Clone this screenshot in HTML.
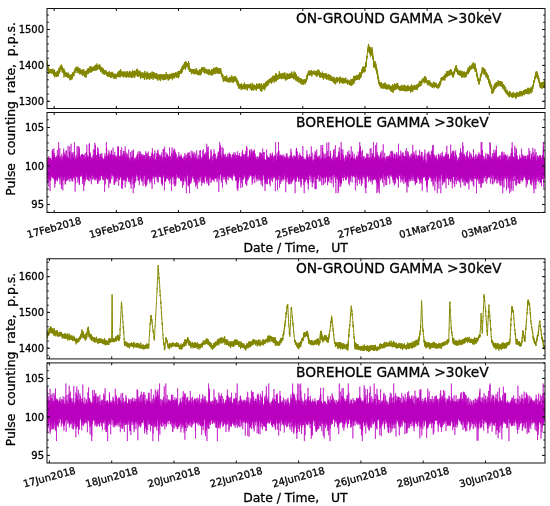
<!DOCTYPE html>
<html><head><meta charset="utf-8"><title>Pulse counting rate</title>
<style>html,body{margin:0;padding:0;background:#fff;}body{width:550px;height:506px;overflow:hidden;}svg{display:block;}text{white-space:pre;}</style>
</head><body>
<svg width="550" height="506" viewBox="0 0 550 506" font-family="'DejaVu Sans', 'Liberation Sans', sans-serif"><style>text{stroke:#000;stroke-width:.3px;fill:#000}</style><rect width="550" height="506" fill="#fff"/><clipPath id="c1"><rect x="47.0" y="8.5" width="498.0" height="100.0"/></clipPath><clipPath id="c2"><rect x="47.0" y="112.5" width="498.0" height="100.0"/></clipPath><clipPath id="c3"><rect x="47.0" y="258.75" width="498.0" height="100.14999999999998"/></clipPath><clipPath id="c4"><rect x="47.0" y="362.9" width="498.0" height="100.10000000000002"/></clipPath><g clip-path="url(#c1)"><path transform="translate(47.0 0) scale(0.0622578 .1)" d="M0 622l1 7 1-3 1-18 1 29 1-3 1-5 1 22 1 4 1 6 1 3 1 15 1-13 1 16 1 2 1 21 1-8 1-4 1-7 1 10 1 5 1-3 1 25 1-4 1-54 1 13 1 26 1-2 1 10 1 1 1 27 1-45 1 10 1 34 1-19 1 0 1-16 1-16 1 26 1-1 1-19 1 8 1 9 1-12 1 12 1 3 1-1 1-8 1 17 1 4 1-8 1-17 1 23 1-18 1 21 1-29 1 30 1-14 1-18 1 14 1 6 1 3 1-19 1-1 1 19 1-9 1 10 1 8 1-36 1 29 1 15 1-23 1-8 1 24 1-7 1 10 1-19 1-17 1 21 1-5 1 19 1-9 1-28 1 7 1 32 1-3 1-20 1 10 1 7 1 1 1 6 1-9 1-5 1-2 1 21 1-51 1 33 1 3 1-22 1 28 1-15 1 24 1-15 1 13 1 9 1-13 1-19 1-9 1 51 1-28 1-9 1 13 1-4 1 16 1-12 1 0 1-10 1 18 1-22 1 26 1 13 1-45 1-14 1 47 1 29 1-52 1-3 1 27 1-20 1 5 1 3 1 13 1-13 1 11 1-7 1-9 1 8 1-9 1 15 1-16 1 1 1 37 1-21 1 0 1 9 1-13 1 3 1 10 1-2 1-20 1 29 1-20 1-6 1 2 1 7 1 28 1-41 1 18 1-33 1 29 1 12 1-17 1-6 1 11 1 6 1-1 1 18 1-26 1-12 1 6 1 0 1 1 1-2 1 2 1-27 1 34 1-20 1-10 1 25 1 9 1-12 1-6 1-16 1 51 1-27 1-29 1 4 1 11 1-24 1 24 1-10 1 23 1-4 1-53 1 37 1-25 1 37 1-15 1 4 1-25 1 40 1 2 1-47 1 19 1-17 1 8 1-20 1 45 1-44 1 8 1 11 1-19 1 4 1-6 1 5 1-18 1 10 1 2 1-4 1 4 1-7 1 15 1-19 1 2 1-8 1 3 1-10 1 30 1-25 1 7 1 19 1 2 1-11 1-25 1 41 1-1 1-26 1 37 1-23 1-6 1 22 1-3 1 7 1-29 1 59 1-39 1-15 1 38 1-15 1 13 1-10 1 6 1 7 1-16 1 26 1-19 1-5 1 17 1 8 1-10 1-10 1 27 1-40 1 14 1 20 1-23 1 25 1-1 1 17 1-31 1 6 1 17 1-48 1 90 1-58 1 0 1 27 1-15 1-28 1 41 1 4 1-21 1 3 1 13 1-22 1 22 1-3 1-14 1-11 1 20 1-10 1 30 1-13 1 11 1-10 1 2 1-15 1 23 1 17 1-31 1-4 1 7 1-4 1-3 1 13 1-6 1 26 1-21 1 6 1 9 1-17 1 25 1-29 1-2 1 7 1 4 1-18 1 20 1-23 1 44 1-21 1-7 1-4 1 8 1 3 1-11 1 2 1 11 1-5 1 22 1 3 1-16 1 7 1-25 1 28 1-9 1 8 1 17 1-56 1 37 1-19 1 25 1-28 1 13 1 10 1 7 1-8 1-12 1 4 1 21 1-12 1-25 1 38 1-6 1 7 1-17 1 17 1-27 1 24 1-15 1 18 1 5 1-26 1 11 1 2 1 17 1-6 1-29 1 26 1 4 1 22 1-57 1 17 1 29 1-40 1 3 1 26 1 8 1-25 1 18 1-6 1 22 1-23 1 16 1-28 1 11 1 2 1 19 1-9 1-22 1 21 1 1 1-15 1-3 1 0 1-23 1 27 1 0 1-17 1 23 1-33 1 12 1 0 1 36 1-54 1 31 1 4 1-9 1 11 1-33 1-19 1 43 1-29 1 12 1-14 1 32 1-4 1-24 1 23 1-12 1-5 1 2 1-5 1 11 1-5 1-10 1 18 1-24 1 11 1 0 1 13 1-30 1 30 1-24 1-7 1-9 1 16 1-10 1-18 1-3 1 7 1-4 1 24 1 2 1-9 1-10 1-13 1 5 1 11 1 16 1-20 1-20 1 3 1-10 1-6 1 7 1 4 1 23 1-29 1 21 1 6 1-25 1 24 1-14 1-16 1 10 1-3 1-3 1 1 1 5 1 5 1-19 1 13 1-22 1 27 1 6 1-7 1 3 1 5 1-19 1 7 1 12 1 7 1-8 1 32 1-39 1 17 1 4 1-20 1-10 1-5 1 20 1 15 1-12 1-1 1-8 1 14 1-38 1 34 1-2 1-20 1 51 1-50 1 5 1-2 1 34 1-28 1 22 1-1 1-4 1-22 1 11 1 32 1-41 1 7 1 10 1 14 1-8 1 8 1-26 1 29 1-5 1-30 1 45 1 12 1-44 1 12 1 20 1-42 1-7 1 11 1 11 1 0 1 18 1-5 1-22 1 28 1 19 1-9 1-3 1-14 1 15 1-29 1 26 1-12 1 19 1-10 1-23 1 19 1 17 1-35 1 9 1-3 1-11 1 38 1 6 1-8 1-8 1-4 1 5 1-14 1 25 1 3 1-2 1-22 1 10 1-3 1 30 1-24 1-32 1 36 1 24 1-19 1 4 1-13 1-31 1 3 1 9 1 18 1 7 1 7 1-16 1 21 1-20 1-6 1 25 1-28 1-28 1 26 1 18 1-44 1 37 1 1 1-17 1-1 1 16 1-1 1 29 1-14 1-31 1 12 1 25 1 19 1-24 1-1 1 24 1-29 1-5 1-17 1 14 1 43 1-57 1 23 1-22 1 24 1 13 1-18 1 15 1 0 1-4 1 20 1-14 1-18 1-6 1-3 1 20 1-13 1 47 1-14 1-33 1-2 1 30 1-56 1 22 1 21 1-29 1 6 1 1 1 15 1-8 1 3 1 2 1-9 1 16 1-28 1-12 1-5 1 1 1 16 1 23 1-13 1-12 1-8 1 8 1 1 1-3 1-14 1 14 1 22 1-48 1 28 1-28 1 33 1-14 1-20 1 31 1 25 1-26 1 15 1-19 1-31 1 38 1-13 1-16 1 32 1-8 1-12 1 19 1-25 1 21 1-23 1 20 1-24 1 37 1-18 1 16 1-32 1 5 1 18 1-50 1 23 1 29 1-8 1 7 1-18 1 12 1-19 1-9 1-5 1 16 1 0 1-1 1-30 1 10 1 21 1 11 1-13 1-4 1-20 1 61 1-45 1 39 1-1 1-19 1-12 1 10 1-19 1 20 1-4 1 7 1 6 1 11 1-30 1 20 1-26 1-2 1 4 1-6 1 28 1-1 1 5 1-19 1 4 1-12 1-8 1 22 1-3 1-19 1 23 1-33 1 22 1-7 1 2 1-8 1 28 1-5 1 8 1-15 1-21 1 13 1-12 1 23 1 11 1-13 1-14 1 3 1 8 1-24 1 23 1 0 1-11 1 2 1 8 1-14 1-1 1 23 1-8 1 21 1-39 1-12 1 39 1 0 1-25 1-11 1 21 1-26 1 21 1-28 1 29 1-29 1 28 1 26 1-27 1 15 1-21 1-4 1-9 1 37 1-16 1 25 1-43 1 14 1 5 1 19 1 6 1-37 1-8 1-10 1 47 1-22 1-9 1 9 1-39 1 13 1 40 1-8 1-4 1-18 1 24 1 18 1-47 1 19 1-7 1 12 1-6 1-2 1-12 1 13 1-9 1 7 1 1 1 11 1-20 1 4 1 21 1-20 1-1 1 17 1-9 1-2 1 2 1-22 1 27 1 14 1-12 1-32 1 29 1-18 1 11 1 5 1-19 1 39 1-21 1 13 1-2 1 11 1-2 1-39 1 23 1-32 1 25 1 18 1 3 1 6 1-24 1 11 1-3 1 17 1 5 1-28 1 46 1-40 1-4 1 14 1 3 1-3 1-17 1 31 1-20 1 22 1-1 1-37 1 5 1 0 1 19 1-2 1 4 1-15 1 19 1 14 1-38 1 17 1 7 1-4 1 0 1 28 1-6 1-5 1-22 1 43 1-26 1-12 1 4 1-1 1 38 1-27 1-1 1-31 1 42 1-24 1-1 1 26 1-20 1 25 1 4 1-40 1 24 1-19 1 22 1 14 1-32 1 45 1-29 1-12 1 15 1 13 1-30 1 20 1-19 1 36 1-14 1-8 1 21 1-32 1 13 1 31 1-27 1 21 1-16 1-12 1 7 1 5 1-7 1-5 1 1 1-9 1 22 1 4 1 5 1-34 1 35 1-10 1-19 1 21 1 10 1-4 1 3 1 3 1 0 1-12 1-26 1 18 1 14 1-10 1 15 1 2 1-9 1 24 1-37 1 25 1-17 1-4 1 18 1-15 1 19 1-25 1 15 1-10 1 8 1-2 1-9 1 23 1-24 1 4 1 23 1 1 1-3 1-4 1 24 1-43 1 6 1-3 1 24 1-7 1 10 1-1 1-15 1-7 1-2 1 40 1-15 1-5 1-11 1 2 1-2 1 1 1-26 1 29 1-4 1 9 1-1 1 9 1-11 1 10 1-41 1 18 1 36 1-37 1 12 1 12 1-19 1 20 1-27 1-5 1 7 1-4 1 21 1-4 1 9 1-17 1 45 1-33 1 1 1 6 1-8 1-5 1 9 1 11 1-3 1 4 1-19 1-2 1 35 1-28 1 9 1 3 1 9 1-35 1 11 1 1 1 2 1-27 1 30 1-34 1 39 1 4 1 1 1-24 1 29 1-24 1-5 1 4 1 2 1 14 1 9 1-40 1 21 1 20 1-9 1 4 1-27 1 34 1-35 1 25 1 16 1 8 1-19 1 5 1-21 1 2 1 24 1-16 1-2 1-18 1 22 1 8 1-21 1 4 1 31 1-20 1-7 1-12 1 7 1 6 1 24 1-29 1 36 1-41 1 9 1 18 1-16 1-9 1 11 1 9 1-33 1 22 1 2 1-5 1 17 1-20 1 3 1 5 1 11 1-15 1 26 1-38 1 34 1-34 1 11 1 8 1 25 1-18 1-20 1 25 1-23 1-9 1 18 1-6 1 13 1-23 1 14 1 3 1-6 1-5 1-10 1 24 1-12 1 5 1-13 1 5 1-17 1 17 1 10 1-10 1 11 1-9 1 16 1-24 1-23 1 32 1-10 1-13 1 25 1-6 1 2 1-12 1 7 1 1 1 23 1-38 1 10 1 5 1-33 1 2 1 58 1-62 1 37 1-23 1 1 1-20 1 17 1 26 1-34 1 31 1-5 1 26 1-39 1 27 1-7 1-19 1-22 1 50 1-46 1 14 1 21 1 3 1-31 1 13 1-3 1 22 1 21 1-68 1 44 1-57 1 43 1-18 1 49 1-29 1-14 1 4 1-1 1 12 1-5 1 13 1 13 1-13 1-29 1-6 1 13 1 28 1-21 1-5 1 12 1-23 1 4 1 25 1-12 1-2 1 12 1-14 1-1 1 3 1 17 1-9 1-18 1 13 1 15 1 18 1-45 1 22 1-9 1 17 1-6 1 16 1-14 1-16 1 0 1 14 1 0 1 30 1-11 1-42 1 23 1-25 1-4 1 35 1-3 1-23 1 39 1-38 1-2 1 26 1-6 1-5 1 1 1 4 1-5 1 0 1-25 1 8 1 28 1-18 1 18 1 10 1-23 1 9 1 26 1-20 1 17 1-5 1-11 1-12 1-10 1-4 1 23 1 0 1-9 1 14 1-20 1 24 1-15 1-1 1 1 1-2 1 37 1-58 1 26 1 15 1-8 1-14 1 29 1-40 1-3 1 27 1-29 1-13 1 46 1-1 1-1 1-17 1 10 1-16 1 38 1-13 1-1 1-38 1 39 1 10 1-4 1-6 1-11 1-5 1 14 1-3 1-2 1-8 1 28 1-40 1 16 1-7 1 23 1 5 1-2 1-7 1-31 1 50 1-22 1-9 1 2 1-5 1 11 1-2 1-9 1-31 1 36 1 7 1 1 1-10 1 9 1 8 1-21 1 28 1-49 1 10 1 5 1-22 1 21 1 32 1 0 1-16 1 23 1-21 1-11 1 10 1-5 1 12 1-32 1 36 1-22 1 19 1-35 1 16 1 7 1 12 1-31 1 42 1-17 1-15 1 25 1-16 1 15 1 17 1-23 1-19 1 1 1 15 1-5 1-17 1 3 1 19 1 25 1-74 1 50 1-14 1 14 1 1 1-12 1-16 1-6 1-8 1 47 1-22 1-5 1 4 1-17 1 25 1 16 1-3 1-42 1 45 1-33 1-18 1 10 1 4 1 15 1-16 1-8 1 19 1 34 1-41 1 18 1-6 1 40 1-71 1 47 1-38 1 11 1 7 1 44 1-55 1-18 1 51 1-34 1 9 1 3 1 2 1-4 1 6 1 2 1 8 1-21 1-6 1-5 1 27 1-11 1 10 1-1 1 19 1-24 1 8 1-32 1 2 1 12 1-15 1 32 1-34 1 23 1-42 1 22 1 13 1 1 1-26 1 32 1 15 1-6 1-21 1 1 1-10 1 31 1 14 1-33 1-19 1 32 1 8 1-57 1 48 1 35 1-23 1-4 1-2 1 11 1-34 1 2 1 22 1-19 1 16 1-36 1 45 1 2 1-13 1 2 1 25 1-46 1 3 1-3 1 12 1-10 1 18 1-11 1-14 1-2 1 48 1-22 1-2 1 4 1-1 1 14 1-3 1-19 1-4 1-5 1-2 1 46 1-40 1-19 1 21 1 1 1 19 1-21 1 25 1-2 1 16 1 16 1 9 1-23 1-44 1 13 1 12 1 32 1-24 1 10 1-24 1 13 1 3 1-21 1 22 1 6 1-22 1 21 1 11 1-27 1-1 1-6 1-5 1 14 1-10 1 2 1-8 1-14 1 11 1 22 1-26 1 9 1 41 1-9 1-32 1 23 1-22 1 40 1-39 1 12 1 23 1-39 1 38 1-37 1 18 1-9 1 4 1 4 1-4 1-16 1 33 1-3 1 10 1 2 1-47 1 45 1 0 1-31 1 27 1 8 1-35 1-14 1 18 1 52 1-42 1-25 1 17 1-13 1 11 1 8 1-45 1 50 1 17 1-27 1-3 1 25 1-39 1 0 1-2 1 21 1 9 1-8 1 11 1 4 1-5 1-22 1 10 1 25 1-38 1 13 1-3 1 4 1-14 1-5 1 65 1-27 1-27 1 11 1 12 1-16 1 15 1-20 1 5 1 4 1-6 1-32 1 40 1 4 1 4 1-24 1 22 1-2 1-32 1-7 1 43 1-23 1 32 1 18 1-43 1-2 1 11 1 11 1-29 1 38 1-4 1-5 1-19 1 23 1-1 1-33 1 53 1-38 1 10 1-14 1 14 1 13 1-32 1-13 1 19 1-14 1 9 1 10 1 1 1 22 1-37 1 22 1-14 1 30 1 19 1-36 1 22 1-36 1-17 1 5 1-5 1 10 1 12 1 22 1-7 1-4 1-15 1-4 1 12 1 2 1 2 1 1 1-8 1-30 1 14 1 5 1 41 1-35 1 18 1 13 1-18 1-13 1 2 1-12 1 22 1 14 1-10 1 4 1-1 1 21 1-44 1 13 1 10 1 9 1-62 1 32 1 5 1-14 1 32 1-11 1-10 1-21 1 5 1 6 1 24 1-29 1-14 1 10 1 15 1 39 1 14 1-51 1 24 1 8 1-2 1-24 1-20 1 14 1-24 1 36 1 9 1-46 1 32 1 6 1 16 1 3 1-10 1-26 1 5 1 28 1-32 1 10 1 28 1-25 1-26 1 19 1 16 1-14 1 24 1 2 1-34 1 3 1 7 1-19 1 28 1-10 1 17 1-23 1-5 1 47 1-47 1 5 1-2 1 8 1-11 1 15 1-11 1 5 1 14 1 6 1-4 1-20 1 19 1-9 1 1 1-28 1 41 1-13 1 31 1-18 1-29 1-5 1 43 1-34 1 27 1-17 1 41 1-34 1 24 1-3 1-30 1 3 1 30 1-24 1-15 1 35 1 23 1-43 1 24 1-26 1 25 1-26 1 26 1-12 1-12 1 7 1-13 1-9 1 1 1 17 1-16 1 24 1 2 1-1 1-15 1 9 1-1 1 22 1-35 1 7 1 3 1 2 1-10 1 2 1 27 1-27 1 26 1 18 1-12 1-50 1 42 1-5 1 1 1-34 1 38 1-29 1 38 1-3 1 23 1-46 1-18 1 41 1-3 1-20 1 28 1-11 1-31 1 15 1-2 1 5 1 5 1-14 1 8 1 12 1-10 1-3 1-1 1 3 1-29 1 33 1-19 1 18 1-25 1 38 1-11 1-25 1 25 1-16 1 41 1-21 1-21 1 16 1-4 1 20 1-14 1 3 1-26 1 30 1 21 1-23 1-11 1 3 1-18 1 18 1-20 1 18 1-7 1-7 1 22 1-33 1 23 1-20 1 50 1 2 1-18 1 17 1-21 1-1 1-16 1-7 1 16 1-11 1 2 1 19 1-14 1-23 1 21 1-9 1 8 1-13 1 37 1 11 1-49 1 29 1-1 1-27 1 19 1 21 1-10 1 13 1-45 1 7 1 16 1 1 1-5 1-7 1 0 1-4 1 17 1-51 1 70 1-35 1-14 1 31 1-31 1 29 1-13 1 16 1 3 1 8 1-29 1 3 1 5 1-23 1 32 1-7 1-24 1 41 1 3 1-44 1 31 1 10 1-6 1-30 1-6 1 20 1-6 1 8 1-2 1 10 1-17 1 6 1 45 1-45 1 14 1-7 1-1 1-18 1 23 1-10 1 14 1 20 1-30 1 9 1-29 1 18 1 23 1-25 1-10 1 14 1-7 1-1 1-2 1 38 1-46 1 7 1-2 1 29 1-25 1 26 1-19 1-3 1-23 1 43 1-11 1-2 1-9 1-5 1-13 1 35 1-11 1-10 1-4 1 12 1-4 1 28 1-14 1-22 1-8 1 14 1-11 1 15 1 6 1 3 1-3 1-10 1 13 1-24 1 13 1 14 1-9 1-25 1 2 1-7 1 54 1-53 1 22 1 32 1-13 1 4 1-29 1 20 1 30 1-43 1 8 1-12 1 5 1 6 1 16 1-37 1-8 1 23 1 3 1 19 1-11 1-22 1 19 1 9 1-13 1-10 1 15 1-16 1-24 1 50 1-41 1 14 1 1 1-1 1 1 1-19 1 31 1-8 1 0 1 16 1 0 1 4 1 8 1-23 1-31 1 27 1-3 1 0 1-10 1-5 1 26 1 3 1-33 1 26 1-12 1-3 1 16 1-12 1-8 1 10 1-33 1 22 1 2 1-15 1 25 1 1 1-14 1 6 1 14 1 5 1-29 1 18 1 10 1-17 1-12 1 0 1 7 1-11 1 48 1-42 1 15 1-3 1 7 1-16 1-15 1 46 1-27 1 3 1 1 1 16 1-8 1 7 1-6 1-11 1 1 1-16 1-19 1 27 1-13 1 57 1-16 1-7 1-27 1 41 1-60 1 8 1 7 1-3 1 17 1 0 1 27 1-14 1 3 1-13 1-9 1-9 1-13 1 10 1 7 1 17 1-39 1 4 1 24 1-21 1 20 1-12 1-7 1-10 1 19 1-11 1 1 1-2 1 12 1-2 1-29 1 22 1 8 1 9 1-5 1-10 1-22 1 5 1 25 1-26 1 26 1 2 1-36 1 22 1-10 1 31 1-19 1-21 1 13 1-21 1 11 1 4 1-2 1 1 1-19 1-15 1 21 1-9 1 2 1 41 1-15 1-21 1-19 1 1 1 23 1 9 1-21 1 6 1 0 1 11 1-44 1 29 1 2 1 7 1-9 1-22 1 6 1-14 1 23 1-1 1 4 1-22 1-4 1 37 1-20 1 21 1-19 1-28 1 32 1 6 1-25 1-22 1 37 1-12 1 6 1-45 1 47 1-48 1 27 1 26 1-42 1-1 1 21 1 32 1-1 1-35 1 25 1-7 1-5 1 1 1-18 1 24 1 4 1 26 1-29 1-56 1 20 1 25 1-5 1-33 1 29 1-5 1 5 1-2 1 18 1 9 1-14 1-32 1 4 1 4 1 11 1-6 1 1 1-10 1 33 1-1 1 2 1-18 1 10 1-24 1-2 1 9 1 20 1-13 1-17 1 22 1 6 1-5 1-14 1 13 1-8 1 2 1 4 1 15 1 19 1-4 1-16 1-18 1 1 1 3 1 27 1-66 1 54 1-37 1 36 1 24 1-36 1-21 1 62 1 5 1-15 1 14 1-31 1 33 1 10 1-15 1-3 1 17 1-1 1-26 1 33 1-7 1-7 1 18 1-3 1-1 1-16 1 21 1-26 1 15 1-21 1 0 1 30 1-8 1 3 1 7 1-3 1-18 1 14 1-2 1-6 1 6 1-4 1-4 1 5 1 8 1 27 1-42 1 20 1-29 1 44 1-27 1 7 1 16 1-4 1-36 1 30 1-11 1 12 1-6 1 8 1-6 1-6 1 19 1-40 1 17 1-8 1 12 1-4 1 4 1-5 1 1 1-18 1 25 1 5 1-14 1 0 1 0 1 35 1-22 1 3 1-10 1-3 1-6 1 37 1-49 1 30 1-5 1-3 1-20 1 5 1 34 1-25 1 24 1-3 1-1 1 3 1-31 1 12 1 18 1-30 1 45 1-34 1 8 1-15 1 22 1-18 1 8 1-14 1 37 1-44 1 33 1-4 1 4 1-23 1 33 1-1 1-13 1 3 1-8 1 13 1-23 1 22 1-2 1-29 1-19 1 40 1 0 1 22 1-19 1-8 1-14 1 20 1-7 1-8 1 15 1 19 1-15 1-18 1 22 1-22 1-8 1 33 1-16 1 26 1-12 1-18 1 17 1 17 1-23 1-14 1 6 1-2 1-5 1-2 1 27 1 11 1-23 1 18 1 3 1 12 1-29 1-3 1 12 1-4 1 3 1 16 1-27 1 10 1-19 1 13 1-8 1-1 1 9 1-4 1 14 1 7 1-37 1 40 1-51 1 39 1 8 1-21 1 6 1-8 1 26 1-56 1 27 1-15 1 34 1 18 1-2 1-8 1-7 1-18 1 30 1-11 1-25 1-8 1 9 1 24 1 1 1 4 1-38 1 5 1 25 1-19 1 6 1-33 1 13 1 4 1-7 1-2 1-20 1 47 1-24 1-25 1 36 1-16 1 7 1-14 1-10 1-1 1 14 1 6 1-3 1 2 1 9 1-13 1 11 1 2 1-11 1-5 1-4 1-10 1-5 1 41 1-18 1-7 1 30 1-8 1-12 1 14 1-16 1 8 1 21 1-10 1-18 1 14 1 7 1-18 1-3 1 32 1-29 1-14 1 21 1 30 1-22 1 5 1-43 1 23 1 25 1-22 1 25 1-11 1-1 1 19 1-30 1 1 1 8 1 2 1-26 1 41 1-13 1-5 1 11 1-14 1 23 1-16 1 9 1-22 1 9 1 9 1-18 1 4 1 9 1 16 1-4 1 2 1-8 1 8 1 10 1-19 1 4 1 2 1-36 1 27 1 7 1 5 1-15 1 19 1-23 1 7 1 26 1-42 1 18 1-1 1 1 1-6 1 17 1-24 1-3 1 25 1-23 1 22 1-4 1-10 1 5 1 4 1 7 1-14 1 6 1-17 1 16 1-23 1 27 1-6 1 36 1-11 1-20 1 16 1-9 1-20 1-18 1 50 1-10 1-33 1 37 1 4 1-22 1 21 1-36 1 22 1 4 1 10 1-5 1-2 1 5 1-17 1 30 1-25 1 16 1-11 1-3 1 12 1-2 1 13 1-5 1-23 1 15 1-7 1-13 1-5 1 20 1-12 1-13 1 18 1 5 1-2 1-20 1 9 1 29 1-33 1 6 1 40 1-30 1-14 1-23 1 35 1-27 1 21 1-13 1-14 1 53 1-29 1 17 1-4 1-24 1 13 1-8 1 22 1-9 1-14 1 33 1-19 1-1 1-21 1 19 1-32 1 33 1-25 1 19 1-8 1 8 1 2 1-8 1 0 1-25 1-8 1 55 1-12 1-37 1 60 1-47 1 21 1-2 1-6 1 9 1-36 1 24 1-5 1 6 1-7 1-7 1-2 1 30 1-33 1 22 1 0 1-9 1 9 1 2 1-20 1 16 1 30 1-58 1 14 1-9 1 54 1-66 1 28 1 18 1-34 1 14 1-11 1-12 1 25 1 11 1-17 1 11 1 10 1 10 1-46 1 35 1-22 1-24 1 21 1 27 1-6 1-26 1 50 1-22 1-8 1-9 1 18 1-14 1 28 1-15 1 6 1-17 1-21 1 37 1-28 1 17 1 2 1-14 1 30 1-41 1 52 1-36 1 27 1 6 1-37 1 2 1 30 1-13 1-2 1-32 1 3 1 38 1 15 1-36 1-2 1 18 1 4 1 2 1-16 1-25 1 57 1-32 1 29 1-54 1 40 1-14 1-10 1 34 1 6 1-31 1 20 1-27 1 7 1 7 1-2 1 16 1-29 1 35 1 0 1-18 1-15 1-18 1 38 1-9 1 15 1-16 1 18 1 1 1 3 1 6 1 1 1 12 1-25 1 25 1-7 1-7 1-7 1 39 1-17 1-9 1 10 1 1 1-6 1-11 1 25 1-3 1 0 1 20 1-32 1 7 1 18 1 12 1-2 1 4 1-41 1 41 1 0 1 6 1-18 1 19 1 9 1 10 1-18 1-21 1 19 1 9 1-2 1 19 1-29 1-12 1 6 1 18 1-21 1-3 1 3 1 29 1-14 1-8 1 17 1-3 1-23 1 25 1-8 1-32 1 12 1 20 1 3 1-10 1-10 1 17 1-29 1 33 1-9 1 1 1-8 1 20 1-44 1 21 1 20 1-18 1 30 1-14 1-17 1 26 1-16 1 9 1-17 1 1 1 18 1-9 1-12 1-1 1 21 1 16 1-37 1 22 1-49 1 20 1 29 1 12 1-21 1 7 1-4 1 10 1-29 1 24 1-15 1 1 1 5 1-3 1-8 1 8 1-10 1 34 1-11 1-16 1 28 1-4 1-11 1-14 1 11 1 4 1 12 1-22 1-6 1 40 1-12 1-16 1-17 1 20 1 9 1-6 1 1 1-11 1 16 1-25 1 3 1-1 1-2 1 36 1-51 1 27 1-17 1-4 1 19 1-24 1 21 1 33 1-34 1 8 1-18 1 19 1-28 1 23 1-4 1 32 1-32 1-4 1-3 1-9 1 28 1 9 1-25 1 15 1-15 1 10 1 1 1-27 1 10 1 24 1-40 1 27 1-5 1-9 1 14 1 4 1 3 1-45 1 61 1-31 1 22 1-17 1-6 1 7 1 39 1-16 1-27 1 8 1 12 1-7 1-7 1-4 1-13 1 26 1 5 1 16 1-40 1 17 1-10 1 19 1-20 1-7 1-15 1 34 1-8 1 14 1-24 1 44 1-47 1 18 1-2 1 10 1-18 1-11 1-1 1 26 1-10 1 3 1-17 1 14 1 1 1 5 1-29 1 10 1 35 1-30 1 4 1-4 1-16 1 6 1 21 1-15 1 38 1-50 1-6 1 22 1-12 1 37 1-26 1 13 1-27 1 29 1 0 1 8 1-14 1 4 1-5 1 12 1-18 1 16 1-14 1 20 1-12 1-4 1 2 1 31 1-40 1 3 1 31 1-21 1 9 1 2 1 39 1-38 1 1 1 6 1 11 1 5 1-24 1 27 1 21 1-47 1 33 1 4 1-6 1-3 1-26 1 48 1-18 1 3 1 20 1-43 1 30 1 10 1 4 1 0 1 20 1-20 1 10 1-1 1-26 1 9 1 35 1-29 1 2 1-15 1 12 1-12 1 8 1 15 1-17 1 2 1 25 1-11 1 1 1 6 1-20 1 2 1-22 1 36 1-12 1 3 1-14 1 22 1 0 1-6 1-23 1 10 1 11 1-11 1 16 1 8 1-23 1 8 1-7 1 23 1-2 1 24 1-36 1-13 1 19 1-9 1 6 1 14 1-21 1 14 1-40 1 45 1-13 1-5 1-4 1 27 1-27 1 25 1-25 1 8 1 4 1 24 1-25 1 0 1-5 1-3 1-5 1 36 1-5 1-32 1 13 1-20 1 31 1-4 1-8 1-14 1 24 1-3 1-11 1 13 1-31 1 11 1-5 1 16 1 24 1-25 1 17 1-18 1-6 1 22 1-7 1 13 1-7 1-27 1-28 1 42 1-20 1-4 1-1 1 13 1 7 1 3 1 33 1-52 1 19 1-20 1 4 1 17 1 6 1-27 1 39 1-34 1 31 1-17 1 16 1-6 1-13 1 12 1-29 1 1 1 15 1 27 1-33 1 2 1 36 1-26 1 0 1-17 1 18 1 8 1-10 1 13 1-7 1 11 1-3 1-15 1 16 1 14 1-23 1-24 1 22 1-6 1 43 1-28 1-29 1 14 1 26 1-40 1 10 1 7 1-2 1-7 1 11 1-23 1 13 1-1 1 5 1 0 1 5 1-6 1-1 1 12 1 8 1 1 1-32 1 21 1 8 1-15 1 11 1-10 1 9 1-29 1 30 1-14 1-4 1 7 1 19 1-1 1-10 1 9 1-19 1-12 1-9 1 27 1-2 1 3 1 0 1 17 1-31 1 2 1 39 1-16 1-16 1-25 1 17 1 7 1 4 1 4 1-6 1 20 1-33 1 13 1-6 1 21 1-9 1 9 1-10 1 38 1-29 1-21 1 11 1-6 1 17 1 3 1-9 1-7 1-7 1 32 1-7 1-54 1 39 1-13 1 7 1 29 1-40 1 1 1 50 1-41 1 3 1 20 1-24 1 8 1 3 1 16 1-42 1 11 1 10 1 14 1-22 1 16 1-14 1 2 1 24 1-22 1 42 1-33 1 10 1-5 1-33 1 1 1 28 1-22 1 8 1 3 1-8 1 29 1-5 1-9 1 5 1-20 1 25 1-25 1 35 1-32 1 2 1 24 1-7 1-23 1 22 1-9 1 1 1 8 1 0 1 6 1-8 1-2 1-6 1 23 1-33 1 39 1 3 1 0 1-32 1 31 1-13 1-1 1 23 1-36 1 6 1-26 1-14 1 36 1 2 1 4 1-6 1-33 1 34 1 11 1 6 1-36 1 1 1 3 1 1 1-14 1 13 1 32 1-37 1-12 1 23 1-4 1 17 1-20 1 8 1-9 1-2 1 19 1-3 1-3 1 9 1-19 1 12 1 3 1 14 1-45 1 23 1 12 1-15 1 10 1 8 1-3 1-32 1 8 1-22 1 49 1-6 1 17 1-19 1-18 1 33 1-35 1 20 1-3 1 14 1 3 1-20 1-5 1 11 1-8 1 23 1-9 1 16 1 18 1-52 1 4 1 16 1-1 1-11 1-21 1 65 1-37 1-19 1-19 1 58 1-16 1-5 1-16 1 15 1-4 1-33 1 80 1-34 1-12 1-10 1 6 1 47 1-31 1-27 1 35 1-6 1 0 1-10 1-1 1 7 1-7 1-19 1 7 1 16 1-26 1 24 1-3 1 17 1-9 1-7 1-1 1 11 1 8 1-33 1-8 1 12 1-25 1 24 1 25 1 1 1 8 1-23 1 1 1-13 1 1 1 12 1 9 1-8 1-39 1 39 1-8 1-10 1 11 1 11 1-13 1-14 1 53 1-52 1 16 1 12 1-34 1 22 1-22 1 8 1-8 1 38 1-49 1 29 1-8 1-32 1 56 1-35 1 4 1 6 1-17 1 1 1 11 1-13 1 14 1 17 1-35 1-9 1 21 1 7 1 4 1-27 1-19 1 47 1-3 1 11 1-37 1 22 1 6 1-42 1 42 1 4 1-13 1-1 1 3 1-16 1-17 1 7 1 10 1-10 1 26 1-21 1 4 1-25 1 31 1-17 1 31 1-46 1 28 1-10 1 0 1 29 1-11 1-27 1 32 1-30 1 20 1-37 1 20 1 0 1-1 1-19 1-5 1 27 1 8 1-8 1-6 1-18 1 18 1-5 1-3 1 13 1-1 1 3 1-10 1-9 1 9 1-3 1-20 1 19 1-20 1-5 1 16 1 2 1 20 1-16 1 12 1 13 1-20 1 3 1-16 1 22 1-12 1 0 1-19 1 3 1 3 1 11 1 15 1-40 1 17 1 0 1 39 1-38 1-6 1 19 1-29 1 25 1-35 1 57 1-33 1-6 1-14 1 17 1 3 1-13 1 29 1-24 1 6 1 3 1 16 1-28 1 7 1 3 1 4 1-39 1 47 1-21 1-10 1 11 1-31 1 18 1 15 1 19 1-23 1 7 1-11 1 18 1-21 1 14 1-13 1-11 1 0 1 5 1 29 1 25 1-48 1-9 1 21 1-1 1-17 1 39 1-17 1 1 1-15 1 1 1 14 1-39 1 9 1 15 1-26 1 51 1-38 1 3 1 12 1 19 1-26 1-12 1-3 1 19 1-14 1 49 1-19 1-66 1 29 1 22 1 32 1-73 1 26 1 28 1-32 1 12 1-10 1 20 1-30 1 18 1-25 1 41 1-7 1-11 1 1 1 0 1-7 1 8 1 4 1-8 1-9 1 2 1-1 1 16 1-6 1 31 1-37 1 4 1-12 1 12 1-10 1-7 1 17 1 25 1-43 1 3 1 11 1 4 1 18 1-34 1 9 1-12 1-2 1 7 1-12 1 27 1 11 1-28 1-4 1 36 1-28 1 30 1-74 1 44 1-15 1 8 1 24 1 5 1-22 1 20 1-37 1 25 1-7 1-28 1 46 1-27 1 19 1-21 1 17 1 8 1-11 1-8 1 19 1-7 1-11 1 8 1-2 1-4 1 21 1 15 1-39 1 7 1-14 1-7 1 43 1-31 1 17 1-29 1 13 1 19 1 0 1-4 1 3 1-3 1 13 1 12 1-19 1-11 1-16 1 10 1 2 1 30 1-50 1 13 1-4 1 32 1-26 1-19 1-4 1 40 1-33 1 46 1 0 1-37 1 13 1 6 1-25 1 5 1 10 1 10 1 5 1-36 1 35 1-5 1-3 1-3 1 25 1 9 1-33 1 4 1-23 1 20 1 18 1-13 1 7 1-7 1 3 1 10 1 2 1-44 1 28 1-40 1 44 1-9 1-1 1 35 1-19 1 12 1-8 1 18 1-31 1 0 1 2 1 41 1-46 1 8 1 21 1-7 1-22 1 35 1-20 1 15 1-14 1 3 1-24 1 34 1-34 1 12 1 16 1-23 1 7 1-1 1 2 1 6 1-33 1 15 1 41 1-64 1 21 1 23 1-42 1 15 1 1 1 38 1-39 1 23 1-20 1 10 1-18 1-6 1 16 1-15 1 19 1 5 1 4 1 18 1-2 1-40 1 5 1 39 1-28 1-5 1 23 1-27 1 24 1-20 1 26 1-23 1 15 1 4 1 8 1-38 1 6 1-17 1-5 1 20 1 10 1 17 1-26 1 37 1-28 1 11 1-19 1-16 1 46 1-31 1 23 1-24 1 15 1-12 1-3 1 3 1 13 1-31 1 4 1 31 1-27 1 14 1-25 1 18 1 22 1-17 1 2 1-9 1 8 1-31 1 2 1 34 1-36 1 51 1-8 1-33 1-17 1-4 1 45 1-6 1 24 1-15 1 18 1-11 1-30 1 13 1-11 1 8 1-3 1 5 1 27 1-32 1-11 1 9 1 3 1-2 1 7 1-4 1 26 1-3 1-29 1 30 1 8 1-24 1-15 1 22 1-9 1 8 1-24 1 54 1-39 1 12 1-19 1 13 1-43 1 18 1-21 1 61 1-42 1-3 1 48 1-29 1 6 1 22 1-10 1-3 1 7 1-46 1 58 1 1 1 10 1-69 1 23 1 5 1 40 1-19 1 21 1-22 1-18 1-11 1 13 1 34 1-37 1-16 1 36 1 19 1 18 1-19 1-4 1-46 1 24 1 1 1 9 1-17 1 29 1 8 1-19 1-6 1 9 1 3 1 8 1-27 1 38 1-22 1-3 1 14 1-21 1 25 1 21 1-27 1-3 1-10 1 32 1-6 1-40 1 39 1-25 1-7 1 17 1-8 1 28 1-36 1 0 1 5 1 13 1 12 1-25 1 6 1-12 1 21 1-12 1 48 1-3 1-42 1 17 1 4 1-13 1 3 1 15 1-12 1 0 1 4 1 19 1-21 1 10 1-2 1 7 1-12 1-4 1-2 1 13 1-1 1-5 1 7 1 30 1-22 1-36 1 44 1-16 1-16 1 34 1-20 1 16 1-23 1 24 1-18 1 17 1-2 1-27 1 22 1 2 1-7 1-24 1 29 1-8 1 21 1-31 1 29 1-12 1 34 1-49 1 28 1-20 1-6 1 28 1-6 1 6 1-35 1 6 1 24 1-19 1 30 1 5 1-24 1 2 1 0 1-3 1 3 1-2 1 9 1-10 1-2 1 3 1-3 1 7 1 8 1 19 1-49 1 3 1 17 1 1 1-2 1 25 1-50 1 22 1-15 1 12 1 11 1-27 1 33 1-26 1-3 1-9 1 13 1-1 1 20 1-32 1 23 1 8 1-15 1 13 1-20 1 14 1-10 1 33 1-34 1 0 1 9 1-13 1 4 1 7 1 6 1-20 1 8 1-3 1 11 1 1 1-6 1-3 1 18 1-38 1 32 1-18 1-30 1 20 1-23 1 15 1-28 1 35 1-23 1 31 1-34 1 8 1-21 1 14 1 0 1 4 1 25 1-14 1-14 1-17 1-2 1-2 1-10 1 19 1-12 1 5 1-12 1 6 1 16 1-21 1 6 1-25 1 10 1-3 1 12 1-3 1-13 1 14 1-2 1-23 1 21 1 16 1-28 1 27 1-5 1-7 1 4 1-17 1 21 1-29 1 4 1 23 1-23 1 43 1-23 1 8 1 1 1-18 1 5 1 6 1-6 1 22 1-8 1-11 1 15 1-16 1 9 1-8 1-6 1-9 1 3 1 11 1 5 1-35 1 23 1 14 1-10 1-13 1 2 1 36 1-44 1 17 1 15 1-37 1 35 1-29 1 34 1 22 1-52 1 16 1 6 1-13 1 15 1-17 1 3 1-4 1 11 1 7 1 6 1-14 1-13 1 8 1 0 1 1 1 14 1-10 1 3 1 0 1-2 1-5 1 16 1-11 1 0 1-14 1 6 1 1 1 16 1-31 1 33 1-8 1-11 1-2 1 18 1-3 1-30 1 17 1-3 1 12 1-8 1 15 1-13 1 3 1 21 1-20 1-4 1 8 1-19 1-4 1 22 1-8 1-12 1 33 1-3 1-6 1-11 1 5 1-6 1 21 1-33 1 24 1-3 1-16 1 25 1-14 1 32 1-10 1-18 1-4 1-5 1 0 1 15 1-26 1 35 1-3 1-13 1 13 1 23 1-29 1 21 1-30 1-4 1 24 1-44 1 43 1-14 1-7 1 8 1 1 1 17 1-6 1-10 1-6 1-11 1 17 1-42 1 54 1-14 1-26 1 35 1-22 1 6 1-20 1 17 1 14 1-4 1 6 1-15 1 20 1-31 1 14 1-32 1 36 1-3 1 5 1 12 1 12 1-38 1 15 1-26 1 58 1-8 1-13 1 12 1-5 1-23 1 21 1 7 1-5 1-13 1-5 1 43 1-32 1 4 1-29 1 32 1-6 1-17 1 33 1-20 1 11 1-3 1-17 1 15 1 17 1-38 1 1 1 2 1 26 1-18 1 12 1 13 1-35 1 40 1-21 1-3 1 26 1-16 1-27 1 19 1-10 1 16 1-11 1 2 1 20 1-40 1 30 1-7 1 8 1-41 1 22 1 9 1 32 1-45 1 3 1 14 1 8 1-14 1 11 1-26 1 51 1-31 1 8 1 39 1-49 1-11 1 4 1 41 1-28 1-9 1 12 1-1 1 17 1-5 1-5 1 2 1-19 1-7 1 25 1 2 1-5 1 2 1 5 1-26 1 12 1-8 1-15 1 36 1-11 1 9 1 4 1-23 1 36 1-18 1 11 1 10 1-32 1-2 1 12 1 14 1 0 1-45 1 50 1-27 1 13 1-26 1 7 1 18 1-31 1 37 1-19 1 12 1-2 1-10 1 27 1 15 1-25 1-33 1 26 1-4 1 16 1-12 1 29 1-20 1-1 1-13 1-8 1 12 1 4 1 4 1-4 1-7 1 5 1-7 1-7 1 2 1 19 1 3 1-13 1 1 1 10 1-9 1 38 1-35 1-8 1-18 1 28 1 11 1-14 1 17 1-24 1 6 1-1 1-7 1-10 1 8 1-12 1 36 1-12 1 1 1-6 1 21 1-23 1 34 1-8 1-23 1 7 1 12 1 8 1-26 1 4 1 41 1-21 1 0 1 14 1-19 1-12 1-16 1 35 1-26 1 24 1-35 1 21 1 6 1-16 1 10 1-3 1 13 1-18 1 14 1 22 1 1 1 7 1-19 1-11 1 11 1 5 1-5 1 16 1-28 1 7 1-18 1 16 1 23 1-16 1 10 1-4 1 8 1-24 1 19 1 2 1 7 1 4 1-25 1-12 1 11 1 27 1-31 1-5 1 1 1 1 1 28 1-20 1 3 1 24 1-2 1-1 1-21 1-13 1 29 1 19 1-28 1 2 1-33 1 61 1-26 1-21 1 24 1-7 1 17 1 21 1-40 1 14 1-7 1-4 1 16 1 14 1-15 1-12 1 13 1-4 1 8 1-19 1 9 1 21 1-23 1 14 1-14 1 1 1-12 1 48 1-21 1 0 1-1 1-30 1 3 1 8 1-21 1 11 1 24 1-42 1 17 1 12 1 0 1 0 1-10 1 24 1-47 1 39 1-28 1 12 1 9 1 24 1-36 1-8 1 35 1-16 1 1 1 8 1 7 1-13 1-33 1 28 1 3 1-18 1 2 1 25 1-6 1-17 1 21 1-6 1-22 1 15 1-15 1 6 1 18 1-23 1-1 1 24 1-21 1 11 1 1 1 1 1 8 1-12 1-6 1 5 1 25 1-4 1-15 1 19 1-8 1-27 1 39 1 18 1-36 1-30 1 48 1-14 1-11 1-30 1 29 1-3 1 0 1-1 1 21 1-21 1 14 1-37 1 15 1 15 1-13 1 14 1-1 1 4 1-8 1 15 1-31 1 15 1 30 1-30 1 31 1-18 1-9 1 5 1 23 1-29 1-12 1 25 1 3 1 3 1-37 1 30 1-5 1-5 1-3 1 15 1-9 1 1 1 32 1-30 1-19 1 4 1 3 1-13 1 41 1 12 1-38 1 24 1-25 1 1 1-17 1 27 1 20 1 0 1-11 1-12 1 23 1 8 1-38 1 16 1-5 1-9 1-8 1 6 1 14 1 3 1-2 1 18 1-30 1-9 1 1 1 25 1-14 1-17 1 39 1 8 1-19 1 7 1-31 1 0 1 25 1 0 1-6 1-1 1-5 1 32 1-35 1 11 1 18 1-31 1 18 1-4 1 12 1-47 1 33 1-7 1 29 1-17 1-7 1 22 1-3 1 6 1 1 1-4 1-21 1 14 1 0 1 2 1 0 1-4 1-7 1 5 1-13 1 1 1 25 1-15 1 6 1-9 1-16 1 19 1 31 1-26 1-9 1 22 1-18 1-2 1-14 1-2 1 33 1-4 1-1 1 10 1-17 1 7 1-13 1 1 1 2 1 26 1-4 1-25 1 10 1 7 1-13 1 23 1-22 1 7 1 0 1-23 1 2 1 14 1 31 1-8 1-2 1-16 1 2 1 9 1 3 1-27 1 12 1-1 1 31 1-29 1-5 1 25 1-20 1 21 1-30 1 43 1-30 1 3 1-7 1 3 1 0 1-5 1 23 1-54 1 16 1 12 1 3 1 24 1-14 1-9 1-13 1 42 1-17 1 25 1-62 1 49 1-29 1-12 1 15 1-1 1-7 1-18 1 17 1-15 1 20 1-22 1 23 1-10 1 21 1-28 1-9 1-1 1 25 1 37 1-63 1 11 1 33 1-14 1 9 1-16 1 3 1-8 1-18 1 20 1-19 1 24 1-51 1 8 1 30 1 3 1 26 1-41 1 21 1-38 1 64 1-77 1 63 1-30 1-23 1 19 1 22 1-17 1-11 1 15 1-3 1 14 1-4 1-19 1-5 1 12 1-3 1 6 1-21 1 18 1-16 1 22 1-5 1-9 1-21 1 42 1-31 1 5 1 6 1 7 1-15 1 0 1-14 1 38 1-25 1 0 1-25 1 23 1 22 1 3 1-33 1 16 1 9 1-32 1 15 1 17 1 6 1-40 1 5 1 34 1-24 1 11 1-24 1 36 1-12 1 15 1-37 1 6 1-11 1-1 1-2 1 23 1-17 1 13 1-11 1 16 1 7 1-1 1 0 1-16 1 13 1-15 1-9 1-7 1 18 1 5 1 20 1-32 1 29 1-47 1 23 1 37 1-42 1-9 1-2 1 50 1-16 1-28 1 1 1-31 1 35 1 26 1-54 1 46 1-7 1 14 1-33 1 12 1 17 1-14 1 3 1-16 1 2 1-7 1 11 1-2 1-5 1-29 1 11 1 20 1 17 1-35 1 4 1 5 1 13 1 9 1-24 1-7 1-15 1 16 1-13 1 5 1-19 1 29 1-26 1-21 1 22 1-20 1 25 1 10 1-15 1-14 1-14 1 4 1 42 1-21 1-37 1-2 1 21 1-7 1-1 1 10 1-28 1 5 1 31 1-10 1-9 1 4 1 12 1-5 1-14 1-7 1 31 1-29 1 49 1-47 1 9 1 25 1 6 1-19 1-36 1 35 1-25 1 22 1 18 1 0 1-8 1 2 1 6 1-12 1 1 1 20 1-10 1 5 1-13 1-3 1 2 1-5 1 10 1-18 1-18 1-3 1-12 1 14 1-18 1-12 1 26 1 9 1-52 1 38 1-16 1-24 1 2 1 5 1 40 1-41 1 19 1-42 1 24 1-9 1-30 1-3 1 14 1-41 1 23 1-27 1 18 1 3 1 0 1-9 1-15 1-11 1-10 1 0 1-1 1-6 1 7 1-19 1-20 1 34 1-29 1-20 1 8 1 5 1-2 1 3 1 25 1-60 1 47 1-24 1-8 1-33 1 36 1 18 1-31 1-8 1 5 1 29 1-1 1 32 1-41 1 27 1-40 1 22 1 28 1-28 1 18 1-37 1 8 1 9 1-12 1 16 1 45 1-38 1 12 1 32 1-35 1-3 1-7 1 40 1-4 1 30 1 2 1-88 1 56 1 33 1-43 1-3 1-31 1 55 1-50 1 28 1-11 1 19 1-20 1 1 1 33 1-23 1 21 1-34 1 48 1-21 1 16 1-10 1-48 1-20 1 75 1-31 1 2 1-8 1 7 1 17 1 12 1-22 1-35 1 58 1 0 1-13 1-7 1 4 1 52 1-29 1 38 1-21 1 25 1-27 1-1 1 24 1-21 1 11 1 36 1 22 1-17 1-25 1 15 1 24 1 0 1 41 1-7 1-34 1 38 1-48 1 1 1 38 1-39 1 9 1 35 1-32 1 29 1-10 1-18 1 18 1 9 1-5 1-27 1 30 1-54 1 34 1 7 1 15 1 8 1-45 1 13 1 8 1-5 1 15 1 5 1 1 1-17 1 53 1-66 1 20 1 34 1-10 1 3 1 11 1-21 1 8 1 20 1 12 1-45 1 16 1 12 1 18 1-32 1 39 1-23 1 26 1-5 1 23 1-36 1 28 1-10 1-3 1 29 1-26 1 29 1-23 1 1 1 32 1 26 1-22 1-19 1 23 1-6 1-2 1 17 1 8 1 8 1-25 1 45 1-27 1-16 1 15 1 18 1-11 1 19 1-13 1 33 1-10 1-3 1 23 1-26 1 15 1 15 1 0 1-1 1 13 1-21 1 8 1-13 1 12 1-16 1 0 1 18 1-16 1 28 1 3 1-6 1 3 1-3 1-31 1 6 1 23 1-22 1 7 1 10 1 5 1-28 1 24 1 13 1-7 1 18 1-30 1 27 1 13 1-22 1 5 1 0 1-48 1 23 1 27 1-36 1 25 1 4 1 11 1-21 1 15 1-13 1 24 1-33 1 1 1 15 1 20 1-22 1-4 1-9 1 26 1-26 1 7 1-1 1 22 1-30 1 0 1 16 1-2 1-23 1 9 1 4 1 11 1-13 1 43 1-26 1 15 1-14 1-1 1 8 1-16 1-23 1 35 1-18 1 31 1-33 1 16 1-2 1-8 1 2 1 4 1 5 1 1 1-2 1-1 1-33 1 54 1-11 1-28 1 6 1-18 1-8 1 32 1 32 1-22 1 1 1-2 1 8 1-9 1-12 1 4 1 19 1-16 1-21 1 35 1-4 1 16 1-18 1-1 1-2 1-9 1 15 1-11 1-7 1 13 1 3 1 4 1 5 1 21 1-34 1 22 1-18 1 2 1 9 1-23 1 11 1 11 1-29 1 7 1 7 1 6 1 11 1-28 1 36 1-9 1-1 1-35 1 32 1-15 1 21 1-11 1-5 1-7 1 10 1 13 1-32 1 12 1 8 1 1 1-4 1 9 1-1 1-30 1 44 1-34 1 36 1-5 1-36 1 27 1 18 1 0 1-17 1-13 1 28 1-38 1 0 1 33 1-28 1 25 1-23 1 7 1 25 1-17 1 10 1-11 1-4 1-3 1-3 1 19 1 1 1 18 1-20 1-8 1 11 1 14 1-41 1 45 1-36 1 0 1 50 1-21 1-24 1 21 1 7 1-10 1 7 1-11 1 3 1-25 1 2 1 18 1-22 1 30 1-11 1 19 1-4 1-19 1-35 1 19 1 22 1 31 1-30 1 9 1-9 1-40 1 50 1-13 1-19 1 34 1-12 1 43 1-76 1 22 1 12 1-7 1 15 1 3 1-6 1-7 1-12 1 13 1 10 1-12 1-35 1 57 1-33 1 20 1-21 1 23 1-22 1 27 1-3 1-30 1-32 1 46 1-21 1 30 1-10 1-12 1-10 1 1 1 35 1-8 1-18 1 7 1 9 1-17 1-26 1 53 1-31 1-5 1 9 1-15 1-3 1 20 1-15 1 17 1-1 1 24 1-35 1 5 1-11 1 26 1-11 1-2 1 23 1-25 1-1 1-25 1-7 1 18 1 9 1-19 1 2 1 26 1-21 1-1 1 4 1-11 1 31 1 9 1-5 1 8 1-52 1 44 1-15 1 24 1-30 1 23 1 16 1-17 1-7 1-4 1 12 1-10 1-15 1 29 1 16 1-18 1 11 1 3 1-17 1-1 1-11 1 17 1 5 1-22 1 11 1 21 1-25 1 22 1-5 1-9 1 19 1-4 1-9 1 3 1 5 1 3 1-1 1 5 1-17 1 30 1-24 1-1 1 23 1-5 1-44 1 29 1 11 1-3 1-34 1 15 1-1 1 21 1 4 1-8 1-6 1-12 1 29 1-50 1 42 1 1 1-5 1-4 1 2 1 8 1-20 1 21 1-11 1 1 1-42 1 20 1 17 1-7 1 24 1-36 1 41 1-6 1-9 1-11 1-10 1-1 1 7 1 11 1 11 1 0 1 6 1-1 1-26 1 2 1 25 1-29 1 28 1-15 1-22 1 28 1-3 1-16 1-24 1 41 1 2 1 6 1-6 1-17 1-15 1 23 1 17 1-16 1-17 1-7 1-15 1 43 1 4 1-40 1 24 1 31 1-54 1 55 1-5 1-4 1-6 1 0 1 2 1 16 1-42 1-10 1-4 1 34 1 12 1-26 1 17 1-3 1 14 1-7 1-4 1-17 1 4 1 19 1-11 1 18 1-30 1 24 1-18 1 10 1-34 1 37 1-25 1 33 1-5 1-24 1 33 1 1 1 4 1-8 1-26 1 29 1-43 1 15 1 10 1-31 1 45 1-10 1-12 1-32 1 23 1 24 1-3 1-25 1-6 1 21 1-20 1-7 1 50 1-24 1 6 1-10 1 19 1 0 1-18 1-5 1 0 1 22 1-13 1-22 1 42 1-22 1 8 1 15 1-15 1 5 1-15 1 11 1 5 1-9 1-8 1-1 1-2 1 8 1-12 1 17 1-17 1 25 1-15 1-14 1 19 1-26 1 63 1-57 1 9 1 27 1-34 1-6 1-1 1 36 1-39 1 48 1-19 1-12 1 21 1-20 1-4 1-17 1-3 1 28 1-39 1 8 1 1 1 25 1-23 1 20 1 46 1-43 1 30 1-28 1-21 1 9 1-2 1 19 1 4 1-9 1-10 1-6 1 6 1-8 1 1 1 55 1-26 1-33 1 18 1 5 1-6 1-11 1 17 1-4 1 6 1 11 1-28 1 12 1-11 1-6 1 5 1 12 1-12 1-7 1 4 1 14 1 21 1-2 1-47 1 21 1 14 1-16 1 4 1-12 1 17 1-5 1-11 1 22 1 8 1-9 1-26 1 23 1 8 1 5 1 1 1-4 1-18 1 11 1 3 1-9 1 3 1-21 1 21 1-12 1 5 1 29 1-23 1 1 1-15 1-13 1 4 1 14 1 1 1-24 1 17 1 11 1-13 1 7 1 7 1 16 1-14 1 17 1-45 1 40 1-23 1 17 1 15 1-17 1-8 1 17 1-32 1 22 1-10 1-1 1-15 1 13 1 0 1-7 1 5 1-26 1 33 1-18 1 7 1-14 1 4 1-5 1 27 1-31 1 1 1 7 1-15 1 2 1 17 1 0 1 6 1-5 1-19 1-3 1 28 1-46 1 32 1 7 1 6 1 2 1-5 1 11 1-52 1 20 1 9 1-37 1 20 1 26 1-26 1 22 1-5 1 6 1-5 1-5 1 1 1-21 1 33 1-26 1-8 1 16 1-25 1 45 1 4 1-17 1-28 1 17 1-3 1-11 1 2 1 10 1-14 1 6 1 0 1-18 1 12 1-2 1 28 1-21 1 3 1-3 1-4 1 0 1-3 1-29 1 29 1-10 1 4 1-10 1 0 1 13 1-8 1 7 1 2 1-5 1 2 1-11 1 4 1 12 1-12 1 10 1-8 1 13 1-30 1 18 1 8 1-25 1 13 1 2 1-8 1 16 1-10 1-9 1 15 1-8 1 35 1-66 1 27 1-3 1 1 1-30 1 33 1-10 1 20 1-27 1 42 1-25 1-7 1 13 1-26 1 6 1 25 1-13 1 6 1-34 1 14 1-5 1 50 1-26 1 21 1-22 1 19 1-22 1 2 1 5 1 3 1-29 1 29 1-13 1 4 1 6 1-1 1 5 1 17 1 1 1 9 1-33 1 8 1-2 1-1 1 15 1 2 1-11 1 4 1 16 1-18 1 17 1-14 1 7 1 19 1-32 1 13 1 12 1-14 1 17 1 17 1-15 1-19 1-9 1 14 1-10 1-2 1 20 1 0 1-30 1 15 1-6 1 23 1-3 1 8 1-13 1 8 1 3 1-9 1 13 1-36 1 38 1-30 1 13 1 9 1-1 1-20 1 19 1-29 1 26 1-2 1 26 1-23 1-5 1 0 1-1 1 12 1 3 1 19 1-38 1 26 1-26 1 15 1 19 1 2 1-4 1-19 1 21 1 8 1-38 1 12 1 9 1 3 1 1 1-6 1-6 1 16 1-16 1 8 1 9 1 1 1 6 1 1 1-3 1 11 1-37 1 20 1 0 1-6 1 3 1 5 1-9 1 30 1 0 1-32 1 19 1-2 1-8 1-5 1 9 1-5 1-9 1 18 1-9 1 12 1-30 1 6 1-25 1 29 1-9 1 21 1 5 1-11 1 10 1-20 1-6 1 31 1-5 1-3 1-13 1 16 1-5 1 24 1-62 1 17 1 24 1-1 1-5 1-6 1-6 1 27 1-6 1-10 1 1 1 15 1-31 1-2 1 12 1-11 1 22 1-2 1 1 1-10 1-4 1 12 1-28 1 7 1 6 1-4 1 17 1-13 1 21 1-8 1-17 1-9 1 49 1-17 1 2 1-10 1-5 1 26 1-27 1 9 1 5 1-10 1 5 1 0 1 1 1 24 1-17 1 11 1-20 1 4 1-1 1-10 1 19 1-16 1 3 1 14 1 4 1-12 1 11 1 12 1 4 1-8 1-15 1 17 1-20 1-1 1 13 1-8 1 0 1-17 1 5 1 6 1 1 1-1 1-29 1 46 1-19 1-20 1 22 1-17 1-4 1 23 1-35 1 0 1 0 1 2 1 39 1-40 1-8 1 13 1 6 1 5 1-28 1 34 1-24 1-15 1 0 1 15 1-8 1-7 1 6 1 27 1-13 1-26 1-4 1 20 1-28 1-12 1 10 1-6 1-4 1 15 1-9 1 5 1 8 1-13 1-14 1 6 1 23 1-26 1-1 1 20 1-19 1 0 1 16 1-6 1-6 1 1 1 20 1-11 1-14 1 3 1 27 1-25 1 7 1-1 1-11 1 9 1-17 1 10 1 19 1-19 1 24 1-20 1 4 1-6 1-14 1 27 1 4 1-16 1-5 1-4 1 10 1 8 1-3 1-9 1-4 1 1 1-5 1-14 1 45 1-42 1-3 1 35 1-14 1 0 1-16 1 7 1 11 1 28 1-32 1-7 1 8 1-10 1-13 1-16 1 34 1-30 1 40 1-27 1 0 1-11 1 1 1 6 1 13 1-12 1 4 1-6 1 15 1-2 1 0 1-23 1 3 1-9 1 30 1-52 1 63 1-28 1-6 1 12 1-7 1-3 1 11 1 3 1-18 1 32 1-45 1 32 1-9 1-20 1 28 1 6 1-45 1 33 1-11 1 4 1-30 1 35 1 8 1-14 1-16 1 5 1 9 1-8 1-19 1 3 1-6 1 23 1 27 1-9 1-24 1 0 1 17 1-5 1 8 1-13 1-13 1 14 1 18 1-24 1 27 1-45 1 8 1 7 1-5 1 15 1-10 1 5 1 12 1-42 1 13 1 34 1-36 1-11 1 2 1-5 1 15 1 5 1 1 1 6 1-15 1 15 1 5 1-37 1 7 1 23 1-24 1 35 1-24 1 0 1 12 1 33 1-49 1 17 1-9 1 19 1-9 1 2 1 8 1-9 1 5 1 7 1-6 1-2 1-7 1 18 1-3 1-3 1-5 1 3 1-6 1 36 1-14 1 18 1-45 1 3 1 24 1-5 1-3 1 0 1 5 1-27 1 60 1-31 1 2 1 14 1-12 1 3 1 3 1-2 1-5 1 5 1-1 1-14 1 3 1-16 1 15 1-29 1-3 1 6 1 14 1-16 1 1 1 19 1 3 1 6 1-17 1-8 1-4 1-24 1 15 1-6 1 15 1-10 1-23 1 7 1 10 1-8 1-13 1 23 1-41 1 38 1-21 1-9 1 18 1 24 1-42 1 23 1 3 1-6 1 1 1 5 1 6 1 21 1-66 1 48 1 11 1-41 1 39 1 6 1-21 1 11 1-13 1-9 1 12 1-2 1 27 1-24 1 22 1 4 1 6 1-18 1 8 1-20 1-3 1 44 1-8 1-34 1 3 1 44 1-23 1 16 1 6 1-27 1 19 1-34 1 20 1 15 1 11 1-23 1 10 1-23 1 31 1-38 1 18 1 3 1-13 1 6 1 5 1 22 1-5 1-5 1 0 1 1 1-23 1 11 1 2 1 17 1-7 1 4 1-29 1 46 1-37 1-5 1 17 1 4 1-8 1 28 1-33 1 1 1-14 1 44 1-27 1-1 1-23 1 16 1 6 1 15 1 8 1 4 1-30 1 16 1 21 1-14 1 3 1 8 1-12 1-6 1 38 1-63 1 28 1 7 1-9 1-1 1-6 1 23 1-44 1 10 1-4 1 11 1 2 1 15 1 9 1-28 1 14 1 32 1-20 1-37 1 36 1-10 1 0 1 5 1 7 1-8 1 11 1-10 1 9 1-5 1-22 1-10 1 52 1-42 1-3 1 33 1 1 1-20 1 23 1-28 1 2 1-15 1 53 1-30 1 10 1-36 1 33 1-35 1 17 1 21 1 12 1 2 1-25 1-19 1 26 1-12 1 18 1-4 1 20 1-17 1-12 1 9 1-11 1-3 1-1 1 5 1-6 1 10 1-24 1 15 1 15 1-22 1-4 1 42 1-36 1 33 1-28 1 7 1 5 1-24 1-3 1 13 1-3 1 11 1-19 1-4 1 13 1-16 1-4 1 18 1-11 1-16 1 33 1-18 1-31 1 22 1 25 1-16 1-11 1 13 1-14 1 3 1 11 1-21 1 41 1-68 1 15 1 36 1-9 1 23 1-20 1 7 1-8 1-14 1-25 1 22 1 10 1-4 1-19 1 28 1-22 1-9 1 15 1-3 1-17 1 2 1 17 1 23 1-65 1 0 1 25 1 4 1 18 1-38 1 28 1 0 1 8 1-24 1-3 1 8 1-5 1-1 1 0 1 18 1-16 1 0 1 12 1-14 1 7 1-27 1 23 1-1 1-11 1 0 1-5 1 30 1-21 1-9 1 0 1-6 1 18 1-2 1-16 1 1 1 14 1-22 1 39 1-21 1-11 1 11 1-32 1 35 1-18 1 23 1-2 1-26 1 34 1-28 1-1 1 20 1-2 1-25 1 12 1-13 1-6 1 3 1 16 1-35 1 31 1-17 1 9 1 25 1-11 1-12 1 35 1-52 1 27 1 15 1-34 1 29 1-10 1 31 1-11 1-4 1-32 1 21 1 32 1-12 1-24 1 9 1-24 1 32 1-17 1-6 1 8 1 30 1-37 1-19 1 83 1-43 1 1 1-10 1 40 1-7 1 4 1-2 1 10 1-6 1-7 1 22 1-10 1-10 1 17 1-34 1 36 1-11 1-10 1 35 1 25 1-9 1-8 1-18 1-7 1 19 1-3 1 17 1 24 1-11 1-4 1 3 1-25 1 35 1-5 1-10 1 12 1 0 1 14 1-12 1 24 1-12 1-4 1 27 1-18 1 5 1-11 1 31 1-12 1 9 1-7 1 9 1-16 1 12 1-7 1 14 1 15 1-12 1 8 1 6 1 16 1-12 1-31 1 33 1-38 1 0 1 18 1 13 1-30 1-7 1 8 1 4 1 12 1-18 1-8 1-2 1 4 1 2 1-20 1 7 1 10 1 16 1-24 1-36 1 18 1 10 1-11 1 17 1-21 1 8 1-3 1-14 1-3 1 0 1-12 1 12 1-11 1 6 1-16 1 33 1-16 1 9 1-29 1 1 1 9 1-3 1-3 1 5 1-6 1 8 1-26 1 20 1-56 1 43 1-11 1-5 1 5 1-3 1 6 1-24 1 5 1 13 1-16 1 0 1 13 1-7 1-14 1-5 1 23 1 5 1-1 1-1 1-12 1-8 1 14 1-1 1-7 1 16 1 43 1-53 1 3 1 19 1-23 1 7 1 0 1 8 1 15 1-3 1-31 1 19 1-10 1 22 1-12 1 27 1 15 1-35 1 9 1 10 1-22 1-12 1 33 1-2 1-34 1 30 1-6 1-1 1 12 1-22 1 2 1 42 1-8 1-11 1 5 1 4 1-3 1 37 1-45 1 20 1-26 1 28 1 19 1-27 1-10 1-12 1 43 1-26 1 15 1 8 1-23 1 16 1 20 1-31 1 9 1 6 1-23 1 20 1 21 1 18 1-42 1 17 1 6 1-8 1-3 1 7 1-1 1-4 1 10 1 3 1-29 1 36 1-3 1 6 1-28 1 58 1-26 1-22 1 40 1-4 1-15 1 27 1-8 1-21 1 7 1 17 1 19 1-28 1 27 1-15 1-11 1 30 1-29 1 12 1-25 1 26 1 17 1-26 1-2 1 43 1-10 1-17 1 10 1 29 1-40 1 30 1-4 1-1 1-4 1 13 1-21 1 16 1 19 1-18 1 7 1 12 1-32 1-3 1 49 1-12 1 4 1-10 1 9 1 12 1-9 1-4 1-2 1-6 1-11 1 30 1 2 1 42 1-40 1-4 1 43 1-33 1 8 1 20 1 3 1 3 1-3 1-20 1 4 1 1 1 13 1-13 1 16 1-13 1 0 1-37 1 31 1-18 1 25 1-17 1 11 1-3 1-18 1-4 1 23 1 2 1-31 1-13 1 32 1-33 1 17 1-29 1 41 1-11 1-12 1-13 1-23 1 35 1 8 1-8 1-22 1 26 1-7 1-28 1-3 1 8 1 28 1-27 1 30 1-8 1-40 1 19 1 38 1-36 1 9 1-5 1-9 1-7 1 14 1 1 1 2 1 3 1-27 1 2 1 22 1-9 1-28 1 12 1 45 1-38 1 1 1 8 1 1 1-26 1 9 1 30 1-34 1 13 1 18 1-21 1 0 1-12 1 1 1 26 1-8 1-5 1-11 1 29 1 1 1-22 1-15 1-3 1 45 1 4 1-45 1 11 1-31 1 16 1 37 1-16 1 0 1-16 1-10 1 9 1 19 1-10 1 3 1 1 1-19 1 12 1-14 1-1 1 21 1-24 1 39 1-17 1-22 1 11 1-7 1 29 1-4 1-7 1 23 1-23 1-4 1-9 1-3 1 23 1 6 1-12 1 5 1-3 1 25 1-22 1 14 1-19 1-9 1-10 1 7 1 22 1-20 1 31 1-22 1-21 1 30 1-9 1 35 1-17 1-25 1 17 1-22 1-2 1 22 1 10 1-15 1 25 1-44 1 36 1-5 1-25 1 29 1-11 1 23 1-41 1 34 1-14 1 28 1 16 1-44 1 1 1 4 1 0 1 18 1-23 1-2 1 12 1 2 1 23 1-29 1 0 1 20 1 0 1-22 1 11 1-14 1 33 1-23 1 4 1 5 1-7 1 16 1 13 1-7 1 28 1-28 1-26 1 26 1-7 1 23 1-15 1 9 1-24 1 11 1 13 1-5 1 6 1 24 1-40 1 2 1 37 1-14 1-12 1 17 1 8 1-22 1 25 1-14 1 23 1-49 1 58 1-27 1 19 1-23 1 16 1 10 1-13 1-6 1-3 1 2 1 21 1-22 1 24 1-8 1-3 1-5 1 4 1-19 1 36 1-13 1 23 1-26 1 0 1 10 1-4 1-9 1-12 1 16 1 4 1 18 1 1 1-23 1 24 1-24 1 5 1 4 1-6 1 23 1 11 1-34 1 19 1-5 1 7 1-14 1 25 1-7 1-2 1 21 1-36 1 9 1 10 1 5 1-12 1 8 1 11 1-22 1 0 1 4 1-33 1 41 1 0 1 20 1-45 1 23 1 2 1 4 1-25 1-20 1 37 1 4 1 0 1-12 1-2 1 10 1-11 1 0 1 17 1 4 1-22 1-10 1 11 1 23 1-14 1 14 1-1 1 7 1-20 1 7 1 10 1-18 1-7 1 28 1 6 1-32 1 19 1-1 1-3 1-8 1-6 1-5 1 29 1-13 1 8 1-32 1 38 1-1 1-9 1 24 1-24 1-1 1-15 1 4 1 15 1-2 1 12 1-24 1 15 1-19 1 10 1-6 1-21 1 40 1-23 1 1 1 14 1-18 1 3 1-21 1 34 1 9 1-15 1 21 1 5 1-11 1-13 1 14 1 0 1-8 1 14 1-9 1-22 1 12 1 5 1-17 1-3 1 20 1 6 1-20 1 20 1-20 1-3 1 29 1-10 1-27 1 3 1 23 1-13 1 0 1-7 1 15 1 35 1-53 1 44 1-34 1-4 1 27 1-14 1-1 1 18 1 12 1-22 1-20 1 0 1 13 1 14 1-8 1-2 1 11 1-45 1 41 1-11 1-1 1 5 1-9 1-11 1-13 1 31 1-21 1 15 1-21 1 22 1 6 1-11 1 10 1-16 1 3 1 9 1-2 1 6 1-5 1 11 1 9 1-14 1 4 1-8 1-19 1 25 1 0 1-26 1 12 1-19 1 25 1 16 1-19 1-11 1 23 1-7 1-5 1 8 1-14 1 17 1-43 1 35 1-18 1 16 1-16 1-11 1 28 1-25 1-15 1 29 1 21 1 5 1-3 1-46 1 24 1-12 1 15 1-28 1 33 1-6 1 15 1-2 1-15 1-23 1 29 1-17 1 10 1 15 1-42 1 21 1-9 1 16 1 3 1-2 1 1 1-17 1 3 1 6 1 4 1-5 1-11 1 8 1 6 1-17 1 2 1 19 1 24 1-29 1-17 1 36 1-14 1-22 1 18 1 1 1 8 1-26 1 26 1-20 1 9 1-20 1 32 1-13 1-15 1 17 1 4 1 2 1-1 1-37 1 10 1 14 1 3 1-20 1 31 1-8 1-31 1 8 1 32 1-41 1 52 1-6 1-39 1 22 1 8 1-33 1-7 1 46 1-24 1-20 1 37 1 0 1-9 1-8 1-12 1-10 1 33 1-4 1-27 1 7 1 1 1 5 1 4 1 21 1-19 1 14 1-14 1 12 1-15 1 14 1-23 1-13 1 37 1-32 1 2 1 35 1-25 1 5 1 3 1 3 1 6 1-17 1-9 1 25 1-14 1-6 1 16 1 0 1-6 1-32 1 57 1-29 1-19 1 27 1 10 1-2 1-10 1 1 1-31 1-11 1 52 1-14 1 0 1-25 1 44 1-31 1 19 1-30 1-10 1 32 1 4 1-23 1 49 1-41 1 27 1-4 1-35 1 26 1-18 1 14 1-4 1 15 1-24 1 18 1 3 1 5 1-27 1 21 1 1 1 4 1-47 1 6 1-1 1 19 1-10 1 11 1 3 1 17 1-2 1-19 1 4 1-22 1 16 1 6 1-5 1 34 1-62 1 27 1 8 1 11 1-6 1-29 1 10 1 20 1-5 1 14 1-8 1-11 1-2 1 15 1-20 1 5 1 17 1-24 1 9 1-43 1 21 1 8 1 5 1-12 1 0 1-15 1 8 1 8 1-25 1-8 1 28 1 8 1-8 1-29 1 2 1-4 1 10 1 0 1-22 1 15 1-6 1 11 1-23 1 4 1-29 1 14 1 10 1-26 1 3 1 7 1-6 1-10 1 2 1 11 1 7 1-8 1-10 1 10 1-37 1 29 1-15 1-5 1-10 1 5 1 3 1-17 1-6 1 15 1 12 1-8 1-3 1-27 1 0 1-2 1 30 1-37 1 22 1-8 1-28 1 17 1 12 1-11 1-6 1 15 1-38 1 15 1 10 1 12 1 9 1-27 1 11 1 20 1 0 1-26 1-4 1 10 1 12 1-41 1 60 1-24 1 21 1 8 1-28 1-15 1-3 1 53 1-34 1 11 1-20 1 15 1 13 1 5 1-7 1-14 1 13 1 2 1 25 1-25 1-8 1 28 1-18 1 37 1 2 1-23 1 2 1 19 1-33 1 43 1 7 1-14 1 0 1-8 1-1 1 21 1 2 1-12 1 27 1-18 1 23 1-28 1 23 1 7 1 8 1-17 1 7 1 4 1 18 1-29 1 13 1-24 1 52 1-23 1-8 1 3 1 14 1-18 1 9 1-27 1 2 1 39 1-18 1-27 1 27 1 11 1 13 1-39 1 15 1-16 1-15 1 11 1 15 1-8 1 4 1-4 1 12 1 35 1-29 1 7 1 17 1-59 1 2 1 7 1-9 1 42 1-41 1 9 1 30 1-33 1 20 1 10 1-28 1 34 1-10 1-4 1-11 1-16 1 54 1-47 1 6 1 2 1-1 1 14 1-26 1 14 1 19 1-40 1 20 1-24 1 21 1 7 1-21 1 53 1-65 1 50 1-26 1 9 1-25 1 30 1-3 1-41 1 28 1-1 1 21 1-41 1 38 1-8" fill="none" stroke="#858900" stroke-width="1.0" vector-effect="non-scaling-stroke" stroke-linejoin="round" /></g><g clip-path="url(#c3)"><path transform="translate(47.0 0) scale(0.0622578 .1)" d="M0 3374l1-71 1 46 1-15 1 2 1 3 1-27 1 27 1-10 1 55 1-38 1-9 1 1 1-6 1-7 1 9 1 13 1-12 1 17 1-18 1 2 1 22 1-16 1-17 1 4 1 10 1 21 1-35 1-1 1 18 1-30 1 9 1 17 1-6 1-8 1 8 1-53 1 56 1-31 1-12 1 29 1 5 1-18 1-11 1 16 1-2 1 22 1-12 1-9 1 13 1-21 1-12 1 22 1-1 1-13 1-10 1 15 1-43 1 50 1-2 1-33 1 26 1-15 1 27 1-43 1 18 1 25 1 7 1-51 1 26 1 13 1-14 1 35 1-43 1 24 1-21 1 38 1-22 1-5 1-21 1 54 1-15 1 1 1 6 1-12 1-15 1-2 1 0 1 34 1-44 1 14 1 5 1 9 1 5 1-28 1-7 1 27 1 20 1-7 1-8 1-8 1 10 1-9 1 17 1-24 1 14 1-3 1 10 1-4 1 36 1-16 1 0 1-54 1 26 1-3 1 18 1-44 1 54 1-1 1-37 1 6 1 3 1 13 1 10 1 22 1-35 1 15 1-9 1 25 1-15 1 10 1-38 1 14 1-9 1 36 1-13 1-14 1-2 1 14 1-18 1-3 1 22 1 30 1-41 1-4 1-9 1-2 1 28 1 5 1-12 1 5 1-3 1 0 1-24 1 16 1 9 1-13 1 5 1-5 1 7 1 18 1-18 1 4 1 14 1-2 1 15 1-54 1 42 1-18 1 9 1 10 1 3 1 0 1-12 1 20 1-26 1 3 1 13 1-19 1 38 1-16 1 16 1-29 1-5 1 8 1 8 1-18 1 13 1-5 1 22 1-30 1 23 1-22 1-4 1 4 1-7 1 18 1 12 1-11 1 7 1 13 1-18 1 0 1-7 1-17 1 32 1-34 1 33 1-9 1 16 1-16 1-10 1 16 1-12 1 5 1 4 1-3 1 0 1-8 1 8 1-25 1 26 1-13 1 31 1 2 1-43 1 28 1-3 1-12 1 21 1-13 1-17 1 20 1 2 1 4 1-18 1 25 1 2 1-25 1 7 1 8 1-7 1 31 1-20 1-16 1 3 1 10 1 32 1-33 1 5 1 5 1-7 1 31 1-37 1 17 1-8 1 7 1-24 1 40 1-25 1 2 1-13 1 3 1 18 1 6 1-3 1 6 1-6 1-9 1 11 1-3 1-9 1 11 1 8 1-14 1-8 1 15 1 16 1-28 1 2 1-1 1 19 1-41 1 29 1 12 1-27 1 31 1-13 1-14 1 10 1-23 1 13 1 32 1-36 1 37 1-26 1 15 1-13 1-30 1 22 1 11 1-18 1-2 1 23 1-14 1-14 1 14 1 21 1-18 1 19 1 8 1-20 1-15 1-2 1 17 1 12 1-8 1 4 1-13 1 10 1-10 1 2 1-12 1-4 1 15 1-9 1 3 1 21 1-10 1 38 1-24 1-20 1 19 1-6 1-14 1 24 1-24 1-26 1 47 1-19 1 28 1-28 1-7 1 37 1-35 1 17 1 17 1-18 1-2 1 2 1 10 1-21 1 19 1-1 1 24 1-36 1-7 1 22 1-15 1 9 1-1 1 13 1-24 1 8 1-33 1 23 1 32 1-29 1 0 1-7 1 24 1-5 1-18 1 25 1-5 1 7 1-19 1 32 1-17 1-7 1-5 1 3 1 15 1-14 1 18 1-7 1 11 1-7 1-12 1-24 1 30 1 6 1-8 1 6 1-14 1 1 1-7 1 31 1-16 1-8 1-11 1 16 1 21 1-13 1-15 1 29 1 0 1-6 1-2 1 5 1-8 1 3 1-20 1 31 1-17 1 24 1-55 1 38 1 4 1-18 1 11 1 4 1-2 1-15 1 6 1 16 1 3 1-16 1 0 1 2 1 12 1-28 1-4 1 20 1-16 1 7 1 10 1 6 1-20 1 26 1-35 1 32 1-28 1 5 1 27 1-14 1-5 1 6 1 13 1-7 1 1 1 15 1-23 1 4 1 0 1 23 1-1 1 4 1-17 1-1 1 14 1-16 1 17 1-1 1-18 1 9 1 0 1 25 1 12 1-35 1 2 1-30 1 34 1-3 1-13 1 25 1-31 1 19 1 5 1-18 1 27 1 2 1-33 1-1 1 26 1-9 1-17 1 12 1 2 1-1 1 12 1-7 1 18 1-6 1-10 1 4 1 3 1-9 1-26 1 27 1-12 1 20 1-21 1 5 1-3 1 17 1-21 1-6 1 7 1-11 1 7 1-3 1 3 1 22 1-32 1 5 1-4 1 11 1-25 1 5 1 8 1 7 1-8 1-7 1-6 1 18 1 12 1-16 1-2 1 2 1-19 1 8 1 0 1 6 1-5 1-16 1 29 1 7 1-28 1 8 1-4 1 6 1-32 1 41 1-30 1 22 1-18 1-8 1 2 1 14 1-27 1 6 1-3 1-19 1 42 1-12 1-10 1 16 1-33 1 12 1 25 1-12 1-50 1-8 1 23 1 30 1-24 1 2 1 14 1-22 1 18 1 11 1-4 1 0 1-14 1 18 1-13 1 28 1 20 1-49 1-21 1 28 1 14 1 11 1 2 1-27 1 1 1 33 1-35 1 35 1-19 1 16 1 0 1 3 1 2 1-27 1 21 1-3 1 6 1 15 1-22 1-5 1-1 1 7 1 16 1-24 1 30 1-13 1-8 1-17 1 24 1 7 1-37 1 45 1 7 1-20 1 2 1 29 1-18 1-32 1 13 1-2 1 0 1-34 1 48 1-21 1 12 1-5 1 16 1-18 1-8 1 21 1 13 1-26 1 25 1-19 1-16 1 28 1-40 1 25 1-28 1 11 1-30 1 2 1 27 1-18 1-6 1-12 1 11 1-35 1 1 1 12 1-15 1-2 1 7 1-5 1-5 1 29 1-9 1 6 1-19 1-5 1-14 1 21 1-26 1 27 1 25 1 16 1-8 1-27 1 24 1-18 1 28 1-12 1 17 1 28 1-22 1 23 1-30 1-5 1 27 1 8 1-30 1 11 1-19 1 20 1 18 1-11 1-4 1-9 1 26 1 8 1-2 1-4 1-20 1 41 1-24 1-1 1 12 1-38 1 29 1-1 1 8 1 13 1-11 1-30 1 20 1 8 1 0 1-19 1-5 1 31 1-3 1-4 1-22 1 47 1-60 1 32 1 34 1-30 1 6 1-19 1 35 1-35 1 21 1-1 1-15 1 26 1-30 1 10 1 9 1-4 1 12 1 7 1-16 1-3 1 1 1 2 1 17 1-14 1 9 1-6 1-10 1 24 1-25 1 14 1 21 1-35 1 14 1-20 1 15 1-14 1 16 1-2 1 9 1 20 1-18 1 6 1-10 1-2 1-8 1-13 1 26 1 21 1-15 1-14 1 30 1-28 1-2 1-8 1 3 1 10 1 31 1-30 1-11 1 6 1 6 1-20 1 25 1 8 1-5 1 4 1-26 1-5 1 41 1-3 1-35 1 24 1-3 1 8 1-5 1-9 1 9 1 0 1-2 1-24 1-12 1 26 1-11 1 26 1 6 1-6 1-8 1 6 1 15 1-25 1 22 1-3 1-5 1 16 1-29 1 22 1-25 1 3 1-4 1 20 1-18 1 13 1-16 1 30 1 10 1-21 1 19 1-15 1 22 1-28 1-22 1 41 1-21 1-13 1 6 1-13 1 19 1-12 1 34 1-10 1-31 1 2 1 12 1-18 1 25 1 1 1-10 1 3 1 14 1 13 1 1 1-20 1 11 1-21 1 15 1-18 1 23 1-26 1 3 1 13 1 8 1-27 1 12 1 9 1 2 1-14 1 12 1-5 1 23 1-11 1-25 1-12 1 31 1 14 1-13 1 9 1-18 1-11 1 28 1-9 1 8 1-27 1 21 1-11 1 19 1-18 1-1 1 1 1 24 1-16 1-10 1-4 1 0 1 34 1-44 1 13 1 20 1 7 1-18 1 13 1 0 1 3 1-13 1 22 1-19 1 18 1-35 1 27 1-29 1-3 1 27 1-18 1 17 1-20 1 36 1-21 1-15 1 17 1 10 1-22 1 17 1 21 1-16 1-12 1-7 1 16 1-28 1-17 1 28 1-5 1 38 1-22 1-15 1-2 1 23 1-18 1 3 1 7 1 3 1 0 1 0 1 16 1 6 1-45 1 56 1-32 1 15 1-26 1 14 1-1 1-2 1 10 1-3 1-21 1 12 1 11 1 0 1-14 1 1 1 2 1-13 1-2 1 38 1-26 1 7 1-12 1 28 1 6 1-26 1 10 1-17 1 34 1-12 1-24 1 28 1-12 1 0 1-1 1-14 1 2 1 15 1-9 1-12 1 39 1-30 1-5 1-2 1 18 1 3 1-9 1 8 1-31 1 14 1-1 1 5 1 6 1-32 1 59 1-45 1 15 1 6 1 0 1-8 1-38 1 21 1 23 1-21 1-2 1-17 1 45 1-9 1-18 1 9 1 0 1-13 1 10 1 7 1 3 1 9 1-16 1-6 1 10 1-13 1-7 1 28 1-18 1 5 1 7 1-22 1 21 1-3 1-6 1 5 1-14 1-17 1 22 1-7 1 21 1-8 1-9 1 6 1 15 1-25 1-68 1-59 1-66 1-58 1-54 1-64 1-57 1-26 1 55 1 57 1 69 1 74 1 59 1 37 1 52 1 67 1-3 1-22 1 29 1-11 1 14 1-12 1 7 1-7 1-15 1 8 1-5 1 18 1-21 1-7 1 26 1 6 1 3 1-4 1-30 1 9 1 2 1 6 1-25 1 25 1 3 1-15 1 12 1 12 1-14 1 12 1-1 1-8 1-1 1-9 1 19 1-22 1-3 1 17 1-18 1 14 1 7 1-13 1 0 1 10 1-2 1-31 1 3 1 34 1-13 1-33 1 9 1 18 1-14 1 19 1-6 1 5 1-23 1 24 1 18 1-39 1 30 1-6 1-5 1-10 1-16 1 3 1 23 1 3 1 3 1-4 1-1 1-21 1-12 1 21 1 4 1-7 1-25 1 15 1-15 1 24 1-18 1 14 1 7 1-2 1 19 1-38 1-16 1 48 1 7 1 1 1-18 1 5 1-7 1-21 1 11 1 17 1-17 1 39 1-53 1 17 1 24 1-26 1-8 1-3 1 10 1 34 1-16 1 1 1-15 1 21 1-11 1-16 1 7 1 7 1 2 1-32 1-5 1 9 1-53 1-19 1 17 1-21 1-20 1-8 1-20 1-3 1-23 1 0 1-35 1-9 1-3 1-19 1-2 1-20 1-18 1-6 1-19 1-22 1-9 1-10 1-10 1-9 1 0 1 7 1 18 1 6 1-2 1 23 1 6 1-5 1 16 1 16 1 1 1 16 1 4 1 12 1-1 1 16 1 2 1 19 1-15 1 30 1 19 1 2 1 2 1 16 1-7 1 9 1 14 1 11 1 22 1-13 1 30 1-21 1 18 1 17 1 22 1-11 1-9 1 38 1 3 1-3 1 9 1 12 1 18 1 15 1-16 1 52 1-18 1 5 1 19 1-6 1 25 1-13 1-17 1 0 1-1 1 2 1 12 1-15 1 27 1-19 1-1 1 13 1-34 1 13 1 18 1-6 1 0 1 5 1-12 1 6 1-15 1-6 1 39 1-27 1 3 1 27 1-4 1-19 1 0 1 6 1-11 1 19 1-5 1 1 1 8 1 0 1 14 1-3 1-41 1 33 1-25 1-4 1 28 1-18 1 5 1 19 1-23 1-2 1 16 1 12 1-9 1-27 1 12 1 7 1 28 1-14 1 0 1 5 1-21 1 11 1 0 1-20 1 13 1 8 1-22 1 25 1 0 1 3 1-24 1 12 1 18 1-9 1-21 1 14 1 15 1-20 1 7 1 29 1-35 1-1 1-12 1 5 1 28 1-21 1-14 1 3 1 13 1 10 1-20 1 19 1-16 1 11 1 2 1 1 1-13 1 3 1 9 1-24 1 20 1 4 1 7 1-14 1-2 1 4 1-12 1 7 1 9 1-2 1-18 1 10 1-24 1 39 1-18 1 10 1-18 1 14 1 7 1 7 1-31 1 29 1-13 1-8 1 16 1-10 1 0 1-6 1 13 1-3 1-3 1-10 1 6 1 12 1 12 1-18 1 20 1-19 1-15 1 23 1-21 1 18 1 9 1-18 1 3 1 34 1-30 1 0 1 7 1-11 1 0 1 6 1-37 1 51 1-33 1 0 1 22 1-7 1-17 1 20 1-18 1 6 1-11 1 9 1 17 1-4 1 3 1 8 1-13 1-8 1 5 1 26 1-22 1 4 1-5 1 4 1 3 1-6 1-2 1-8 1-1 1 17 1 5 1 2 1-11 1-12 1 19 1 0 1-28 1 31 1-3 1 15 1-37 1-2 1 27 1-34 1 14 1-5 1 2 1-12 1 22 1 16 1-7 1 0 1-10 1 24 1-12 1 7 1-35 1 26 1-20 1 20 1-2 1-18 1 18 1 13 1-9 1 2 1-20 1 3 1-6 1 17 1 14 1-10 1-6 1-14 1 20 1-9 1-22 1 3 1 18 1-7 1 34 1-21 1-15 1 8 1 28 1-34 1 23 1-4 1 14 1-13 1-12 1 13 1-6 1 12 1-14 1 28 1-28 1 7 1-14 1 11 1-2 1 2 1 10 1-19 1-4 1 27 1-19 1-5 1 25 1-5 1-46 1 31 1 15 1 1 1-18 1 28 1-31 1 8 1 5 1-2 1 11 1 3 1-14 1 19 1-27 1 6 1 26 1-21 1 13 1-20 1 2 1 2 1 4 1-6 1 5 1 9 1 7 1-15 1 8 1 3 1-26 1-7 1 43 1-3 1-17 1 4 1-17 1-6 1 23 1-24 1 32 1-21 1 13 1 22 1 0 1-29 1 18 1-28 1 6 1 13 1 14 1-26 1 15 1-6 1-18 1 15 1 22 1-21 1 8 1 5 1-21 1 26 1 4 1 1 1-4 1-24 1-2 1-3 1-1 1 1 1 24 1 6 1-28 1 19 1-28 1 12 1-9 1-8 1 22 1 0 1-6 1-2 1-6 1 11 1-7 1 11 1-19 1 19 1 3 1 9 1-3 1-11 1-11 1-14 1 22 1 18 1 3 1-52 1 22 1 4 1-8 1 15 1-2 1-7 1 6 1-19 1 7 1 1 1 21 1-30 1 17 1 11 1-10 1 10 1-17 1 12 1 6 1 15 1-18 1 8 1-16 1 1 1 16 1-11 1 9 1-8 1 16 1-2 1-45 1 20 1-25 1-9 1-15 1-1 1-28 1-5 1-10 1 1 1-3 1-11 1-13 1-18 1-20 1 11 1-12 1-7 1 0 1-24 1-9 1-27 1 15 1-15 1-15 1 0 1-20 1-6 1 10 1-18 1-9 1-10 1-10 1-3 1 18 1-13 1 9 1-3 1 3 1-10 1 7 1 27 1 3 1-9 1 6 1 8 1-7 1 21 1-14 1 6 1-9 1 30 1-5 1 13 1-13 1 13 1 3 1 6 1 17 1 7 1 0 1-6 1 13 1 8 1 1 1 5 1 5 1-3 1 12 1 14 1-11 1 12 1 10 1-8 1 13 1-4 1 12 1 0 1 9 1 7 1 7 1 6 1-8 1 29 1-6 1 1 1 8 1 11 1-3 1 1 1-12 1-5 1-19 1-4 1-12 1-14 1-3 1-18 1-19 1-2 1-12 1-13 1-9 1 2 1-25 1-9 1-16 1-2 1-19 1-16 1-14 1 0 1-10 1-25 1-6 1-3 1-9 1-26 1-5 1-4 1-20 1-11 1-13 1-18 1-4 1-11 1-24 1-3 1-5 1-19 1-7 1-25 1 3 1-30 1 9 1-32 1-17 1-15 1-11 1-15 1-16 1-12 1-7 1-13 1-23 1-4 1-29 1-15 1-15 1-4 1-16 1 9 1 25 1 12 1 7 1-12 1 20 1 14 1 3 1-5 1 19 1-4 1 13 1 40 1-5 1-13 1 8 1 28 1-2 1 21 1-6 1 13 1 13 1-6 1-3 1 16 1 14 1 14 1 10 1 8 1 16 1-10 1 37 1 16 1-13 1 6 1 22 1 0 1 2 1 5 1 2 1 4 1 34 1 16 1-19 1 22 1 14 1 2 1 5 1 15 1-9 1 32 1 7 1 36 1-3 1-4 1 13 1 27 1 8 1-4 1 7 1-3 1 20 1 10 1 4 1 32 1-23 1 24 1 14 1 10 1 20 1-18 1 15 1 16 1 10 1 5 1 5 1 25 1-9 1 14 1 26 1 11 1 0 1-10 1 5 1 5 1 3 1 11 1 18 1-3 1-4 1 5 1 2 1 24 1-21 1 23 1-9 1 8 1 1 1 25 1-3 1 27 1-25 1 4 1 18 1-6 1-12 1-19 1 22 1-12 1-7 1-13 1 5 1-15 1 0 1-7 1 6 1-19 1-4 1 6 1-12 1-8 1-7 1 4 1-17 1 3 1 6 1-12 1-7 1 0 1 13 1-9 1 0 1 9 1 0 1 20 1-18 1 29 1-18 1 11 1 8 1-2 1 8 1-14 1-10 1 23 1-12 1 13 1 18 1-9 1-1 1-3 1 11 1 4 1-13 1 24 1-13 1 17 1-5 1 19 1 2 1-10 1-2 1 6 1 11 1-4 1-11 1 2 1 14 1-37 1 25 1-18 1 26 1-21 1 4 1-12 1 13 1 9 1 9 1-34 1 9 1 37 1-21 1-11 1 5 1-37 1 50 1-18 1-18 1 29 1-21 1-5 1 18 1-2 1-10 1 4 1-15 1-1 1 27 1 4 1-10 1-1 1-10 1 3 1-9 1 30 1-27 1 11 1-5 1-16 1 38 1-27 1-5 1 10 1-12 1 10 1-11 1 17 1-6 1-17 1 27 1-10 1-15 1 17 1 0 1 16 1-31 1 19 1-11 1 8 1-11 1 2 1 6 1-19 1-11 1 24 1-6 1 6 1 6 1-10 1 16 1-14 1 1 1 8 1-3 1-8 1 2 1-10 1 1 1 8 1 8 1-14 1 15 1 13 1 3 1-24 1 12 1-5 1 2 1 1 1-3 1 3 1-7 1-5 1 7 1 3 1 8 1-9 1 4 1 8 1-26 1 7 1 10 1-6 1-11 1 23 1-12 1-11 1 34 1-36 1 14 1-7 1 9 1 6 1-16 1 8 1 0 1-9 1 25 1-12 1-5 1-4 1 4 1 6 1-7 1 20 1-43 1 5 1 22 1-18 1 20 1-6 1 14 1-2 1 11 1-4 1 4 1-8 1 6 1-6 1-12 1-8 1 1 1 20 1-33 1 30 1-11 1 17 1-5 1-11 1 9 1-26 1 29 1 3 1-26 1 31 1-11 1 3 1-18 1 24 1 0 1-7 1-11 1 20 1 6 1-9 1 7 1-18 1 9 1 3 1-3 1 29 1-25 1-11 1 16 1-22 1 17 1 6 1-15 1 2 1-7 1 13 1-9 1 29 1-13 1-10 1-15 1 43 1-9 1-10 1-3 1 0 1-8 1 30 1-21 1-20 1 10 1-25 1 42 1 2 1 13 1 5 1-38 1 17 1 7 1-2 1-17 1 17 1-3 1 12 1-19 1-3 1-3 1 1 1-7 1 5 1 11 1-1 1 11 1-4 1-7 1-26 1 23 1 8 1-36 1 2 1 2 1-2 1 9 1-10 1 18 1-23 1 14 1-6 1-8 1 28 1-15 1 6 1-13 1 14 1-2 1-12 1-24 1 36 1-2 1-8 1 0 1-3 1 0 1-18 1 13 1 5 1-15 1-6 1 41 1-19 1-14 1-4 1-32 1 17 1 16 1 22 1-50 1 19 1 38 1-19 1-5 1 11 1-21 1-1 1 12 1 2 1-30 1 38 1-50 1 15 1 49 1-48 1 17 1-26 1 10 1-7 1 4 1 15 1 16 1-14 1 9 1-32 1 29 1-14 1 11 1-28 1 2 1 24 1-13 1-8 1-13 1 8 1 8 1 3 1-21 1 4 1 14 1-23 1 33 1-14 1-1 1-33 1 13 1 10 1 8 1-7 1 23 1-2 1-5 1-25 1 52 1-24 1 14 1-17 1 11 1 11 1-5 1 11 1-15 1 32 1-54 1 20 1 23 1-16 1-2 1-17 1 42 1-42 1 35 1-3 1 10 1 9 1-28 1 0 1 8 1-18 1 35 1-15 1 9 1-17 1 16 1-9 1 8 1-14 1 28 1-22 1-26 1 43 1-12 1-8 1 45 1-34 1-17 1 9 1 14 1-9 1 20 1-2 1-25 1 11 1 8 1-14 1-1 1 18 1-6 1-24 1 11 1 2 1 4 1-8 1 27 1-30 1-2 1 17 1-33 1 17 1 22 1-26 1 6 1 26 1-8 1-6 1 3 1-13 1 14 1-7 1 36 1-26 1-12 1 4 1 1 1-19 1 8 1 31 1-39 1 11 1 21 1 7 1-34 1 33 1-24 1 27 1-16 1-10 1 13 1-2 1-18 1 39 1-33 1 20 1-22 1-18 1 10 1 13 1 11 1 14 1-22 1-5 1-13 1 16 1 5 1-34 1 47 1-2 1 15 1-42 1 12 1 0 1-18 1 7 1-2 1 20 1 0 1 12 1-23 1-13 1 25 1-1 1 4 1 8 1-24 1 19 1-24 1 16 1 7 1-10 1 4 1-20 1 10 1 10 1-17 1 5 1 42 1-28 1-13 1-3 1 31 1-51 1 30 1 12 1-15 1 14 1-20 1 13 1 1 1 0 1 2 1-1 1 14 1-17 1-4 1 4 1 0 1-15 1-4 1 7 1 20 1-11 1 3 1 40 1-21 1-16 1-4 1 24 1-26 1 25 1-8 1 10 1-25 1 20 1-32 1 19 1 15 1-4 1-29 1 29 1-3 1-6 1-9 1 5 1-4 1 17 1-6 1 7 1-5 1-24 1 16 1 23 1-39 1 16 1-13 1-2 1 13 1 8 1-3 1-4 1 5 1-31 1 29 1-6 1-7 1 1 1-10 1 23 1-23 1-10 1 18 1-8 1 6 1 19 1-21 1 3 1 25 1-45 1 21 1 9 1 4 1 9 1-37 1 15 1-9 1-5 1-4 1-9 1 21 1 5 1-23 1 22 1-17 1-6 1-20 1 45 1-5 1-13 1-2 1-12 1 22 1-7 1 7 1-5 1-21 1-3 1 25 1-27 1 24 1 8 1-29 1 25 1-9 1 6 1-15 1 7 1 5 1 18 1-15 1-3 1-24 1 21 1-14 1 7 1 4 1 9 1-5 1-6 1-4 1 18 1-30 1 12 1 17 1-21 1 13 1 0 1 14 1-12 1-37 1 21 1 3 1 7 1-6 1 19 1-11 1-31 1 7 1-20 1 50 1-25 1-1 1-19 1 16 1 13 1-11 1 1 1-3 1 36 1-33 1-12 1 13 1 3 1 4 1-1 1-11 1 13 1 8 1-23 1 46 1-3 1-47 1 20 1 20 1 5 1 7 1-49 1 11 1 9 1 15 1-21 1 21 1 1 1 4 1-26 1 21 1-1 1-6 1 24 1-21 1 24 1-27 1 33 1 0 1-34 1 17 1 1 1-17 1 25 1-2 1-20 1 14 1 12 1-14 1-6 1 33 1-36 1 19 1 12 1-4 1-35 1 21 1 4 1-1 1 13 1-1 1-5 1 3 1 11 1 4 1-43 1 57 1-37 1 19 1-32 1 16 1-9 1 33 1-2 1-12 1-2 1 9 1-18 1 6 1-2 1 23 1-11 1-17 1 23 1 3 1 12 1-27 1 12 1 23 1-34 1-1 1 12 1-15 1 7 1-8 1-4 1 22 1-18 1-9 1 10 1 1 1 6 1 8 1 11 1-42 1 13 1-22 1 27 1 4 1-17 1-4 1-2 1-7 1 29 1 17 1-43 1 38 1-25 1-18 1 26 1 3 1-6 1-10 1 26 1-27 1 12 1 0 1-22 1-14 1 1 1 18 1 10 1-30 1 14 1 31 1-47 1 31 1-2 1 5 1-31 1 24 1-24 1 37 1-31 1 16 1-16 1 12 1-24 1 25 1 4 1-9 1 22 1-18 1 5 1-4 1 18 1-35 1 5 1 0 1 11 1-5 1 7 1-8 1-12 1 6 1 6 1-38 1 51 1-28 1 3 1 8 1-8 1-17 1 16 1 22 1-5 1 2 1-25 1 4 1 17 1 6 1-21 1-14 1-14 1 46 1-41 1 26 1 6 1 24 1-35 1-4 1 7 1 0 1 12 1-10 1-21 1-19 1 33 1-14 1 29 1-39 1 21 1-14 1-2 1 35 1-22 1-5 1 12 1-22 1 6 1-5 1 37 1-24 1 4 1 6 1-19 1 0 1-21 1 29 1-3 1-9 1 23 1-43 1 32 1-26 1 3 1 14 1 22 1-36 1 3 1-3 1 46 1-21 1-2 1 24 1-26 1-34 1 23 1-10 1 47 1-50 1 25 1-12 1 1 1 7 1-2 1-8 1-9 1 9 1-6 1 2 1 16 1-4 1 9 1-11 1 33 1-40 1-4 1 31 1-27 1 13 1 13 1-16 1-4 1 20 1-9 1-14 1-10 1 13 1-20 1 12 1-3 1 21 1 8 1-22 1 3 1-10 1-5 1 15 1 16 1-2 1 2 1-13 1-37 1 56 1 6 1-6 1 1 1 3 1 25 1-36 1 20 1-11 1-2 1-12 1-3 1-11 1 27 1-14 1-13 1 7 1-6 1 44 1-28 1 6 1-20 1 3 1 33 1-19 1 7 1 25 1 5 1-21 1-3 1-3 1-7 1 35 1-48 1 17 1-27 1 11 1 25 1 1 1-1 1-9 1-5 1 3 1 2 1 23 1 6 1-15 1-14 1-5 1 19 1-8 1-23 1 48 1-20 1-4 1-7 1 0 1 27 1-27 1 16 1 8 1 18 1-17 1-9 1-5 1 19 1 2 1-20 1 16 1-10 1-21 1 9 1 27 1 9 1-10 1-12 1-7 1 18 1-2 1-27 1 32 1-18 1 20 1-2 1 3 1 6 1-5 1-24 1 1 1 29 1-8 1-28 1-7 1 40 1 19 1-20 1-15 1 7 1-40 1 22 1 27 1-2 1-42 1 46 1-9 1 5 1-16 1 3 1-16 1 19 1 8 1-25 1 17 1-12 1 21 1-1 1-46 1 38 1 8 1-22 1 4 1 1 1-14 1 14 1 23 1-15 1 14 1-8 1 3 1-15 1 8 1 17 1-7 1-17 1-14 1-3 1 16 1 2 1-32 1 29 1 1 1-1 1-12 1 39 1-20 1-31 1 9 1 21 1-5 1-5 1-3 1-3 1-3 1-8 1 21 1-44 1 26 1 27 1-29 1-5 1 42 1-12 1-17 1-6 1 4 1-1 1 1 1-7 1 17 1-15 1-18 1 7 1 17 1-14 1-20 1 54 1-14 1-14 1 0 1 14 1 11 1-28 1 14 1-14 1 13 1-21 1-10 1 27 1-3 1 11 1-20 1 28 1-18 1 20 1-26 1 25 1-22 1 3 1 11 1-38 1 9 1 41 1-46 1 15 1 15 1 13 1-27 1 10 1-18 1 11 1 21 1-9 1-5 1 7 1-3 1 1 1-7 1-9 1 25 1-26 1 32 1 17 1-8 1 12 1-49 1 19 1-15 1 2 1-14 1 8 1 32 1-2 1 8 1 0 1-5 1-24 1 11 1 14 1 9 1-25 1-1 1 1 1 32 1-15 1-13 1-7 1 19 1-33 1 23 1-5 1 0 1 13 1 4 1 35 1-40 1 10 1-24 1-13 1 45 1 13 1-47 1 15 1 19 1-16 1-38 1 53 1-18 1 14 1-26 1 29 1 3 1-27 1 19 1-18 1 3 1-6 1 7 1-3 1 29 1-22 1-14 1 40 1-13 1 7 1-16 1 12 1-12 1-13 1 17 1 1 1 0 1 11 1-40 1 32 1-17 1 8 1 12 1-6 1-11 1 23 1-13 1 16 1 5 1-25 1-11 1 19 1 11 1-7 1-23 1-8 1 12 1 0 1 25 1-9 1 13 1-14 1 27 1-25 1 8 1-14 1 13 1 11 1-5 1 8 1-29 1 17 1 19 1-22 1-6 1-1 1-4 1 10 1 20 1-14 1-8 1-12 1-6 1 55 1-45 1 8 1-9 1 10 1-10 1 8 1 21 1-35 1 20 1-10 1 12 1-22 1 16 1-21 1-14 1 8 1 5 1-3 1 12 1 22 1-36 1 25 1-5 1-14 1-4 1 21 1 0 1-13 1 3 1 2 1-21 1 22 1 3 1 22 1-47 1 6 1 14 1-11 1 3 1 6 1-5 1 4 1 7 1-32 1 33 1-44 1 61 1-12 1-24 1 25 1-19 1 9 1 5 1-7 1-6 1 10 1-13 1-3 1-9 1-14 1 52 1-13 1-34 1 28 1-4 1-37 1 21 1 10 1 28 1-10 1 2 1-15 1 10 1-33 1 27 1 1 1-31 1 23 1 19 1 6 1-9 1-33 1 9 1-6 1 26 1-32 1-4 1-9 1 27 1 4 1-17 1-2 1 8 1 23 1-42 1 20 1 3 1 2 1 13 1-6 1-9 1 17 1-5 1-13 1-2 1-22 1 20 1-15 1-5 1 12 1-22 1 12 1 5 1 13 1-11 1 11 1 18 1-12 1-31 1-10 1 13 1-1 1-17 1 4 1-1 1 17 1 30 1 4 1-42 1 8 1-14 1-4 1 24 1 2 1-10 1 19 1-14 1 21 1-24 1 21 1-16 1 5 1 8 1-30 1 9 1 11 1-3 1 8 1-16 1-8 1 19 1 6 1-16 1 30 1-8 1 3 1-1 1-24 1 44 1-41 1 16 1 6 1-6 1-2 1-14 1 6 1 7 1 18 1-28 1 20 1-3 1-5 1-9 1 6 1-23 1 27 1 3 1-11 1 15 1-3 1-15 1 23 1-20 1 43 1-49 1 3 1 3 1 12 1 14 1-15 1-7 1 33 1-13 1-18 1 2 1-19 1 22 1 24 1-41 1-3 1 22 1-36 1 53 1-40 1 11 1 8 1 19 1-11 1-32 1 3 1 27 1-32 1 25 1-7 1 22 1 6 1-51 1 40 1 3 1-19 1 3 1-9 1 12 1 11 1 12 1 2 1-23 1-8 1 25 1-49 1 17 1 28 1 21 1-40 1 12 1-16 1 14 1 0 1-9 1 16 1-8 1 9 1-10 1-14 1 18 1 9 1-22 1 28 1-12 1-11 1 5 1-6 1-7 1 24 1-1 1-18 1 3 1 0 1 11 1 10 1-28 1 12 1-4 1 7 1 12 1-32 1-16 1 25 1-19 1 43 1-32 1 6 1 6 1-1 1-8 1 5 1 12 1-17 1 29 1-20 1-37 1 43 1-35 1 27 1 26 1-16 1-30 1 4 1 10 1 19 1-29 1 24 1-11 1-6 1-1 1 25 1-43 1 4 1 27 1 1 1-31 1 5 1-4 1 23 1-17 1 28 1-9 1-7 1-1 1 4 1 4 1-12 1 3 1 7 1-12 1 14 1-15 1-9 1 12 1 20 1-3 1-41 1 25 1-11 1 2 1-1 1 1 1-4 1 3 1 6 1-19 1-1 1 1 1-1 1 23 1-24 1 14 1 1 1 9 1-10 1 14 1-16 1 4 1 6 1-31 1 25 1 15 1-20 1-5 1 29 1-25 1 15 1-51 1 35 1-9 1 12 1 10 1-19 1-1 1-36 1 49 1 7 1-17 1-9 1 11 1 9 1-6 1 21 1-39 1-12 1 26 1 11 1-25 1 6 1-10 1-10 1 8 1-20 1 34 1 2 1 6 1-26 1 2 1-16 1 3 1 35 1 26 1-57 1 10 1 19 1-25 1 19 1-14 1 0 1 18 1-18 1-16 1 33 1-12 1-8 1-4 1 22 1-19 1 13 1 14 1-16 1 18 1-37 1 31 1-1 1 21 1-27 1 14 1-16 1-13 1 3 1 3 1 23 1-23 1 13 1 14 1 5 1-4 1 9 1-39 1 10 1 13 1 13 1-9 1-19 1 9 1-22 1 38 1-39 1 31 1 14 1-2 1-38 1 28 1-8 1 1 1 31 1-21 1-25 1 6 1 27 1-7 1-20 1-8 1 18 1 2 1 20 1-21 1 20 1 8 1-42 1 16 1 33 1-30 1 7 1 16 1-26 1 5 1-18 1 34 1-15 1 2 1-33 1 54 1-4 1-22 1 31 1-55 1 37 1-24 1 66 1-79 1 21 1 8 1 23 1 1 1-6 1-9 1 36 1-42 1 16 1 21 1-43 1 7 1 28 1-9 1-25 1 20 1 28 1-31 1 15 1-9 1-11 1 33 1-8 1 3 1-18 1 4 1 2 1 3 1-10 1-2 1 26 1-33 1 9 1 2 1-2 1-9 1 7 1 22 1-16 1-4 1 33 1-41 1 33 1-9 1-22 1 13 1 1 1 23 1-5 1-15 1-12 1-6 1 20 1-17 1 15 1-1 1 7 1 8 1-13 1 4 1-10 1 16 1-4 1 10 1-4 1-30 1-11 1 28 1 6 1-26 1 30 1-21 1-3 1 5 1-26 1-4 1 17 1-12 1 15 1-1 1-37 1 24 1 18 1-42 1 28 1-16 1-9 1 43 1-1 1-23 1-2 1 27 1-4 1-18 1 12 1-12 1-7 1 12 1-16 1 14 1-13 1-4 1-3 1 15 1 6 1-8 1-21 1 22 1-24 1-4 1 13 1 14 1-2 1-3 1 12 1-9 1-20 1 17 1-17 1 9 1-1 1-14 1-26 1 16 1-6 1-2 1-8 1-15 1-11 1 29 1-3 1-10 1-10 1 23 1-22 1-13 1 6 1-16 1 6 1-10 1-1 1-10 1-11 1 8 1 3 1-30 1 1 1-11 1 20 1-18 1 9 1-24 1 15 1-21 1-4 1 6 1-16 1-8 1 12 1-16 1 10 1 10 1-42 1-2 1-19 1-2 1 16 1-9 1-6 1-3 1-20 1-16 1 28 1-15 1 5 1-18 1 5 1-19 1 2 1-6 1 2 1 7 1-13 1-38 1 22 1-3 1 4 1-11 1-12 1-5 1 0 1-7 1 15 1-12 1-9 1 4 1 5 1-10 1 14 1 10 1 5 1 17 1 10 1 24 1 12 1 16 1-1 1 27 1-4 1 19 1 25 1 12 1 11 1 18 1-1 1-5 1 8 1 1 1 18 1-3 1 9 1 3 1-1 1 57 1-12 1-29 1 39 1-6 1-14 1 34 1 11 1-8 1-7 1-39 1-3 1-4 1-15 1-15 1-17 1 0 1-43 1-15 1 22 1-28 1-6 1-23 1-19 1-14 1-8 1-19 1-9 1-14 1-6 1-2 1 13 1-14 1 11 1 15 1 0 1-18 1 30 1 2 1 2 1 6 1 4 1 22 1 1 1 2 1 14 1 4 1-10 1 4 1 6 1 21 1-1 1 17 1 0 1 0 1-3 1 16 1 29 1-20 1 5 1 12 1 21 1-6 1-4 1 11 1 11 1 9 1 15 1 21 1-5 1 0 1 0 1-1 1 20 1 13 1 2 1-2 1 14 1-2 1 7 1 6 1 9 1 5 1 17 1-3 1 0 1 13 1-2 1 6 1-17 1 22 1-12 1-9 1 11 1-10 1 4 1 8 1 16 1-24 1 20 1-5 1 22 1-14 1 6 1 11 1-27 1 10 1-12 1 9 1 15 1-4 1 8 1-8 1-2 1 8 1-7 1-2 1-4 1 19 1 9 1-20 1 11 1-21 1 15 1 17 1-16 1 24 1-9 1 11 1-11 1-12 1 19 1 9 1-17 1 11 1-15 1 5 1 20 1-17 1-13 1 20 1-8 1-8 1 16 1-45 1 42 1 17 1-21 1-29 1 42 1 14 1-25 1-22 1 4 1 7 1 4 1 12 1-8 1-38 1 25 1 2 1 26 1-33 1-11 1 14 1 7 1-28 1 38 1-17 1 12 1-2 1-3 1 11 1 3 1-27 1 4 1 14 1-12 1-11 1 9 1-13 1 4 1-29 1 36 1 22 1-15 1-2 1-8 1-14 1 14 1-8 1-4 1 3 1-12 1 7 1 5 1 2 1-13 1 7 1-10 1-34 1 3 1 20 1-13 1 19 1-26 1 10 1-4 1-4 1 0 1 5 1 0 1-10 1 7 1 3 1-11 1-9 1-1 1 0 1-2 1 6 1 32 1-22 1-17 1 6 1-2 1 7 1 0 1-33 1 40 1-42 1 10 1-14 1-13 1-3 1 47 1-8 1-34 1-4 1 32 1-33 1 19 1 22 1-16 1 11 1-16 1-25 1 13 1-12 1 28 1-21 1 20 1-7 1-2 1 17 1-12 1-5 1 26 1-13 1-19 1 35 1-37 1 22 1 2 1-12 1-9 1 6 1-2 1-12 1 27 1-23 1-3 1 29 1-32 1-13 1 21 1-1 1-1 1 30 1-41 1 27 1-8 1 8 1-25 1-5 1 2 1 10 1 13 1 13 1-48 1 45 1-7 1-2 1-13 1 23 1-29 1 48 1-29 1 15 1 2 1 14 1-25 1 34 1-3 1 19 1-15 1-3 1-21 1 24 1 30 1-26 1 3 1 7 1 17 1-33 1 51 1-13 1 4 1-9 1 26 1-31 1 16 1-9 1-17 1 15 1 11 1-12 1-2 1 6 1-11 1-3 1 16 1-13 1 20 1 2 1 8 1-4 1-16 1 9 1-20 1 21 1-12 1 25 1-27 1 12 1-12 1 19 1 0 1-21 1 39 1-19 1-25 1 7 1-11 1-2 1 24 1-25 1 33 1-26 1 16 1 28 1-27 1 5 1 17 1-20 1 11 1-17 1 6 1 7 1-1 1-10 1 13 1 5 1 1 1-8 1-12 1 22 1 2 1-24 1-17 1 28 1 16 1-1 1-27 1 33 1-29 1 24 1-18 1 18 1-7 1-10 1 13 1-19 1 3 1 1 1-8 1 24 1 0 1-13 1-13 1 19 1-3 1 5 1-9 1-4 1 22 1-28 1 6 1-22 1 19 1-2 1 2 1 12 1-17 1 14 1-11 1-1 1-20 1 31 1 3 1-23 1 5 1-18 1 21 1-11 1 20 1-7 1 10 1-21 1-13 1 23 1-7 1 34 1-23 1 17 1-13 1-13 1-18 1 19 1 12 1-8 1 3 1 0 1-25 1 24 1-17 1 11 1 21 1-50 1 25 1 9 1 11 1-14 1-13 1 24 1-3 1-34 1 27 1-25 1-13 1 24 1 1 1-17 1 58 1-45 1 24 1 6 1 21 1-36 1 28 1-38 1 16 1-5 1-8 1 19 1 22 1 3 1-19 1-25 1 5 1 20 1 0 1 0 1-11 1-8 1 14 1-11 1 16 1-34 1 18 1 4 1 5 1-4 1-50 1-7 1 17 1-20 1-30 1 60 1-20 1 5 1-19 1 14 1-20 1-7 1 30 1-63 1 32 1-39 1 60 1-30 1-17 1-9 1 31 1 41 1-25 1-34 1-7 1 84 1-54 1-14 1 29 1 9 1 18 1-27 1-7 1 24 1-22 1 21 1-2 1 15 1-24 1 2 1 16 1 4 1-26 1 11 1 16 1-6 1 39 1-20 1 7 1-19 1 1 1 0 1 13 1-21 1 26 1-33 1 24 1-11 1-10 1 27 1-9 1-17 1-9 1 22 1-24 1 19 1-22 1 14 1-15 1 9 1 27 1 0 1-33 1 2 1-22 1 29 1 12 1-31 1-2 1 19 1-15 1 11 1 22 1-16 1 4 1 19 1-25 1 8 1-9 1-12 1 37 1-46 1 24 1-19 1 6 1-7 1 17 1 12 1 13 1-48 1 33 1-9 1-3 1 8 1 6 1-4 1 2 1 34 1-31 1 4 1-22 1 35 1-24 1 7 1-10 1 11 1-12 1-5 1-1 1 16 1 7 1 11 1 15 1 4 1-37 1-1 1 23 1-24 1 31 1 0 1-30 1 26 1 12 1-15 1-10 1 2 1 8 1-23 1 12 1-13 1-12 1-8 1 18 1-26 1 12 1-34 1 19 1-1 1-1 1 3 1-10 1-4 1-15 1-15 1-6 1 1 1 8 1 5 1-13 1-6 1 2 1-18 1 2 1-8 1-1 1-10 1-16 1 6 1-9 1 22 1-8 1-27 1-7 1 4 1-20 1 21 1-17 1-9 1 9 1-3 1-16 1 3 1-29 1 3 1-5 1-12 1 23 1 18 1-26 1 12 1 19 1-7 1 8 1-1 1 15 1-7 1 21 1 3 1 4 1-5 1 10 1 12 1-7 1 4 1-7 1 22 1 8 1 16 1-15 1 3 1 31 1 4 1-17 1 12 1-8 1 23 1 19 1 0 1-14 1 19 1-5 1 16 1-3 1 17 1 12 1-4 1 5 1 6 1 10 1-8 1 8 1 5 1 22 1-8 1 10 1-5 1-10 1 12 1 9 1-8 1-3 1 3 1 11 1-1 1-5 1-10 1 3 1 41 1-34 1 10 1-3 1-20 1 33 1-15 1-11 1 20 1-15 1 11 1-20 1 15 1 10 1-13 1-11 1 7 1 19 1-27 1 2 1 28 1-8 1-2 1-4 1 11 1 6 1-5 1-27 1 30 1-28 1 43 1-27 1 14 1-3 1-12 1 24 1-12 1 25 1-18 1-4 1 29 1-14 1-18 1-10 1 37 1-9 1 0 1-21 1-4 1-4 1 28 1-17 1 11 1-38 1 43 1-24 1-27 1 20 1 23 1 15 1-58 1 19 1 20 1-23 1 15 1-8 1 15 1-21 1 15 1-6 1 13 1-3 1 15 1-10 1 20 1-45 1 18 1 14 1-9 1-37 1 40 1-10 1 40 1-35 1 11 1-22 1 22 1-46 1 23 1 9 1-17 1 35 1-13 1 23 1-42 1 8 1 20 1-15 1 18 1-2 1-19 1 12 1 5 1-3 1-7 1-3 1 3 1 17 1 15 1-48 1 6 1 12 1 22 1-32 1 44 1 0 1-64 1 42 1-1 1-14 1-20 1 30 1-9 1 21 1-8 1-21 1 40 1-1 1-5 1-19 1 12 1-11 1-9 1-18 1 29 1-31 1 37 1-28 1 22 1-7 1-12 1 1 1 7 1 29 1-16 1-9 1 16 1-28 1-5 1 8 1 28 1-19 1 6 1 0 1-8 1 24 1-8 1-22 1-3 1 14 1-12 1 13 1 11 1-10 1 2 1-10 1-5 1-3 1 35 1-31 1 13 1 0 1 5 1-11 1-20 1 56 1-47 1 25 1-26 1 27 1-26 1 42 1-19 1-31 1 50 1-55 1 24 1 22 1-23 1 26 1-19 1-10 1 29 1-19 1-8 1 22 1-18 1-18 1 10 1 51 1-3 1-67 1 30 1-1 1-31 1 8 1-33 1 3 1 13 1-24 1-8 1-9 1-22 1-3 1 0 1-2 1-17 1 29 1-55 1 2 1-2 1 7 1-31 1 13 1-20 1-6 1 7 1-3 1-5 1-32 1 17 1-7 1-15 1-6 1-12 1-10 1 2 1 1 1-28 1-2 1-2 1-31 1 22 1-21 1 3 1-25 1-13 1-1 1-4 1-19 1 8 1-14 1-19 1 5 1-13 1-3 1 3 1 3 1 2 1 18 1 5 1 10 1-4 1 16 1 10 1-12 1 18 1 25 1-19 1 8 1 9 1 2 1 18 1-2 1 6 1 0 1 18 1 0 1 5 1 8 1 27 1-8 1 10 1 19 1-7 1 19 1-14 1 26 1-24 1 34 1 1 1 4 1 30 1 3 1 10 1 16 1-5 1 8 1 0 1 34 1-6 1-15 1 6 1 10 1 7 1 37 1-6 1 19 1-20 1 8 1 38 1-43 1 13 1-14 1 23 1 51 1-52 1 29 1 9 1-36 1 0 1 17 1 5 1-34 1 12 1 38 1-38 1 19 1 11 1-21 1 2 1-5 1-1 1 1 1-16 1 18 1 5 1 15 1-18 1-3 1 40 1-30 1-3 1-4 1 9 1-14 1 6 1-5 1-5 1 12 1-14 1 49 1-45 1 46 1-22 1 9 1 9 1-48 1 52 1-18 1-15 1-4 1 18 1-30 1 53 1-30 1 15 1-10 1-8 1 1 1-7 1 34 1-20 1 9 1-1 1 4 1-3 1 13 1-30 1-5 1 14 1-3 1 7 1 17 1-3 1-5 1-21 1 20 1-4 1 9 1-12 1-6 1 9 1-13 1-2 1 18 1-4 1 16 1-13 1-20 1 40 1 4 1-43 1 8 1 25 1-13 1-25 1 40 1-16 1 3 1 13 1-28 1-1 1 21 1 5 1-13 1 16 1-11 1 10 1-29 1 9 1 19 1-28 1 0 1 14 1-6 1-10 1-10 1 45 1-20 1 21 1-35 1 14 1-3 1 4 1-25 1 42 1-23 1 8 1-18 1 37 1-45 1 50 1-33 1 0 1-4 1 30 1-33 1 0 1-1 1 21 1 0 1-18 1 18 1 15 1-12 1-5 1-20 1 37 1-12 1-31 1 10 1-28 1 46 1-25 1 14 1 24 1-41 1 33 1-17 1-11 1 34 1-12 1-16 1 17 1-16 1-3 1 6 1 20 1-37 1 4 1 31 1-32 1 17 1-1 1-14 1 7 1 9 1 1 1 10 1-6 1 10 1-10 1-9 1 15 1-3 1 6 1-14 1 0 1 1 1-19 1 27 1-16 1-1 1 6 1 33 1-39 1 31 1-49 1 25 1 30 1-24 1 3 1-13 1-19 1 34 1 6 1 1 1 12 1-27 1 8 1-36 1 25 1 6 1 15 1 8 1-3 1-15 1-8 1 0 1 1 1 2 1 14 1-18 1-20 1 6 1 53 1-18 1-25 1 3 1 13 1-5 1 0 1-31 1 8 1 20 1 8 1-5 1 17 1-21 1 3 1-3 1 13 1-22 1 36 1-42 1 25 1-1 1 12 1-37 1 3 1 9 1 13 1 2 1-46 1 30 1 8 1 1 1 0 1-6 1 3 1-27 1 37 1-44 1 30 1-10 1 17 1-18 1 25 1-7 1 3 1 7 1 1 1-19 1 14 1-4 1 3 1-8 1-36 1 30 1 4 1-7 1-3 1 12 1-12 1 19 1 8 1-17 1 11 1-27 1 2 1 9 1-8 1 13 1 1 1 20 1-28 1 24 1-31 1 11 1 14 1-7 1-37 1 32 1 7 1-26 1 14 1 2 1 9 1 12 1-35 1 6 1 33 1-5 1 7 1-23 1 14 1-46 1 38 1-19 1-6 1 5 1 28 1 6 1-26 1 1 1 21 1-25 1 13 1 5 1 7 1-19 1-33 1 34 1 12 1-16 1-1 1-6 1 19 1-4 1 2 1-4 1 17 1-12 1-6 1-14 1 10 1 5 1 20 1-13 1-11 1 14 1-1 1-15 1 13 1-21 1 16 1 25 1-14 1-5 1 3 1-2 1-26 1 10 1-4 1 16 1 5 1 15 1-29 1-14 1 19 1-5 1 4 1-3 1 6 1-15 1 12 1 9 1-11 1 4 1-16 1 20 1-13 1-8 1 6 1-3 1 3 1-5 1 29 1-11 1-6 1 0 1-8 1 12 1-14 1 2 1-10 1 26 1 0 1-2 1 0 1-46 1 32 1 12 1-7 1-28 1 25 1 5 1-17 1-8 1 7 1-29 1 39 1-15 1 7 1 2 1 1 1 21 1-32 1 8 1-26 1 19 1-17 1 36 1-11 1-8 1 19 1-25 1 11 1-9 1-2 1 9 1-5 1 6 1-13 1-6 1 38 1-13 1-10 1 7 1-16 1 18 1-25 1 26 1-2 1-6 1 11 1-11 1 23 1-14 1-29 1 7 1 35 1-30 1 12 1-12 1 27 1-6 1-4 1-16 1 1 1 22 1-26 1-21 1 49 1-8 1-31 1 21 1 4 1-5 1 19 1-5 1-28 1 9 1 14 1 0 1-17 1 19 1-26 1 22 1-35 1 30 1 20 1-7 1-31 1-26 1 40 1 10 1-13 1 2 1-22 1 11 1-10 1-1 1 10 1 26 1-14 1-16 1 8 1-11 1 5 1 10 1-23 1 24 1-12 1 22 1-27 1 15 1-14 1 18 1-31 1 16 1-4 1-10 1 16 1 2 1-5 1-6 1 4 1-1 1 24 1-7 1 10 1-5 1 11 1-23 1 3 1-2 1-7 1 14 1-4 1 2 1-3 1 10 1-33 1 26 1-8 1-8 1 4 1 11 1 4 1-14 1 12 1-5 1 9 1-1 1-3 1-15 1-10 1 33 1-30 1 22 1-10 1 20 1-23 1-3 1-23 1 35 1-8 1-8 1 2 1 22 1-12 1 6 1-14 1 7 1 8 1-16 1 20 1-20 1 28 1-32 1 1 1 7 1-6 1 3 1 1 1 16 1-22 1 21 1-3 1-10 1-4 1 28 1-58 1 27 1 5 1 9 1-7 1 12 1-5 1 8 1-22 1 14 1 16 1-30 1 11 1-21 1 24 1-15 1 18 1-23 1 16 1-14 1 13 1 6 1 25 1-24 1 0 1 19 1-10 1-28 1 21 1-5 1 9 1-4 1-30 1 16 1 31 1-12 1-23 1 5 1 3 1-14 1-19 1 44 1-21 1 5 1-1 1 5 1-1 1 27 1-25 1 12 1-8 1 18 1-15 1-29 1 52 1-2 1-13 1-30 1 39 1-13 1-16 1 4 1 23 1-24 1 7 1-8 1 18 1-19 1 20 1-12 1 32 1-34 1 8 1 12 1-1 1-32 1 23 1 3 1 4 1-11 1 23 1-1 1-24 1-9 1 14 1 9 1 7 1-30 1 7 1-18 1 14 1 29 1 14 1-19 1-11 1-2 1 31 1-10 1-13 1-10 1-3 1 10 1 25 1-27 1-2 1 9 1-7 1 16 1-26 1 15 1-11 1 21 1-9 1-13 1 3 1 7 1 20 1-12 1-4 1-17 1-7 1-1 1 13 1 14 1-5 1 15 1-30 1 12 1-1 1-10 1-16 1 19 1 24 1-36 1 35 1 1 1-14 1 6 1-6 1 2 1 20 1-4 1-2 1-10 1-5 1 6 1-21 1 5 1 13 1-25 1 25 1-2 1-1 1 1 1-7 1 37 1-54 1 16 1-14 1 29 1 8 1 12 1-35 1 20 1-22 1 12 1 10 1-29 1 18 1-7 1 14 1 6 1-31 1 19 1-17 1-13 1 17 1 6 1-7 1 1 1 33 1-16 1 14 1 4 1-17 1 34 1-29 1-4 1-13 1 7 1 9 1-3 1 2 1 2 1-24 1 8 1 6 1-2 1-11 1 17 1-11 1 26 1-24 1 14 1-30 1 25 1 16 1-13 1 8 1-6 1-7 1 11 1-1 1 0 1-13 1 1 1-28 1 36 1-15 1 3 1 22 1-9 1 3 1-16 1 17 1-7 1 2 1-4 1 24 1-38 1 18 1 1 1 9 1-6 1-14 1 9 1 19 1-7 1-20 1 8 1-5 1 21 1-25 1 24 1 5 1-25 1 33 1-35 1 1 1 13 1-18 1 8 1-18 1 11 1 7 1-21 1 29 1 1 1-13 1 11 1 0 1-21 1 19 1-5 1-12 1 14 1-21 1-23 1 45 1-3 1 22 1-30 1 17 1-26 1-4 1 12 1 8 1-4 1 17 1 1 1-36 1 11 1 34 1-7 1-36 1 6 1 40 1-43 1 32 1-48 1 26 1-12 1 20 1 14 1-12 1 8 1 2 1 7 1-20 1-34 1 6 1 36 1-4 1 7 1-22 1-2 1-22 1 11 1 14 1-8 1-15 1 46 1-22 1 4 1-3 1-2 1-16 1 29 1-22 1-7 1 34 1-17 1 7 1-38 1 56 1-40 1-5 1 11 1-9 1 1 1 21 1 15 1-26 1 3 1 1 1 2 1-23 1 45 1-48 1 12 1 41 1-34 1-14 1 17 1 34 1-35 1-18 1 20 1 1 1-17 1 16 1-39 1 42 1-4 1-2 1-12 1 31 1-11 1 10 1-30 1 21 1 15 1-5 1-37 1 14 1-10 1 5 1 4 1 27 1-4 1-26 1 16 1-23 1-11 1-10 1 16 1 44 1-28 1 5 1 7 1-47 1 27 1 4 1 19 1-14 1-33 1-1 1 31 1-1 1-26 1 0 1 23 1-22 1 26 1-10 1-1 1 35 1-44 1-5 1 9 1-29 1 49 1-2 1-9 1-2 1-2 1-23 1 22 1 1 1 13 1-8 1 11 1-6 1-42 1 19 1 22 1-17 1 6 1 13 1-28 1 18 1 22 1-25 1-12 1 11 1-6 1-14 1 29 1-10 1-29 1 47 1-33 1 15 1 6 1-10 1-17 1-17 1 27 1 12 1-24 1 9 1 21 1-37 1 50 1-37 1-26 1 19 1-13 1 18 1-39 1 23 1-27 1 15 1 11 1-21 1 12 1-24 1 11 1-23 1 1 1 0 1-21 1 3 1 0 1 22 1-21 1-17 1-4 1 8 1-14 1 9 1-16 1-3 1 4 1-41 1 21 1-44 1-23 1 1 1-13 1-15 1-23 1-27 1-12 1-14 1-11 1-17 1-18 1-16 1-39 1-2 1 27 1 3 1 17 1 10 1 19 1 11 1 3 1 35 1 15 1 3 1 4 1 30 1 6 1 36 1 3 1 1 1 23 1 41 1-6 1 0 1 11 1-4 1 27 1-20 1 28 1 10 1 4 1-7 1 2 1 11 1 8 1 9 1-2 1 9 1-4 1 1 1 29 1-3 1 9 1 17 1-25 1 7 1 8 1 22 1-26 1 16 1 25 1-27 1 31 1 13 1-16 1-17 1 5 1-7 1 13 1 14 1 1 1-45 1 20 1 16 1-10 1-29 1 37 1 5 1-7 1-1 1 14 1-33 1 16 1 10 1 32 1-48 1 22 1 13 1-13 1 1 1 6 1-43 1 33 1-14 1 28 1-15 1-3 1 0 1-21 1 31 1-36 1 20 1-2 1 20 1-14 1-13 1 23 1 15 1-40 1 35 1-29 1 6 1 1 1-13 1 40 1-13 1-2 1-29 1 30 1-23 1 34 1-47 1 37 1-34 1 2 1 25 1 10 1 4 1-23 1-2 1 22 1-31 1 1 1 25 1-1 1-6 1 18 1-44 1 33 1 26 1-40 1-13 1 39 1-10 1 10 1-8 1-18 1 4 1-15 1 59 1-54 1 9 1-5 1 17 1 16 1-30 1 15 1 4 1 23 1-38 1 8 1 22 1-48 1 22 1 2 1-19 1 14 1 7 1 14 1-3 1-23 1-6 1 29 1-38 1 15 1-9 1-7 1 28 1-26 1 12 1 29 1 5 1-45 1 7 1 1 1-7 1 40 1-7 1-6 1-22 1 26 1-8 1-4 1 9 1 12 1-21 1-5 1-9 1 35 1-13 1-43 1 38 1 9 1-34 1 1 1 37 1-20 1-17 1 22 1 5 1-19 1 2 1 12 1-1 1 26 1-7 1-11 1-17 1 1 1-23 1 30 1-4 1-4 1 20 1 7 1-43 1 31 1 1 1-15 1-1 1 33 1-13 1 19 1-40 1-4 1 11 1 16 1 6 1 9 1-36 1-11 1 34 1-1 1-4 1 12 1-31 1-12 1 51 1-24 1-8 1 15 1 20 1-28 1 22 1-23 1 25 1-23 1 14 1-17 1 8 1-5 1-9 1 8 1 8 1-11 1-6 1 13 1 15 1-21 1-13 1 2 1 12 1 23 1-37 1 30 1-18 1-7 1 2 1 24 1-23 1 26 1 9 1-40 1-6 1-7 1 32 1-19 1 3 1-2 1 30 1-10 1 0 1-33 1 13 1 11 1-1 1 6 1 18 1-13 1 2 1-13 1-4 1-1 1 6 1-22 1 15 1 9 1-7 1 6 1-25 1 18 1 8 1 16 1-15 1-4 1-5 1 8 1-7 1 16 1-18 1 17 1-19 1-12 1 0 1 32 1-21 1 1 1 41 1-51 1 15 1-18 1 9 1 15 1-11 1 29 1-39 1 3 1-10 1 19 1-11 1 8 1-9 1 16 1-15 1 9 1-3 1-9 1 10 1-1 1 7 1-33 1 44 1-18 1 4 1 1 1-25 1 27 1-6 1-11 1 16 1-14 1-9 1 23 1-2 1-6 1-6 1 21 1-27 1 9 1-5 1-1 1 8 1-18 1 18 1-3 1-8 1-6 1-8 1 18 1 19 1-29 1-4 1 3 1 11 1 2 1-2 1-5 1-15 1 26 1-16 1 8 1-4 1-1 1 9 1-8 1 22 1-8 1-7 1-14 1 12 1-5 1 3 1-7 1-13 1 0 1 10 1 10 1-11 1-6 1 4 1 10 1-14 1-1 1 8 1 6 1-22 1 9 1 4 1-5 1 11 1 4 1-20 1 38 1-24 1 14 1-10 1-32 1 6 1 19 1 3 1 1 1-33 1 17 1 13 1 10 1-9 1-25 1 10 1 3 1-2 1 19 1 2 1 1 1-31 1-3 1-3 1 16 1 4 1-20 1 22 1-5 1-31 1-17 1-43 1-26 1 4 1-46 1-11 1-42 1-40 1 1 1-41 1-21 1-11 1-44 1-15 1-11 1 18 1-10 1 20 1 6 1 26 1-2 1 27 1-10 1 29 1 18 1 5 1 6 1 7 1 4 1 33 1 12 1 6 1-5 1 15 1 20 1 31 1 14 1 2 1-15 1-2 1 27 1 10 1 18 1-24 1 27 1-12 1 15 1-9 1 6 1 3 1 9 1-4 1 6 1 17 1-12 1 14 1 2 1 9 1 21 1-18 1 32 1-35 1 15 1 23 1-31 1 30 1 9 1-21 1 34 1 5 1-21 1 0 1 10 1 2 1-17 1 1 1 29 1-21 1-4 1-8 1-22 1 31 1 3 1-2 1-1 1 13 1-7 1 0 1-5 1-1 1 5 1-9 1 23 1-11 1-3 1 26 1-15 1-24 1 4 1 9 1-4 1 23 1-7 1 2 1 2 1-1 1-34 1 5 1 5 1 20 1-4 1 21 1-6 1 1 1-26 1 8 1 14 1-27 1 6 1 33 1 4 1-51 1 23 1-15 1-10 1 15 1 19 1 1 1-5 1 15 1-29 1 8 1 24 1-10 1-22 1-6 1 17 1 2 1 2 1-7 1 4 1-11 1 8 1-8 1-9 1 19 1-13 1 0 1 18 1-3 1 21 1-3 1-28 1 1 1-5 1-10 1 40 1-12 1-17 1 31 1-15 1 1 1-16 1-27 1 41 1-19 1-10 1 27 1 1 1-21 1 12 1 7 1-6 1-9 1 28 1-24 1 19 1-17 1-3 1 21 1-26 1 14 1 2 1 8 1-16 1-21 1-2 1-1 1 8 1 14 1-3 1-3 1 5 1-8 1 9 1 2 1 27 1-32 1 0 1-1 1-8 1 22 1-28 1 45 1-50 1 21 1 14 1-6 1 3 1-31 1 32 1-4 1 13 1-21 1 1 1-23 1 29 1-22 1 20 1 19 1-37 1 15 1-10 1-2 1-18 1 20 1 10 1 13 1 4 1-24 1 14 1-14 1-11 1 6 1 18 1-3 1-33 1 30 1-12 1 13 1-6 1-20 1-2 1 17 1 1 1 2 1-18 1 35 1-52 1 50 1-21 1-5 1 30 1-24 1 2 1-8 1 14 1 0 1 12 1-4 1-16 1-9 1 3 1-5 1 4 1-2 1 12 1-3 1-12 1 13 1-34 1 29 1-31 1 26 1 14 1-7 1-18 1 12 1 1 1-7 1 10 1-11 1-3 1-2 1 19 1-19 1-8 1 31 1-21 1-10 1 28 1-17 1 0 1-4 1 20 1 0 1 4 1-23 1 41 1-40 1-8 1 11 1-20 1 13 1 5 1 8 1 16 1-12 1-10 1 4 1-17 1 36 1-16 1 3 1-13 1-4 1-2 1 2 1 4 1 19 1-20 1 17 1 4 1-6 1 6 1-42 1 35 1-10 1 25 1-13 1-9 1 5 1 2 1 21 1-28 1 9 1-11 1 11 1 2 1-3 1-4 1 23 1-6 1-8 1-14 1 14 1-4 1 11 1-5 1-16 1 17 1 17 1-17 1-22 1 9 1 19 1 4 1-37 1 35 1 9 1-3 1-37 1 18 1 18 1-7 1-15 1-8 1 12 1 8 1-20 1 11 1 20 1 0 1-15 1 16 1-20 1-6 1-1 1-5 1 8 1 2 1 33 1-15 1 17 1-43 1 23 1-16 1-13 1 28 1-17 1 19 1 25 1-33 1-3 1-8 1-11 1 17 1-7 1 13 1-7 1 8 1 3 1 9 1-32 1 4 1 30 1-8 1-22 1 44 1-71 1 30 1 1 1 11 1-25 1 17 1 3 1 12 1-41 1 16 1 0 1 21 1 13 1-4 1-32 1 12 1-6 1 2 1-10 1 12 1-4 1 9 1-11 1 36 1-56 1 14 1 0 1 9 1 10 1-13 1 36 1-31 1 14 1-20 1-10 1 43 1-45 1-9 1 10 1 12 1 16 1-23 1 0 1 7 1 7 1-22 1 15 1-12 1 13 1 0 1 7 1 11 1-32 1-5 1 13 1-1 1 0 1 9 1-10 1 9 1-12 1-3 1-11 1 19 1-9 1 14 1-8 1-17 1 9 1-6 1-1 1-18 1 20 1-3 1-18 1 19 1 0 1-22 1-1 1 18 1 6 1-8 1-29 1 8 1 21 1-22 1 27 1 0 1-28 1 14 1 5 1-16 1-25 1-9 1-10 1 8 1-24 1-6 1-24 1-9 1-8 1-25 1-18 1 0 1-21 1-14 1-14 1-18 1 11 1 0 1 12 1 14 1 2 1 27 1 13 1-8 1 17 1 11 1 10 1 14 1 12 1 2 1 22 1-13 1 18 1 27 1-1 1 14 1-6 1-9 1-37 1-11 1-13 1-14 1-5 1-32 1 6 1-17 1-1 1-38 1 4 1-22 1-16 1 0 1-14 1-32 1 5 1-23 1-14 1-14 1-10 1-18 1-8 1-34 1 14 1-19 1-16 1 14 1 2 1 13 1 10 1 2 1-20 1 40 1-3 1 11 1-6 1 12 1 6 1 14 1 8 1 3 1 6 1 12 1 9 1 3 1-3 1 17 1-6 1 16 1 20 1-18 1 12 1-2 1 47 1-7 1 12 1 7 1 5 1 1 1 20 1-3 1 24 1 19 1 16 1-23 1 14 1 3 1 1 1 14 1 19 1 21 1 11 1-13 1 25 1 0 1 14 1 17 1-8 1-12 1-18 1-11 1-12 1-8 1-19 1-6 1-14 1 0 1-34 1-6 1-7 1-13 1-31 1 19 1-8 1-40 1-8 1 12 1-36 1 2 1-13 1-14 1-5 1-22 1 3 1 16 1 10 1 11 1 12 1 13 1-1 1 2 1 12 1-8 1 11 1 7 1 0 1 29 1-10 1 3 1 11 1 32 1 7 1-2 1 13 1-16 1 18 1 20 1-4 1 4 1 16 1 23 1 15 1-15 1 31 1-16 1 21 1 7 1 6 1 28 1 0 1 2 1 18 1-8 1 19 1 18 1-1 1 19 1-28 1 0 1 12 1 2 1-1 1 21 1-9 1-12 1 5 1 14 1-17 1 20 1-14 1 12 1 6 1-19 1 14 1 2 1 8 1 10 1-9 1-14 1 14 1-5 1 11 1 15 1-1 1 4 1-25 1-11 1 9 1 12 1-7 1-7 1 14 1 17 1-19 1 9 1 22 1-34 1 18 1-29 1 8 1 9 1 17 1-12 1-8 1 15 1 12 1 0 1-31 1 20 1-16 1 17 1 6 1-30 1 44 1-54 1 28 1-26 1 17 1 29 1-3 1 8 1-31 1-8 1 0 1 52 1-24 1-27 1 13 1-1 1 15 1-22 1-16 1 14 1 19 1-6 1-9 1-10 1 35 1-8 1-21 1 5 1 34 1-30 1 23 1-21 1 0 1-4 1 16 1-2 1-19 1 38 1-31 1-2 1 26 1-29 1 9 1 7 1 10 1-38 1 10 1-21 1 44 1-4 1 5 1-4 1-14 1 18 1-24 1 2 1 9 1 20 1-35 1 62 1-53 1-12 1 26 1-15 1 23 1 4 1-29 1 23 1-16 1 13 1-12 1 6 1 7 1 16 1-28 1 18 1 12 1-36 1 29 1-22 1 10 1 2 1-11 1 26 1-4 1-17 1-2 1 1 1 7 1 0 1-29 1 31 1-3 1-13 1-6 1-14 1 30 1-15 1 3 1 44 1-59 1-7 1 39 1-37 1 17 1 9 1-15 1 31 1-17 1 2 1-13 1-5 1 12 1 30 1-28 1 9 1-2 1-19 1 23 1-18 1-18 1-1 1 35 1 18 1-18 1 6 1-32 1-20 1 61 1-11 1-37 1 26 1-3 1-2 1-13 1 20 1 4 1-29 1 25 1-26 1 30 1-13 1 16 1-7 1-29 1 8 1 16 1 6 1 9 1-33 1 14 1 35 1-32 1-14 1-11 1 30 1 6 1-23 1 22 1 3 1 5 1-11 1-12 1-7 1 22 1-30 1 38 1-12 1-12 1-21 1 13 1-9 1 5 1 20 1 24 1-45 1 2 1 39 1-27 1 3 1-15 1 31 1-21 1 9 1 1 1 9 1-16 1-14 1 15 1-9 1-24 1 16 1-13 1 18 1-5 1 1 1-18 1 30 1-5 1 12 1-33 1 10 1-3 1 15 1-17 1 18 1-24 1 21 1-4 1-4 1-2 1 1 1 15 1 0 1-2 1-11 1-10 1-2 1 5 1 2 1-8 1-10 1 2 1 26 1-22 1 9 1-6 1 10 1-8 1 20 1-14 1-21 1 17 1-17 1 10 1 15 1-45 1 17 1-20 1 5 1-26 1 2 1-23 1 4 1-24 1-24 1 1 1-13 1 11 1-43 1-21 1 24 1-34 1-24 1-2 1-9 1-7 1 19 1-39 1-1 1-13 1-22 1-24 1 27 1-35 1-15 1 3 1-22 1 6 1 16 1-12 1 9 1-4 1 20 1-27 1-7 1 27 1-2 1 31 1-23 1 2 1 8 1-2 1 5 1-12 1 7 1 18 1-22 1 10 1 8 1 6 1-4 1 7 1 7 1 1 1 0 1 19 1-2 1 8 1 25 1 0 1-7 1 2 1 17 1 18 1 11 1 1 1 28 1-13 1-1 1 17 1 16 1 1 1 5 1 16 1 3 1 11 1-15 1 14 1 5 1 4 1 26 1-10 1 6 1-13 1 16 1 15 1 1 1-7 1 25 1-3 1 20 1 1 1 10 1-18 1 9 1 24 1 23 1-24 1 0 1-12 1 32 1-22 1-4 1 6 1-11 1 16 1-6 1-4 1-15 1 4 1 10 1-24 1 18 1 11 1 0 1 29 1-53 1 23 1-2 1 9 1-6 1-6 1 12 1-5 1 32 1-32 1 11 1 6 1-5 1-8 1 2 1-1 1-8 1 13 1 20 1-1 1-30 1 23 1-11 1-1 1-1 1 15 1-22 1 1 1 27 1-38 1 17 1 12 1-5 1-3 1 28 1-6 1-12 1 9 1-13 1-3 1 20 1 3 1-32 1 34 1 7 1-13 1-26 1 23 1-16 1 22 1-14 1-1 1-8 1 9 1 3 1-17 1 9 1-4 1 22 1-9 1-7 1 16 1-9 1-3 1-2 1 15 1-9 1-18 1 5 1-4 1-25 1 23 1-4 1-26 1 10 1-11 1-10 1-16 1 17 1-20 1-16 1 6 1-12 1-16 1 7 1-10 1-26 1 9 1-3 1 7 1 6 1-4 1 4 1-8 1 12 1-1 1 17 1 6 1-11 1-10 1 25 1 9 1-7 1-6 1 21 1-9 1 11 1 2 1 11 1-14 1 26 1-4 1 19 1-24 1-6 1 21 1-7 1 16 1-14 1 23 1-15 1-2 1-15 1-19 1 14 1-7 1-5 1-26 1-2 1-4 1-18 1-3 1-7 1-1 1-33 1 23 1-21 1-8 1-14 1 8 1-12 1-13 1 1 1-23 1 5 1-24 1-4 1 12 1-31 1-10 1-3 1-5 1-5 1-12 1-10 1-8 1 15 1-47 1 10 1-4 1-25 1 6 1-9 1-38 1 34 1-17 1-13 1-20 1-3 1-7 1 1 1 17 1-28 1 0 1 17 1 14 1-16 1 18 1-12 1 6 1 2 1 5 1 4 1-6 1-7 1-4 1 29 1-8 1 9 1-17 1 15 1 4 1 5 1-12 1 16 1-22 1 19 1-1 1 4 1 23 1 17 1-11 1 10 1 6 1 8 1 22 1 10 1-20 1 29 1 6 1-2 1-6 1 24 1-4 1 25 1 7 1 19 1-14 1 15 1 2 1 15 1-8 1 6 1-3 1 16 1 5 1 21 1-10 1-2 1 17 1 3 1-10 1 10 1-1 1 5 1 7 1 1 1 0 1 14 1-5 1-9 1 16 1 20 1-3 1 6 1 1 1-6 1-2 1 5 1 16 1 2 1 8 1-3 1 30 1-24 1 24 1-12 1 19 1 9 1 2 1-1 1-7 1-16 1 0 1 19 1 7 1-18 1 24 1-8 1-9 1 14 1 20 1-24 1 9 1 3 1-6 1 16 1 5 1-6 1 10 1-11 1 7 1-15 1 22 1-10 1-14 1 17 1-11 1 5 1 19 1 1 1-15 1-11 1 29 1-15 1 20 1-2 1-5 1 13 1-16 1-11 1-6 1 2 1 0 1-19 1 7 1 1 1-19 1 0 1 13 1-20 1 24 1-10 1-5 1-12 1-7 1 10 1-1 1 4 1-40 1 29 1 0 1-17 1 8 1-13 1-2 1-13 1 20 1-9 1-8 1-2 1 4 1 10 1-3 1-17 1-16 1 10 1-29 1 29 1-13 1-19 1-2 1-11 1 7 1-19 1 5 1-13 1-17 1 13 1-9 1-10 1-9 1 2 1-5 1-8 1-4 1-1 1-12 1 12 1-10 1 4 1-10 1 9 1 12 1 3 1-1 1 6 1 17 1 8 1 12 1-13 1 15 1 6 1 0 1 4 1 4 1 14 1 5 1-12 1 10 1 0 1 16 1-2 1 14 1 16 1-14 1 20 1-5 1-1 1 3 1 4 1 12 1 17 1-16 1-1 1 20 1-2 1-13 1 22 1-10 1 10 1 9 1-11 1 7 1 11 1-19 1 16 1-14 1 28 1-2 1-7 1 7 1-8 1 22 1-6 1 15 1 14 1-14 1-4 1 33 1-20 1 25 1-5 1 13 1-18 1-16 1 15 1 8 1 20 1-33 1 17 1-23 1 12 1 18 1-2 1-6 1-5 1 5 1 5 1-13 1 0 1 4 1 1 1-24" fill="none" stroke="#858900" stroke-width="1.0" vector-effect="non-scaling-stroke" stroke-linejoin="round" /></g><g clip-path="url(#c2)"><path transform="translate(47.0 0) scale(0.0249012 .1)" d="M0 1664l1 107 1-78 1 9 1-1 1-19 1-15 1 0 1 58 1 114 1-209 1 7 1 48 1 15 1 37 1-120 1 143 1-4 1-83 1-13 1-23 1 149 1-11 1-166 1 69 1 5 1-100 1 113 1-12 1 43 1-15 1-46 1 8 1 52 1-35 1-36 1 39 1-91 1 166 1-54 1-41 1 11 1 37 1 47 1-121 1-7 1 38 1 43 1-78 1 68 1-131 1 155 1-42 1-56 1 88 1-95 1-1 1 101 1-14 1 70 1-164 1 104 1-124 1 10 1 11 1 32 1 67 1-80 1 70 1 152 1-261 1 84 1-33 1-94 1 68 1 15 1 112 1-64 1-78 1 191 1-7 1-126 1 75 1-54 1-68 1 116 1-125 1 66 1 78 1-42 1 27 1-71 1 15 1-85 1 37 1 85 1 32 1-91 1-55 1 188 1-154 1-6 1-53 1 131 1-36 1 29 1 56 1 5 1-41 1-136 1 37 1 70 1-43 1-24 1 58 1-84 1 50 1 38 1 31 1-111 1 124 1-70 1-95 1 335 1-234 1 3 1 2 1 7 1 60 1-166 1 116 1-114 1 136 1-104 1-37 1 74 1 134 1 19 1-104 1 27 1 26 1-33 1 3 1-22 1-35 1-78 1-3 1 110 1 79 1-55 1-3 1 73 1 12 1-171 1 11 1 5 1-2 1-56 1 117 1-43 1 18 1-33 1 10 1 66 1-19 1 28 1-120 1 51 1 34 1-57 1 5 1 82 1-9 1-89 1 127 1-20 1 3 1-75 1-69 1 2 1 42 1 70 1 27 1 7 1-81 1 91 1-107 1 63 1 4 1-20 1-41 1 23 1 25 1 1 1 2 1-56 1 83 1-33 1 74 1-20 1 16 1-82 1 60 1-12 1-81 1 1 1 26 1-27 1-151 1 120 1 94 1 13 1 10 1-11 1-84 1 67 1-36 1-15 1 43 1-35 1 50 1-113 1-6 1-29 1 28 1 42 1 23 1 90 1-150 1-87 1 127 1-3 1 48 1-22 1-178 1 289 1-62 1-87 1 6 1 84 1-61 1-21 1 38 1 79 1-39 1 66 1-54 1 50 1-89 1-78 1 85 1-57 1 62 1-56 1-34 1 160 1-220 1 84 1 4 1-71 1 76 1-6 1 118 1-197 1 45 1 115 1 14 1-143 1 121 1 61 1-99 1-11 1 14 1-48 1 126 1-132 1-138 1 166 1 3 1 142 1-191 1-1 1 92 1-92 1-6 1 30 1 97 1-68 1-32 1 4 1 100 1-8 1-49 1-92 1 4 1 136 1 56 1-123 1 22 1-13 1 136 1-133 1-64 1 87 1-156 1 46 1 122 1-63 1 62 1 32 1-75 1 7 1 214 1-212 1 136 1-140 1-89 1 93 1 96 1-193 1 39 1 139 1 28 1-180 1 64 1-56 1 100 1 57 1-114 1-22 1 55 1 68 1 42 1 51 1-178 1-2 1 41 1-27 1 113 1-37 1-137 1 19 1 151 1-124 1-50 1 166 1-128 1-67 1 57 1-21 1 74 1-16 1 138 1-133 1 24 1-39 1-37 1 105 1-38 1 79 1-127 1 17 1 43 1 83 1-126 1 99 1-123 1 7 1 79 1-54 1 29 1-46 1 15 1 23 1 72 1-125 1 32 1 111 1-106 1 33 1-149 1 47 1 63 1 55 1 48 1-102 1-71 1 101 1-62 1 107 1-132 1 186 1-119 1 45 1-83 1 55 1-9 1-55 1-57 1 30 1 43 1 19 1 13 1-64 1 36 1 16 1 102 1-80 1-64 1-5 1 57 1 137 1-145 1-33 1 0 1 51 1-32 1-157 1 178 1 2 1-51 1-18 1-32 1 108 1 53 1-119 1 183 1-181 1-6 1 147 1-128 1 9 1 68 1-19 1 52 1-80 1-67 1 160 1-104 1 40 1-89 1 181 1-193 1 159 1-44 1-65 1 37 1 50 1-101 1 132 1-191 1-20 1 138 1-30 1 116 1-150 1-72 1 143 1 41 1-88 1 26 1-84 1 145 1-6 1 10 1-109 1 21 1-9 1-220 1 308 1-60 1-24 1 84 1-6 1-130 1-27 1-4 1 124 1 51 1-44 1-118 1 36 1 155 1-182 1 94 1-7 1-8 1 88 1-21 1-22 1 59 1-84 1-41 1 60 1-9 1 13 1 48 1 9 1-98 1 19 1-32 1-71 1 110 1-70 1 36 1 25 1 108 1-151 1 115 1-98 1 66 1-53 1-52 1-138 1 103 1 25 1 55 1 35 1-98 1 244 1-164 1-37 1 94 1-116 1 12 1-52 1 3 1 170 1-130 1-64 1 91 1 82 1-79 1 8 1 47 1-2 1-47 1-77 1 130 1 59 1-70 1-34 1-19 1-40 1 96 1-102 1 48 1-15 1 58 1-16 1-44 1 94 1-21 1-6 1-29 1 45 1 34 1 24 1-79 1-7 1 47 1-131 1 39 1 4 1-28 1 5 1 45 1-39 1 93 1 88 1-170 1 5 1 50 1-23 1 98 1-103 1 13 1-15 1-44 1 267 1-292 1 102 1-68 1 45 1-15 1 7 1 105 1-147 1 79 1-39 1 41 1-3 1 16 1 36 1-104 1 12 1-126 1 137 1 180 1-146 1-32 1 16 1-129 1 198 1-7 1-78 1 20 1-99 1-34 1 80 1 48 1 26 1-12 1 64 1-66 1-20 1 27 1-46 1 36 1-75 1 47 1 72 1 1 1-121 1 100 1 8 1-41 1 16 1-56 1 91 1-67 1-32 1-38 1 27 1 23 1 102 1 144 1-229 1-2 1-2 1-29 1-40 1 62 1-26 1 104 1-107 1 25 1 58 1-52 1 62 1 45 1 33 1-167 1 64 1 4 1 80 1-6 1-136 1 100 1-107 1 137 1-16 1-97 1-79 1 12 1 40 1-2 1-37 1 61 1-170 1 135 1 16 1 82 1-54 1 35 1-43 1 26 1-46 1 101 1-57 1-61 1 11 1 56 1 59 1-70 1-152 1 109 1 63 1 107 1-167 1-54 1 86 1-89 1 105 1 3 1 58 1-96 1-88 1 80 1 49 1 75 1-83 1-136 1 76 1 144 1-97 1-48 1-17 1 9 1 97 1-95 1 113 1 2 1-160 1 184 1 6 1-13 1-57 1 78 1-135 1 110 1-18 1-45 1-45 1-48 1-49 1 178 1 36 1-147 1 40 1-10 1 211 1-47 1-113 1 14 1-118 1 110 1 145 1-142 1 1 1-93 1 87 1-1 1 42 1-172 1 162 1 2 1-33 1 48 1-129 1 34 1 61 1 17 1-65 1 121 1-32 1-35 1 32 1-95 1 43 1 118 1-128 1-176 1 155 1 9 1 146 1-157 1-68 1 20 1 4 1 21 1 69 1-123 1 63 1-2 1 128 1-50 1-82 1 55 1-65 1 79 1-132 1 165 1-43 1 10 1 23 1-47 1-52 1-6 1-115 1 221 1-57 1-37 1 166 1-166 1 135 1-170 1 57 1-14 1 66 1-41 1 53 1-72 1 21 1-25 1-69 1 1 1 81 1-54 1 87 1 16 1-38 1 4 1-55 1 37 1 37 1 11 1-21 1-45 1 24 1-6 1-72 1 72 1-12 1-21 1 34 1-43 1 44 1 52 1 6 1-94 1 75 1-137 1 95 1 151 1-121 1 33 1-56 1-13 1 71 1-76 1 50 1 12 1-124 1 197 1-82 1-238 1 142 1 21 1-26 1 204 1-184 1 105 1-108 1 168 1-36 1-155 1 57 1 86 1-4 1 56 1-164 1 86 1-39 1 55 1-27 1-110 1 96 1-25 1 85 1-123 1 44 1-47 1-35 1 21 1 53 1 55 1-31 1 26 1-55 1 76 1-81 1-17 1 160 1-61 1-117 1 94 1-51 1 40 1-29 1-48 1 50 1-87 1 186 1-152 1 37 1 19 1 45 1-24 1-14 1-9 1-92 1 86 1-73 1 49 1 86 1-50 1 59 1-217 1 161 1-28 1 16 1-199 1 141 1 81 1-10 1 142 1-89 1 24 1-235 1 225 1-93 1 84 1-108 1 53 1-53 1 106 1-3 1-27 1 77 1-66 1-93 1 23 1 47 1-26 1 51 1-77 1-26 1 130 1-123 1 108 1-144 1 80 1-33 1 113 1-95 1-20 1 49 1 97 1-100 1 24 1-48 1 38 1 15 1 85 1-59 1-18 1 5 1 24 1-61 1-2 1-36 1 14 1 119 1-5 1-101 1-40 1-191 1 240 1 14 1-38 1 3 1-33 1 142 1 11 1-129 1-30 1 27 1-5 1-31 1 90 1 22 1-12 1 54 1-130 1 101 1-108 1 124 1-122 1 76 1-40 1 57 1-69 1-105 1 237 1-141 1-10 1 44 1 35 1 99 1-179 1 3 1-14 1 81 1-45 1 27 1-157 1 148 1 121 1-52 1-81 1 9 1-58 1-34 1 152 1-126 1 109 1 22 1-82 1-29 1 51 1 120 1-122 1 25 1-21 1 55 1-137 1 20 1 162 1-236 1 199 1 17 1-44 1-20 1-81 1 202 1-125 1 89 1-117 1 12 1-65 1 58 1 24 1 68 1-157 1 141 1-116 1 116 1-28 1-96 1 14 1-114 1 130 1 14 1 5 1-11 1 39 1-118 1 123 1-35 1-9 1 37 1-116 1 154 1-116 1 7 1 155 1-93 1-38 1-43 1 125 1-145 1 49 1 99 1-89 1 111 1-114 1-65 1 60 1 142 1-60 1-48 1 47 1-37 1-52 1 5 1 45 1-16 1-56 1 134 1-100 1 51 1-93 1 17 1 7 1 69 1-59 1 79 1-59 1 7 1 22 1 34 1-76 1-217 1 246 1 44 1 28 1-216 1 104 1 32 1 98 1-109 1 58 1-55 1-94 1 133 1-120 1 165 1-67 1 66 1 60 1-57 1-61 1 32 1 17 1-75 1-27 1 61 1-13 1 14 1 230 1-143 1-35 1-123 1 1 1 33 1 8 1 39 1-97 1 73 1-5 1-43 1 86 1-2 1-86 1 23 1-28 1-17 1 141 1-87 1 179 1-237 1 71 1 1 1-57 1 42 1-17 1 41 1 33 1 25 1-94 1 15 1-73 1 119 1-78 1-8 1 50 1 19 1 74 1-113 1-42 1 117 1-58 1-110 1 125 1 28 1 21 1-92 1-11 1 55 1 6 1-28 1 13 1-33 1-22 1 72 1-97 1 11 1 166 1-73 1-49 1 40 1 37 1-5 1 7 1-82 1-5 1 130 1-148 1-37 1 76 1 79 1-133 1 153 1-163 1 82 1 91 1-304 1 161 1 43 1 38 1-104 1 99 1-106 1 95 1-7 1 43 1-106 1 29 1 58 1 47 1-98 1-34 1-48 1 44 1 73 1-30 1 18 1 71 1-54 1-60 1 31 1-3 1 9 1-16 1 67 1-152 1 124 1-35 1-79 1 245 1-57 1-155 1 119 1-49 1 91 1 7 1-155 1 88 1-41 1-19 1 43 1-237 1 168 1-98 1 175 1 30 1-75 1 60 1-8 1-102 1 68 1-37 1-75 1 96 1-2 1-10 1 114 1-113 1 8 1 53 1-16 1 37 1-61 1 111 1-99 1-20 1 16 1-40 1 40 1 29 1 37 1-90 1 33 1 6 1 10 1-84 1 132 1-81 1-205 1 134 1 144 1-59 1 124 1-144 1 24 1-123 1 248 1-184 1 127 1 88 1-128 1-148 1 274 1-197 1-21 1-142 1 82 1 131 1-51 1-70 1 14 1 14 1 1 1 95 1-11 1 72 1-48 1-1 1-89 1 120 1-73 1-19 1 48 1 57 1-78 1-39 1-47 1 95 1-15 1 70 1-86 1 15 1-118 1 141 1-28 1 29 1 62 1-191 1 166 1-138 1 30 1 137 1-7 1-94 1 62 1-24 1 4 1-107 1 75 1-21 1 43 1-10 1-71 1 149 1-85 1 13 1-32 1 41 1 10 1-75 1 55 1 6 1-4 1 76 1-27 1-59 1-47 1 4 1 21 1-44 1 30 1 41 1-55 1-25 1 86 1-46 1 59 1-34 1-40 1 133 1-112 1-38 1 110 1-25 1-16 1-29 1 55 1 24 1-188 1 158 1-62 1 32 1 5 1 24 1-8 1-74 1 25 1-75 1 169 1-85 1 35 1-63 1-77 1 173 1-73 1-4 1-8 1-92 1 126 1 36 1 37 1-69 1-3 1 1 1-31 1 33 1 4 1 7 1-16 1 10 1-7 1 35 1-69 1 33 1 168 1-126 1 45 1-109 1-111 1 202 1-50 1-141 1 78 1 64 1 74 1 30 1-177 1 45 1 70 1-178 1 91 1 106 1-85 1 16 1-83 1 41 1 7 1-95 1 177 1-24 1 58 1-89 1-39 1 21 1 29 1-66 1 93 1 12 1-59 1-7 1-3 1 7 1-113 1 179 1-92 1 36 1-29 1 88 1-37 1 45 1 14 1-111 1 268 1-213 1-106 1 45 1 1 1 62 1 91 1-90 1-13 1 9 1 9 1-32 1 26 1 67 1-62 1 31 1-96 1-23 1 58 1-56 1 135 1-95 1-16 1 70 1-119 1 263 1-125 1-117 1-66 1 166 1-29 1-47 1 114 1-17 1-31 1-60 1-29 1 131 1-68 1 119 1-122 1 69 1-50 1-23 1 5 1-52 1 161 1-141 1-20 1-3 1-8 1 76 1-47 1 6 1-55 1 48 1 12 1 15 1-64 1 42 1-116 1 91 1 35 1 85 1-1 1-91 1 31 1 105 1-165 1 194 1-241 1 136 1-127 1 89 1-25 1 21 1 74 1-6 1-10 1-135 1 76 1-12 1 11 1-89 1 138 1-80 1 67 1 13 1-101 1 91 1-54 1-13 1-24 1 130 1-174 1 127 1-20 1-86 1 102 1-99 1 38 1 50 1-102 1 95 1 11 1 41 1-121 1 81 1 30 1-16 1-48 1-63 1-70 1 160 1-4 1 30 1-134 1 140 1 26 1-128 1 98 1-116 1 36 1 77 1-41 1-217 1 188 1 158 1-164 1 135 1-225 1 201 1-16 1-68 1-33 1 122 1-88 1-58 1 47 1 57 1-10 1-105 1 74 1-50 1 93 1-13 1-55 1-75 1 177 1-85 1 28 1-107 1 80 1 32 1-30 1 125 1-89 1-18 1 55 1 32 1-120 1 80 1-116 1 172 1-184 1 200 1-75 1-10 1-31 1 39 1-81 1 164 1-131 1 89 1-47 1 7 1-9 1-65 1 94 1-107 1 44 1-8 1-10 1-90 1 153 1-108 1 40 1 66 1-70 1-53 1 54 1 3 1-26 1 1 1 44 1 137 1-111 1-41 1 58 1-46 1-10 1 37 1 94 1-86 1 49 1-28 1-77 1 27 1 11 1 27 1-27 1-125 1 79 1 34 1-27 1-42 1 103 1-70 1 22 1-73 1 55 1-34 1 66 1-235 1 274 1-38 1-36 1 68 1-7 1-20 1-90 1 168 1-142 1-181 1 243 1 11 1-129 1 95 1-11 1 29 1 40 1 54 1-157 1 99 1-28 1 27 1-85 1 65 1 126 1-133 1-89 1 29 1-55 1-44 1 250 1-137 1-28 1 81 1-79 1 51 1-11 1-47 1 23 1 68 1-90 1 25 1 110 1-23 1-73 1 73 1-58 1 37 1-7 1-150 1 136 1 108 1-92 1-96 1 52 1-72 1 165 1-84 1 37 1 5 1 93 1-81 1-116 1 119 1 10 1 59 1-180 1 124 1-75 1-17 1 26 1 30 1 35 1-102 1 136 1-12 1-97 1 51 1 6 1-74 1 64 1-49 1 2 1 22 1-55 1 228 1-183 1 2 1 49 1-77 1 53 1-49 1-68 1 158 1 33 1-87 1-70 1 84 1 43 1-82 1 81 1 0 1-95 1 71 1-24 1-52 1 33 1 16 1-28 1-64 1 19 1 107 1 23 1-53 1-18 1-23 1 85 1-104 1 139 1-107 1 24 1-36 1 56 1-53 1 9 1-29 1 70 1 37 1-44 1-29 1 54 1-1 1-20 1-70 1-6 1-10 1-2 1 24 1 140 1 28 1-104 1-107 1 94 1-54 1-4 1 105 1-132 1 126 1-72 1 1 1 53 1-19 1 45 1-16 1-114 1-48 1 177 1-71 1 80 1-109 1-57 1 135 1-122 1 162 1-20 1-232 1 191 1 37 1 68 1-71 1-34 1-21 1 11 1-77 1 38 1 3 1 71 1-65 1 26 1-81 1 132 1-121 1 51 1-4 1 51 1-128 1 25 1 145 1-129 1 45 1 44 1-80 1 48 1 12 1 83 1-74 1-127 1 163 1 15 1-77 1-43 1 76 1 28 1-59 1 48 1 43 1-126 1 45 1-88 1 71 1 106 1-59 1-38 1-105 1 123 1-61 1 70 1 9 1 96 1-184 1-115 1 152 1-224 1 331 1-89 1-28 1-26 1-108 1 133 1-2 1 37 1-16 1 55 1 20 1-116 1 185 1-105 1-65 1-4 1 72 1-81 1 123 1-65 1 74 1-76 1-29 1 93 1-110 1 149 1-87 1-27 1-218 1 171 1 131 1-86 1 16 1-54 1 67 1-19 1 58 1-147 1 115 1-13 1-53 1 35 1 61 1-45 1 17 1 90 1-167 1 67 1-12 1 47 1-63 1 25 1-33 1-1 1 122 1-106 1-17 1 36 1-135 1 56 1 166 1-115 1-72 1 152 1-34 1 49 1-103 1 20 1 43 1-135 1 128 1 14 1-84 1 22 1-36 1 50 1 21 1 21 1-39 1-130 1 194 1-5 1-4 1 11 1-130 1 77 1 43 1-31 1-17 1-46 1 36 1-14 1 144 1-110 1-22 1-72 1 65 1 35 1 57 1-8 1 20 1-122 1-27 1 10 1 3 1-21 1 46 1 90 1-152 1 130 1-63 1 29 1-66 1-157 1 365 1-180 1-21 1 77 1-28 1 156 1-98 1-91 1 40 1-143 1 43 1 14 1 100 1-71 1-114 1 182 1-122 1 86 1-26 1 108 1-202 1 51 1 2 1 172 1-32 1-254 1 107 1 79 1 52 1-25 1-46 1 66 1-6 1-23 1-119 1 125 1-41 1 22 1-40 1 111 1 17 1-138 1 13 1-37 1 30 1 16 1 83 1-62 1-13 1-64 1 205 1-135 1 15 1-110 1 88 1 164 1-174 1 109 1-69 1-146 1 120 1-11 1-34 1 35 1 8 1 140 1-149 1 23 1-45 1 11 1 114 1-70 1-48 1 45 1 29 1-53 1-18 1 51 1-68 1 31 1-39 1 11 1 22 1 129 1-179 1 81 1-52 1 3 1 61 1-118 1 186 1-15 1 16 1-112 1 48 1-33 1-50 1 109 1-44 1 11 1 81 1-161 1 58 1-15 1 97 1-131 1 35 1 83 1-66 1 46 1-59 1 110 1-48 1-98 1 94 1 90 1-259 1 145 1 29 1-15 1-26 1-103 1 86 1 23 1-46 1 61 1-93 1-66 1 139 1 17 1-29 1 8 1 11 1 21 1-82 1 81 1 0 1-142 1 146 1-27 1-16 1 45 1-80 1 28 1-45 1 92 1 55 1-64 1-51 1 82 1-7 1-19 1 17 1-75 1-8 1 55 1-15 1-61 1 100 1-134 1 85 1 84 1-64 1 31 1-66 1 40 1-1 1-20 1 8 1-2 1-145 1 86 1 37 1 22 1-69 1 43 1 40 1-59 1 87 1-57 1 97 1-83 1 82 1-65 1-4 1 13 1 9 1-140 1 219 1-137 1 3 1 8 1 0 1-45 1 51 1-42 1 94 1-43 1 38 1-29 1 49 1-13 1-67 1 17 1 50 1-97 1 71 1 20 1 2 1 81 1-109 1-75 1 90 1-50 1 43 1 20 1-89 1 12 1-32 1 86 1-59 1 17 1-7 1-57 1 78 1 63 1-105 1 59 1 51 1-64 1-28 1 80 1-118 1 5 1 67 1-89 1 73 1 41 1 101 1-121 1-23 1 33 1 73 1 3 1-137 1-30 1 110 1 28 1-122 1-2 1 73 1-24 1-32 1 97 1-60 1 108 1-148 1-42 1 22 1 66 1 78 1-2 1-78 1 29 1 46 1-137 1 9 1 147 1-96 1 64 1-40 1-53 1 10 1-34 1 86 1-50 1-36 1 300 1-156 1-75 1 28 1-55 1 61 1 15 1-71 1 78 1-46 1-133 1 160 1-67 1-80 1-43 1 131 1-16 1 102 1-153 1 65 1 27 1 25 1 20 1 15 1-131 1 53 1-25 1 79 1 7 1-13 1-100 1 18 1-22 1 176 1-103 1 50 1 105 1-192 1 33 1-103 1-20 1 132 1-28 1-70 1 76 1-30 1 1 1 40 1-14 1-28 1-53 1 115 1 11 1-8 1 36 1-10 1-111 1 6 1 48 1 6 1-26 1-64 1 77 1-8 1-19 1 83 1-127 1 77 1 30 1-105 1 75 1 26 1-3 1-275 1 367 1-30 1-105 1-93 1 197 1-111 1-7 1-17 1-48 1 108 1-202 1 181 1 22 1 34 1-71 1-10 1-26 1 107 1-102 1 51 1 36 1-58 1 71 1-68 1 54 1-82 1-78 1 104 1 74 1-87 1 143 1-78 1-2 1-1 1 49 1 36 1 1 1-71 1-85 1 62 1 19 1-105 1 148 1-109 1 160 1-161 1 66 1-63 1-78 1 30 1 133 1 47 1-67 1-40 1-47 1 73 1 63 1-11 1-113 1 48 1-106 1 112 1 3 1-45 1 111 1-191 1 180 1-113 1-73 1 36 1 158 1-179 1 160 1 26 1-113 1-50 1 78 1-98 1 117 1 20 1-122 1 145 1-36 1 48 1-159 1-42 1 93 1 11 1 20 1 11 1 105 1-99 1 12 1-49 1 39 1 189 1-129 1-248 1 277 1-140 1 20 1 5 1-64 1 61 1 93 1-94 1 69 1-62 1 49 1-72 1 47 1-111 1 83 1 126 1-160 1 15 1-44 1 82 1 78 1-79 1-101 1 186 1-22 1-86 1-56 1-6 1 90 1 15 1 27 1 32 1-233 1 136 1-51 1 199 1-135 1 4 1 74 1-90 1-29 1 125 1-96 1-11 1 61 1 123 1-180 1 20 1-45 1-60 1 246 1-157 1 40 1 15 1-38 1-72 1-10 1 235 1-201 1 21 1-9 1-6 1 34 1 97 1-52 1 6 1-171 1 119 1 7 1 18 1-72 1-31 1 13 1 19 1 55 1-40 1-6 1 117 1 13 1-123 1 99 1 13 1-165 1 106 1-100 1 126 1-178 1 125 1 67 1-23 1-112 1 78 1 34 1-86 1-13 1 70 1-34 1-134 1 176 1 24 1-51 1 23 1-6 1-14 1-9 1 50 1 12 1-215 1 219 1-77 1-9 1-25 1-46 1 159 1-75 1 11 1 49 1-94 1 57 1 121 1-148 1 49 1-135 1 78 1 106 1-32 1 10 1-9 1-108 1 97 1-59 1 73 1-70 1 49 1-75 1 80 1-20 1-95 1-26 1 108 1-3 1 43 1-25 1-131 1 97 1-90 1 109 1-38 1 49 1-30 1-41 1 145 1-50 1-64 1 48 1-96 1 65 1-44 1 89 1-27 1 22 1 0 1-10 1-60 1 39 1-39 1 72 1-57 1 29 1 91 1-282 1 201 1 52 1 12 1-46 1 3 1 12 1-11 1 67 1-68 1-78 1 138 1-136 1 107 1-111 1-70 1 89 1 87 1-46 1 36 1-83 1 74 1 6 1-65 1 65 1-43 1 28 1-91 1 20 1-4 1 38 1 73 1-131 1 52 1 15 1 33 1-25 1-13 1-54 1 88 1 48 1-144 1 90 1-14 1 13 1 46 1 112 1-136 1-52 1-22 1 208 1-170 1-75 1 76 1 17 1 96 1-232 1 107 1 29 1-56 1-66 1 134 1 20 1-49 1 54 1-98 1-20 1 114 1-5 1-85 1-116 1 115 1 43 1-43 1 15 1 57 1-10 1 135 1-162 1-120 1 204 1-69 1-40 1-10 1 12 1 59 1 24 1-14 1-152 1 187 1-98 1-7 1 54 1-37 1 22 1 17 1-117 1 162 1 68 1-209 1-18 1 49 1 15 1 11 1 87 1-96 1-48 1 34 1 65 1-50 1 24 1-98 1 122 1-33 1-25 1 45 1-102 1 95 1-32 1 103 1-136 1 30 1 116 1-188 1 89 1-7 1 140 1-77 1-30 1-76 1 62 1 18 1-29 1 7 1-26 1 27 1 84 1-90 1 45 1-57 1-30 1 18 1 16 1-97 1 128 1-8 1-70 1 101 1-130 1 111 1 15 1 67 1-63 1-17 1 120 1-197 1 63 1 47 1-60 1-10 1 38 1-18 1 16 1 24 1-54 1 52 1-122 1 141 1-96 1-7 1 36 1-123 1 126 1-1 1-27 1 96 1-128 1 61 1-67 1 120 1-16 1-19 1-106 1 172 1-66 1-14 1-5 1 18 1 88 1-136 1 46 1-107 1 49 1-13 1-159 1 220 1 22 1 26 1 8 1-38 1 48 1-24 1-59 1 113 1-182 1 110 1-237 1 214 1 42 1 45 1-115 1-113 1 190 1-103 1-11 1 59 1-198 1 218 1-67 1 19 1-19 1-4 1 14 1 68 1-2 1 17 1 136 1-300 1 112 1 38 1-26 1-12 1 26 1-39 1 142 1-40 1-147 1 16 1 41 1-16 1-26 1 28 1-34 1 20 1 35 1-39 1-16 1 104 1 68 1-60 1-103 1 141 1-110 1 65 1-126 1 74 1 66 1-23 1-49 1 32 1-58 1 48 1 65 1 46 1-167 1 107 1-26 1-39 1-55 1 85 1-145 1 70 1 85 1-39 1-41 1 25 1-97 1 23 1 85 1 5 1 65 1-46 1 11 1-37 1-38 1-33 1 118 1-107 1 13 1 23 1-28 1 38 1 11 1 7 1 26 1-139 1 156 1 32 1 10 1-101 1 94 1-85 1 109 1-93 1 7 1 83 1-148 1 18 1 22 1-164 1 184 1-74 1-49 1 124 1 30 1-128 1 57 1 74 1 0 1 34 1-160 1 123 1-100 1 113 1-40 1-14 1 58 1-75 1 65 1-135 1-16 1 94 1 79 1-88 1 4 1 53 1-54 1-88 1-7 1 198 1-147 1 68 1 37 1-45 1 206 1-239 1-64 1-105 1 182 1-11 1 150 1-150 1 15 1 92 1-88 1 98 1-197 1 144 1 63 1-96 1-12 1 47 1-142 1 118 1 31 1-51 1-20 1 107 1-96 1-100 1 334 1-165 1-22 1-115 1 58 1-4 1-35 1 118 1-63 1 117 1-118 1 73 1 117 1-169 1-62 1 49 1 88 1-181 1 78 1 133 1-118 1 63 1 60 1-62 1-10 1 42 1-143 1 119 1-202 1 105 1 93 1-37 1 30 1 61 1-78 1-6 1-71 1 104 1 27 1-174 1 55 1 30 1-26 1 23 1-39 1 37 1 35 1-2 1-36 1 29 1-83 1-104 1 145 1 140 1-123 1-78 1 175 1-56 1 92 1-161 1 35 1-64 1 58 1 114 1-90 1 67 1-37 1-63 1-7 1 16 1-34 1-77 1-55 1 231 1-122 1-18 1 35 1 73 1-18 1-26 1 33 1 31 1 41 1-120 1-100 1 216 1 36 1-50 1-47 1-145 1-18 1 146 1-37 1-35 1 84 1 55 1-52 1 89 1-97 1 35 1-69 1 7 1 28 1-38 1 76 1-148 1 77 1 28 1 5 1-94 1-24 1 32 1 78 1 21 1-171 1 238 1 102 1-165 1 57 1-303 1 218 1-73 1 199 1-178 1-5 1 126 1-86 1 45 1-50 1 110 1-37 1-18 1 0 1-91 1 25 1 63 1-13 1-57 1 76 1 28 1 13 1-64 1-63 1-52 1 74 1-12 1 32 1 57 1-120 1 112 1-6 1 88 1-106 1-5 1-33 1 2 1-13 1 39 1-24 1 3 1-14 1-82 1 89 1 42 1-35 1 85 1-112 1 67 1 2 1-115 1 75 1-95 1 128 1 114 1-292 1 97 1 113 1 32 1 14 1-138 1-55 1 128 1-13 1-92 1 61 1 22 1-50 1 91 1-79 1 64 1 13 1-92 1 8 1 30 1 23 1 20 1-154 1 80 1-12 1-33 1 121 1-6 1-70 1-9 1-45 1 166 1-221 1 157 1-92 1 107 1 32 1-156 1 181 1-114 1 117 1-91 1 8 1 0 1-16 1-31 1 80 1-41 1-17 1 57 1-30 1-44 1 15 1 113 1-159 1-56 1 151 1 7 1-90 1 111 1-162 1 86 1 65 1-29 1-113 1 70 1 40 1-15 1-92 1 202 1-101 1 3 1 35 1-4 1-68 1-45 1 35 1-34 1 60 1-14 1 40 1-12 1 97 1-141 1-146 1 149 1 14 1 35 1-55 1-29 1-8 1 215 1-68 1-145 1 218 1-155 1 15 1 20 1 30 1-22 1-72 1 98 1 45 1-87 1-44 1 4 1-10 1 39 1-16 1 72 1-126 1 93 1 86 1-150 1-12 1 4 1 143 1-54 1-37 1-20 1 21 1 7 1 27 1 22 1 21 1-56 1-80 1-47 1 118 1-23 1 40 1-64 1 18 1 53 1 5 1-86 1 47 1-55 1 35 1 67 1-87 1 71 1 36 1 56 1-73 1-14 1-78 1 79 1 74 1-108 1 152 1-148 1 62 1-237 1 221 1-18 1-16 1 56 1-98 1-5 1 41 1 0 1-27 1 51 1-73 1-52 1 142 1-20 1-82 1 187 1-146 1 80 1 1 1-169 1 120 1 81 1-120 1 18 1-72 1 63 1-17 1 221 1-195 1 48 1-84 1-29 1 6 1 17 1 119 1-155 1 6 1 50 1-22 1-22 1 66 1 41 1-159 1 47 1 23 1 109 1-59 1 101 1-103 1-42 1 61 1-5 1-129 1 40 1 2 1 146 1-121 1-55 1 96 1-24 1 19 1-175 1 223 1-9 1-116 1 96 1 25 1-87 1 108 1-24 1-157 1 209 1-181 1 99 1-29 1 5 1-26 1 21 1 42 1 20 1-97 1-22 1 5 1 54 1-36 1 117 1-47 1-30 1-10 1 70 1-1 1-7 1-123 1 144 1-142 1 173 1-135 1 36 1-31 1-4 1-42 1-15 1 82 1-9 1 190 1-130 1-33 1-169 1 167 1-42 1 67 1 99 1 129 1-274 1 92 1 22 1-179 1 44 1 18 1-8 1 59 1-75 1 55 1-66 1-125 1 205 1-9 1-100 1 130 1-33 1-18 1-32 1 77 1-55 1-27 1 91 1-132 1 152 1-48 1-75 1 30 1 64 1-96 1 11 1 40 1-1 1 61 1-119 1 11 1 58 1 100 1-154 1 112 1-81 1 62 1 26 1 87 1-216 1 56 1 79 1-124 1 63 1-34 1 222 1-216 1-49 1 113 1 44 1-89 1-5 1-1 1 1 1 45 1 60 1-107 1-94 1 99 1-87 1 69 1 48 1-77 1 47 1 25 1-64 1-11 1 197 1-180 1 28 1-6 1 72 1-104 1-59 1 152 1-120 1 118 1 77 1-143 1-37 1-6 1 91 1-31 1-50 1 50 1-54 1 106 1-59 1 48 1-117 1 107 1-19 1 61 1-32 1-36 1-25 1 37 1-84 1 202 1-57 1-97 1 11 1 28 1-10 1-33 1 46 1-81 1 42 1 8 1 50 1 38 1-91 1 32 1-42 1 76 1-120 1-45 1 113 1 58 1 0 1-81 1-22 1 19 1 68 1-20 1-67 1 28 1 70 1-56 1 34 1-74 1 63 1-2 1 2 1-15 1-80 1 138 1-159 1 61 1 4 1-42 1 18 1 36 1-62 1-52 1 67 1 77 1-6 1-31 1 80 1-62 1 5 1-31 1 10 1 67 1-12 1-148 1 98 1 74 1 29 1-128 1 64 1-31 1-50 1 20 1 11 1-38 1 38 1 42 1-151 1 85 1 139 1-81 1-59 1 39 1 13 1-114 1 3 1 146 1-13 1-69 1 37 1 41 1 16 1-44 1 122 1-177 1-109 1 105 1 152 1-52 1-80 1 68 1-45 1-31 1-44 1 110 1 4 1-14 1-44 1 42 1 46 1-56 1-26 1 68 1-23 1-44 1 108 1-93 1 52 1-93 1-4 1-22 1 210 1-74 1-42 1-6 1-22 1-6 1 71 1-42 1-77 1 94 1 15 1 76 1-166 1 82 1 7 1-114 1 145 1-103 1 46 1 27 1 28 1-55 1-86 1 123 1-222 1 175 1 167 1-157 1-30 1 81 1-107 1 80 1-180 1 185 1-36 1 29 1 12 1-53 1 26 1-23 1-138 1 43 1 120 1-69 1 13 1 20 1 34 1-49 1 9 1 24 1-23 1-5 1-21 1 57 1 29 1-43 1-43 1 53 1-55 1 48 1 16 1 48 1-124 1 32 1 54 1-69 1 16 1-140 1 16 1 203 1-57 1-50 1 126 1-32 1-23 1 8 1-20 1-12 1 28 1-44 1-46 1 17 1 69 1-40 1-95 1 95 1 1 1-30 1 109 1-97 1-57 1 209 1-157 1 40 1-17 1 119 1-99 1-23 1 128 1-34 1-68 1 2 1 67 1-52 1-163 1 222 1-69 1 46 1-70 1 4 1-63 1 76 1 76 1-86 1 46 1-33 1-59 1 38 1-114 1 136 1-38 1 17 1 142 1-171 1 99 1-30 1-44 1 53 1-123 1 113 1 36 1-79 1 35 1-46 1-27 1 198 1-142 1-106 1 95 1 76 1-69 1 23 1 7 1-49 1-112 1 200 1-36 1 14 1 23 1-137 1 36 1 66 1 21 1-79 1-19 1 107 1-47 1-72 1 14 1 143 1-104 1 42 1-32 1-96 1-23 1 156 1-27 1-44 1-14 1 101 1 70 1-81 1-57 1 120 1-70 1-56 1-48 1 243 1-153 1-48 1 4 1-22 1 30 1-124 1 139 1-27 1 48 1 46 1-89 1-7 1-21 1-20 1 83 1 14 1 42 1-72 1 15 1 51 1-44 1-5 1-16 1-78 1 70 1-58 1 101 1 24 1-105 1-83 1 20 1 59 1-65 1 90 1-63 1 12 1 81 1 23 1-18 1-56 1 54 1-3 1 2 1 60 1-107 1 66 1-19 1-8 1 5 1-86 1 41 1 34 1 82 1-204 1 118 1 51 1-128 1 75 1 22 1-36 1 48 1-7 1 5 1-71 1 8 1 13 1-41 1 12 1 24 1-93 1 76 1-11 1 145 1 78 1-108 1-131 1 98 1-23 1 0 1 2 1 39 1 19 1-110 1 53 1 20 1-12 1-30 1-22 1 21 1 101 1-45 1 11 1 75 1-101 1-70 1 67 1-60 1 37 1 16 1 182 1-208 1 94 1-232 1-12 1 124 1-11 1 112 1-65 1-24 1-60 1 112 1 85 1 20 1-49 1-2 1-35 1-105 1 85 1 21 1-108 1 83 1 20 1 140 1-163 1 70 1 12 1-176 1 250 1-238 1 45 1-121 1 76 1 117 1 36 1-103 1 1 1-68 1 97 1-33 1 44 1 1 1 37 1-89 1 85 1-34 1-70 1 47 1 35 1 56 1 74 1-27 1-113 1-106 1 39 1 30 1-46 1-2 1 121 1 26 1-52 1-14 1 60 1-35 1-195 1 103 1-52 1 33 1 74 1 29 1 25 1-127 1-41 1 106 1-4 1 35 1-16 1-89 1 0 1 116 1-28 1 11 1-117 1 149 1-106 1 174 1-126 1-17 1-21 1 39 1-72 1 93 1-77 1-5 1 50 1 117 1-80 1-89 1 98 1-14 1-149 1 167 1-138 1 69 1 59 1 14 1 58 1-266 1 168 1-23 1 121 1-98 1-4 1 37 1-21 1-24 1-68 1 90 1 10 1-65 1 138 1-184 1 68 1 83 1-84 1 128 1-81 1-17 1 21 1-64 1-76 1 144 1-38 1-83 1-34 1 93 1 6 1 34 1 54 1-5 1-15 1-123 1 44 1-24 1-21 1 20 1 52 1-34 1 87 1-112 1 187 1-85 1 29 1-41 1-108 1 167 1-53 1-108 1 97 1-17 1-44 1 5 1-21 1 32 1-4 1 37 1-30 1-6 1 75 1-32 1 140 1-232 1-7 1 93 1 57 1-105 1 13 1 7 1 153 1-170 1-56 1-23 1 111 1-94 1 95 1 11 1-2 1-33 1 8 1-19 1 16 1-1 1 63 1-60 1 132 1-209 1 162 1-26 1-59 1-21 1 26 1-51 1 111 1-58 1-36 1 115 1-186 1 101 1 55 1-27 1 8 1-102 1 116 1-5 1-16 1 33 1-48 1 14 1 11 1 77 1-28 1-16 1-35 1-31 1 43 1-32 1-32 1 85 1-81 1-38 1-22 1 54 1 179 1-197 1 175 1-112 1 11 1 24 1-37 1 83 1-93 1-32 1 51 1-19 1 31 1 15 1-14 1-41 1-71 1 38 1-96 1 177 1-37 1-93 1 175 1-154 1 23 1 87 1-44 1 32 1 185 1-233 1 99 1-233 1 100 1 79 1 53 1-116 1 47 1-26 1-28 1-90 1 232 1-293 1 194 1 25 1 50 1-140 1 49 1 26 1 18 1-37 1-7 1 51 1-38 1-10 1 53 1-19 1 8 1-62 1 119 1-123 1 68 1-62 1 146 1-148 1 61 1-39 1-19 1-25 1 16 1 33 1-19 1-11 1-6 1 37 1 12 1-4 1-81 1 11 1 93 1-20 1-23 1 57 1-86 1 23 1 35 1-17 1-35 1 129 1-178 1 90 1-65 1 51 1-16 1-40 1 163 1-82 1-27 1-119 1 129 1 2 1-38 1 70 1-26 1 17 1 4 1-71 1 44 1 66 1 20 1-80 1 81 1-160 1-18 1 41 1 25 1 88 1-35 1-34 1-65 1 73 1 44 1-91 1 40 1-45 1-92 1 129 1 72 1-48 1 26 1 133 1-163 1-44 1 36 1-21 1 43 1 62 1 1 1-164 1 61 1 30 1-62 1 68 1 77 1-262 1 203 1-105 1 21 1 121 1-9 1-116 1 100 1 59 1-185 1 54 1 84 1-50 1-56 1 25 1 103 1-66 1 25 1 29 1-87 1-3 1 3 1-9 1 52 1 8 1 48 1-126 1 62 1 8 1 16 1 19 1-72 1 4 1 1 1 13 1-46 1 69 1 16 1-77 1 77 1-106 1 72 1-25 1 38 1-35 1-52 1 81 1-21 1 72 1-63 1-18 1-60 1 152 1-150 1 83 1 8 1 1 1-66 1 115 1-112 1 75 1 64 1-36 1-124 1 47 1 93 1-130 1-53 1 69 1 26 1 48 1-179 1 136 1-3 1 14 1 54 1-146 1 74 1 112 1-60 1-104 1 24 1 33 1-85 1 155 1-133 1 30 1 90 1-9 1-81 1 66 1-10 1 46 1 85 1-141 1-102 1 97 1 95 1-114 1 0 1-46 1 192 1-176 1 52 1-40 1 16 1 104 1-73 1-56 1-1 1-115 1 224 1-8 1 42 1-51 1-99 1 39 1 35 1-1 1-195 1 224 1-7 1-86 1 107 1-152 1 121 1-63 1 43 1-44 1 42 1 48 1-194 1 203 1-121 1 51 1 26 1-62 1 18 1 20 1-66 1 220 1-46 1-128 1-30 1 24 1-27 1 59 1-65 1 73 1-89 1 106 1-24 1 17 1-96 1 105 1 23 1 11 1-188 1 165 1-146 1 105 1 42 1-3 1-6 1-114 1-48 1 158 1 59 1 3 1-66 1-115 1 112 1 8 1 12 1-65 1-17 1-56 1 152 1-43 1 22 1-73 1 70 1-69 1-17 1 43 1 15 1-61 1 56 1-59 1-4 1 40 1-2 1 116 1-64 1 69 1-146 1 61 1 52 1-27 1 24 1-61 1 14 1-130 1 193 1-145 1 16 1 48 1-24 1 18 1-9 1-34 1 35 1 33 1 80 1-134 1 58 1 35 1 34 1-87 1-83 1 168 1-53 1-71 1 139 1-197 1 146 1 3 1-60 1 75 1-22 1-54 1 98 1-11 1-44 1 14 1-34 1-15 1-107 1 151 1-103 1-62 1 122 1 30 1-45 1 55 1-26 1-70 1 61 1 9 1 36 1 20 1-40 1-85 1 79 1-64 1 28 1-8 1-6 1-20 1 194 1-152 1 58 1-27 1-173 1 224 1-153 1 15 1 41 1-69 1 26 1 160 1-27 1-76 1 101 1-97 1 91 1-28 1-165 1 271 1-268 1 47 1-32 1 32 1 45 1 164 1-90 1-78 1-42 1 44 1-2 1-3 1 28 1-64 1 238 1-154 1 21 1-44 1 63 1 4 1 23 1-115 1-14 1-12 1 162 1-152 1 201 1-135 1-38 1-47 1 130 1-137 1 62 1-69 1 111 1-44 1-52 1 60 1 35 1-16 1-51 1-11 1 44 1-63 1 41 1-21 1 37 1 24 1-212 1 140 1 113 1-87 1-37 1-47 1 37 1 42 1 7 1-38 1 20 1 52 1-13 1 14 1-29 1 7 1 10 1-19 1 89 1-27 1-118 1 27 1 54 1-28 1-169 1 241 1-65 1-55 1 47 1 32 1 1 1-55 1 30 1 29 1-21 1-16 1 116 1-69 1-82 1 33 1 78 1 4 1-21 1 19 1-60 1-47 1-9 1 22 1 130 1-81 1-73 1-11 1 43 1-81 1 40 1 202 1 92 1-206 1 21 1-104 1 139 1 63 1-350 1 157 1-27 1 36 1 86 1-31 1-87 1 46 1-44 1 25 1-50 1 98 1-49 1 70 1-25 1 101 1-168 1 55 1 34 1-35 1 38 1-28 1-44 1 82 1-20 1 77 1-105 1 38 1-6 1 37 1 14 1 47 1-94 1-46 1 103 1-175 1 172 1-88 1-36 1 192 1-223 1 85 1-68 1 30 1-68 1 236 1-130 1-47 1 152 1-31 1-86 1 60 1-72 1 18 1 40 1 22 1-129 1-84 1 229 1-122 1 21 1 104 1-100 1 71 1-29 1-54 1 24 1 47 1 35 1-40 1-99 1 76 1 96 1-31 1-53 1-67 1 6 1 120 1-50 1-120 1 78 1 46 1-21 1-10 1 38 1-76 1 22 1 1 1 29 1 90 1-236 1 124 1 59 1-79 1-52 1 112 1-74 1 9 1 16 1 77 1-117 1 54 1-14 1-19 1 26 1 58 1-98 1 14 1 41 1 17 1 0 1 87 1-74 1-177 1 11 1 205 1-78 1-97 1 145 1-25 1 17 1-73 1 49 1-30 1 53 1-83 1 37 1-2 1-115 1 98 1-38 1 31 1 141 1-77 1-47 1-75 1 131 1-79 1 65 1-98 1 25 1-15 1 78 1-84 1 15 1 60 1-87 1 16 1 107 1-78 1 63 1-27 1 15 1 3 1 27 1-57 1 51 1-20 1 51 1 59 1-102 1-133 1 140 1 8 1-131 1 5 1 98 1-107 1 93 1-113 1 192 1-34 1-4 1-45 1 9 1-94 1 44 1 9 1 36 1-6 1 52 1-35 1 10 1-37 1-19 1 78 1-87 1 174 1-210 1 189 1-112 1 76 1-112 1 94 1-75 1-9 1 52 1-22 1-41 1-162 1 112 1 53 1 63 1-119 1 62 1 28 1 162 1-69 1-84 1-12 1 17 1-91 1-1 1 83 1 57 1-163 1 152 1 29 1-103 1 32 1-117 1 151 1-58 1 138 1-107 1 23 1-149 1 13 1 59 1-23 1 83 1-91 1 94 1-95 1 138 1-85 1 78 1-95 1 55 1-71 1 88 1 70 1-86 1-12 1 37 1-84 1 6 1-33 1 35 1 41 1-24 1 44 1 21 1 13 1-31 1-64 1 98 1-2 1-35 1-42 1-49 1 114 1 21 1 23 1-58 1 5 1 41 1-88 1 25 1-75 1-20 1 164 1-65 1-36 1 14 1 229 1-200 1 42 1-69 1-1 1-150 1 152 1 5 1-70 1 125 1-90 1 35 1 155 1-147 1-65 1 19 1 64 1-42 1-22 1 19 1 109 1-147 1 81 1-80 1 121 1-278 1 288 1-100 1 25 1 87 1-124 1 29 1 10 1-97 1 126 1-89 1-10 1 76 1-91 1 24 1 44 1 62 1-5 1-38 1-52 1 98 1-50 1 0 1-113 1 54 1 9 1 38 1 5 1-56 1-86 1 157 1-82 1 82 1-15 1 12 1-85 1 49 1 23 1 80 1-36 1-29 1-22 1-27 1 52 1-106 1 146 1-151 1-83 1 257 1-74 1-68 1 13 1-75 1 21 1 82 1 109 1-111 1 25 1 6 1-47 1 113 1-119 1 3 1 35 1-36 1 100 1-11 1-61 1 16 1 73 1-81 1 33 1 51 1-196 1 128 1 21 1 134 1-197 1 32 1 112 1-89 1-90 1 34 1 21 1-68 1-79 1 201 1-236 1 167 1-39 1 82 1 7 1-132 1 215 1-49 1 32 1-102 1 89 1-53 1-132 1 11 1 13 1 106 1-22 1 32 1 153 1-175 1-192 1 115 1 29 1 120 1-93 1-47 1 94 1 19 1-85 1 60 1-104 1 105 1-71 1 66 1 47 1-66 1 64 1-101 1-117 1 139 1-77 1-74 1 181 1-10 1-130 1 84 1 90 1 30 1-141 1 75 1 25 1-73 1 39 1 27 1-25 1 47 1 121 1-234 1 81 1-21 1 6 1 143 1-198 1 56 1-74 1 1 1 15 1 77 1 27 1-156 1-45 1 126 1 13 1 6 1 109 1-104 1-15 1-124 1 48 1 107 1-14 1-38 1-10 1-1 1-12 1 42 1 41 1-61 1 37 1 19 1-66 1 57 1-79 1 74 1 31 1-1 1-89 1 110 1-89 1 15 1 38 1 10 1-125 1 94 1-45 1 67 1-21 1 37 1-45 1-34 1 36 1 39 1-11 1-24 1-81 1 93 1 39 1-140 1 18 1 25 1 94 1-95 1-56 1 42 1-12 1 77 1-7 1-114 1 101 1-10 1 63 1-83 1 114 1-91 1 10 1-17 1-24 1 137 1-19 1-67 1 10 1-8 1 83 1-51 1 29 1-15 1-85 1-38 1 63 1 49 1-19 1 0 1 38 1 2 1-107 1 144 1-87 1 27 1-35 1 62 1-153 1 50 1 1 1-7 1 41 1 20 1 88 1-83 1-7 1-43 1 65 1 20 1 30 1-110 1 59 1-56 1-29 1 22 1-13 1 43 1 94 1-130 1 76 1-203 1 107 1 35 1 104 1-104 1-21 1-67 1 92 1-62 1 27 1-71 1 169 1-152 1 81 1 82 1-101 1 48 1 26 1-71 1-19 1 107 1 57 1-111 1 23 1-85 1 105 1-22 1-68 1-24 1 89 1-112 1 16 1 44 1 35 1-5 1 43 1 3 1-37 1-15 1 22 1-11 1-5 1 95 1-128 1-8 1 33 1-106 1 100 1-33 1 91 1-81 1 128 1-116 1 45 1 11 1-4 1 22 1-30 1-75 1 46 1-83 1 149 1-88 1 49 1 34 1-161 1 56 1 157 1-124 1 43 1-1 1 111 1-137 1-33 1 46 1-35 1 40 1-105 1 113 1 107 1-166 1 129 1-87 1-101 1 64 1 112 1-10 1-120 1 184 1-160 1 169 1-37 1-234 1 77 1-2 1 38 1 19 1 3 1-22 1 64 1-14 1-143 1 188 1-81 1 7 1 36 1 29 1-36 1-70 1 57 1 25 1 83 1-94 1-35 1 9 1-29 1 33 1-52 1-4 1 78 1-122 1 42 1 55 1 11 1 118 1-234 1 148 1-28 1-39 1 37 1 11 1-82 1 68 1 2 1-48 1 18 1 6 1-69 1 55 1 14 1 47 1 6 1-99 1 2 1-30 1 39 1 50 1 17 1 175 1-113 1-19 1-41 1 49 1-116 1 109 1-109 1 12 1 103 1-73 1 20 1-30 1 43 1-57 1-15 1-55 1 138 1-3 1-109 1 145 1-122 1 119 1-172 1 73 1-27 1 26 1-54 1 126 1-65 1 40 1 108 1-109 1 51 1-86 1 13 1 26 1-16 1 34 1 8 1-54 1-77 1 131 1-111 1 17 1 217 1-132 1-38 1 46 1-11 1 10 1-75 1 154 1-146 1 160 1-106 1 32 1-182 1 98 1 26 1-82 1 104 1-17 1 83 1 5 1-17 1-33 1-37 1-11 1-14 1 23 1-69 1 73 1-34 1 30 1-80 1 49 1 17 1 11 1 8 1-20 1-23 1 107 1-4 1-71 1 33 1-24 1 50 1-171 1 62 1 67 1-34 1 9 1 33 1-62 1 64 1-181 1 138 1-45 1 80 1-37 1 69 1-82 1 31 1 54 1-63 1-13 1 36 1 19 1-33 1 7 1 79 1-148 1-71 1 214 1-112 1 36 1-39 1 143 1-108 1-51 1 7 1 28 1 10 1-12 1-21 1 70 1-66 1 7 1-21 1 46 1-67 1 110 1-47 1-10 1 142 1-4 1-140 1-71 1 27 1 10 1 45 1 34 1 15 1-17 1-47 1 67 1 89 1-102 1-84 1 96 1 34 1-97 1 16 1-9 1 106 1 153 1-294 1-55 1 204 1-61 1 110 1-244 1 112 1-127 1 97 1 28 1-87 1 98 1-40 1-61 1 111 1-111 1 111 1-50 1-16 1 72 1-73 1 37 1-77 1 36 1-5 1-9 1 10 1 58 1-49 1-114 1 98 1 113 1-76 1-132 1 43 1 116 1-49 1 4 1-18 1-46 1 93 1-44 1 19 1 34 1-7 1 1 1-41 1 4 1 0 1-69 1 49 1 43 1 52 1-29 1-72 1 32 1-11 1 57 1 29 1-157 1 53 1-38 1 49 1 39 1 76 1-45 1-188 1 70 1 78 1-143 1 106 1 68 1-15 1 175 1-229 1 221 1-70 1-74 1-81 1 35 1-85 1-12 1 149 1-102 1 124 1-110 1 77 1-46 1-41 1-9 1 103 1-12 1-68 1 49 1-126 1 67 1 148 1-97 1 153 1-154 1 36 1 48 1-32 1-61 1-16 1 118 1-99 1-47 1 218 1-161 1-89 1 66 1-21 1 71 1-113 1 2 1 136 1-207 1 170 1-38 1 129 1-213 1 180 1-4 1 8 1 177 1-222 1-37 1-107 1 196 1-137 1-48 1 132 1-55 1-19 1 104 1-52 1-15 1 65 1-133 1 235 1-216 1 49 1 71 1-97 1 3 1 192 1-101 1-117 1 29 1 166 1-199 1-57 1 125 1-22 1-1 1-6 1 10 1 18 1-86 1 110 1-18 1 36 1-23 1-66 1 2 1 48 1 28 1-29 1 116 1-149 1-5 1 105 1-27 1 2 1 20 1-165 1 69 1 70 1-49 1 51 1-13 1-53 1-4 1 40 1 66 1-116 1 44 1 22 1-113 1 106 1-198 1 126 1 12 1 58 1-27 1-52 1-8 1 32 1 124 1 53 1-71 1 13 1-134 1 93 1-89 1 111 1-8 1-29 1 85 1-18 1-80 1-64 1 12 1 68 1 22 1-117 1 58 1 8 1-66 1 60 1-15 1 39 1-48 1 21 1 58 1-74 1-74 1 103 1-44 1-45 1 115 1-71 1-69 1 63 1-4 1 149 1-202 1 82 1 88 1-174 1 94 1-48 1-40 1 29 1 112 1-41 1 55 1-108 1 37 1-29 1-12 1 21 1-1 1 85 1-194 1 85 1-108 1 151 1-17 1 93 1 18 1-137 1 14 1 30 1-32 1 45 1-45 1-36 1 76 1-2 1-134 1 144 1 6 1-74 1-54 1 110 1 5 1-65 1 124 1 25 1-55 1-122 1 25 1 25 1 3 1 51 1-8 1 11 1 17 1-41 1-23 1 66 1-65 1-89 1 204 1-111 1 42 1 3 1-52 1-25 1 107 1-38 1 102 1-106 1-12 1-72 1 75 1 117 1-48 1-115 1 48 1-61 1 212 1-171 1-14 1 87 1-203 1 148 1 91 1-56 1-93 1 55 1 5 1-50 1 24 1 29 1 40 1 33 1 46 1-134 1 7 1-23 1-37 1 54 1 130 1-54 1-1 1-71 1 95 1-39 1-31 1 126 1-73 1 10 1-183 1 91 1 79 1-16 1-38 1-96 1 134 1-114 1 92 1 43 1-23 1-81 1 48 1-35 1 72 1-87 1-1 1 67 1-4 1-18 1 12 1-53 1-18 1 65 1-118 1 207 1-242 1 161 1 170 1-189 1-100 1 76 1 69 1-64 1 81 1-82 1 151 1-126 1 11 1-21 1 21 1-39 1 50 1-42 1 30 1 14 1-50 1-1 1 31 1-16 1 26 1-44 1 186 1-246 1 89 1 47 1-69 1 90 1-61 1 158 1-86 1-163 1 78 1 20 1-115 1 56 1 53 1-3 1-185 1 230 1-53 1 2 1 75 1-133 1 68 1-30 1 113 1 18 1-196 1 172 1-91 1-68 1 71 1-13 1 12 1 72 1-101 1 9 1 15 1-67 1 68 1 80 1-90 1 112 1-164 1 274 1-252 1 47 1-13 1 9 1 3 1-80 1 10 1 109 1-7 1-55 1 22 1-49 1-23 1 166 1-89 1 54 1-88 1-5 1 62 1-70 1 79 1-30 1-44 1 24 1 119 1-210 1 88 1 113 1-111 1 15 1-62 1 68 1-32 1-44 1-64 1 229 1-59 1-120 1 163 1-133 1 107 1-31 1 0 1-36 1-38 1-39 1 60 1-20 1 103 1-14 1 81 1-102 1 33 1-50 1 16 1-96 1 54 1 171 1-128 1-33 1-28 1-37 1-4 1 23 1 42 1-42 1 99 1-88 1 125 1-147 1 148 1 1 1-57 1-104 1 19 1 58 1-68 1 70 1-53 1 149 1-113 1 14 1 3 1 49 1 41 1-126 1 43 1 88 1-70 1 55 1-94 1-17 1 48 1-36 1-151 1 308 1-115 1-49 1 35 1-40 1-49 1 97 1-41 1-18 1 110 1-7 1-36 1-27 1 54 1-59 1-107 1 101 1 47 1-8 1 34 1-4 1 44 1-220 1 45 1 57 1-31 1 59 1-24 1 76 1 12 1-17 1-49 1-184 1 166 1 49 1-12 1-9 1-95 1 120 1-111 1 29 1 23 1-80 1 189 1-71 1-12 1-55 1 67 1-4 1-22 1-42 1 17 1 58 1-80 1 63 1-97 1 59 1 71 1-52 1-97 1 240 1-127 1 6 1-28 1 38 1-66 1 102 1-81 1-39 1 90 1 51 1-72 1-38 1-47 1 46 1-20 1 20 1 212 1-215 1 55 1-78 1 52 1 6 1 79 1-56 1-27 1 0 1 35 1-71 1 98 1-20 1 5 1-136 1 76 1-51 1 100 1-119 1 45 1 41 1 34 1-114 1 76 1-23 1 8 1 2 1 14 1-21 1 18 1-50 1 129 1 28 1 49 1-181 1 70 1-11 1 52 1-117 1-133 1 149 1 29 1-99 1 120 1-101 1 62 1-21 1-80 1 171 1 93 1-170 1 109 1-78 1 19 1-98 1 122 1-115 1 54 1 103 1-95 1-18 1-52 1 180 1-210 1 216 1-36 1-138 1 68 1-3 1-197 1 210 1 20 1-116 1 213 1-146 1 8 1 88 1-61 1-155 1 178 1-74 1 61 1-80 1-39 1 61 1 28 1 8 1-16 1 2 1 34 1 50 1-135 1 0 1-8 1 50 1 19 1 29 1-68 1 69 1-47 1 11 1-2 1-33 1 51 1-56 1-24 1 37 1 123 1-128 1-50 1-20 1 133 1-32 1-22 1 172 1-291 1 133 1 3 1 51 1-51 1-142 1 122 1 103 1-45 1-21 1-13 1 34 1-77 1 8 1 50 1 27 1-88 1 43 1-127 1 147 1-2 1 8 1-74 1 99 1-88 1 6 1 7 1-24 1 30 1-93 1 101 1 62 1-43 1 40 1 1 1-133 1 69 1-142 1 83 1 13 1 69 1-34 1 103 1-101 1 70 1-145 1 161 1-33 1-74 1 96 1-129 1 22 1 32 1 35 1-17 1-102 1 75 1-75 1 23 1 8 1 43 1 45 1-117 1 71 1 132 1-146 1 86 1 52 1-198 1 174 1-90 1 33 1 126 1-124 1-42 1 15 1-50 1 59 1 11 1 126 1-70 1-52 1-23 1 71 1-58 1 32 1-47 1-59 1-167 1 205 1-117 1 43 1 54 1 44 1-94 1 98 1 31 1 53 1-59 1-23 1 164 1-172 1 2 1 93 1-6 1-73 1 21 1 24 1-20 1-6 1-92 1 41 1-174 1 178 1-71 1 20 1 60 1 32 1-21 1 39 1 53 1-155 1 39 1-48 1 195 1-187 1 77 1-73 1 88 1-106 1 104 1-17 1 3 1 67 1-104 1 20 1 40 1-97 1 83 1 16 1-58 1-11 1-117 1 183 1-62 1 25 1 151 1-88 1-87 1-1 1-180 1 226 1 81 1-210 1 146 1-31 1-50 1 15 1 13 1 6 1 41 1-89 1 62 1-9 1 192 1-196 1-45 1 64 1 3 1-50 1 22 1 95 1-83 1 49 1 132 1-195 1 93 1-109 1-2 1 115 1-146 1 45 1 139 1-187 1 75 1 2 1 55 1-96 1 54 1-66 1 108 1 10 1-106 1 5 1-37 1 48 1-5 1 53 1-93 1 139 1-103 1-3 1-23 1 128 1-101 1 36 1 11 1-89 1 50 1 67 1-97 1 118 1-57 1 41 1-138 1 14 1 66 1 21 1-51 1-44 1 90 1-36 1 19 1 34 1-89 1 142 1-126 1 136 1-41 1 18 1-63 1 90 1-103 1-52 1-9 1-24 1 117 1-106 1 41 1 73 1 23 1 53 1-21 1-100 1-72 1 182 1-61 1-31 1-20 1 89 1-15 1-1 1-140 1-26 1 180 1-117 1 202 1-118 1 22 1-242 1 204 1-30 1-35 1 57 1-31 1-6 1 28 1-167 1 126 1 66 1 24 1 15 1-59 1 4 1-64 1 152 1-134 1 24 1 147 1-146 1-42 1 66 1 10 1-13 1-78 1 141 1-82 1-65 1 29 1 46 1-105 1 81 1-41 1 143 1-123 1-10 1-2 1 132 1-85 1 37 1 63 1 13 1-154 1 79 1 53 1-86 1 115 1 10 1-65 1-69 1 29 1 37 1 38 1-41 1-55 1-43 1-26 1 100 1-32 1-23 1 58 1 12 1-26 1 51 1-48 1 98 1-130 1 61 1-37 1 86 1-52 1 1 1-18 1-61 1 86 1 5 1-54 1 50 1-173 1 202 1-79 1-16 1-9 1 49 1-52 1 6 1 4 1 84 1-52 1-25 1 10 1 115 1-148 1 93 1-202 1 237 1-90 1 65 1 19 1-9 1-64 1 50 1-8 1-63 1-10 1 19 1-41 1 109 1-52 1 104 1-161 1 24 1-50 1-11 1 66 1 3 1-50 1 141 1-71 1-13 1 28 1-6 1-30 1-181 1 176 1 31 1 2 1 113 1-101 1-54 1 12 1 8 1-31 1 53 1-38 1 39 1-99 1 61 1-135 1 251 1-108 1-13 1 80 1 39 1-116 1 56 1-21 1-66 1 86 1-73 1-62 1-1 1 71 1 55 1-64 1-53 1 157 1-163 1 79 1-33 1 78 1-128 1 124 1-102 1 143 1-85 1 4 1 64 1-53 1-69 1 121 1-51 1 53 1-7 1-87 1 67 1-100 1 175 1-118 1 59 1-13 1 15 1-182 1 112 1 24 1-2 1-57 1 67 1-81 1 5 1 150 1 31 1-128 1-26 1 126 1-22 1-110 1 9 1 100 1-118 1 50 1 115 1-98 1-24 1 66 1-54 1 18 1-85 1 166 1-5 1-31 1-98 1 16 1-29 1 107 1-90 1-38 1 138 1-89 1-6 1 0 1 115 1-67 1-59 1-28 1 78 1 17 1 5 1-85 1-34 1 97 1-16 1-35 1 138 1-125 1 41 1 34 1-134 1 109 1-39 1 162 1-207 1-3 1 111 1 9 1-65 1-24 1 48 1 107 1-225 1 161 1-41 1 29 1-160 1 108 1-25 1-18 1 63 1-26 1 18 1-41 1 71 1-84 1 55 1-13 1 91 1-60 1-46 1-84 1 16 1 89 1-42 1 63 1 6 1-10 1-32 1 80 1-68 1 20 1-55 1-14 1 65 1 67 1-31 1-114 1 120 1-42 1 20 1-194 1 178 1-7 1-24 1 6 1-140 1 164 1-1 1 28 1-46 1 70 1-135 1 37 1 76 1-55 1-42 1 59 1-40 1 54 1 53 1-118 1 49 1-31 1 3 1 267 1-241 1-84 1 86 1 94 1-76 1-34 1 23 1 92 1-152 1 52 1-16 1 20 1 27 1-85 1-77 1 136 1-7 1-23 1 33 1 2 1-53 1 24 1-5 1 48 1-122 1 80 1 25 1-202 1 250 1 53 1 10 1-163 1 24 1 6 1 24 1-72 1-195 1 246 1 50 1-35 1-4 1-24 1-96 1 109 1-189 1 262 1-84 1 44 1-48 1-65 1 86 1 6 1-88 1 121 1-42 1-50 1 7 1 88 1-23 1-127 1 173 1-42 1-33 1-20 1-24 1 23 1 49 1 43 1-9 1-53 1-26 1-197 1 220 1-43 1 82 1-76 1-75 1 109 1-71 1 124 1-40 1-35 1-29 1 67 1-61 1 126 1-29 1 6 1-178 1 70 1 78 1-63 1 49 1 7 1 61 1-95 1 26 1 68 1-16 1-46 1 139 1-255 1 150 1-12 1-46 1 134 1-108 1-7 1-59 1 157 1-19 1-47 1 36 1 9 1-73 1 23 1 17 1-72 1 70 1 14 1-59 1-19 1 39 1 0 1 24 1-26 1-70 1 48 1-26 1 107 1-39 1-50 1-13 1 65 1-247 1 253 1-45 1 57 1-163 1 173 1-67 1 14 1-81 1 42 1 49 1-10 1 183 1-245 1 71 1 29 1 4 1-108 1 119 1-115 1 90 1-123 1 78 1-68 1 140 1-87 1 27 1-17 1-79 1 120 1-74 1 132 1-191 1 65 1 46 1 11 1-36 1 10 1-139 1 170 1 14 1-237 1 148 1-5 1 66 1-20 1-15 1 67 1-78 1 20 1-105 1 134 1-116 1 183 1-64 1 41 1-140 1 64 1-15 1-103 1 182 1 22 1-105 1 69 1 4 1-92 1 103 1 66 1-87 1-40 1 27 1-58 1-42 1 174 1-89 1-76 1 126 1-21 1-19 1-45 1-37 1 35 1 48 1-84 1 0 1 3 1 72 1 72 1-69 1 23 1-159 1 82 1 48 1 18 1-121 1 56 1 124 1-72 1 24 1 11 1-78 1 133 1-158 1-5 1 117 1-79 1 70 1 6 1-106 1 142 1-90 1 76 1-38 1-59 1 21 1-64 1 80 1 71 1-116 1 44 1 35 1-81 1 6 1 42 1-23 1-125 1 257 1-203 1 146 1-157 1 145 1-113 1 120 1-7 1 25 1-126 1 29 1 89 1-98 1-4 1-52 1 35 1 198 1-262 1 99 1 35 1 4 1-31 1-18 1 62 1-94 1 144 1-59 1-50 1-18 1 17 1 65 1-85 1 72 1 72 1 9 1-205 1-15 1 143 1-10 1 31 1-67 1-29 1 63 1 39 1-68 1 63 1-32 1 63 1-101 1 5 1 49 1 34 1-38 1 135 1-265 1 201 1-40 1-130 1 30 1-3 1 54 1 25 1-62 1 9 1 67 1 34 1-73 1-29 1 42 1-75 1 22 1 59 1 10 1-80 1-28 1 65 1 10 1 45 1-51 1-111 1 77 1 105 1-136 1 139 1-100 1-17 1 100 1-122 1 37 1 30 1-43 1-100 1 99 1 18 1-89 1 44 1 104 1-71 1 34 1-100 1 95 1 35 1 9 1-92 1 19 1-37 1-12 1 79 1-21 1 72 1-52 1-30 1-31 1 18 1 169 1-154 1 5 1 11 1 48 1-116 1 153 1-89 1 109 1-188 1 68 1 20 1 18 1 15 1-19 1 31 1-101 1 39 1-11 1-36 1 102 1 17 1-35 1-96 1 133 1-71 1-20 1 134 1-54 1-88 1-6 1 51 1 42 1-19 1-165 1 199 1-82 1 127 1-204 1 159 1-62 1-49 1 143 1-115 1-11 1 93 1-173 1 188 1-92 1-33 1 65 1-16 1-45 1-93 1 82 1 98 1 10 1-23 1-42 1 56 1-161 1 132 1 56 1-18 1 25 1-165 1 69 1 43 1-28 1 42 1-72 1 41 1-16 1-47 1 126 1-10 1-120 1 91 1-28 1 18 1 53 1 40 1-146 1 48 1-45 1 59 1 4 1-62 1 38 1 17 1-20 1 86 1-95 1-80 1-26 1 115 1-132 1 133 1 37 1-62 1 55 1-106 1 118 1-81 1 66 1-56 1-55 1 137 1 52 1-54 1-62 1-56 1 134 1-68 1 61 1-86 1 40 1-1 1-41 1 22 1 39 1-1 1 30 1-7 1-113 1 120 1-112 1 88 1-138 1 185 1-102 1 60 1-15 1 70 1-102 1-23 1 11 1 68 1-9 1 10 1-49 1-71 1-7 1 69 1 91 1 34 1-58 1 12 1-4 1-148 1 46 1-42 1 101 1-81 1 40 1-39 1 41 1-23 1 86 1-15 1-157 1 163 1-98 1-13 1 49 1 113 1-73 1-107 1 42 1 22 1-63 1 169 1 15 1-55 1-107 1 16 1-83 1 59 1 202 1-85 1 39 1-144 1 45 1-17 1-9 1 79 1-101 1 72 1 23 1-94 1 56 1 22 1-53 1 95 1-73 1 65 1-89 1-9 1 37 1-6 1-10 1-25 1-46 1 66 1 11 1 29 1 19 1-48 1 29 1-79 1 63 1 13 1 11 1-17 1-29 1-2 1 72 1-113 1 60 1-29 1-92 1 63 1 62 1 1 1-100 1 110 1 38 1 21 1-91 1 75 1 6 1-111 1-39 1-4 1-50 1 87 1 33 1 107 1-157 1 14 1 98 1-43 1 34 1 51 1 13 1-208 1 216 1-100 1-25 1 74 1-106 1 12 1 38 1 43 1 1 1-40 1 83 1-41 1 15 1-53 1 4 1 14 1 43 1-85 1-53 1 71 1-27 1 104 1-33 1-10 1-108 1 147 1-119 1 31 1-57 1 127 1-95 1 101 1-118 1 85 1-100 1 62 1 52 1-9 1-42 1-103 1 163 1-58 1-45 1 46 1 21 1 38 1-31 1 75 1-153 1 64 1 15 1 121 1-89 1-94 1 119 1-45 1-169 1 195 1-18 1 1 1-14 1-130 1 193 1 7 1-142 1-8 1 37 1 106 1-106 1 83 1-23 1-51 1 25 1-16 1 122 1-110 1-34 1 74 1 92 1-126 1 30 1-1 1-123 1-28 1-12 1 162 1-118 1 28 1 74 1-4 1 21 1 25 1-86 1 34 1 109 1-200 1 56 1 96 1-50 1-83 1 26 1 32 1-46 1 84 1-32 1 57 1-92 1 58 1 73 1-158 1 63 1-16 1 76 1-59 1 211 1-219 1 17 1-37 1 33 1 29 1-43 1-72 1 60 1 53 1-35 1 82 1-118 1 37 1-111 1 129 1-65 1 28 1-23 1 0 1 11 1-135 1 100 1 222 1-93 1-94 1-17 1 279 1-243 1 68 1-19 1-23 1-11 1 76 1-72 1 193 1-190 1-52 1 71 1 2 1-144 1 72 1-22 1 112 1-14 1-104 1 84 1 51 1-47 1-106 1 236 1-162 1-99 1 124 1-140 1 72 1 87 1-36 1-55 1 118 1-124 1 36 1 62 1-145 1 228 1-59 1-118 1 123 1-26 1-46 1 82 1 56 1-213 1 72 1 2 1 3 1-14 1 11 1-12 1-37 1 144 1-69 1-119 1 102 1-42 1 34 1 35 1-135 1 83 1 43 1 56 1-168 1 191 1-209 1 151 1-65 1 28 1-51 1 53 1-149 1 30 1 82 1 64 1 4 1-58 1-9 1 17 1-61 1 16 1 153 1-98 1 5 1 32 1-35 1-104 1 109 1-51 1 139 1-117 1 121 1-183 1 27 1-15 1 3 1 98 1-27 1-73 1 138 1-171 1 80 1 49 1 0 1-95 1 62 1 50 1-44 1-24 1 60 1 32 1-1 1 3 1-86 1-6 1-19 1 127 1-41 1 58 1-104 1 213 1-219 1-31 1 135 1-167 1 117 1-65 1 150 1-90 1 66 1-107 1 97 1-121 1 22 1 1 1 40 1-94 1 61 1 20 1-11 1-123 1 104 1 66 1-15 1-121 1 15 1 133 1 90 1-152 1-74 1 53 1 33 1-52 1-61 1 67 1 12 1-58 1-33 1 53 1 56 1 19 1 18 1-35 1 7 1-37 1-45 1 84 1-3 1-81 1 134 1-168 1 158 1 16 1-222 1 222 1-33 1 24 1-22 1-81 1 20 1 24 1 41 1-84 1-38 1 50 1 128 1 20 1-91 1-79 1 81 1-68 1 236 1-373 1 166 1-47 1 67 1-48 1 45 1-65 1 31 1-17 1 76 1-46 1-11 1 13 1-28 1 67 1-15 1-41 1-29 1 145 1-152 1 82 1-17 1-32 1-11 1 93 1-71 1 142 1-107 1 14 1-28 1-14 1 96 1-32 1-20 1-40 1-121 1 24 1 80 1 51 1-15 1 101 1-99 1 66 1-38 1 20 1-6 1-85 1-11 1 13 1-100 1 160 1-11 1-27 1-15 1 41 1-131 1 84 1 30 1 51 1-24 1-63 1 17 1 7 1-27 1 126 1 16 1-100 1 75 1-129 1 11 1 28 1 19 1 36 1-50 1-45 1 16 1-42 1 35 1-1 1 119 1-56 1-29 1-23 1-20 1 14 1-23 1 116 1-66 1-26 1 21 1 38 1 37 1-56 1 10 1-78 1 87 1-154 1 139 1 40 1-14 1-57 1 20 1 73 1-124 1 94 1-83 1 32 1-66 1 74 1 19 1-93 1 6 1-64 1 145 1-59 1 14 1 5 1-20 1 77 1-59 1 77 1-122 1 7 1 45 1-55 1 191 1 51 1-247 1-78 1 154 1 23 1-14 1-34 1 96 1-149 1 158 1-91 1 12 1-37 1 215 1-202 1-7 1-13 1 8 1 75 1-142 1 148 1 41 1-79 1 95 1-143 1 150 1-101 1 53 1-28 1 101 1-133 1 49 1 74 1-330 1 126 1 49 1 57 1-86 1 126 1-12 1-101 1 73 1 166 1-191 1 33 1-41 1 105 1-48 1 6 1-67 1 13 1 118 1-51 1-259 1 337 1-202 1 70 1-16 1 27 1 26 1-85 1 65 1-10 1-11 1-20 1 20 1-25 1 77 1-96 1 107 1-7 1-57 1 121 1-5 1-43 1-69 1-5 1-23 1 74 1-18 1-36 1-101 1 94 1 6 1 8 1-32 1 31 1 108 1-39 1-177 1 142 1-10 1 48 1-87 1 57 1-48 1-16 1-54 1 49 1 148 1-99 1 9 1-22 1-33 1-43 1 47 1 73 1-84 1-6 1 80 1 25 1-132 1 119 1-11 1 4 1-26 1 27 1-67 1 40 1-81 1 111 1-34 1-22 1-58 1 40 1 11 1-13 1 103 1-34 1-28 1-108 1 104 1 18 1 70 1-130 1 25 1-126 1 145 1-15 1-112 1 95 1 43 1-39 1 60 1-17 1-75 1 24 1 42 1 6 1-97 1 104 1-75 1 52 1 4 1-7 1 5 1-32 1 107 1-179 1 57 1-148 1 93 1 65 1-151 1 249 1-117 1 73 1 19 1 9 1-29 1-126 1 59 1 116 1-155 1 43 1 98 1-114 1 22 1 43 1-48 1 21 1 16 1 16 1-4 1-1 1 11 1 26 1-63 1 66 1-50 1-48 1-58 1 74 1-17 1 39 1-62 1 62 1 26 1 4 1-131 1 75 1 47 1-77 1-44 1 110 1-52 1 81 1 19 1-78 1-5 1-14 1 40 1-43 1 26 1 99 1-59 1-92 1-78 1 135 1 78 1-98 1 40 1-26 1-60 1-82 1 104 1-129 1 238 1 32 1-24 1-68 1-83 1-36 1 170 1-49 1 88 1-141 1 63 1-11 1 13 1-19 1 81 1-127 1 48 1-16 1 9 1 115 1-24 1-57 1-85 1 58 1-111 1 142 1-83 1 143 1-37 1 5 1-168 1 136 1-31 1 18 1-47 1 69 1 146 1-57 1-17 1 39 1-132 1-24 1-58 1 176 1-150 1 86 1-137 1 81 1 8 1 0 1 35 1-79 1 207 1-213 1 80 1-14 1-147 1 17 1 209 1-99 1 0 1-52 1 85 1-70 1 29 1-139 1 222 1-75 1 49 1-117 1 83 1-7 1-44 1-116 1 89 1 152 1 16 1-81 1 53 1 20 1-129 1 77 1-28 1-44 1 82 1-29 1 10 1 66 1-173 1 95 1 21 1 10 1-85 1 18 1 131 1 12 1-43 1-173 1 48 1-28 1 93 1 10 1-20 1-44 1 78 1-169 1-15 1 204 1-51 1-48 1 8 1 51 1-12 1-60 1-30 1 162 1-73 1-49 1-56 1 156 1-233 1 128 1-107 1 152 1 34 1-62 1 30 1 74 1-100 1 119 1-90 1 6 1 15 1 52 1-77 1-36 1 69 1 131 1-187 1-7 1-14 1-31 1 138 1 0 1-6 1-8 1-1 1-82 1 6 1 49 1-2 1-23 1-4 1 18 1-34 1 17 1-124 1 159 1-60 1 60 1-120 1 172 1-81 1 1 1 52 1-109 1 48 1-19 1 45 1-1 1-14 1-103 1 69 1 64 1 40 1-85 1 19 1 69 1 8 1-122 1 110 1-19 1-36 1 37 1-66 1-1 1 87 1 34 1-103 1-4 1-48 1 37 1 44 1 32 1-145 1 135 1-43 1-32 1 53 1 16 1 14 1-42 1 39 1-86 1 25 1-35 1 158 1-119 1-65 1 156 1-31 1-2 1-46 1 24 1-27 1-32 1-34 1 54 1-51 1 172 1-23 1-73 1 122 1-129 1-42 1 51 1-127 1 66 1 48 1-6 1 88 1-132 1 70 1-29 1 19 1-128 1 62 1-17 1 9 1-4 1 86 1 76 1-90 1-97 1 122 1-10 1-76 1 154 1-180 1 125 1-64 1 57 1-24 1 21 1 30 1-38 1-33 1 10 1 43 1-92 1 10 1 151 1-172 1 76 1-50 1 10 1-61 1 114 1-28 1 22 1-29 1-88 1 107 1-47 1 4 1 96 1-123 1 92 1-57 1 74 1-140 1 68 1-19 1-13 1 82 1 11 1-45 1-55 1 59 1 35 1-57 1 17 1-43 1 48 1 22 1-31 1-17 1 88 1-65 1 126 1-133 1-24 1-41 1 51 1-91 1 114 1-64 1 79 1 6 1-37 1 34 1-133 1 52 1 67 1-81 1 17 1 157 1-70 1-62 1 81 1 2 1-23 1 4 1-14 1 56 1-21 1 0 1 61 1-82 1-135 1 161 1-11 1-96 1 35 1-56 1 10 1-26 1 118 1 36 1-187 1 192 1-42 1 62 1-88 1-37 1-117 1 19 1 83 1 56 1-100 1 26 1-94 1 166 1 5 1-15 1 39 1-1 1-67 1 0 1-88 1 248 1-223 1 64 1 42 1-42 1 71 1-149 1 122 1 29 1-100 1 63 1-23 1 47 1-25 1-17 1 91 1-221 1 46 1 55 1 74 1-101 1 39 1 25 1 43 1-79 1 3 1 42 1-34 1-4 1 2 1 127 1-128 1 6 1 157 1-180 1 218 1-233 1 159 1-86 1-52 1 99 1 2 1-140 1 69 1-39 1 177 1-272 1 199 1-95 1 28 1-33 1 22 1 32 1-4 1 23 1-48 1 122 1-101 1 55 1-41 1 49 1-121 1 3 1 60 1-74 1 160 1-61 1-46 1-15 1-10 1 110 1-71 1 64 1-152 1 213 1-177 1 101 1 20 1-15 1-91 1-85 1 77 1 35 1 39 1 9 1 73 1-221 1 303 1-192 1-117 1 179 1-82 1-61 1-108 1 226 1-13 1-47 1-21 1-24 1 72 1-110 1 58 1 25 1 19 1 24 1 45 1 18 1-13 1-11 1-88 1 21 1-31 1-10 1-5 1 15 1 56 1-28 1 65 1 13 1-61 1-44 1 112 1-158 1 120 1-93 1 93 1-15 1 0 1-86 1-13 1 29 1 95 1-201 1 178 1-119 1 150 1-17 1-35 1 20 1 20 1-110 1 80 1 21 1 16 1-55 1-58 1-8 1 68 1-13 1-14 1 50 1-32 1 41 1 14 1-58 1 141 1-91 1 8 1-98 1 118 1-45 1-172 1 191 1-19 1 94 1-128 1 55 1-92 1 82 1 26 1-138 1 61 1 53 1-105 1 23 1 64 1 14 1 3 1-20 1 40 1 8 1-30 1 61 1-70 1-18 1 162 1-85 1-58 1-60 1 3 1 273 1-215 1 28 1-40 1-25 1 33 1-10 1 15 1-95 1 125 1-68 1 108 1-135 1 30 1 5 1-2 1 6 1-57 1 38 1-13 1-41 1 31 1 17 1 106 1 71 1-167 1 10 1-12 1 61 1-67 1-8 1 153 1-190 1 139 1-114 1 57 1 101 1-175 1 92 1-38 1 55 1-49 1-13 1 90 1 92 1-114 1 74 1-115 1 3 1-25 1 44 1 41 1-24 1-95 1 0 1 58 1 123 1-45 1-76 1-60 1 120 1-42 1-210 1 207 1 38 1-30 1-116 1 57 1-53 1 53 1 94 1-109 1 3 1 194 1-77 1-177 1 82 1 3 1 40 1-91 1 36 1-41 1 99 1-23 1 73 1-120 1 36 1-88 1 124 1-12 1-145 1 168 1-48 1-61 1 77 1 91 1-38 1-42 1-24 1 167 1-186 1 122 1-90 1 5 1 72 1-128 1-23 1 52 1-11 1 2 1-87 1 92 1-77 1 82 1-31 1 60 1 8 1 17 1-11 1 21 1-54 1-49 1 38 1 32 1 88 1-131 1-15 1 103 1-25 1-12 1-48 1-17 1-63 1 102 1 71 1-132 1-8 1-39 1 178 1-29 1-81 1 62 1-101 1 71 1 118 1-182 1 8 1 46 1 65 1-111 1 75 1-52 1 32 1-81 1 88 1-4 1 54 1-50 1 44 1 8 1-49 1 26 1-65 1-6 1 150 1-152 1 33 1-35 1 16 1 17 1 44 1-3 1-68 1-51 1-2 1 36 1 62 1-6 1 12 1 149 1-110 1-35 1 17 1-4 1-22 1 50 1-112 1 6 1 97 1-2 1 38 1-154 1-24 1 41 1 74 1 26 1-65 1-94 1 95 1-70 1 128 1-144 1 81 1 13 1 13 1-23 1-22 1 117 1-224 1 332 1-283 1 55 1 27 1 90 1-18 1-66 1-4 1-45 1 80 1-158 1 144 1 82 1-66 1 5 1 8 1 41 1-78 1-13 1 23 1-51 1 82 1 86 1-129 1 16 1 2 1-45 1 25 1 18 1-32 1 63 1 38 1-74 1-102 1 153 1-118 1 4 1 62 1-41 1 35 1-25 1 11 1 34 1 47 1-69 1 27 1-44 1-99 1 159 1 57 1-105 1 76 1-24 1-45 1-73 1 171 1-158 1-60 1 100 1-33 1 15 1-47 1 118 1-55 1 150 1-74 1 18 1-61 1-88 1 113 1-46 1 74 1-84 1-10 1-95 1 113 1 4 1-69 1 81 1-77 1 31 1-96 1 95 1 29 1 52 1-46 1-145 1 182 1 0 1-41 1-109 1 264 1-165 1 33 1 1 1-52 1 146 1-65 1-124 1 17 1 24 1-71 1 178 1-59 1 71 1-84 1 17 1 55 1-89 1 12 1 3 1 84 1-123 1 102 1-25 1-42 1-25 1 55 1-35 1-95 1 93 1 64 1-29 1-46 1 83 1-57 1-31 1 142 1-107 1-24 1 97 1-26 1 2 1-80 1 76 1 15 1-22 1-26 1-41 1 49 1 6 1-53 1 23 1 32 1-17 1 11 1-87 1 119 1-38 1-56 1 74 1 11 1-88 1 62 1 39 1 34 1-53 1-99 1 140 1-26 1-90 1 57 1-32 1 26 1 50 1-173 1 136 1-153 1 128 1 11 1-36 1 79 1-64 1-3 1-39 1 50 1 13 1-74 1 24 1 97 1 23 1-118 1-67 1 0 1 47 1 79 1-85 1 73 1-72 1 161 1-123 1-40 1-10 1 50 1 121 1-167 1 61 1 69 1-4 1-26 1 6 1-45 1-15 1 98 1-187 1 344 1-353 1 56 1 9 1 84 1 11 1 9 1-149 1 105 1-261 1 266 1 10 1 23 1-22 1-44 1 20 1-20 1-32 1 58 1-11 1-17 1 115 1-101 1-42 1 1 1 65 1-30 1-45 1 52 1 137 1-201 1 67 1 127 1-170 1 75 1 49 1-118 1 43 1 103 1-148 1 108 1-115 1 14 1 74 1-58 1 69 1-37 1-21 1 109 1-147 1 92 1-123 1 88 1 21 1-6 1-74 1 74 1-43 1-121 1 162 1-12 1-19 1-16 1-52 1 17 1-12 1 36 1 46 1-31 1-26 1 50 1 58 1-85 1 31 1-7 1-27 1 60 1-31 1-65 1 39 1 17 1-25 1 14 1 66 1-118 1 62 1 233 1-283 1 66 1-7 1-64 1-54 1 233 1-139 1 76 1 20 1-69 1 8 1 7 1-7 1 37 1-78 1 3 1 45 1-171 1 181 1-13 1-40 1 17 1-90 1 65 1 6 1-72 1 92 1-64 1 142 1-58 1-88 1 37 1 88 1 69 1-97 1-188 1 102 1-5 1 18 1-204 1 237 1 93 1-103 1-58 1 150 1-91 1 103 1-116 1 71 1-95 1 61 1-33 1 101 1-164 1 184 1-154 1 139 1-129 1-110 1 248 1-32 1-56 1-37 1 77 1 10 1-41 1-70 1 55 1-45 1-16 1 38 1-60 1-7 1 154 1-64 1-1 1 216 1-232 1 17 1-37 1 65 1-29 1-10 1 23 1 23 1-30 1-18 1 66 1-19 1-29 1-49 1 32 1-85 1 135 1 26 1-54 1 7 1 6 1-78 1 118 1-47 1-10 1-126 1 74 1-17 1 49 1 20 1 45 1-65 1-18 1-6 1-63 1 99 1 39 1-62 1 88 1-50 1-96 1 177 1-113 1 48 1-7 1 157 1-181 1 109 1-53 1-49 1 50 1-73 1 18 1 36 1 25 1-24 1 8 1-92 1 85 1-16 1-70 1 90 1 22 1 2 1-30 1-132 1 63 1 39 1-81 1 0 1 94 1-129 1 34 1 219 1-153 1 86 1-174 1-10 1 137 1 9 1-5 1 40 1 44 1-223 1 160 1-127 1 205 1-200 1 32 1 32 1-56 1 29 1 15 1 112 1-43 1-44 1-33 1 45 1-14 1-3 1 152 1-110 1-22 1 0 1 1 1-15 1 72 1-2 1-134 1 60 1 94 1-68 1-2 1 11 1-132 1 92 1-99 1 123 1 104 1-137 1-47 1 115 1-78 1-39 1 94 1-3 1-39 1-73 1 153 1-92 1 43 1-44 1 55 1 72 1-214 1 138 1 18 1-5 1-52 1 15 1-63 1 93 1 19 1 40 1-85 1 49 1 10 1-55 1-136 1 183 1-24 1-3 1-57 1 13 1 81 1 58 1-35 1-134 1 133 1-56 1-77 1 69 1 29 1-53 1 8 1-25 1 41 1 20 1 34 1-1 1-135 1 129 1 14 1 38 1-106 1-10 1-1 1 54 1 74 1-234 1 166 1-5 1 37 1-138 1 13 1 54 1-93 1 41 1 22 1 15 1-23 1-25 1-26 1 71 1-49 1 104 1-9 1-72 1 50 1-36 1-46 1 2 1 17 1 35 1 38 1-32 1 15 1-24 1 33 1 7 1-50 1 63 1-168 1 94 1-65 1 88 1-25 1 94 1-130 1 34 1 0 1 56 1 15 1-139 1 109 1-117 1 193 1-162 1 79 1-104 1 16 1 75 1 14 1-21 1-56 1 82 1-65 1 62 1 49 1-53 1-10 1-28 1 103 1-93 1 6 1 70 1-75 1 5 1-55 1 134 1-17 1-39 1 241 1-192 1-65 1 43 1-10 1-44 1 1 1-55 1-8 1 76 1-21 1 40 1 103 1-46 1-46 1 95 1-128 1-7 1 18 1 41 1 18 1-112 1 12 1 84 1-186 1 129 1-28 1 162 1-74 1-89 1-51 1 155 1-87 1-54 1 27 1 29 1 8 1 24 1-7 1-62 1 53 1-17 1 41 1-117 1 103 1 32 1-3 1-116 1-22 1 119 1-25 1 160 1-8 1-78 1-1 1-96 1 81 1-99 1-85 1 8 1 181 1-106 1 99 1-108 1 118 1 2 1 6 1-110 1-28 1 89 1 34 1-34 1-8 1 2 1-13 1-68 1-31 1 205 1-34 1-54 1-62 1 80 1-6 1-4 1-22 1-19 1 76 1-9 1-84 1 141 1-157 1 43 1-62 1 80 1 72 1-148 1-9 1 53 1-69 1 87 1 33 1-22 1-64 1 6 1 76 1 31 1 44 1-179 1 37 1 39 1 18 1-21 1 43 1 23 1 111 1-218 1 85 1-6 1-98 1 108 1-26 1 55 1-145 1 203 1-154 1 91 1-73 1-22 1 99 1 6 1-113 1-5 1 43 1 44 1-38 1 36 1-102 1-52 1 111 1 142 1-61 1-27 1 13 1-56 1-15 1 174 1-179 1 38 1-82 1 91 1-118 1 96 1 134 1-202 1-20 1 107 1 113 1-82 1-31 1-29 1-51 1 141 1-180 1 107 1-26 1 0 1 108 1-90 1-108 1 19 1 65 1-5 1 14 1-46 1 105 1-45 1-35 1 186 1-123 1-14 1-144 1 142 1-82 1 133 1-129 1-27 1 72 1 1 1-74 1 24 1-31 1 86 1 25 1-129 1 114 1-37 1 26 1-28 1 120 1-128 1 40 1 43 1 19 1-81 1 44 1-83 1 118 1-115 1-133 1 207 1 2 1-46 1 52 1-43 1-33 1 96 1-147 1 247 1-108 1-79 1 20 1-1 1-15 1-87 1 291 1-217 1-108 1 142 1-5 1 24 1 50 1-159 1 97 1 69 1-137 1 105 1 68 1-102 1-13 1-13 1 41 1 39 1-15 1 0 1-80 1 22 1 41 1 27 1-33 1-44 1 53 1 67 1-75 1 32 1-45 1-70 1 23 1 74 1 45 1-115 1 93 1 91 1-37 1 39 1-102 1 3 1-50 1 137 1-135 1-99 1 50 1 59 1-52 1 55 1-44 1 39 1-66 1 92 1 76 1-70 1-122 1 53 1 68 1 48 1-1 1-114 1 11 1 48 1 68 1-44 1-59 1-15 1 38 1-23 1 10 1 30 1-96 1 150 1-2 1-25 1-109 1-68 1 63 1 60 1-73 1 89 1-78 1-24 1 205 1-63 1-1 1-67 1-20 1 86 1-79 1 12 1 22 1 13 1 1 1-11 1 90 1-45 1-20 1 18 1-71 1 60 1-86 1 13 1 5 1-18 1 11 1-30 1 95 1 57 1-126 1 90 1-63 1-117 1 122 1 43 1 43 1-56 1-57 1-10 1-35 1 25 1 54 1 71 1-49 1-3 1-39 1 32 1-96 1-18 1 96 1-80 1 82 1 80 1-157 1 175 1-210 1 76 1 0 1-15 1 37 1-63 1 133 1-98 1 86 1-105 1 78 1 35 1 68 1-139 1-2 1 33 1-4 1 246 1-214 1-65 1-35 1-21 1 38 1 177 1-127 1-23 1-97 1 106 1-32 1 25 1 1 1 51 1-124 1 124 1-58 1 20 1-36 1 95 1-21 1 103 1-85 1-149 1 81 1 23 1-121 1 66 1 12 1 103 1-45 1-46 1 103 1-70 1-114 1 226 1-228 1 218 1-123 1-71 1 107 1-25 1 54 1-21 1 102 1-140 1-56 1-122 1 126 1 29 1 69 1-8 1-235 1 144 1 116 1-72 1-51 1 81 1-213 1 75 1 113 1-40 1 79 1-120 1 125 1-24 1-55 1 33 1 95 1-135 1-42 1 92 1 71 1-137 1 81 1-65 1 50 1 18 1 33 1-26 1-27 1-20 1 109 1 12 1-172 1 159 1-124 1 73 1-80 1 113 1-9 1-104 1 58 1-138 1-39 1 74 1 86 1-100 1 61 1 35 1-17 1 41 1 32 1-31 1 47 1-21 1 36 1-87 1 42 1-41 1 2 1-18 1 71 1-64 1-32 1 54 1 15 1-27 1-35 1 42 1-53 1 11 1 89 1-80 1-62 1 96 1 24 1-36 1 18 1 25 1 13 1-115 1 101 1 41 1 17 1-114 1-52 1-5 1 221 1-120 1-22 1 46 1-30 1-61 1 156 1-169 1 47 1-2 1 36 1-151 1 69 1-16 1 108 1-71 1 26 1 41 1-53 1-55 1 215 1-141 1-60 1 20 1 150 1-72 1 66 1-142 1 29 1-42 1 105 1-89 1 45 1 3 1 50 1-8 1-41 1 45 1-61 1-20 1 93 1-58 1-26 1-21 1 82 1-142 1 173 1-128 1-96 1 194 1 6 1-110 1 58 1 78 1-12 1-69 1-20 1 4 1 112 1-201 1 62 1 69 1-57 1 12 1 138 1-85 1-49 1-15 1-11 1 131 1-210 1 206 1-202 1 110 1 73 1-35 1-34 1 24 1-64 1 5 1 10 1 10 1 1 1 122 1-2 1-37 1-33 1-143 1 197 1-46 1-110 1-10 1 200 1-34 1-132 1 110 1 135 1-254 1 83 1 19 1-3 1 128 1-150 1-20 1-22 1 98 1-48 1 37 1-86 1 169 1-163 1 63 1-16 1-25 1-5 1-70 1 78 1 14 1-83 1-52 1 192 1-30 1-48 1-5 1-4 1 15 1 28 1-40 1-18 1 24 1 69 1-19 1-121 1 71 1 46 1-139 1 200 1-133 1 60 1-128 1 56 1 56 1-27 1 85 1-86 1-107 1 86 1-6 1 67 1-80 1-62 1 49 1-30 1 17 1 75 1-4 1 57 1-54 1-47 1-38 1 117 1-3 1-15 1 17 1-7 1 81 1-83 1 4 1 39 1-33 1-58 1-192 1 187 1 7 1-3 1-58 1 131 1 30 1-49 1 86 1-110 1-66 1 56 1-43 1 34 1 17 1-75 1 91 1-3 1 74 1-67 1 30 1-43 1-95 1 93 1 106 1-188 1 34 1 51 1 61 1-149 1 13 1 50 1-12 1-55 1 36 1 26 1-89 1 126 1-1 1 156 1-141 1-35 1-48 1 65 1-58 1 87 1 10 1-96 1 8 1 48 1 23 1 35 1 4 1-112 1 113 1-43 1 223 1-271 1-66 1 229 1-128 1-67 1-8 1 20 1 122 1-165 1-1 1 101 1-8 1 26 1 6 1-75 1 3 1 8 1 15 1 39 1 53 1-177 1 107 1 23 1-24 1-59 1 74 1-13 1-47 1 6 1-52 1 114 1-42 1-22 1 62 1-10 1-82 1 138 1-34 1-44 1-61 1 81 1-23 1 13 1-73 1 19 1 180 1-121 1-19 1 23 1-63 1 126 1 39 1-131 1 54 1 63 1-155 1-18 1-6 1 134 1-88 1 4 1-58 1 69 1-13 1-11 1 56 1 3 1-87 1 41 1-30 1 42 1-77 1 195 1-98 1-11 1-51 1-45 1 16 1 80 1 42 1 14 1-92 1-30 1 49 1-42 1-49 1 224 1-102 1-24 1-36 1 138 1-98 1 88 1-78 1-41 1 67 1-39 1-5 1 57 1-16 1-119 1 58 1 33 1 94 1-94 1 32 1-209 1 174 1-33 1 17 1-116 1 203 1-20 1-26 1 2 1 27 1-28 1-95 1-26 1 100 1-96 1 114 1-36 1 88 1-186 1 103 1-95 1 82 1 42 1-16 1-64 1 42 1-61 1 63 1 16 1-100 1 38 1 215 1-77 1-120 1-67 1-7 1 156 1-119 1 46 1 126 1-137 1-16 1 47 1 158 1-14 1-103 1 13 1-48 1-12 1 8 1-29 1 40 1-72 1 72 1 6 1 12 1 30 1 170 1-255 1 101 1-76 1-14 1 79 1 25 1-88 1-19 1 60 1 136 1-159 1 2 1-58 1 34 1 6 1-6 1 10 1 55 1-78 1-27 1-38 1 23 1 101 1 25 1-159 1 94 1 48 1-7 1-2 1 92 1-77 1 14 1-165 1 121 1 32 1-86 1 71 1-74 1 62 1-38 1 30 1-51 1-98 1 112 1-3 1 68 1-41 1-39 1 46 1 31 1 18 1-67 1 13 1 30 1-87 1 92 1-56 1 5 1 88 1-14 1-70 1-52 1 30 1-45 1 123 1-36 1-49 1-39 1 161 1-180 1 22 1 9 1-37 1 114 1-35 1 82 1-33 1 25 1-64 1 55 1 8 1 26 1-158 1 112 1-38 1-55 1 91 1-30 1 74 1-90 1 85 1-86 1-43 1 49 1-52 1 40 1 0 1 31 1-118 1 77 1 60 1-57 1 105 1-117 1 42 1 148 1-171 1 81 1-115 1 43 1 30 1 96 1-190 1 89 1-76 1 58 1 19 1-189 1-34 1 291 1-62 1-56 1-67 1 104 1 90 1-57 1-112 1 60 1 12 1 3 1-48 1-46 1 22 1 49 1-11 1 98 1-11 1-1 1-19 1-94 1 95 1-34 1 36 1 39 1-91 1 86 1-81 1-7 1-22 1 58 1 21 1 0 1-73 1-108 1 187 1 11 1-40 1-62 1 249 1-236 1 30 1-18 1 2 1 8 1 141 1-50 1-65 1-9 1 9 1 27 1-10 1-18 1 148 1-167 1 121 1-56 1-110 1 39 1 175 1-167 1-42 1 63 1 137 1-127 1-97 1 62 1-28 1 107 1 74 1-84 1-61 1 80 1-46 1-94 1 38 1 83 1-53 1-20 1-1 1 88 1-92 1-6 1 89 1-73 1 17 1 17 1-23 1-45 1-30 1 89 1-37 1-21 1-29 1 82 1 8 1 5 1-38 1 25 1-15 1 90 1-50 1 38 1-106 1 67 1-109 1 37 1-41 1 83 1 90 1-62 1 20 1 42 1-15 1-68 1 74 1-125 1 48 1-24 1-111 1 193 1-53 1-31 1-43 1 94 1-17 1-94 1 165 1-91 1 47 1-67 1 0 1 9 1 46 1-18 1-38 1 87 1-4 1-113 1 45 1 59 1-23 1 74 1-160 1-5 1 53 1 226 1-136 1-102 1-30 1 150 1-89 1-7 1 24 1 48 1-234 1 177 1-44 1-27 1 1 1 36 1 135 1-125 1 4 1-73 1 110 1 20 1-144 1 136 1-106 1 121 1-51 1-35 1 28 1 23 1 41 1-90 1-126 1 166 1 46 1 21 1-97 1-58 1 160 1 133 1-131 1-127 1 21 1-84 1 315 1-238 1-99 1 60 1 65 1 41 1-60 1 42 1-52 1 19 1 41 1-80 1 39 1-13 1 75 1-93 1-41 1 41 1 63 1 10 1-105 1 176 1-95 1-1 1-13 1 111 1 10 1-78 1 56 1-209 1 217 1-281 1 169 1-73 1 111 1-99 1 131 1-17 1 48 1-195 1 71 1 29 1 2 1 90 1-67 1 7 1-27 1 3 1 5 1-15 1 54 1-91 1 152 1-89 1-79 1 67 1-36 1 83 1-79 1-9 1 148 1-125 1 25 1 31 1-14 1-129 1 39 1 77 1 5 1-28 1 64 1-159 1 41 1-3 1 85 1-78 1 68 1-32 1 29 1-31 1 68 1-7 1-21 1-97 1 86 1-3 1-55 1 42 1 24 1-12 1 48 1-166 1 89 1 58 1-116 1 73 1 87 1-155 1 50 1 74 1-59 1-49 1 137 1-101 1-57 1 33 1 0 1-19 1-17 1 34 1 59 1 5 1 16 1 7 1-81 1 8 1 102 1-68 1-65 1 122 1-82 1-72 1 36 1 35 1 27 1 64 1-108 1 174 1-153 1 169 1-57 1-45 1 11 1 22 1-80 1-26 1-8 1 13 1 64 1-79 1-61 1 149 1 15 1-45 1-13 1 22 1 42 1-45 1-41 1 144 1-159 1-91 1 103 1-52 1 104 1-78 1 31 1 88 1-14 1 36 1-82 1 29 1-118 1 44 1-36 1 57 1-16 1 28 1 56 1-94 1 85 1-107 1 100 1-58 1 63 1-36 1 74 1-138 1 63 1-2 1 46 1-17 1 25 1-22 1-56 1-37 1 77 1-14 1-69 1 46 1 49 1 4 1-53 1-75 1 4 1 57 1 49 1 121 1-220 1-23 1-121 1 163 1 112 1-68 1 89 1-43 1 19 1-2 1-10 1 47 1-98 1-38 1 78 1 3 1-59 1 29 1-35 1 24 1 13 1-59 1 20 1 111 1-91 1-78 1 154 1 23 1-48 1 46 1-53 1 32 1 120 1-175 1 2 1-10 1 109 1-133 1 24 1 103 1-85 1 11 1-18 1 61 1-19 1-77 1 42 1 96 1-118 1-69 1 179 1-20 1-112 1 109 1-271 1 274 1-10 1-108 1 80 1-14 1-55 1-27 1 80 1 35 1-75 1 16 1-96 1 130 1 34 1-50 1-245 1 291 1-36 1-27 1-35 1-9 1 47 1-35 1 56 1-6 1 72 1-74 1-27 1-3 1-93 1 146 1-121 1 73 1-16 1 119 1-128 1 38 1 25 1-31 1-52 1-99 1 126 1 200 1-242 1 50 1-45 1 56 1 64 1-58 1-24 1 0 1 10 1 55 1-34 1-19 1-33 1 87 1 16 1-40 1-62 1 150 1-65 1-42 1 164 1-170 1 13 1 67 1-67 1-31 1 78 1-28 1-2 1-17 1 22 1-10 1 46 1-90 1 45 1-112 1 107 1 40 1 30 1-143 1 110 1-102 1-3 1-3 1-38 1 66 1 22 1 103 1-110 1-118 1 104 1 64 1-17 1 33 1-47 1-61 1 142 1-43 1-46 1 10 1 37 1-52 1 111 1-92 1 69 1-81 1-93 1 80 1 8 1 17 1 22 1-50 1 60 1 9 1-74 1-37 1 41 1 2 1 74 1-37 1-101 1 108 1-36 1-59 1-16 1 234 1-91 1 88 1-119 1-89 1 27 1 45 1-8 1 44 1-4 1 60 1-120 1-39 1-88 1 20 1 112 1-42 1 123 1-134 1 65 1 49 1-73 1 25 1 20 1-94 1 78 1-106 1 88 1 42 1 28 1 16 1-92 1-46 1-22 1 64 1 24 1-74 1-2 1 123 1-44 1 84 1-110 1 43 1-116 1 107 1-53 1 102 1 12 1-85 1-2 1 24 1 11 1 3 1 60 1-334 1 327 1-115 1 48 1-2 1 47 1-26 1-29 1 91 1-19 1-180 1 128 1-88 1 171 1-81 1-97 1 47 1 40 1-10 1 71 1-58 1-181 1 209 1-108 1 80 1-88 1 160 1 57 1-193 1-7 1 231 1-200 1 22 1-15 1 7 1 70 1-120 1 172 1-93 1 50 1 18 1-123 1 64 1-46 1 43 1-136 1 146 1-61 1-32 1 24 1-35 1 21 1 72 1 48 1-147 1 78 1-12 1 30 1 14 1-125 1 102 1 41 1-37 1-20 1-40 1-67 1 69 1 182 1-177 1 162 1-150 1 9 1 15 1 101 1-122 1 76 1-69 1-239 1 239 1-23 1 93 1-166 1 127 1-4 1-41 1 80 1-18 1-34 1-61 1-37 1 164 1-18 1-17 1-110 1 82 1 35 1-63 1 58 1 35 1-155 1 120 1-40 1-8 1-82 1 151 1-87 1 5 1 59 1-33 1-61 1 16 1 134 1-142 1 33 1-6 1 33 1-41 1-31 1 115 1-12 1-23 1-1 1-56 1 139 1-208 1 113 1-17 1-67 1 237 1-61 1 4 1-66 1 54 1-169 1 78 1-3 1 49 1-71 1-41 1 100 1-48 1 113 1-103 1-156 1 188 1-2 1-11 1 31 1-148 1 191 1-92 1 4 1 81 1-219 1 165 1-46 1 59 1-46 1 47 1-128 1 124 1 0 1-115 1 48 1 8 1 65 1-8 1-73 1 145 1-36 1-73 1 90 1-82 1 27 1-29 1-10 1 130 1-27 1-92 1-16 1 26 1 63 1-19 1-50 1 77 1-93 1-60 1 117 1-87 1 25 1 21 1-59 1-37 1 170 1-34 1-1 1-32 1-24 1 173 1-183 1 66 1-52 1 36 1 13 1-69 1 83 1-121 1 93 1 95 1-149 1 98 1-3 1-3 1-134 1 57 1-51 1 131 1-98 1 113 1-130 1 18 1-33 1 100 1-27 1-5 1-8 1 47 1-4 1-30 1-45 1 100 1-34 1 12 1-10 1-68 1 4 1 101 1-52 1-9 1-15 1 90 1-66 1-78 1 110 1-56 1 8 1 12 1-5 1-127 1 169 1-14 1 2 1-67 1 72 1 4 1-4 1-76 1-63 1 15 1 4 1 92 1-2 1-112 1 33 1 263 1-267 1-7 1 1 1 95 1-26 1 35 1-57 1 87 1-216 1 75 1 10 1-43 1-56 1 239 1-25 1-47 1-10 1 27 1-124 1 158 1-36 1 15 1-71 1 58 1-196 1 208 1-53 1 84 1-90 1 68 1 3 1 19 1-32 1-11 1 35 1 28 1-76 1-73 1 54 1-23 1 28 1 72 1-140 1 47 1 12 1 47 1-63 1 20 1 119 1-69 1 45 1-167 1 96 1 40 1-130 1 118 1-41 1-35 1-15 1 108 1-10 1-93 1 60 1-97 1 65 1 55 1-74 1 74 1-3 1-48 1 77 1 3 1 14 1-89 1-42 1 87 1-250 1 194 1 43 1 137 1-180 1 79 1 17 1-117 1 33 1 59 1-78 1 1 1-34 1 78 1 4 1-27 1 122 1-132 1 108 1-57 1 62 1-81 1 25 1 119 1 104 1-351 1 29 1 83 1-78 1 151 1-77 1-80 1-2 1 115 1-40 1-108 1 145 1-24 1 4 1 16 1-35 1 9 1 17 1-35 1 32 1-43 1-2 1-28 1 50 1 80 1-7 1-46 1-77 1 69 1 60 1-67 1-15 1 1 1 23 1-21 1-76 1-28 1 124 1-64 1 154 1-141 1-76 1 178 1-131 1 131 1-156 1 165 1-149 1 115 1-79 1-13 1 37 1-12 1-30 1 110 1-67 1-44 1 52 1 45 1-88 1 105 1-100 1 7 1 49 1 1 1-127 1 224 1-120 1-18 1 71 1 0 1-73 1-65 1 120 1-13 1-4 1-135 1 75 1-46 1 61 1-31 1 97 1-31 1 37 1-104 1 20 1 24 1 106 1-50 1 215 1-275 1 78 1-42 1-15 1 28 1-16 1-51 1-56 1 131 1 22 1-15 1-98 1 48 1 76 1-125 1 290 1-265 1 18 1 38 1-187 1 282 1-274 1 70 1 82 1 17 1-39 1-68 1 50 1 40 1-35 1 0 1 28 1 160 1-123 1 76 1 0 1-71 1 11 1-112 1 101 1 76 1-22 1-120 1 48 1-220 1 152 1 136 1-106 1 127 1-56 1 6 1-141 1-6 1 41 1 156 1-120 1-43 1-80 1 133 1 7 1-35 1-66 1 146 1-64 1 17 1 134 1-174 1 111 1-4 1-134 1 154 1-66 1-52 1 20 1 204 1-211 1 1 1-20 1-14 1 72 1-64 1 56 1-48 1 135 1-157 1-22 1 224 1-207 1 118 1-78 1 98 1-8 1-141 1 74 1-9 1 23 1-19 1-65 1 28 1 93 1-22 1-86 1 20 1 16 1 39 1-12 1-48 1 67 1 121 1-162 1 15 1 16 1 164 1-166 1 140 1-137 1-7 1 114 1-108 1-271 1 243 1 166 1-341 1 346 1 1 1-37 1-106 1-45 1-27 1 14 1 101 1-9 1 11 1-62 1-59 1 102 1-86 1 115 1-47 1-109 1 44 1 6 1-23 1 5 1 9 1 34 1-145 1 150 1-32 1 109 1-163 1 50 1 45 1 92 1-226 1 58 1-42 1 100 1-4 1 11 1-125 1 171 1-100 1 86 1 3 1-9 1-69 1-51 1 101 1-126 1 39 1 43 1 56 1-63 1-41 1 94 1 9 1-44 1 45 1 28 1-41 1-9 1-42 1 101 1-51 1-55 1 13 1 98 1-239 1 188 1-56 1 119 1-84 1-81 1 200 1-91 1-51 1 143 1-94 1-50 1 53 1 23 1-8 1-155 1 180 1-135 1 216 1-178 1 64 1 23 1-7 1-83 1 96 1 12 1-132 1 12 1 83 1-47 1 7 1 39 1 12 1-42 1-8 1-8 1-19 1 40 1 15 1 81 1-94 1 12 1-20 1 20 1 26 1 12 1-41 1-63 1-2 1 28 1-2 1 96 1-102 1-13 1 38 1 30 1-6 1 90 1-105 1-16 1-14 1 87 1-32 1-56 1-22 1 120 1-86 1 36 1 23 1-2 1-4 1-45 1-1 1 27 1-21 1 25 1-68 1 118 1-129 1 32 1 92 1-161 1 138 1-20 1-8 1-75 1 48 1-50 1 47 1 57 1-45 1-22 1 47 1 51 1-17 1-131 1 130 1-101 1 0 1 32 1-45 1 138 1-78 1-26 1-31 1-50 1 166 1-12 1-54 1-77 1 209 1-90 1-125 1 69 1-74 1 220 1-176 1 56 1 47 1-64 1-113 1 27 1 228 1-71 1-24 1-95 1 48 1 10 1 3 1 50 1-109 1 38 1 111 1-106 1 25 1-93 1 115 1-4 1-23 1-87 1 114 1 46 1-119 1 117 1-83 1-29 1 59 1 55 1-53 1-48 1 87 1-46 1 98 1-101 1-91 1 40 1 127 1-38 1-167 1 76 1 7 1 15 1 45 1-22 1-24 1-23 1-6 1 59 1 36 1-37 1-81 1 4 1 81 1 7 1-41 1-75 1 184 1-140 1 122 1-20 1-154 1 131 1-59 1 8 1-134 1 154 1-32 1-31 1 82 1-40 1 93 1-101 1 84 1 4 1-150 1 3 1 95 1 63 1-55 1-66 1-45 1 45 1 31 1-54 1 61 1 101 1-89 1 14 1 58 1-150 1 176 1-92 1-87 1 148 1-84 1 68 1-98 1 156 1-26 1-10 1-38 1 0 1-29 1-26 1 21 1-1 1-21 1-28 1 1 1 33 1 56 1 122 1-236 1 175 1-174 1 90 1-79 1 110 1-18 1-196 1 164 1 55 1-51 1 14 1-1 1-27 1 61 1-42 1-47 1 82 1-23 1-152 1 160 1-29 1-59 1 53 1 9 1-60 1 86 1 154 1-191 1-119 1 93 1-1 1 1 1-11 1-11 1 63 1-15 1-58 1 86 1 70 1-92 1 12 1 57 1-190 1 156 1-73 1 93 1-82 1 50 1 24 1-170 1 122 1 48 1-62 1 41 1-83 1 105 1-31 1 21 1 82 1-133 1 110 1-81 1 21 1-59 1-3 1 48 1-65 1-44 1 234 1-108 1-4 1-24 1-84 1 21 1 70 1-29 1 57 1 47 1-25 1-65 1 56 1-122 1 95 1-86 1 68 1 24 1-83 1 30 1 30 1-4 1 14 1-14 1 24 1 52 1-124 1-25 1 13 1 78 1-18 1-76 1 129 1-270 1 224 1-25 1 53 1-58 1-34 1-5 1 87 1-39 1 59 1-24 1-47 1-37 1 74 1-73 1 56 1-104 1 100 1-74 1 99 1-29 1-20 1 116 1-91 1-28 1 41 1 25 1 29 1-30 1-39 1-13 1 54 1-67 1 80 1-29 1-117 1 247 1-47 1-57 1-30 1-64 1-61 1 108 1 30 1-10 1-105 1 161 1-79 1 9 1 37 1 28 1-67 1-40 1-52 1 15 1-84 1 141 1 27 1-127 1 181 1 33 1-112 1 28 1 68 1-145 1 93 1 33 1-42 1-6 1-7 1-34 1-64 1 62 1-34 1 151 1-28 1-44 1-105 1 18 1 106 1-83 1 66 1-31 1 18 1 36 1-74 1 63 1-44 1-74 1 159 1-25 1-46 1 10 1 44 1-54 1 50 1 30 1-124 1 75 1 57 1-141 1 103 1-93 1 65 1-109 1 84 1-26 1 75 1-5 1-66 1 73 1-2 1-79 1-23 1 2 1 75 1 15 1 21 1-73 1-121 1 121 1 10 1 25 1-108 1 84 1 15 1-8 1 2 1-17 1-20 1 76 1 0 1-32 1-48 1 117 1-93 1 113 1-136 1-43 1 106 1-41 1 64 1-5 1-1 1-104 1 63 1 23 1 72 1-113 1-84 1 61 1 53 1 35 1-34 1 35 1-65 1 17 1-14 1 11 1 43 1-18 1-32 1-8 1-66 1 91 1-54 1 17 1-31 1 287 1-161 1-61 1-30 1 83 1-29 1-3 1 65 1-74 1 35 1-95 1 62 1-29 1 4 1-79 1 137 1 46 1-57 1-68 1 72 1-3 1-50 1 13 1-29 1 14 1 160 1-40 1-95 1-3 1-31 1 47 1-18 1-77 1 59 1 1 1-31 1 21 1-67 1 34 1 28 1 40 1-16 1-51 1-6 1 131 1-197 1 42 1 90 1 33 1-151 1 62 1 66 1 8 1-65 1 29 1-31 1 13 1 52 1-112 1 90 1 64 1-37 1 11 1-33 1-117 1 71 1 14 1-40 1-17 1 33 1 60 1-37 1 20 1 15 1-74 1 13 1 229 1-93 1-79 1-43 1 79 1 3 1-20 1-5 1-80 1 70 1 3 1-47 1 41 1-100 1 35 1 52 1-13 1 54 1-69 1 122 1-84 1 96 1-148 1 39 1-109 1 131 1 66 1-75 1-33 1 87 1-66 1 43 1-36 1 13 1 31 1-6 1 13 1-53 1-159 1 77 1 125 1-33 1 10 1-7 1-55 1 126 1 39 1-219 1 68 1-46 1 69 1 40 1-92 1 87 1-18 1 17 1-98 1 149 1-153 1 141 1-24 1-64 1 22 1-116 1 209 1-222 1 171 1 2 1 22 1-48 1 38 1-124 1-49 1 115 1 123 1-31 1-146 1 84 1 9 1-64 1-10 1 63 1-26 1 36 1-19 1-142 1 209 1-124 1 21 1 52 1-9 1-216 1 210 1-38 1 181 1-140 1 2 1-49 1 15 1-244 1 233 1 56 1 22 1-12 1-75 1-62 1 165 1-16 1-142 1 45 1 82 1 27 1-39 1-127 1 159 1 9 1-153 1 62 1 93 1-44 1 30 1-85 1-152 1 144 1 23 1 32 1-71 1 163 1-79 1-246 1 195 1 36 1-84 1 103 1-9 1-16 1-17 1-22 1 19 1 36 1-43 1 29 1-20 1-7 1 100 1-41 1-45 1-2 1 65 1-36 1-91 1 22 1 75 1 94 1-90 1-13 1-68 1 0 1 84 1-41 1 46 1-55 1 2 1-10 1 18 1-33 1 213 1-88 1-1 1-37 1-35 1 128 1-85 1-113 1 60 1-42 1-18 1-113 1 14 1 247 1-90 1-31 1 29 1 35 1-105 1 31 1 17 1-91 1 110 1-28 1-32 1 54 1 71 1-117 1 26 1 87 1-117 1-34 1 143 1-55 1 41 1 115 1-37 1-98 1-9 1 78 1-103 1-32 1 53 1 42 1 6 1-236 1 144 1 69 1-97 1 14 1 28 1-2 1-18 1 18 1-84 1 70 1 66 1 14 1 5 1-58 1 63 1-90 1 105 1-76 1 0 1-59 1 139 1-100 1 13 1-56 1 78 1-56 1 59 1-75 1 96 1-27 1-43 1 94 1-65 1-80 1 57 1-45 1 110 1-145 1 118 1 25 1-60 1-22 1 65 1-12 1-61 1 148 1-95 1 95 1 0 1-132 1 121 1-68 1 5 1-4 1-55 1 18 1 29 1 19 1 72 1-105 1-31 1 158 1-232 1 105 1 70 1-85 1-27 1 41 1-16 1 52 1 40 1-27 1-16 1-72 1 20 1-29 1 20 1 47 1 19 1-31 1 19 1-42 1-28 1 92 1-24 1-17 1-27 1 77 1-25 1-2 1-106 1 162 1-126 1-1 1-29 1 23 1-8 1-11 1 60 1 117 1-96 1-33 1 30 1 81 1-116 1 240 1-266 1 50 1-31 1 106 1 1 1-30 1 73 1-84 1-24 1 139 1-228 1 74 1 60 1-9 1-23 1 18 1-55 1-78 1 42 1 23 1 115 1-102 1 11 1-44 1 313 1-269 1 64 1-63 1 7 1 19 1-43 1 59 1-14 1-17 1-76 1 44 1 59 1 46 1 130 1-167 1-13 1-83 1-10 1 138 1-15 1 48 1 0 1-33 1-151 1 73 1 5 1-28 1 108 1-181 1 113 1 35 1-35 1 32 1-25 1-5 1 13 1-164 1 95 1-27 1 78 1-30 1-53 1 30 1 18 1 20 1 63 1 20 1-105 1-7 1 58 1 57 1-6 1-139 1 50 1-39 1 42 1-7 1 11 1 30 1 15 1 47 1-80 1 48 1-1 1-101 1 102 1 44 1-85 1 3 1 63 1-16 1-129 1 61 1 4 1-10 1 49 1 7 1 21 1-95 1 105 1-58 1 0 1-148 1 156 1-152 1 102 1 79 1-55 1 53 1-146 1 125 1 27 1-30 1 39 1-75 1 44 1-59 1-60 1 70 1-6 1-44 1-17 1 192 1-186 1 28 1-45 1 28 1 72 1 140 1-188 1 57 1-91 1 170 1-59 1-15 1-72 1 78 1 4 1 64 1-17 1 13 1-124 1 77 1 27 1-55 1-59 1 110 1-102 1 114 1-41 1 22 1-89 1 48 1 34 1-41 1 77 1-123 1 32 1 62 1-85 1 2 1-21 1 40 1 6 1 56 1-46 1-3 1 4 1-22 1-39 1 38 1-38 1 125 1-135 1 98 1-134 1 125 1-80 1 1 1 85 1 96 1-79 1-140 1 107 1 11 1-15 1-12 1-15 1 65 1-87 1 154 1-165 1 44 1-46 1-138 1 175 1 90 1-82 1 74 1-38 1-86 1 128 1 0 1-76 1-16 1-12 1 27 1 30 1 40 1-23 1 26 1-104 1-54 1 123 1 14 1 85 1-196 1 145 1-99 1 37 1-72 1 52 1 44 1-153 1 256 1-85 1-108 1 7 1 55 1-39 1 55 1-226 1 227 1-64 1 67 1-119 1 65 1 5 1-32 1 67 1 15 1-85 1 152 1-100 1 16 1 6 1 16 1-126 1 91 1 10 1 70 1-25 1-74 1-7 1 13 1-69 1 59 1 108 1-132 1 122 1-35 1-88 1-21 1 91 1 81 1 13 1-173 1 19 1 15 1 73 1-166 1 74 1 27 1 54 1-32 1-34 1 66 1 68 1-123 1-25 1-110 1 65 1 248 1-188 1 94 1-40 1-2 1-134 1 151 1-37 1 40 1-167 1 140 1-14 1-24 1 1 1-6 1-42 1 149 1-190 1 200 1-9 1-85 1-145 1 265 1-176 1 167 1-78 1-91 1 48 1-96 1 106 1-12 1-4 1-28 1 13 1 69 1-29 1-21 1-110 1 181 1-45 1-87 1-44 1 145 1-30 1 16 1-274 1 222 1 159 1-113 1-13 1 85 1-115 1 107 1-91 1 99 1-130 1 40 1-34 1 103 1-140 1 81 1-41 1 60 1-15 1 58 1-62 1 81 1-22 1-107 1 90 1-40 1-19 1 2 1 30 1-59 1-17 1 86 1-119 1 141 1-79 1-33 1-1 1 168 1-97 1 0 1 106 1-172 1-49 1 29 1 6 1 74 1-22 1 18 1 14 1 89 1-103 1 22 1 0 1 30 1 8 1-43 1-82 1-32 1 72 1 40 1 26 1 8 1 26 1-82 1 64 1-82 1 26 1-8 1-25 1 134 1-123 1 1 1-26 1 46 1-14 1-100 1 157 1 79 1-104 1-89 1-154 1 309 1 19 1-145 1 86 1-1 1 30 1-152 1 52 1 11 1 15 1-20 1 8 1 24 1 16 1 6 1-85 1 61 1 21 1 23 1-43 1 108 1-80 1 74 1-143 1 81 1-25 1-13 1 29 1 23 1-81 1 93 1-71 1 90 1-124 1 177 1-222 1 182 1-212 1 96 1 30 1 36 1-91 1 23 1 31 1 6 1 39 1-103 1-61 1-153 1 171 1 59 1-98 1 99 1 7 1 58 1-45 1 19 1 236 1-241 1-46 1 76 1-38 1-82 1 161 1-49 1-83 1-15 1-73 1 282 1-218 1 72 1-56 1-39 1 135 1 17 1-214 1 190 1 28 1-100 1 54 1-103 1 11 1 87 1-14 1 153 1-34 1-143 1-53 1 15 1 241 1-201 1-19 1 37 1 56 1-76 1 13 1 144 1-115 1 226 1-249 1 27 1 39 1-90 1 7 1 43 1 72 1-21 1 53 1-95 1 136 1-110 1-167 1 104 1 20 1 7 1 190 1-195 1 47 1-88 1 14 1 84 1 47 1-3 1-218 1 158 1-80 1-22 1-30 1 67 1-25 1 61 1 73 1-132 1-90 1 15 1 81 1 80 1-58 1 72 1-16 1 47 1-85 1-94 1 96 1 30 1-112 1 49 1 4 1 81 1-23 1-112 1 19 1 34 1 12 1 36 1 14 1 210 1-308 1 7 1 75 1 28 1 24 1-52 1-94 1 76 1-40 1-48 1 92 1-56 1 105 1-93 1 3 1 88 1-100 1 54 1-97 1 83 1-100 1 115 1 72 1-9 1-95 1 30 1 82 1-78 1 50 1-106 1-73 1 128 1-47 1 39 1 51 1-111 1 22 1 37 1 93 1-66 1 95 1-122 1-51 1 10 1-109 1 128 1 111 1-198 1 111 1 44 1-22 1 38 1-15 1 12 1-32 1-169 1 149 1-170 1 170 1 31 1-63 1-27 1-27 1 49 1 17 1-18 1-22 1-45 1 56 1 61 1 36 1-18 1 39 1-92 1-48 1 34 1 46 1-98 1 78 1 96 1-93 1 31 1-9 1-5 1-93 1 117 1-131 1 127 1-78 1-16 1 126 1-73 1-15 1 124 1-173 1 49 1 47 1-60 1-36 1 25 1 70 1-91 1-21 1-93 1 184 1-100 1 32 1 7 1 6 1 47 1-93 1 115 1-20 1-70 1 109 1-47 1-50 1 26 1 18 1 50 1-101 1 92 1-4 1 13 1 49 1-114 1 125 1 48 1-155 1 44 1-106 1 175 1-166 1-22 1 183 1-191 1 73 1-67 1-12 1 80 1 15 1 68 1-60 1 52 1-87 1 53 1-112 1 65 1 23 1 43 1-81 1 64 1-89 1-47 1 69 1-198 1 244 1-72 1-37 1 99 1-83 1 16 1 108 1-125 1-23 1 25 1 61 1-35 1 58 1-13 1 62 1-9 1-27 1-74 1 58 1-85 1 137 1-43 1 51 1-35 1-20 1-12 1 78 1 121 1-147 1-31 1 49 1-113 1 32 1 45 1-31 1 11 1-67 1 86 1 27 1-18 1-68 1 123 1-59 1-27 1-53 1 39 1 51 1-139 1 61 1 131 1 28 1-114 1 28 1-81 1-41 1 81 1 62 1-205 1 176 1-78 1 58 1-52 1 91 1 13 1-43 1-37 1-8 1 79 1-74 1 101 1-121 1 14 1 45 1 69 1-50 1-78 1-19 1 120 1-25 1-27 1 91 1-103 1-52 1 57 1-59 1 80 1-25 1 86 1-134 1 7 1 50 1 21 1-56 1 73 1-72 1 44 1-58 1 51 1-26 1 56 1-50 1 187 1-131 1-143 1 20 1 119 1 25 1-14 1-82 1 19 1 12 1 28 1-20 1-97 1 153 1-58 1 15 1-18 1 53 1-19 1 15 1-57 1 72 1 66 1-197 1 113 1 0 1-14 1-41 1 42 1 18 1-26 1 23 1 10 1-62 1 75 1-112 1 215 1-190 1-1 1 25 1-17 1-108 1 80 1 115 1-165 1 95 1-25 1-17 1-82 1 92 1 79 1-143 1 74 1-12 1 24 1-4 1 52 1-46 1 63 1-63 1 75 1-95 1-40 1 5 1 80 1 2 1-123 1 172 1-7 1-100 1 29 1 14 1-78 1 123 1-61 1 9 1-99 1 64 1 32 1-97 1 166 1-54 1-44 1-26 1 31 1 20 1 1 1 37 1-63 1-3 1-33 1-26 1 108 1-128 1 128 1-22 1-33 1 89 1-20 1 33 1-122 1-62 1 106 1-24 1 139 1-139 1 8 1-18 1 87 1 66 1-208 1 142 1-137 1 64 1 8 1 84 1-93 1-29 1 107 1-105 1 77 1 64 1-105 1 69 1 3 1-64 1 56 1-18 1-41 1 37 1 5 1-67 1 126 1-87 1 10 1 9 1 18 1-15 1-124 1 127 1-6 1 52 1-30 1-71 1 21 1 63 1 7 1-179 1 182 1-23 1-114 1 100 1-77 1-76 1 127 1-22 1 8 1 28 1 19 1 136 1-163 1 25 1-33 1 1 1-43 1-31 1 26 1 28 1 25 1-13 1 14 1-67 1 62 1-3 1 52 1 2 1 28 1-83 1-44 1 24 1 19 1 72 1-48 1-82 1 123 1-26 1-66 1 50 1 46 1-70 1-80 1 158 1-123 1 75 1-38 1 16 1-89 1-6 1-68 1 55 1 88 1-24 1 110 1-104 1 81 1-146 1 59 1 29 1 54 1-57 1 21 1-97 1 97 1 10 1-113 1 54 1 135 1-110 1-24 1-14 1 4 1 48 1 7 1-40 1 84 1 11 1-83 1 60 1-8 1-125 1 162 1-46 1-71 1 85 1-76 1 12 1 9 1 32 1 56 1-230 1 197 1-53 1 51 1-96 1 96 1 6 1 56 1-165 1 92 1-60 1 55 1 47 1-51 1 25 1-106 1 75 1 18 1-48 1 43 1-72 1 17 1-114 1 251 1-259 1 196 1-96 1 81 1-39 1 27 1-58 1 139 1-40 1-83 1-88 1 244 1-120 1 61 1-135 1 164 1-150 1 64 1 25 1-91 1 74 1 52 1-29 1 59 1-116 1 61 1-78 1 33 1 55 1-66 1 86 1-101 1-10 1 19 1-32 1 13 1-40 1 235 1-81 1 38 1-133 1 11 1 7 1 136 1-111 1 45 1-152 1 122 1-75 1 157 1-54 1-68 1-9 1 4 1-21 1-57 1 204 1-103 1 33 1-104 1-31 1 66 1 38 1 43 1-73 1 12 1-97 1 136 1-74 1 14 1-74 1 179 1-63 1-28 1-135 1 159 1-64 1-82 1 127 1-114 1 173 1-108 1 232 1-146 1-1 1-42 1 47 1-24 1-82 1 109 1-56 1-109 1 171 1-70 1-74 1 152 1-135 1 20 1-5 1 144 1-24 1-118 1 40 1 143 1-127 1 73 1-65 1 31 1 134 1-194 1 24 1 60 1-43 1 64 1-111 1 9 1-98 1-10 1 83 1 55 1-2 1-91 1 78 1 34 1 52 1-13 1-19 1-54 1 60 1-11 1 112 1-137 1-105 1 83 1 56 1 54 1-45 1-65 1 104 1-120 1 8 1 70 1-4 1-73 1 59 1-13 1-14 1 53 1 36 1-85 1 61 1-45 1 7 1 2 1-83 1 27 1 30 1-57 1-11 1 121 1-91 1 23 1-21 1 38 1-64 1 61 1-2 1-101 1 103 1-127 1 149 1-19 1 48 1-64 1-11 1-140 1 215 1-137 1-60 1 105 1 1 1 24 1 12 1 33 1 64 1-140 1 111 1-83 1 36 1-42 1-12 1 49 1 21 1-37 1 103 1-174 1 139 1-106 1 38 1 23 1 22 1-12 1 1 1-33 1 15 1-66 1 55 1 58 1-58 1-14 1 28 1-11 1-7 1 107 1-91 1-14 1-30 1-10 1 146 1-78 1-27 1 83 1-109 1 59 1-135 1 78 1 102 1-87 1-115 1 66 1-5 1-13 1-16 1 26 1 180 1-123 1-96 1 44 1 58 1-144 1 185 1-42 1-28 1 19 1 204 1-134 1-119 1-6 1-180 1 203 1 154 1-84 1 9 1-7 1-82 1 28 1 47 1-76 1 53 1-74 1 81 1-20 1-77 1 110 1 6 1 19 1-11 1-45 1 34 1-97 1 93 1 22 1-65 1 47 1-62 1 41 1-34 1 1 1 84 1-45 1-45 1 39 1 7 1 27 1-93 1 50 1 6 1-20 1 100 1-73 1-115 1 120 1-40 1 80 1-138 1 54 1-18 1 52 1-130 1 181 1-35 1-100 1-19 1 91 1 1 1 72 1-150 1 85 1-4 1-114 1 117 1-108 1 100 1 9 1 58 1-66 1-36 1 21 1 56 1-84 1-37 1 192 1-26 1-108 1 10 1-13 1 79 1-42 1 4 1 40 1-84 1 84 1-19 1 9 1 3 1-14 1 36 1-236 1 319 1-106 1-7 1-25 1 8 1-63 1 39 1-19 1 0 1 54 1 28 1-84 1 38 1-21 1-19 1-25 1 103 1-170 1 90 1 3 1 21 1-27 1 52 1-82 1 4 1 104 1-73 1-5 1 13 1 51 1-85 1 175 1-42 1-72 1-30 1-24 1 122 1-82 1-11 1 61 1-35 1-65 1 102 1-44 1 14 1-13 1-13 1 59 1-67 1 66 1-77 1 96 1-92 1-19 1 39 1 36 1-28 1-154 1 136 1-55 1 55 1 102 1-82 1 51 1-198 1 7 1 219 1-65 1-70 1 49 1-20 1-13 1 57 1-64 1 42 1 144 1-131 1 38 1-163 1 145 1 21 1-6 1-86 1 51 1-31 1 30 1-16 1 42 1-4 1-16 1-43 1 17 1-62 1 189 1-103 1-9 1-23 1-15 1 53 1-171 1 262 1-191 1 118 1-8 1 74 1-104 1 24 1 21 1 24 1-71 1-6 1-55 1-13 1 88 1 11 1-21 1 20 1-145 1 197 1 1 1 3 1-38 1 59 1-77 1 56 1-127 1 211 1-111 1-101 1-64 1 126 1-70 1 75 1 51 1-157 1 77 1 73 1-10 1-54 1 34 1-81 1 139 1-2 1-89 1 65 1-76 1 8 1-89 1 90 1 5 1-63 1 12 1 67 1-2 1 68 1-199 1 112 1-9 1-20 1-49 1 61 1 12 1 49 1-124 1 101 1-84 1 88 1-41 1 2 1-34 1 28 1-21 1 114 1-90 1-7 1-50 1 76 1-113 1 116 1 137 1-67 1-81 1 47 1-20 1-8 1-12 1 131 1-157 1 97 1 43 1-100 1-84 1 103 1 120 1-86 1-231 1 49 1 16 1 92 1-19 1 109 1-38 1-32 1-24 1 49 1-18 1-35 1 16 1-1 1 23 1-28 1 142 1-242 1 115 1-56 1 74 1-20 1 58 1-41 1-7 1-47 1 90 1-112 1 52 1-193 1 249 1-29 1 9 1-26 1-27 1-10 1 55 1 32 1-88 1-21 1-40 1 151 1-170 1 115 1-55 1 60 1 11 1 104 1-105 1 23 1-61 1 132 1-137 1-76 1 247 1 100 1-278 1 13 1 33 1-9 1 173 1-151 1-123 1 58 1 63 1 11 1 115 1-151 1 8 1 38 1 35 1-108 1 47 1-57 1 82 1-15 1-99 1 148 1-207 1 113 1 43 1 81 1-275 1 122 1 92 1-22 1 57 1-104 1 53 1-6 1-23 1 62 1-77 1 10 1-11 1-26 1-7 1 1 1 18 1 0 1-2 1-42 1-90 1 260 1-63 1 3 1 154 1-172 1-90 1 32 1 70 1-89 1 86 1-167 1 116 1 35 1-13 1 98 1-48 1-33 1 42 1-66 1-20 1-21 1 102 1-87 1 99 1-151 1 84 1 61 1 43 1-160 1 109 1-53 1-19 1 56 1 2 1 6 1-114 1 24 1 103 1 59 1-134 1-29 1 126 1 58 1-117 1 17 1-104 1 59 1-32 1-45 1 39 1 156 1-111 1 14 1-51 1 4 1 15 1 86 1-132 1 17 1-73 1 95 1-16 1-37 1 123 1-100 1 142 1-186 1 94 1-52 1 112 1-36 1 10 1 47 1-10 1-8 1-25 1-118 1 104 1-49 1-51 1 192 1-139 1 3 1 21 1 41 1-39 1-74 1 35 1-79 1 169 1-34 1-20 1 17 1-15 1-13 1 128 1-119 1 141 1-92 1-46 1 74 1 38 1-108 1-12 1-12 1-57 1 79 1-39 1 111 1-119 1 106 1-21 1-22 1-68 1-84 1 132 1-43 1 73 1-7 1 12 1-31 1 1 1 37 1-32 1-56 1 20 1-63 1 138 1-46 1 0 1 36 1-82 1 62 1-86 1-19 1 84 1 30 1-92 1 28 1 9 1 29 1 43 1 11 1-70 1-37 1 14 1 72 1-89 1 7 1 88 1-180 1 70 1 66 1 136 1-122 1 36 1 64 1-172 1 33 1 83 1-32 1-68 1 140 1-75 1-98 1 109 1-3 1-144 1 107 1-27 1 23 1 8 1-92 1 116 1 41 1-21 1-70 1 77 1 10 1-74 1 24 1-44 1 4 1 49 1-60 1-179 1 225 1-57 1 20 1 40 1-90 1 74 1 11 1 138 1-253 1 212 1-81 1-87 1 117 1 24 1-91 1-18 1 75 1-62 1-75 1 115 1-90 1 121 1-78 1 119 1-64 1-126 1 67 1-80 1 117 1 28 1 1 1-52 1 8 1 35 1-86 1 106 1-37 1 60 1-137 1 43 1-123 1 74 1-12 1 97 1 10 1-55 1-11 1 72 1-5 1-19 1 12 1-113 1 61 1 7 1-10 1 20 1-15 1 155 1-29 1-64 1-78 1-78 1 274 1-92 1 65 1-17 1-211 1 52 1 91 1-74 1 5 1 15 1 63 1-88 1-2 1-10 1 89 1-145 1 240 1-119 1 52 1-22 1 9 1-76 1 69 1-88 1 52 1-53 1 45 1-21 1-10 1 166 1-157 1 146 1 16 1-70 1-57 1-90 1-1 1 93 1 163 1-125 1 138 1-177 1 13 1 115 1-212 1 136 1-118 1 155 1-94 1 43 1 4 1 2 1 42 1-97 1 24 1-78 1 54 1-1 1-13 1 82 1-129 1 53 1-153 1 174 1 111 1-96 1-70 1 83 1 37 1-128 1 12 1 107 1 25 1-96 1-11 1 28 1 77 1-101 1 72 1-94 1 69 1-11 1-144 1 258 1-45 1-198 1 184 1-18 1-2 1 104 1-172 1 17 1 89 1-67 1 9 1 14 1-17 1-66 1 125 1-86 1 19 1 133 1-266 1 221 1-144 1 94 1-14 1-97 1 54 1-12 1 44 1-40 1 101 1-49 1-61 1 18 1-26 1 66 1-123 1 38 1 68 1-55 1 20 1 54 1-43 1-24 1 56 1-4 1-36 1-18 1 10 1-61 1 4 1 165 1-112 1-15 1 20 1 12 1-24 1 30 1 72 1-152 1 135 1-82 1 92 1-185 1 70 1 20 1-12 1 115 1-84 1 14 1-95 1 94 1-75 1 77 1-133 1 157 1 40 1-78 1 98 1-75 1-112 1 150 1-122 1 159 1-67 1-137 1 61 1 104 1 54 1-110 1-95 1 181 1-123 1 63 1-73 1 48 1-29 1 148 1-138 1 54 1 7 1-88 1-62 1 134 1-135 1 221 1-185 1 163 1-64 1-49 1 14 1 30 1-7 1-113 1 104 1 14 1-22 1 99 1-83 1-98 1 107 1 9 1-75 1 47 1-119 1 126 1 26 1-94 1-116 1 302 1-119 1 20 1-67 1 204 1-168 1 12 1-27 1-5 1-54 1 152 1-74 1-44 1 124 1-12 1-53 1 42 1 80 1-71 1 20 1-72 1 21 1-22 1-65 1 11 1 40 1-34 1-26 1-15 1 125 1 46 1-42 1 23 1-75 1 35 1 10 1-122 1 124 1-108 1-49 1 215 1-153 1 158 1-230 1 149 1 121 1-192 1 6 1 148 1-194 1 97 1-60 1-52 1 126 1 45 1-48 1 74 1-128 1 74 1-122 1 113 1-91 1 67 1 24 1-46 1 34 1-108 1 63 1-36 1 108 1 16 1-226 1 162 1-16 1-18 1-15 1-57 1 171 1-46 1 23 1-81 1 61 1 38 1 24 1 26 1-215 1 83 1 68 1-30 1 5 1 14 1-77 1 90 1-132 1 240 1-76 1-103 1 26 1 54 1-110 1-4 1 177 1-184 1-95 1 218 1-146 1 59 1 256 1-133 1-92 1 8 1-10 1-7 1-103 1 49 1 36 1-37 1 92 1-6 1-14 1-14 1 32 1-46 1 54 1-25 1 20 1 41 1-70 1 30 1 67 1-131 1-19 1 75 1 37 1-32 1 37 1-77 1-62 1 54 1 43 1-23 1 13 1 9 1 47 1-126 1 66 1 35 1-62 1-4 1-48 1 80 1 58 1-12 1-54 1-15 1 69 1-80 1-26 1-10 1 94 1-111 1 103 1-12 1 1 1-15 1-25 1-11 1 122 1-113 1-37 1 151 1 9 1-154 1 33 1 98 1-42 1-41 1-6 1-60 1 164 1-52 1-113 1-34 1 179 1-196 1 212 1-5 1-150 1 40 1 54 1-86 1 67 1 18 1-77 1 113 1-120 1 47 1 0 1 94 1-48 1-91 1 88 1-31 1-90 1 57 1 30 1 5 1 82 1-115 1-152 1 139 1 124 1-56 1-17 1-152 1 182 1-110 1 36 1 11 1 2 1 45 1-29 1-17 1-46 1 101 1-42 1 29 1-11 1-29 1 23 1-48 1-9 1 103 1-74 1 148 1-168 1 74 1-64 1 169 1-163 1 104 1-101 1-41 1 33 1-21 1 95 1 24 1-7 1-123 1-11 1 48 1 0 1 35 1 42 1-64 1 3 1 43 1-8 1-20 1-12 1-7 1 85 1-67 1-5 1 113 1-66 1-50 1 15 1-38 1-3 1 38 1-51 1 124 1-103 1 12 1 33 1 38 1-22 1-53 1 90 1-45 1-72 1 32 1 209 1-195 1 106 1-120 1-6 1 72 1-71 1-21 1 44 1 4 1 13 1 152 1-228 1 33 1-118 1 107 1 26 1 9 1 8 1 28 1 207 1-292 1 12 1 11 1 33 1 23 1-81 1 78 1-34 1-9 1 20 1-10 1-43 1 46 1-40 1 38 1 173 1-76 1-60 1-72 1 76 1-38 1 27 1-100 1 65 1-13 1 87 1-10 1-29 1-35 1 33 1-169 1 211 1-31 1-95 1 105 1-146 1 138 1-74 1 53 1 100 1-273 1 108 1 78 1-60 1 49 1 69 1-88 1 0 1 121 1-82 1-124 1 123 1 8 1-53 1-113 1 121 1 26 1 20 1-13 1-22 1-22 1 20 1 17 1-47 1 36 1-118 1 13 1 157 1-31 1-201 1 123 1 143 1-151 1-6 1 4 1 22 1-88 1 158 1-26 1-69 1 80 1-9 1 42 1-151 1 96 1 72 1-173 1 59 1 14 1 4 1 74 1-43 1 31 1-9 1-169 1 170 1 49 1-122 1 10 1 46 1 79 1-67 1-20 1 36 1-72 1-35 1 132 1-56 1-37 1-31 1 14 1-14 1 122 1 1 1-89 1 13 1-15 1-81 1 33 1 135 1-19 1-22 1-31 1-21 1 26 1 56 1-51 1 2 1-133 1 184 1-58 1-64 1 18 1 53 1 59 1-34 1 17 1-87 1 6 1 15 1 42 1 74 1-147 1 67 1-106 1 51 1 20 1 51 1-71 1 92 1-26 1-37 1 58 1-65 1-78 1 192 1-112 1-21 1-50 1 196 1-179 1 65 1-57 1-10 1 82 1-29 1 156 1-302 1 112 1 0 1 136 1-115 1 42 1 33 1-18 1-59 1 47 1-47 1 29 1 28 1-15 1-56 1 128 1-53 1 7 1 12 1-102 1 34 1-64 1 76 1 22 1 22 1 25 1-110 1 55 1-20 1 15 1 13 1-194 1 312 1-129 1-18 1-37 1-113 1 208 1 12 1-135 1 112 1-127 1 97 1 18 1-1 1-40 1 90 1-89 1 36 1-139 1 192 1 54 1-348 1 275 1-79 1-35 1 43 1-47 1 34 1-41 1 52 1 55 1-118 1 169 1-82 1-24 1 6 1 1 1-11 1 32 1 181 1-230 1 208 1-171 1-34 1 76 1-9 1-100 1 21 1 107 1-283 1 214 1-51 1 19 1 20 1 86 1-193 1 138 1 40 1-66 1 100 1-77 1 105 1-108 1-2 1-57 1 34 1 15 1 46 1-57 1 60 1-67 1 6 1-2 1 55 1 36 1-49 1-17 1 49 1-140 1 25 1-44 1 91 1-13 1 144 1-62 1-47 1-16 1 18 1 64 1-108 1 90 1-64 1-16 1-18 1 33 1 60 1-37 1 5 1-102 1 32 1 142 1-133 1 35 1-88 1 89 1-120 1 122 1 105 1-135 1 268 1-218 1-19 1-27 1 39 1 2 1-7 1 90 1-15 1-56 1-1 1-47 1 59 1 5 1-121 1 130 1-149 1 146 1-128 1 118 1-10 1 64 1-165 1 80 1-46 1 41 1 36 1 12 1-3 1 29 1-3 1-97 1-40 1 90 1-114 1 227 1-69 1-82 1 112 1 46 1-128 1-87 1 139 1-38 1-76 1 5 1 28 1 80 1 2 1-58 1-121 1 133 1 38 1-7 1-124 1 148 1-46 1 11 1 29 1-21 1-36 1-28 1-66 1 11 1 84 1-13 1-26 1 49 1-94 1 135 1-36 1-64 1 28 1-45 1 62 1 70 1 19 1-223 1 194 1-151 1 121 1-85 1 57 1 30 1-29 1-18 1 61 1-24 1-11 1-10 1-64 1 103 1-71 1-8 1-25 1 107 1 31 1-168 1 164 1-93 1 272 1-282 1 49 1 137 1-180 1 38 1-57 1 123 1 13 1-107 1-1 1 21 1-7 1 47 1-68 1 17 1 93 1-124 1 2 1-1 1 56 1 37 1-24 1-27 1 117 1-166 1-37 1 100 1-75 1 78 1-51 1-23 1 48 1 43 1-72 1 103 1-94 1-48 1 148 1-112 1 124 1-63 1-21 1-56 1 89 1 32 1-166 1 148 1-73 1 2 1-126 1 71 1-20 1 152 1-78 1 25 1 10 1 79 1-219 1 136 1-4 1 14 1 72 1-180 1 293 1-342 1 187 1-48 1 0 1 133 1-159 1-17 1 56 1 93 1-111 1 29 1 13 1-18 1-17 1-72 1-13 1 109 1-33 1-6 1-69 1 149 1-127 1 39 1-86 1 20 1 22 1 116 1-5 1 33 1-62 1 49 1-100 1 65 1-20 1 21 1-86 1 88 1-40 1-53 1 31 1-49 1 148 1-186 1 127 1 17 1-36 1 23 1-1 1-9 1-89 1 65 1 39 1-27 1-84 1-4 1-41 1 186 1-146 1 214 1-90 1-56 1 31 1 23 1-70 1 15 1 3 1 10 1 24 1-1 1 18 1-97 1 30 1 92 1-34 1-23 1 39 1 215 1-161 1-77 1 94 1-105 1 28 1-51 1-130 1 140 1 79 1-91 1 44 1-31 1 20 1-81 1-37 1 127 1-29 1 69 1-119 1 105 1-76 1 24 1 54 1-40 1 22 1-25 1 61 1-140 1 60 1 4 1 27 1-45 1-16 1 74 1-20 1 10 1 26 1-151 1 158 1-123 1 90 1-38 1 53 1-69 1 16 1 49 1-47 1 39 1-23 1-15 1-46 1-62 1 133 1 56 1-77 1 20 1-75 1 62 1-76 1 50 1-133 1 128 1-5 1 20 1 119 1-75 1 51 1-9 1-53 1 122 1 35 1-183 1 64 1-85 1 42 1-32 1-18 1-12 1 12 1 16 1 158 1-132 1-44 1 20 1 84 1-55 1-33 1 55 1-14 1-72 1 59 1-90 1 5 1 92 1 11 1-138 1 126 1 128 1-148 1-51 1-10 1 73 1 47 1-39 1 90 1-195 1 233 1-124 1-27 1-89 1 99 1 42 1-107 1 54 1 5 1-32 1-64 1 203 1-37 1-7 1-77 1 74 1-71 1-27 1 204 1-189 1-13 1 10 1 173 1-181 1 24 1-17 1-3 1-5 1 145 1-87 1-27 1 30 1 59 1-101 1-73 1 178 1-168 1 209 1-171 1 32 1-6 1 33 1-29 1-4 1 120 1-117 1 43 1-14 1 30 1-26 1-72 1-11 1 216 1-153 1 2 1 42 1-157 1 69 1 50 1-65 1 7 1-44 1 142 1 38 1-84 1-16 1 67 1 24 1 56 1-116 1-38 1 86 1-62 1 14 1 8 1-104 1 132 1 39 1-213 1 85 1-33 1 78 1 6 1-7 1 32 1 77 1-67 1-112 1 62 1 27 1-62 1 3 1 70 1 18 1-87 1 16 1 35 1 5 1-148 1 139 1-70 1 27 1 243 1-221 1 62 1-104 1 34 1-132 1 121 1 60 1-59 1-2 1 95 1-47 1 20 1-4 1-64 1 57 1 24 1-87 1 81 1-24 1-132 1 144 1-104 1 96 1 15 1-123 1 43 1 98 1-23 1-71 1 76 1-38 1 25 1-240 1 322 1-146 1 78 1-2 1-67 1-36 1 17 1 106 1-21 1-35 1-132 1 232 1 14 1-104 1-69 1 154 1-185 1 145 1-9 1-13 1-92 1 114 1-26 1-131 1 155 1-120 1-23 1 14 1 62 1 14 1 102 1 6 1-111 1-23 1-56 1 40 1 78 1-38 1-106 1 115 1 29 1-26 1-14 1 41 1-154 1 128 1-32 1 8 1 48 1 17 1-7 1-97 1 117 1-45 1 11 1-13 1-1 1 56 1-203 1 157 1-101 1 74 1-135 1 76 1-6 1 16 1 71 1-92 1 30 1 216 1-215 1 17 1 65 1-75 1-2 1 4 1 26 1 21 1 37 1-49 1-50 1 49 1 117 1-91 1-90 1-25 1 22 1 70 1-15 1-46 1-32 1 135 1 3 1-117 1 65 1 8 1-5 1-26 1 142 1-68 1 13 1-129 1 42 1-20 1 67 1 11 1-46 1 2 1-55 1 96 1-61 1 33 1 23 1-111 1 198 1-157 1 30 1-34 1-2 1 18 1-13 1 155 1-117 1 0 1 92 1-84 1 4 1 3 1 12 1 43 1-72 1 25 1 6 1-20 1-37 1 19 1-1 1 67 1-158 1 143 1-33 1 35 1-22 1 126 1-98 1-160 1 114 1 42 1-86 1 114 1-74 1 145 1-46 1-321 1 367 1-94 1-35 1 16 1 66 1-90 1 11 1 25 1 33 1-78 1 38 1-99 1 153 1-10 1-167 1 156 1-5 1-140 1 15 1-36 1-6 1 10 1 4 1 175 1-90 1 90 1-123 1 160 1-57 1-2 1-32 1-49 1-11 1-109 1 137 1 20 1-26 1-61 1 164 1-133 1-17 1 49 1 11 1 45 1-121 1 160 1-51 1 45 1-129 1-5 1-10 1 62 1-30 1-56 1 197 1-34 1-115 1-86 1 40 1-34 1 84 1 81 1-22 1-63 1 28 1 221 1-217 1-155 1 317 1-164 1-50 1 53 1-70 1 110 1 70 1-49 1-24 1 15 1-51 1 2 1 23 1-69 1 52 1 17 1-49 1 10 1-54 1 54 1-48 1 78 1-85 1 52 1-108 1 134 1-85 1-75 1 21 1 116 1 63 1 29 1-60 1-40 1 7 1 59 1-132 1 54 1 38 1-21 1 13 1 8 1 88 1-125 1 91 1-103 1-31 1 38 1-11 1 151 1-142 1 102 1 33 1-261 1 177 1-26 1 55 1-8 1 9 1 20 1 1 1-210 1 107 1-37 1 113 1-69 1-7 1 26 1 1 1-40 1 136 1 19 1 72 1-183 1 51 1-37 1-109 1 145 1-56 1-4 1 36 1-62 1 72 1 73 1-13 1-71 1-41 1 22 1 106 1-100 1-46 1-17 1 264 1-227 1 6 1 70 1-89 1 29 1 45 1-86 1 109 1 13 1-85 1 31 1-68 1 143 1-68 1 70 1-124 1 31 1 83 1-70 1 46 1-12 1-113 1 136 1-83 1 97 1-57 1 28 1-77 1 91 1-50 1-159 1 265 1-116 1 49 1 76 1-173 1-4 1-124 1 196 1-18 1-103 1 154 1-98 1-4 1 149 1-136 1 15 1 72 1-62 1 18 1 14 1-19 1 93 1-47 1 15 1 30 1-81 1 23 1-78 1 14 1 38 1-6 1 81 1-171 1 111 1-137 1 95 1 180 1-293 1 127 1 42 1-91 1-40 1-9 1 105 1-111 1 100 1-67 1 42 1-19 1 69 1-5 1 42 1-84 1 81 1-54 1-71 1 95 1-23 1-46 1 68 1 6 1-47 1-34 1 44 1-12 1-14 1 59 1-44 1 4 1 17 1-4 1-4 1-11 1-24 1 89 1-87 1 4 1 20 1 69 1 21 1-83 1 141 1-137 1 14 1-7 1 3 1-3 1 56 1 27 1-148 1 100 1-36 1 9 1-19 1 2 1 92 1-33 1-3 1-86 1-41 1 48 1-31 1 56 1 41 1-42 1-51 1-48 1 22 1 27 1 18 1 108 1-54 1 107 1-23 1-74 1-38 1-46 1 7 1 137 1-101 1 39 1-2 1-111 1 7 1 117 1-6 1-56 1 73 1 67 1-51 1-141 1 43 1-18 1 55 1-22 1-44 1 22 1-22 1 53 1-16 1-59 1 99 1 58 1-72 1-49 1 131 1 51 1-107 1 74 1-46 1-86 1 183 1-143 1-25 1-8 1 13 1-3 1 1 1 53 1 28 1-15 1-101 1 187 1-118 1-123 1 109 1 27 1 1 1 29 1-35 1-118 1 72 1-77 1-51 1 228 1-84 1-12 1 122 1-38 1-94 1-70 1 88 1 41 1 10 1-111 1 115 1-36 1 6 1-28 1-2 1 26 1-23 1-42 1 168 1-91 1-136 1 60 1-2 1-15 1 87 1-2 1-20 1-194 1 239 1-3 1-34 1 106 1 87 1-247 1 74 1 59 1-244 1 167 1-32 1-73 1-64 1 159 1-79 1 50 1 27 1 29 1-27 1-96 1 46 1 53 1 26 1-17 1-136 1 18 1 0 1 11 1 49 1 103 1-88 1-5 1-23 1 33 1 133 1-98 1-57 1 61 1-5 1 21 1 74 1-58 1-71 1 32 1-43 1 67 1 44 1-75 1-36 1-110 1 215 1-43 1-18 1 57 1 46 1-79 1-24 1-1 1 1 1-59 1 96 1 13 1-86 1-61 1 31 1 41 1 150 1-79 1-81 1 17 1-42 1 8 1 12 1 32 1-23 1 18 1 111 1-130 1 28 1-72 1 107 1-57 1 70 1-105 1 16 1 63 1-8 1-270 1 285 1 59 1-199 1 26 1 109 1 3 1 119 1-168 1 25 1 14 1 126 1-120 1-242 1 246 1-45 1-51 1 148 1-23 1-99 1-1 1-3 1-82 1 155 1-29 1-19 1-15 1 22 1-126 1 242 1-139 1 110 1-99 1 67 1-166 1 58 1 33 1-15 1 39 1 33 1-111 1 205 1-71 1-55 1-13 1 71 1-56 1 59 1-1 1-24 1-107 1 99 1 3 1-29 1-17 1-26 1 29 1-16 1 30 1 186 1-209 1 31 1 18 1 32 1-76 1 122 1-39 1-74 1 2 1 33 1 76 1-219 1 166 1-180 1 174 1 27 1-62 1-47 1 69 1-33 1-39 1 103 1-84 1 151 1-218 1 109 1-27 1 12 1 29 1 40 1 69 1-215 1 51 1 8 1 49 1-7 1-44 1-27 1 26 1 64 1-64 1 4 1-58 1 41 1 13 1 78 1-9 1 137 1-209 1-15 1 81 1-48 1 6 1 68 1-56 1 40 1-53 1-114 1 108 1 18 1 22 1-71 1 68 1 33 1-85 1 81 1-45 1 56 1-147 1 11 1 131 1-116 1 183 1-131 1-43 1 72 1 5 1-85 1 103 1-27 1 42 1-61 1-28 1-5 1 57 1 58 1-57 1-64 1 31 1 28 1 113 1-163 1 77 1-118 1 96 1-183 1 195 1-80 1 43 1-48 1-19 1 55 1-12 1 94 1-101 1 167 1-69 1-30 1 24 1 88 1-183 1 88 1-63 1-111 1 255 1-241 1 129 1-67 1-69 1 10 1 154 1-106 1 87 1-99 1 71 1 110 1-179 1 81 1 8 1-85 1 200 1-110 1 3 1-207 1 148 1-48 1 66 1-97 1 131 1 23 1 49 1-117 1 72 1-147 1 105 1-36 1 57 1-4 1-79 1-47 1 256 1-129 1-61 1-6 1 9 1-20 1 97 1 21 1-26 1 17 1-7 1-45 1-121 1 138 1 106 1-108 1-92 1 124 1 1 1-4 1-43 1-39 1-65 1 117 1-56 1-39 1 41 1 24 1 8 1 44 1-51 1 65 1-83 1-54 1-2 1 111 1-100 1 208 1-157 1 70 1 163 1-256 1 143 1-8 1-24 1-151 1 53 1 81 1-75 1 42 1 33 1-66 1 34 1 32 1-36 1-5 1-2 1 20 1-64 1 84 1-180 1 224 1-125 1-26 1 127 1-53 1 83 1-121 1-141 1 189 1-27 1-48 1 34 1-32 1 71 1-66 1 70 1-106 1 68 1-119 1 244 1-118 1 52 1-72 1 125 1-177 1 124 1-66 1 131 1-62 1-29 1 26 1-17 1-29 1 54 1-58 1 32 1 45 1-111 1 27 1 22 1-51 1-12 1 72 1-81 1 150 1-136 1 76 1-76 1-42 1 104 1 18 1 10 1-73 1 104 1-114 1 43 1 28 1-182 1 260 1 14 1-103 1 61 1-93 1 87 1-88 1 23 1 40 1-6 1-66 1-6 1 44 1 57 1-53 1-82 1 55 1-23 1-28 1-28 1-48 1 95 1 7 1 50 1 20 1-6 1-43 1 6 1 80 1-137 1-40 1-20 1 101 1 75 1-162 1 120 1 26 1 59 1-75 1-126 1 240 1-204 1-34 1 94 1 89 1-127 1 103 1-148 1 79 1-16 1-1 1 155 1-159 1-12 1 8 1 23 1 67 1-147 1 33 1 105 1-19 1-34 1 107 1-148 1-22 1 38 1 87 1-111 1 91 1 1 1-41 1 28 1-43 1 39 1 84 1 6 1-123 1 12 1-54 1 103 1-155 1 123 1-18 1-25 1 11 1 18 1 108 1-36 1-143 1 4 1 58 1 54 1-135 1 32 1 225 1-172 1 67 1-87 1-22 1 46 1-35 1 25 1-62 1 125 1-152 1-91 1 209 1-55 1 5 1 104 1-25 1-62 1 28 1 2 1 38 1-79 1 213 1-20 1-151 1-56 1 65 1-22 1-65 1 123 1-61 1 34 1-73 1-42 1 98 1-10 1-35 1 6 1 8 1 25 1-10 1 16 1-135 1 89 1-43 1 32 1 28 1 86 1-14 1-152 1 104 1 55 1-7 1-134 1 55 1-24 1 60 1-50 1 48 1-47 1-26 1 93 1 73 1-152 1 38 1-7 1-38 1 74 1 14 1 0 1 43 1-130 1 14 1 52 1-55 1 24 1-38 1-33 1 140 1 40 1-180 1 94 1 21 1-62 1 66 1-2 1-74 1 39 1 56 1-145 1 51 1-16 1 38 1 46 1-45 1 121 1-115 1 80 1-90 1-83 1 82 1 14 1 74 1-194 1 81 1 25 1 24 1-33 1 67 1-83 1-93 1 162 1-31 1 15 1-43 1-35 1 171 1-191 1 140 1-18 1-7 1 92 1-200 1 50 1-27 1-9 1 65 1 6 1 109 1-84 1 227 1-253 1 30 1 3 1-60 1-43 1 112 1-45 1-77 1 51 1 55 1-78 1-32 1 46 1-19 1 39 1-15 1 144 1-116 1 135 1-162 1-9 1-39 1 28 1 2 1 80 1-45 1 50 1 27 1-73 1-33 1 40 1-45 1 91 1-32 1 4 1-31 1-26 1 19 1-52 1 92 1-39 1-75 1 89 1 112 1-120 1 79 1-58 1-116 1 110 1 54 1-152 1 81 1 10 1-8 1 56 1 72 1-128 1 15 1-13 1-9 1-89 1 105 1 79 1-80 1 57 1-148 1 97 1-80 1-52 1 202 1-10 1-110 1 55 1-4 1 33 1 64 1-146 1 133 1-114 1 20 1-75 1-11 1 130 1-141 1 126 1-8 1-11 1-30 1 151 1-91 1-103 1 6 1 70 1 155 1-171 1 45 1-171 1 85 1 14 1-113 1 233 1-22 1 33 1-56 1-99 1 50 1-95 1 150 1-11 1 83 1-144 1 134 1-109 1 23 1-16 1 29 1-79 1-31 1 64 1-1 1-33 1 48 1 22 1-57 1-17 1 63 1-62 1 86 1 15 1-38 1 13 1-117 1 170 1-146 1 118 1-86 1 47 1-13 1 167 1-139 1 34 1-186 1 222 1-85 1 127 1-112 1-61 1 59 1 45 1-60 1 41 1-59 1-13 1-95 1 147 1-40 1-13 1 51 1-49 1-26 1 41 1 55 1 40 1-155 1-4 1 141 1-66 1-5 1 90 1-135 1 27 1 2 1 62 1 21 1-42 1-28 1 17 1 2 1-25 1 63 1 145 1-242 1-84 1 101 1 22 1-68 1-181 1 292 1 162 1-171 1-38 1 25 1 35 1-81 1 83 1 88 1-10 1-134 1 6 1-55 1 83 1-82 1-31 1 25 1 102 1-170 1 180 1-60 1 69 1-17 1-75 1 55 1-120 1 109 1 5 1-30 1-245 1 229 1-38 1 104 1-46 1-19 1 47 1 18 1 3 1 113 1-207 1 43 1 33 1-193 1 0 1 151 1-28 1 39 1 53 1-59 1 95 1-131 1 32 1-158 1 279 1-142 1 6 1 87 1-74 1 2 1 166 1-179 1 41 1-13 1 37 1-46 1-79 1 44 1 95 1-52 1-39 1-75 1 117 1 23 1-14 1 6 1-33 1-56 1-48 1 199 1-51 1-22 1-55 1 205 1-151 1 42 1-81 1 56 1-63 1 105 1-31 1-123 1 12 1 165 1 12 1-131 1 48 1 83 1-129 1-10 1 126 1-189 1 21 1 160 1-35 1-117 1 32 1 60 1-76 1 84 1-32 1-55 1 68 1-43 1 92 1-34 1-32 1 101 1-47 1-120 1 45 1 65 1-119 1 120 1-6 1 28 1-18 1 65 1-91 1-37 1-20 1 12 1 96 1-97 1-15 1 80 1-3 1-36 1 29 1 34 1-42 1 69 1-63 1 6 1 43 1-122 1 78 1-91 1 117 1 10 1-73 1 40 1 15 1-36 1-56 1-61 1 151 1 17 1-34 1 1 1 1 1-35 1-59 1 108 1-65 1 164 1-105 1 39 1-151 1 139 1-88 1-15 1-37 1 17 1 59 1 0 1-2 1-83 1 19 1 33 1-14 1 126 1-53 1-104 1 74 1-135 1 194 1-16 1-108 1 30 1 57 1 9 1-79 1 126 1-115 1 35 1 7 1-36 1 58 1 61 1-143 1 53 1-30 1-43 1 95 1 68 1-77 1 40 1-67 1 26 1-57 1-12 1 47 1 89 1-121 1 151 1-168 1 12 1 16 1-24 1 121 1-49 1-12 1 42 1 35 1 86 1-149 1 8 1-28 1 83 1-87 1-5 1-73 1 105 1 24 1 30 1-42 1-17 1 11 1-61 1 6 1 96 1-57 1-71 1-71 1 198 1-94 1 19 1-46 1 129 1-77 1-42 1 54 1 106 1-82 1-78 1 12 1 85 1 27 1-103 1 148 1-93 1-59 1-94 1 139 1 16 1 3 1 70 1-125 1-24 1 31 1 105 1-108 1 12 1 46 1-25 1 10 1-42 1 47 1-13 1 21 1-39 1 7 1-41 1 54 1 41 1-190 1 94 1 59 1-70 1 46 1-47 1 51 1-37 1 78 1 49 1 0 1-76 1-37 1 77 1 14 1-31 1-136 1 72 1 32 1-2 1 14 1 28 1-85 1 76 1-127 1-6 1-28 1 193 1-64 1 92 1-104 1 98 1-99 1 73 1-140 1 61 1 33 1-122 1 29 1-32 1 210 1-74 1 4 1-14 1 44 1-129 1 76 1-46 1 76 1 32 1-108 1 122 1-37 1-20 1-126 1 122 1-40 1 27 1-20 1-26 1-46 1-22 1 147 1-67 1-38 1 149 1-63 1-7 1-69 1 86 1-88 1 13 1-214 1 226 1 92 1-27 1-35 1-94 1 86 1-238 1 181 1 64 1-8 1-14 1 7 1 44 1 129 1-221 1 84 1-27 1 41 1 6 1 40 1-82 1-68 1 33 1 5 1 35 1-20 1-10 1-25 1 54 1-59 1 124 1-137 1 91 1 15 1-37 1-13 1 4 1-16 1-15 1 108 1-52 1-105 1 47 1 38 1-105 1 127 1-74 1 71 1-83 1-13 1 52 1 64 1 74 1-141 1-4 1 11 1 83 1-81 1 23 1-18 1-57 1 86 1-24 1 19 1-42 1 27 1-8 1 9 1 96 1-108 1 24 1-28 1 26 1-68 1 31 1 72 1-81 1-45 1 26 1 106 1-7 1-19 1-57 1-48 1 131 1 10 1-138 1 31 1-3 1 223 1-160 1 23 1-173 1 115 1 35 1-14 1-54 1 76 1-13 1 16 1-45 1 67 1-108 1 53 1 40 1 26 1 18 1-44 1 12 1-98 1 101 1 1 1-40 1 40 1-51 1 176 1-257 1 43 1-38 1 71 1 4 1-38 1-69 1 137 1-54 1-14 1 92 1-160 1 86 1 55 1-35 1 72 1-144 1 134 1-69 1 35 1 60 1-184 1 177 1-98 1 91 1-16 1-49 1 11 1-7 1-28 1 57 1 43 1-89 1-34 1-131 1 178 1-10 1 59 1-60 1 20 1 53 1-69 1-1 1 50 1 35 1-7 1-144 1 184 1-142 1 79 1-78 1 54 1-98 1 179 1-249 1 89 1 209 1-162 1 38 1 19 1-43 1-78 1 85 1-54 1 110 1 50 1-59 1-89 1-115 1 129 1 39 1-44 1 132 1-93 1 22 1-135 1 79 1 28 1 4 1-30 1 67 1 78 1-158 1 44 1-21 1-58 1 94 1-50 1 15 1 82 1-129 1 0 1 81 1-47 1 38 1 26 1-157 1 220 1-103 1-59 1 146 1-112 1 30 1 45 1-95 1 81 1-73 1 16 1 26 1 98 1-286 1 218 1-128 1 127 1-93 1 53 1 53 1-22 1 55 1-81 1 41 1 18 1-16 1 60 1-35 1-151 1 5 1 90 1-178 1 85 1 95 1-27 1-11 1 90 1-88 1 51 1-8 1-65 1 123 1-302 1 223 1-19 1 81 1-36 1 14 1-72 1 66 1 33 1-113 1 9 1 76 1 76 1-106 1-110 1 19 1 235 1-152 1-16 1-7 1 18 1-14 1-11 1 76 1-100 1 109 1-112 1 35 1 17 1 65 1-19 1-75 1 27 1-29 1-69 1 14 1 29 1 125 1-53 1-2 1 38 1-68 1 99 1-85 1 19 1-22 1 18 1-8 1 76 1-188 1 110 1 48 1-37 1-103 1 245 1-177 1 43 1 34 1-42 1 29 1-101 1 63 1-1 1 64 1-145 1 66 1 112 1-68 1-102 1 60 1-1 1-20 1 37 1-13 1-21 1 90 1-69 1-48 1 78 1-87 1 156 1-28 1-151 1 73 1 42 1 104 1-159 1-65 1 38 1 95 1-104 1 133 1-86 1-55 1 188 1-93 1 1 1 8 1 65 1-5 1-19 1-60 1-131 1 139 1 71 1-206 1 146 1 52 1 13 1-72 1-31 1 33 1 14 1-7 1-54 1 57 1-124 1 115 1 41 1-8 1 19 1 3 1-90 1-98 1 38 1 194 1-115 1-19 1-34 1-42 1 120 1 37 1-63 1 26 1-81 1 52 1 94 1 55 1-135 1-46 1-100 1 92 1 78 1 3 1 45 1 84 1-266 1 63 1 51 1 65 1-95 1-25 1 29 1-10 1 88 1-49 1 3 1-25 1 24 1 15 1 27 1-62 1-13 1-64 1 180 1-74 1 7 1 39 1-90 1 42 1-110 1 73 1-69 1 56 1-14 1 60 1-117 1 93 1-47 1 74 1-47 1 187 1-34 1-128 1-92 1 119 1-55 1-103 1-12 1 51 1 149 1-111 1 88 1-34 1 32 1-16 1 51 1-104 1-17 1-13 1 180 1-88 1 16 1-15 1-132 1 86 1-83 1 43 1 22 1 88 1-225 1 229 1-27 1-39 1 37 1-21 1-18 1 43 1-87 1 15 1 134 1-9 1-129 1-9 1 45 1-44 1 25 1-42 1 13 1 98 1 35 1-92 1 79 1-49 1-15 1-91 1-30 1 287 1-207 1 87 1-43 1-4 1-104 1 127 1-65 1 56 1-28 1-34 1 34 1-37 1 65 1-186 1 74 1 341 1-244 1-43 1 93 1-109 1 65 1 77 1-149 1-11 1 113 1-2 1-87 1-23 1 55 1 19 1 18 1-12 1-145 1 117 1 83 1-54 1 19 1-27 1-112 1 88 1 9 1-9 1 58 1 12 1-1 1 74 1-160 1 105 1-154 1 23 1 52 1 22 1 63 1 4 1-133 1 129 1 33 1-177 1 52 1-14 1 135 1-16 1-68 1-29 1-59 1 151 1-110 1-21 1 244 1-159 1 26 1-58 1-108 1-52 1 60 1 80 1-55 1 134 1-174 1 111 1 43 1-19 1-16 1 12 1-75 1 52 1-55 1-26 1 22 1-52 1 38 1 82 1-61 1 43 1-4 1-14 1-8 1-25 1 18 1 119 1-53 1-33 1-27 1 119 1-125 1 28 1-56 1 124 1 49 1-71 1-159 1 120 1-71 1-49 1 129 1-9 1-41 1 80 1-87 1 45 1-2 1 14 1 73 1-47 1-162 1 141 1-45 1 35 1-94 1 152 1-32 1 59 1-120 1 7 1 77 1-76 1 91 1 52 1-76 1-35 1 14 1 52 1-154 1 139 1-50 1 72 1-17 1-27 1-68 1 25 1 82 1-135 1 29 1-81 1 99 1-2 1 2 1 100 1-88 1 7 1 14 1-117 1 76 1-39 1 79 1 124 1-134 1 221 1-215 1-128 1 154 1-14 1 94 1-127 1-90 1 211 1-76 1 2 1-31 1-57 1 25 1 36 1 19 1-29 1-44 1 70 1-12 1 16 1 28 1-7 1-79 1 81 1-82 1-96 1-7 1 222 1-76 1 25 1-71 1 19 1-5 1-44 1 102 1-107 1 62 1 22 1 3 1 16 1-64 1 58 1-29 1-67 1 69 1 6 1 91 1-165 1-5 1 96 1-31 1-66 1 62 1-41 1 38 1-33 1-6 1 98 1-82 1-32 1 27 1 76 1-90 1 261 1-273 1 115 1 9 1-44 1-18 1-37 1-7 1 60 1 69 1-166 1 86 1 17 1-38 1 27 1-40 1 39 1-53 1 101 1-53 1-6 1 73 1-12 1 17 1 2 1-106 1 142 1-166 1 246 1-183 1 81 1-141 1-50 1 88 1-17 1 112 1 28 1-111 1 31 1-72 1-29 1 85 1 13 1-92 1 90 1 101 1-235 1 161 1-168 1 140 1-14 1-30 1 92 1-59 1 10 1-105 1 77 1-13 1-63 1 111 1 226 1-227 1-114 1 78 1 11 1 14 1-23 1 29 1 26 1-12 1-62 1-1 1 29 1-14 1 42 1-46 1-36 1 69 1 37 1-44 1-14 1 33 1-127 1 48 1 45 1 0 1-41 1 71 1-7 1-18 1 129 1-98 1-68 1 57 1-76 1 50 1 60 1-39 1-100 1 33 1 84 1-58 1 102 1-98 1-17 1 142 1-218 1 132 1 20 1-3 1-25 1 0 1-46 1 275 1-210 1-176 1 178 1 10 1-116 1 91 1-19 1 28 1-83 1 52 1-94 1 100 1 30 1 19 1-52 1 36 1 11 1-19 1 25 1-12 1-9 1-47 1 101 1-84 1-54 1 78 1-32 1-1 1-26 1 246 1-159 1-80 1 77 1-132 1-112 1 181 1 110 1-120 1-16 1 108 1-100 1 13 1-45 1 104 1-11 1-143 1 188 1-27 1-40 1 55 1-316 1 217 1 164 1-80 1 20 1-55 1-164 1 135 1 44 1-40 1 55 1-57 1 98 1-143 1 124 1-106 1-53 1 146 1-84 1 167 1-133 1-89 1 44 1 84 1-18 1-99 1 64 1-38 1 116 1 23 1-71 1-31 1-35 1 11 1 55 1-13 1-41 1 99 1 17 1 154 1-143 1-58 1-114 1 161 1-107 1 94 1-61 1 88 1-77 1-95 1 77 1-102 1 80 1 67 1-87 1 76 1-80 1 66 1-12 1-2 1-114 1 37 1 53 1 22 1 74 1-102 1 40 1-115 1 157 1-54 1 1 1-69 1-18 1-7 1 80 1-42 1 87 1-77 1-5 1 63 1-62 1 57 1-108 1 37 1 110 1 25 1 61 1-113 1 35 1 3 1-84 1 31 1 11 1-82 1 82 1 29 1-30 1 2 1-4 1-19 1-54 1 70 1 64 1 8 1-36 1 12 1-279 1 197 1 7 1 46 1-1 1-40 1 78 1-61 1-31 1 34 1 22 1-24 1 29 1-35 1 48 1-196 1 120 1 4 1 84 1-120 1 75 1-11 1 18 1 5 1-12 1 157 1-215 1-17 1 74 1 15 1-40 1 31 1 56 1-47 1 0 1-71 1 37 1 53 1-105 1 42 1 2 1-40 1 43 1-62 1-34 1 197 1-167 1-122 1 231 1-124 1 80 1 65 1-67 1-25 1 74 1-40 1 8 1-10 1-4 1-47 1 27 1-29 1 242 1-146 1-1 1 21 1-30 1-210 1 205 1 8 1-149 1 133 1-19 1-33 1 42 1-61 1 52 1 123 1-54 1-73 1 25 1-47 1-24 1 57 1-56 1 175 1-117 1-22 1 90 1-105 1 35 1 155 1-138 1 1 1 62 1-79 1-59 1 161 1-15 1-176 1 150 1-40 1-146 1 185 1-14 1-75 1-66 1 138 1-36 1-56 1 83 1-109 1 185 1-135 1-12 1-3 1 21 1-64 1 33 1 68 1-1 1-104 1 9 1 100 1-1 1-4 1-5 1-100 1 70 1 9 1 4 1 19 1 2 1-82 1 95 1 70 1-153 1 78 1-33 1 2 1 24 1-16 1 85 1-52 1 16 1-129 1 176 1-129 1 57 1 29 1-121 1 76 1-10 1-79 1 81 1 148 1-170 1-15 1 24 1 119 1-161 1 42 1 20 1-36 1 44 1-79 1-22 1 33 1-18 1 154 1-88 1 49 1 1 1-29 1 6 1-11 1-22 1 68 1 97 1-200 1 69 1-78 1 108 1-89 1 188 1-144 1 28 1-39 1-3 1 63 1-106 1 23 1-81 1 96 1-9 1 87 1-104 1-98 1 182 1-44 1 41 1-34 1 21 1 124 1-144 1 0 1-23 1-27 1 90 1-118 1 109 1-37 1 43 1-61 1-36 1 96 1-57 1-12 1 47 1-74 1 44 1 63 1-12 1-68 1 146 1-131 1-9 1 14 1-1 1 30 1-44 1 25 1 42 1-154 1 88 1-68 1 46 1-3 1 13 1 9 1 52 1-29 1 10 1-86 1-27 1 48 1-8 1-37 1 96 1 46 1-76 1 14 1-11 1-13 1 77 1-35 1 61 1-81 1 111 1-131 1 85 1-102 1 53 1-100 1 61 1 36 1 115 1-55 1-83 1 45 1 50 1-80 1-182 1 221 1 19 1-88 1 15 1 15 1 44 1-12 1 68 1-65 1 97 1-62 1 62 1-123 1-64 1 30 1 20 1-14 1 114 1-73 1 41 1-78 1 17 1-31 1 79 1-48 1-42 1 190 1-105 1-33 1 22 1-2 1 51 1-158 1 136 1-47 1 2 1-109 1 54 1 48 1-134 1 39 1 133 1 30 1-116 1 170 1-184 1-16 1 120 1-32 1-39 1 44 1-4 1-18 1 130 1-148 1 36 1-114 1 52 1-72 1 164 1 19 1-177 1 116 1 41 1-83 1 70 1 8 1-88 1 147 1-56 1-74 1 75 1-45 1-31 1 77 1-26 1-38 1 31 1 43 1-3 1-3 1-133 1 104 1-46 1 16 1 5 1 85 1-125 1 86 1-37 1-2 1-15 1-10 1 86 1-113 1 109 1-100 1 56 1-74 1 28 1-64 1 133 1 68 1-93 1 9 1-38 1 8 1-36 1 90 1-30 1 8 1-26 1 78 1-130 1 28 1 91 1-110 1 30 1-28 1 103 1 7 1-50 1-70 1 145 1-130 1-58 1 5 1 54 1-7 1 23 1 39 1-6 1-127 1 30 1 30 1 44 1-100 1 46 1 77 1-1 1 18 1 21 1-44 1 32 1-39 1 31 1-7 1 25 1-29 1 0 1-25 1-4 1-80 1 92 1 7 1-124 1 239 1-173 1 0 1 122 1-112 1 27 1 19 1-13 1 5 1-78 1 110 1 58 1-26 1-107 1 18 1 137 1-115 1 66 1-17 1 11 1-121 1 169 1-15 1-29 1-81 1 43 1-57 1 20 1-15 1 230 1-210 1 27 1 29 1-98 1-12 1 86 1 96 1-130 1 136 1-129 1-21 1 153 1-138 1-40 1-30 1 33 1 31 1 66 1-8 1-101 1-22 1 234 1-189 1 12 1 73 1-48 1 55 1-167 1 129 1 36 1-17 1-63 1-25 1 38 1 62 1-72 1 80 1 32 1-39 1-15 1 20 1-116 1 82 1-88 1-5 1 75 1 12 1-138 1 131 1 20 1 144 1-234 1 76 1-6 1 109 1-197 1 130 1 24 1-153 1 81 1 37 1-16 1 75 1-129 1 78 1-85 1 9 1-23 1 67 1-135 1 173 1-37 1 18 1-76 1-13 1 52 1 126 1-78 1-25 1 39 1-49 1-107 1 217 1-130 1 52 1-64 1 79 1-92 1-36 1 17 1 18 1 131 1 34 1-208 1 66 1 52 1-88 1 103 1 16 1-97 1 74 1-62 1-22 1-20 1 55 1-45 1 69 1-213 1 221 1-59 1-35 1 154 1-84 1 28 1 41 1-166 1 88 1 83 1-113 1 104 1-28 1-25 1-137 1 162 1 6 1 59 1-77 1 94 1-91 1-137 1 62 1-90 1 151 1 7 1 55 1-194 1 49 1 59 1-55 1 48 1 52 1 81 1-161 1-124 1 212 1-21 1 60 1-81 1-5 1-64 1 130 1-94 1 50 1-12 1-70 1 33 1 106 1-110 1 65 1-6 1 5 1-4 1 25 1-62 1 23 1-67 1-2 1 52 1-63 1 89 1-13 1 35 1-10 1-39 1-2 1 111 1 52 1-97 1-79 1 188 1-143 1-100 1 148 1-16 1-43 1 111 1-218 1 14 1 63 1 24 1 18 1 17 1-65 1 94 1-133 1 211 1-176 1-32 1 54 1 0 1 5 1-6 1 88 1-140 1 124 1 9 1-116 1 92 1-143 1-49 1 143 1-121 1 158 1-30 1-36 1 53 1-62 1 214 1-128 1-143 1 62 1 132 1-132 1 62 1-3 1-46 1-10 1-28 1 178 1-66 1-56 1 5 1 22 1 22 1-153 1 127 1 27 1 22 1-86 1-53 1 164 1-128 1 96 1-92 1 43 1 43 1-1 1-27 1-82 1 50 1-4 1 31 1-58 1 69 1-18 1 98 1-153 1-28 1 87 1 5 1 20 1-86 1-27 1 115 1-249 1 141 1-16 1 55 1-14 1 178 1-125 1 52 1-62 1-25 1 26 1 23 1-190 1 211 1 10 1-5 1-118 1 36 1 104 1-94 1-21 1 110 1-39 1-70 1 56 1-84 1 67 1-41 1-9 1 49 1-2 1 65 1-118 1 80 1 28 1-57 1-115 1 95 1 23 1 205 1-203 1-111 1 53 1 149 1-127 1 19 1-16 1 55 1 226 1-188 1-22 1-45 1 29 1 17 1 6 1-150 1 84 1-50 1 28 1 119 1-47 1-19 1-3 1-46 1 37 1-124 1 230 1-152 1 31 1 60 1-69 1 104 1-137 1-46 1 126 1 23 1-50 1 3 1 54 1-19 1 100 1-114 1 22 1-5 1 71 1-300 1 169 1-33 1 64 1-9 1 65 1-111 1 5 1 147 1-146 1-102 1 117 1 55 1-16 1 35 1-8 1-105 1 110 1-99 1-57 1 86 1-69 1 16 1 32 1 69 1-56 1 83 1-57 1 53 1-40 1 31 1-63 1 25 1-40 1 136 1 114 1-147 1-138 1 65 1 177 1-163 1 79 1-73 1-1 1 5 1-73 1 47 1 36 1 2 1-186 1 292 1-85 1-51 1-36 1 64 1 61 1 5 1-73 1-56 1-32 1 1 1 145 1-92 1 16 1 41 1-38 1 30 1 32 1-139 1 151 1-79 1 36 1-31 1 59 1-32 1-54 1 49 1-21 1-23 1 84 1-53 1 31 1-51 1 47 1-70 1-35 1 81 1 6 1 16 1-23 1 20 1-48 1 47 1 56 1-77 1-102 1 88 1-39 1 129 1-178 1-17 1 218 1-44 1-191 1 45 1 65 1-7 1 0 1 65 1-91 1 64 1 0 1 26 1 15 1-109 1-9 1 97 1-76 1-80 1 78 1 56 1 51 1-79 1 59 1 48 1 37 1-125 1 10 1 34 1-26 1 65 1-117 1 16 1-21 1-62 1 152 1-83 1 163 1-141 1-13 1-46 1 91 1 55 1-59 1 52 1-149 1 103 1-16 1-52 1-70 1 89 1 31 1-42 1 75 1-16 1-7 1-27 1 56 1-142 1 44 1-62 1 99 1 14 1-34 1 85 1-59 1 35 1-1 1-61 1-48 1 39 1 28 1 60 1-71 1 76 1 0 1-99 1 69 1-152 1 100 1 4 1 146 1-122 1-4 1 36 1-31 1-76 1 111 1 6 1-11 1 9 1-7 1-4 1-48 1 6 1 83 1-54 1-48 1 90 1-61 1-5 1 0 1 37 1-129 1 84 1 8 1 162 1-70 1 33 1-77 1-93 1 110 1 14 1-65 1 139 1-222 1-46 1 102 1 81 1-75 1-6 1 127 1-119 1 47 1 104 1-162 1-104 1 34 1 45 1 23 1 60 1 0 1-24 1-53 1-69 1 177 1-75 1 50 1-52 1-67 1 32 1-54 1 137 1-136 1 137 1 73 1-153 1 186 1-138 1 10 1 14 1-21 1-24 1-67 1 122 1-9 1-118 1 108 1-45 1 34 1-41 1 91 1-109 1 233 1-244 1 102 1 13 1-118 1 40 1 44 1 13 1 68 1-98 1 19 1 74 1-101 1-85 1 32 1 26 1 61 1-44 1 3 1-65 1 47 1 60 1-30 1 61 1-19 1-4 1 77 1-150 1 126 1-65 1 3 1 68 1-213 1 152 1-24 1 23 1 21 1-46 1-30 1-1 1 77 1 0 1 25 1 28 1-184 1 38 1 24 1 95 1-109 1 125 1-132 1-97 1 128 1 18 1 38 1 41 1-148 1-9 1 17 1 74 1-50 1-74 1 97 1-7 1 69 1 38 1-171 1 97 1 39 1-32 1-77 1-27 1-107 1 33 1 128 1-241 1 279 1-79 1 64 1-56 1-172 1 334 1-204 1-21 1 147 1 53 1-69 1-48 1 228 1-170 1-50 1 84 1-152 1 192 1-75 1-123 1 84 1 5 1-2 1-22 1 69 1-19 1-45 1-49 1 182 1-156 1 31 1 73 1-72 1 75 1-103 1 97 1-53 1 69 1-11 1-72 1 93 1-103 1-55 1 99 1-89 1-7 1-13 1 75 1 56 1-89 1 101 1-34 1-37 1 54 1-8 1-25 1 41 1-71 1 88 1 33 1-70 1-53 1 20 1 48 1-116 1 147" fill="none" stroke="#bb00bf" stroke-width="0.6" vector-effect="non-scaling-stroke" stroke-linejoin="round" /></g><g clip-path="url(#c4)"><path transform="translate(47.0 0) scale(0.0249012 .1)" d="M0 4161l1-106 1 101 1-46 1-2 1-248 1 287 1 9 1-199 1 206 1-22 1-70 1-23 1 84 1 39 1-13 1-170 1 100 1 34 1-84 1 46 1 29 1 49 1 2 1-1 1-118 1 274 1-193 1 40 1-29 1 52 1-38 1 26 1-83 1 34 1-21 1-31 1 42 1 5 1-9 1 70 1-63 1-4 1-91 1 34 1 13 1 209 1-115 1-41 1 49 1-79 1-33 1 39 1 3 1 26 1-107 1 115 1 2 1-34 1 71 1-50 1 102 1-100 1 58 1-38 1-70 1 46 1-166 1 297 1-2 1-189 1 84 1-38 1-48 1 73 1-15 1 1 1 42 1-21 1 7 1-28 1-5 1 14 1-44 1 37 1-36 1-7 1 17 1 61 1 22 1-125 1-51 1 162 1-168 1 33 1 146 1-78 1-55 1 51 1 75 1-85 1 9 1 16 1-100 1 185 1-137 1-46 1 63 1 75 1 6 1-15 1-16 1 76 1-90 1-7 1-57 1 28 1 6 1 119 1-65 1 26 1-182 1-93 1 234 1 114 1 103 1-210 1-19 1 206 1-246 1 160 1-91 1 13 1-116 1 139 1-64 1-48 1 93 1-122 1 158 1-33 1 3 1 25 1-30 1-48 1 93 1-19 1 15 1 59 1-12 1-75 1-115 1-17 1-52 1 150 1 13 1-24 1-50 1-125 1 194 1-6 1 45 1-70 1 65 1-44 1 64 1-70 1-54 1-14 1 117 1-70 1-27 1 46 1-101 1 132 1 22 1-81 1 59 1 51 1-62 1 86 1-123 1 17 1 34 1 19 1 117 1-255 1 90 1 13 1-13 1-95 1 157 1-74 1 0 1-33 1 117 1-65 1 38 1-193 1 0 1 78 1 65 1-2 1 32 1-95 1 80 1-40 1-166 1 174 1 83 1-58 1 5 1 39 1 22 1-69 1 22 1-85 1 127 1-86 1 28 1-44 1-100 1 297 1-144 1 58 1-116 1-39 1 38 1 2 1 35 1 28 1-11 1 9 1 12 1 49 1-112 1-35 1 116 1-131 1 31 1 197 1-100 1-75 1-21 1-26 1 48 1 59 1-72 1 66 1 140 1-215 1 29 1-1 1-32 1 192 1-100 1-108 1-8 1 131 1-160 1 28 1 185 1-127 1 118 1-220 1 51 1 77 1-16 1-31 1 43 1-68 1 0 1 63 1-28 1 31 1 8 1-7 1-42 1 9 1 14 1-65 1-119 1 184 1 24 1-21 1-36 1 79 1-34 1-9 1 40 1 75 1-75 1-136 1 149 1-14 1-30 1 93 1-70 1 31 1-78 1-27 1-4 1 83 1-6 1-18 1 58 1-70 1-3 1 2 1-3 1 81 1-150 1 25 1-117 1 245 1-113 1-29 1 42 1 28 1-106 1 272 1-225 1-55 1 102 1 59 1-71 1-28 1-47 1 143 1 86 1-140 1 100 1-133 1 94 1-93 1-11 1 18 1 83 1-79 1 1 1 214 1-423 1 276 1-36 1 2 1-36 1 7 1 124 1-119 1 23 1 49 1-120 1 69 1-29 1 58 1-83 1 71 1 12 1-132 1 35 1 64 1 90 1-97 1 66 1-184 1 81 1 34 1 135 1-183 1-74 1 161 1 3 1-151 1 147 1-27 1-16 1-26 1-70 1 105 1-12 1 7 1 302 1-293 1 48 1-33 1 120 1-57 1-115 1 82 1-50 1-35 1 50 1 62 1-154 1 105 1-47 1 89 1-116 1 179 1-51 1-80 1-93 1-35 1 78 1 96 1-43 1 85 1-20 1-22 1-70 1 32 1-13 1-4 1 88 1-30 1-34 1-26 1 126 1-106 1-66 1 80 1-138 1 103 1-74 1 63 1 165 1-199 1-24 1 93 1-128 1 81 1 41 1 55 1-28 1-7 1-65 1-28 1 81 1-28 1 42 1 8 1-9 1 3 1-11 1-14 1 44 1 5 1-25 1 99 1-114 1 20 1 35 1-149 1 132 1 31 1 76 1-160 1 57 1-26 1-7 1 41 1-64 1-3 1 34 1-14 1-32 1-27 1 53 1-116 1 102 1 35 1-34 1 25 1-19 1 5 1-101 1 69 1 14 1-73 1 47 1 82 1-2 1-100 1 47 1-6 1-18 1 38 1 27 1-118 1 17 1 70 1-43 1 54 1-63 1 45 1-7 1-3 1-67 1 36 1 82 1 37 1-77 1-118 1 238 1-84 1-23 1-67 1-12 1 97 1-15 1 5 1 26 1-15 1-11 1 29 1-95 1 52 1-19 1 7 1 18 1-51 1 2 1 35 1-13 1 98 1-222 1 77 1-35 1 94 1 84 1-64 1-6 1-90 1 110 1-32 1-43 1 42 1 5 1 14 1-40 1 23 1 47 1-131 1 148 1-57 1 32 1-45 1-48 1-24 1 106 1-16 1 23 1-97 1 115 1-18 1 46 1-123 1 55 1 48 1-42 1-69 1 32 1 61 1-40 1 39 1-47 1-100 1 119 1-96 1 122 1-6 1-36 1 85 1-48 1-26 1-1 1 145 1-93 1-81 1 6 1-52 1 193 1-181 1 88 1-53 1-43 1 38 1 42 1 19 1-44 1 30 1-47 1 129 1-125 1 91 1-30 1-4 1-156 1 93 1 83 1-105 1 49 1 118 1-45 1-71 1 25 1-29 1-37 1 91 1-172 1 156 1-72 1 106 1-50 1 37 1-5 1 10 1-124 1 89 1-18 1-54 1 61 1 38 1 18 1-100 1 76 1-102 1 36 1 2 1 52 1 4 1-2 1-38 1 41 1-124 1 136 1-90 1 11 1 48 1 65 1-105 1 143 1-82 1-79 1-36 1 76 1 18 1-1 1-56 1 7 1-120 1 191 1-56 1 41 1 60 1-102 1-20 1 7 1 179 1-121 1-39 1 51 1-79 1 3 1 127 1-12 1-194 1 180 1-126 1 135 1-1 1 12 1-36 1-94 1 62 1-74 1-37 1 103 1 115 1-201 1 269 1-230 1 139 1 28 1-103 1 54 1-61 1-67 1 41 1 69 1-107 1 120 1-84 1-30 1 32 1 70 1-23 1 5 1-28 1-62 1-19 1 114 1-63 1 135 1-196 1 93 1-16 1-51 1 89 1 101 1-51 1-51 1 0 1-51 1 48 1-46 1 110 1-91 1 74 1-86 1-49 1 105 1-104 1 89 1 16 1-7 1-16 1-182 1 255 1-133 1 52 1-42 1 25 1-36 1 15 1-32 1 24 1 52 1 46 1-108 1 31 1-3 1-65 1 50 1 68 1-45 1-8 1-2 1 26 1-56 1 39 1-42 1 45 1-21 1-43 1 17 1 127 1-366 1 325 1-84 1 51 1-2 1-43 1 11 1 109 1-67 1 2 1 1 1 27 1-57 1-62 1 48 1 28 1 196 1-247 1 44 1-54 1 53 1 19 1 24 1-29 1-87 1 54 1 88 1-30 1-23 1 35 1-121 1 94 1-16 1 6 1 0 1 26 1 8 1-11 1-144 1 179 1-85 1-36 1-57 1 65 1 33 1-16 1 107 1-108 1-141 1 164 1-31 1 9 1 109 1-86 1-65 1 46 1 31 1 38 1-129 1 143 1-115 1 128 1-121 1 130 1-58 1 19 1-37 1-17 1 6 1 74 1-78 1 50 1-17 1-1 1-30 1-1 1-16 1-41 1 183 1-12 1 3 1-79 1-93 1 91 1-59 1-3 1 2 1 40 1 39 1-105 1 150 1-119 1 105 1-17 1 31 1-125 1 72 1-57 1 70 1-30 1-46 1 101 1-38 1 2 1-48 1-1 1 35 1-110 1 25 1 1 1 122 1 44 1-174 1 20 1 77 1-55 1 48 1-75 1 77 1 23 1-228 1 185 1 68 1-57 1-15 1 6 1-50 1 56 1 37 1 9 1-94 1-4 1-3 1 70 1-20 1-55 1-216 1 388 1-155 1-59 1-49 1 132 1 162 1-174 1 81 1 15 1-22 1-56 1-9 1-39 1-82 1 198 1-172 1 40 1 18 1 96 1-56 1-9 1 62 1-55 1 72 1-86 1-78 1 150 1-26 1-115 1 74 1-77 1 1 1 100 1 9 1-21 1-27 1 68 1-132 1 46 1 18 1 3 1-4 1 1 1 66 1 80 1-145 1-13 1-159 1 278 1-9 1-29 1-74 1-78 1 36 1 58 1-92 1-28 1 188 1 80 1-263 1 188 1-49 1 4 1-133 1 107 1 8 1-20 1-3 1 9 1-53 1 99 1 72 1-84 1-108 1 69 1 21 1 4 1-19 1 41 1 102 1-71 1-36 1-71 1 12 1 89 1-42 1-31 1 78 1 29 1-3 1-57 1-82 1 40 1 0 1 41 1 36 1 18 1-85 1 15 1-10 1 66 1-73 1-41 1 34 1 15 1 116 1-241 1 18 1 172 1 4 1-64 1 63 1-61 1 53 1-107 1 50 1 82 1 90 1-223 1 78 1 53 1-6 1-79 1-91 1 86 1 6 1-38 1-8 1-2 1-13 1 76 1 43 1-117 1 34 1 123 1-104 1-71 1 131 1-25 1 79 1-34 1 37 1-169 1 124 1-10 1-59 1-47 1 44 1 2 1-72 1 96 1-21 1 66 1-52 1 45 1-21 1-41 1 106 1-92 1 22 1 154 1-266 1 62 1 113 1 89 1-192 1 26 1-32 1 19 1-134 1 94 1 3 1-7 1 130 1-21 1-6 1 69 1-156 1 57 1-110 1 153 1-131 1-193 1 224 1 33 1-55 1 81 1 58 1-150 1 101 1-76 1 48 1 15 1 39 1 39 1-118 1 23 1 17 1-25 1-88 1 133 1-5 1 55 1-79 1-80 1 124 1 13 1-69 1 17 1-46 1 30 1-43 1 23 1-33 1 48 1 20 1-10 1 64 1-111 1 62 1-14 1-14 1 9 1 42 1-2 1-90 1-3 1-7 1 30 1 176 1-112 1-19 1-60 1 3 1 27 1-6 1 143 1-99 1-43 1-50 1-32 1 72 1 85 1 3 1-77 1-27 1-20 1 73 1 80 1-131 1 161 1-47 1-106 1-41 1 18 1 42 1 70 1-81 1 54 1-99 1 13 1-4 1 40 1 36 1 240 1-246 1-202 1 189 1-109 1-18 1 96 1-16 1-17 1 19 1 25 1 7 1 40 1 74 1-84 1 1 1-88 1 117 1-40 1 15 1-24 1 24 1-25 1-98 1 272 1-157 1-9 1 39 1 113 1-267 1 197 1-157 1 81 1-75 1 49 1 76 1-233 1 124 1-201 1 290 1-3 1-19 1 18 1-152 1 112 1 36 1-44 1-37 1 39 1 60 1-117 1 76 1 42 1-137 1 143 1-75 1-146 1 130 1 26 1 22 1 23 1 4 1-80 1 42 1-10 1 157 1-145 1 11 1 42 1-67 1 159 1-143 1 7 1 32 1-75 1 74 1-44 1-68 1 85 1-16 1-48 1 20 1 51 1-8 1-7 1-18 1 59 1-68 1-3 1-97 1 134 1-24 1-91 1 85 1-5 1 31 1 12 1-57 1-3 1 99 1-53 1-228 1 214 1 49 1-133 1 30 1 285 1-269 1 95 1-135 1 82 1 58 1-3 1 78 1-101 1-35 1 96 1-48 1-1 1-67 1 205 1-209 1 33 1-64 1 69 1-4 1 40 1-55 1 93 1-89 1-2 1 36 1 1 1 32 1-4 1-45 1 164 1-301 1 89 1-19 1 77 1-23 1-37 1 6 1 36 1 14 1-95 1 74 1-55 1 145 1-104 1 54 1-61 1-43 1 148 1-132 1 89 1-101 1 46 1 39 1-19 1-66 1 57 1-178 1 132 1-48 1 138 1-120 1 97 1-42 1 47 1 10 1-15 1-23 1 65 1-106 1 44 1 81 1-39 1-64 1 66 1-22 1 19 1 15 1-209 1 199 1-67 1 4 1-29 1-2 1 23 1-18 1 71 1-105 1 74 1-33 1 84 1-76 1 71 1-45 1 40 1 13 1-36 1-140 1 99 1-7 1-7 1-13 1 53 1 66 1-13 1-51 1-25 1 61 1-68 1 45 1 16 1-17 1 92 1-177 1 93 1-55 1 47 1-50 1 53 1-63 1 4 1-51 1 83 1 14 1 51 1-52 1 89 1 2 1-60 1-37 1 194 1-138 1 56 1-206 1 155 1-86 1-20 1 44 1-32 1 173 1-192 1 90 1 5 1 102 1-148 1-48 1 85 1-164 1 147 1-39 1 113 1-177 1 54 1-21 1 59 1 23 1-23 1 7 1 27 1-81 1-3 1 48 1-27 1 102 1-50 1 39 1-96 1 26 1-115 1 148 1 66 1-74 1 13 1 32 1-332 1 371 1-23 1 31 1-101 1-14 1-10 1 29 1-61 1-18 1-5 1 169 1-110 1 12 1-18 1-28 1 64 1-38 1-19 1 54 1 64 1-89 1 86 1-113 1 59 1-52 1 63 1-66 1 12 1 33 1-77 1 39 1 90 1-157 1 237 1-147 1 96 1-98 1 111 1-42 1-73 1 51 1-57 1-18 1 88 1-116 1 124 1 4 1-26 1 24 1-130 1 1 1 74 1-29 1 33 1-61 1 170 1-95 1-13 1-76 1-13 1 45 1 76 1-53 1-66 1 140 1 48 1-48 1 32 1-97 1 78 1-46 1-35 1 109 1-105 1-71 1 133 1-123 1 83 1-14 1-154 1 205 1-111 1 86 1 36 1-61 1-1 1 3 1-39 1 76 1-49 1-75 1 63 1 55 1-16 1 57 1 20 1-151 1-32 1 83 1-3 1 31 1-27 1-88 1 60 1 46 1-38 1-49 1 57 1-29 1-40 1 132 1-122 1 96 1 11 1 8 1-4 1-26 1-28 1-10 1-24 1-37 1 73 1 0 1 24 1 9 1-25 1 103 1-31 1-99 1 14 1 38 1-57 1 3 1 123 1-29 1-141 1-39 1 90 1 139 1-100 1 0 1-7 1 32 1-26 1 55 1-15 1-181 1 86 1 41 1 29 1-9 1-26 1-10 1 71 1-55 1 5 1 30 1-89 1 56 1-50 1 105 1-62 1-11 1 35 1-20 1-4 1-10 1 5 1-47 1 71 1-35 1 29 1 4 1 29 1-141 1 100 1 19 1 37 1-60 1 55 1-85 1 104 1-132 1 265 1-257 1 136 1-25 1-52 1-20 1 18 1-14 1 26 1 3 1-29 1 61 1 11 1-70 1-66 1 47 1 107 1-140 1 95 1-230 1 141 1 86 1-24 1-18 1 48 1 20 1 3 1-90 1 51 1-98 1 79 1 84 1-14 1-55 1-3 1 1 1-102 1 50 1 38 1 26 1 58 1 0 1-12 1-103 1 17 1 17 1 17 1 6 1-272 1 273 1 29 1-86 1 4 1 5 1 31 1-89 1 165 1-81 1 19 1-27 1 31 1 11 1-30 1 25 1-67 1-5 1 84 1-48 1-64 1-74 1 135 1-2 1 62 1-166 1 95 1-41 1 169 1-212 1 96 1-29 1-1 1 35 1-78 1 103 1-42 1-60 1 31 1 64 1 39 1-71 1-44 1 23 1-104 1 139 1 9 1-57 1-10 1 96 1-50 1-36 1 198 1-88 1-44 1 30 1 13 1-123 1 54 1 25 1 207 1-271 1-65 1 90 1 81 1 22 1 4 1-117 1 80 1-56 1 29 1-60 1 170 1-124 1 26 1-40 1-89 1 119 1-97 1 72 1 2 1-19 1 35 1-66 1 60 1-44 1 109 1-159 1 28 1 109 1 6 1-130 1 27 1-3 1 63 1-59 1 7 1 25 1-5 1 1 1 8 1 60 1-119 1 123 1-100 1 38 1 75 1-127 1 91 1-24 1-4 1 81 1 6 1-131 1-20 1 86 1-30 1 62 1-132 1 198 1-223 1 25 1 90 1-58 1 125 1 205 1-378 1 332 1-56 1-117 1-107 1-16 1 114 1-108 1 75 1-70 1-14 1 84 1 27 1-76 1 46 1-26 1-46 1 12 1 65 1-6 1-47 1 23 1-13 1 22 1 17 1-16 1-32 1 50 1-106 1 199 1-109 1-22 1-1 1-37 1 46 1-219 1 268 1-138 1 182 1-54 1-27 1-100 1 149 1-39 1 16 1-9 1-64 1 71 1-68 1 67 1-11 1-40 1-3 1-65 1 15 1-20 1 87 1-14 1-27 1 36 1-2 1-11 1 20 1-69 1 79 1 4 1 20 1-52 1 56 1-120 1 167 1-115 1 7 1-11 1 76 1-85 1 45 1-24 1-52 1 20 1 20 1 35 1 74 1-56 1-103 1 87 1-166 1 200 1-17 1-97 1 102 1-34 1-87 1 133 1-49 1-142 1 99 1 79 1-107 1 142 1-8 1 26 1-298 1 274 1-68 1 92 1-62 1 1 1 18 1 44 1-131 1 25 1 32 1 14 1-129 1 113 1-119 1 81 1 19 1 16 1 60 1-31 1 9 1 5 1-134 1 52 1-32 1 94 1 49 1-36 1 15 1-65 1 157 1-171 1 92 1-18 1 48 1-20 1-65 1 41 1-98 1 71 1 102 1-9 1-91 1-28 1-149 1 182 1-120 1 80 1-83 1 62 1-149 1 169 1-76 1 103 1 47 1-46 1-110 1 85 1-35 1 109 1 39 1-131 1-12 1 58 1-20 1-55 1 87 1 36 1-80 1-174 1 124 1 71 1-23 1 95 1-59 1-73 1 56 1 65 1-94 1 79 1-74 1 143 1-165 1 58 1 77 1-142 1 99 1-107 1-1 1 27 1 11 1 30 1-24 1 27 1-28 1-13 1-60 1 50 1 34 1 115 1 37 1-205 1 93 1 7 1 16 1-75 1 62 1-22 1 11 1-31 1-54 1 52 1 86 1-246 1 155 1-46 1-32 1 107 1-54 1 81 1 17 1-80 1 72 1-55 1 43 1-136 1 188 1-92 1-158 1 169 1 121 1-96 1-95 1-31 1 99 1-101 1 76 1 27 1-7 1 45 1-19 1 51 1-86 1 15 1 39 1-75 1 10 1-72 1 73 1-12 1-51 1 157 1-89 1 70 1-133 1 175 1-171 1 119 1-59 1 124 1-136 1 29 1-85 1 96 1-91 1 44 1-29 1 26 1 7 1 16 1 21 1 15 1 73 1-95 1-170 1 123 1 74 1-43 1 53 1-51 1 29 1 15 1-73 1 38 1-39 1-78 1 112 1 24 1 13 1-24 1-4 1 65 1-20 1-25 1 6 1-68 1 97 1-92 1 4 1-56 1-28 1 214 1-87 1-72 1 37 1 2 1-13 1 1 1 27 1-16 1 38 1-15 1 135 1-9 1-136 1 132 1-97 1 64 1-125 1 60 1-114 1-6 1 85 1 18 1-75 1-118 1 175 1 69 1-39 1 24 1-13 1 26 1-23 1-110 1 8 1 95 1 18 1-59 1-13 1 84 1-25 1-31 1 15 1 5 1-44 1 49 1 14 1 54 1-88 1 11 1-4 1-61 1 21 1 119 1-84 1 29 1-85 1 66 1 22 1-69 1 92 1-53 1-30 1 5 1-12 1 27 1 15 1-2 1-52 1 85 1-169 1 204 1-163 1 92 1 30 1-54 1-36 1 80 1-112 1 33 1 4 1-25 1 96 1 21 1-51 1-18 1-113 1 219 1 44 1-204 1 144 1-36 1-134 1 137 1 17 1-137 1 75 1 32 1-65 1 46 1 13 1 70 1-145 1-50 1 76 1 19 1 94 1-59 1 4 1-13 1-51 1 79 1-29 1-50 1 9 1 62 1-72 1-35 1 105 1-69 1-15 1 51 1 75 1 2 1-129 1-54 1 132 1-15 1 159 1-118 1-97 1 86 1-53 1 19 1 60 1-152 1 59 1 130 1-108 1-122 1 69 1-3 1-5 1-69 1 74 1 92 1-113 1 41 1 87 1-15 1 30 1-119 1 62 1-65 1 82 1-29 1 50 1 20 1-34 1 19 1-8 1-78 1 55 1-20 1 31 1 16 1-89 1 142 1-87 1-61 1 124 1-70 1 12 1-48 1 67 1-54 1-34 1 6 1 35 1-181 1 204 1-19 1-8 1-4 1 54 1 3 1-63 1-2 1-5 1 75 1-56 1-41 1 21 1 2 1 137 1-129 1-24 1 137 1-68 1 10 1 24 1 2 1-233 1 219 1-38 1 34 1-37 1-49 1 104 1-20 1-33 1 1 1-48 1 45 1-37 1 24 1-47 1 7 1 77 1-51 1-22 1-4 1 100 1-21 1-104 1 30 1 21 1-32 1 116 1-58 1-39 1-78 1 77 1 14 1-221 1 225 1 190 1-217 1 101 1-97 1 81 1-129 1 79 1 72 1-78 1 24 1-70 1 28 1 70 1-98 1 84 1-74 1 86 1-53 1-24 1 104 1-77 1 26 1 4 1-19 1-41 1 102 1-123 1-22 1 34 1 66 1 61 1-39 1-147 1 70 1-18 1 139 1 11 1-140 1 114 1-72 1 204 1-203 1-85 1 64 1 7 1 42 1-54 1 228 1-239 1 111 1-63 1-4 1 88 1-122 1-43 1 179 1-90 1 46 1-50 1 2 1 7 1-60 1 97 1-105 1 55 1 76 1-78 1-101 1 97 1 62 1 107 1-199 1-83 1 71 1-35 1 111 1-19 1-47 1 2 1 51 1-33 1-3 1-28 1-8 1 96 1-28 1-122 1 116 1-50 1 95 1 27 1-114 1-90 1 169 1-96 1 176 1-150 1 89 1-4 1-12 1-16 1 254 1-311 1 82 1-42 1-82 1-46 1 119 1 17 1 10 1 18 1 11 1-101 1 4 1 8 1 26 1 40 1-51 1 10 1-31 1-24 1 32 1 57 1 23 1-54 1 19 1-51 1-57 1 171 1-121 1-1 1 6 1 87 1-46 1 122 1-228 1 178 1-103 1-58 1 143 1 12 1-103 1 96 1-22 1-25 1-14 1 29 1-38 1-55 1 30 1 57 1-48 1 24 1-50 1-18 1 48 1-29 1-4 1 3 1 86 1-75 1 118 1-53 1-110 1 99 1-55 1 6 1-15 1 47 1 2 1-50 1 126 1-80 1 98 1-301 1 234 1-146 1-71 1 193 1 78 1-101 1 72 1-113 1 2 1-8 1 78 1 72 1-76 1 106 1-149 1-99 1 96 1 67 1 81 1-72 1-101 1-4 1 12 1 1 1 74 1-107 1 121 1-81 1-18 1 72 1 14 1-115 1 49 1 0 1-32 1-31 1 54 1 34 1-72 1 56 1 26 1-102 1 141 1-67 1-24 1 59 1 33 1-73 1 258 1-230 1 66 1-52 1 57 1-108 1 55 1-10 1-87 1 182 1-192 1 105 1 16 1-64 1 22 1-58 1 56 1-80 1 36 1 62 1-79 1 58 1 50 1-92 1 71 1-17 1 37 1-84 1 114 1-75 1 19 1-38 1 34 1 0 1-62 1 130 1-77 1-44 1 95 1-113 1 121 1-34 1-66 1 107 1 13 1-39 1-115 1 28 1 75 1-34 1-46 1 70 1 3 1 52 1 67 1-130 1 9 1-124 1 118 1 26 1-14 1-80 1 28 1 98 1-52 1-81 1 14 1 89 1-51 1 7 1-37 1-23 1 144 1 3 1-66 1 19 1-68 1 121 1-85 1 89 1-90 1 1 1-72 1 88 1 34 1 7 1-73 1 63 1-129 1 106 1-64 1 53 1-1 1-159 1 156 1-81 1 97 1 5 1-60 1 9 1-4 1 39 1 19 1-37 1-60 1 57 1 75 1 89 1-115 1-152 1 84 1 19 1-124 1 144 1 29 1 29 1 27 1-70 1-89 1 83 1-23 1 80 1-107 1 11 1 63 1 10 1-70 1 133 1-120 1-25 1 56 1-60 1-35 1 46 1 47 1 1 1 24 1-67 1-17 1 18 1-11 1 89 1-104 1 45 1 38 1 2 1-50 1-4 1-59 1 63 1 36 1-68 1 169 1-68 1-48 1 114 1-122 1-44 1 55 1-25 1 164 1-171 1 13 1-2 1 35 1-135 1 91 1 51 1 52 1-157 1-35 1 207 1-61 1-66 1 68 1-43 1 57 1-81 1 77 1-55 1 38 1 49 1-89 1-14 1 147 1-361 1 36 1 274 1-94 1-12 1-19 1 88 1 93 1-134 1 13 1-37 1 44 1-61 1 109 1 40 1-109 1 44 1-93 1 54 1-1 1-45 1 43 1-9 1-50 1 62 1-32 1-23 1-29 1 211 1-45 1-117 1 79 1-217 1 181 1 20 1 12 1-45 1 40 1-67 1 43 1 6 1-42 1-27 1 23 1-30 1-43 1 62 1 68 1-68 1-116 1 41 1 85 1-14 1 5 1 32 1 33 1-50 1 4 1 19 1 14 1 77 1-123 1-10 1 63 1-53 1-2 1 142 1-171 1 184 1-75 1 94 1-125 1-12 1-2 1-27 1-30 1 48 1-127 1 172 1-53 1-23 1 79 1-84 1 28 1 0 1 70 1-97 1 2 1 23 1 9 1 33 1-80 1 8 1 31 1-63 1 104 1 56 1-91 1 57 1-35 1-46 1 74 1-58 1 23 1-52 1 23 1 10 1 36 1 29 1-44 1 100 1-81 1-70 1 104 1-96 1 3 1 72 1-105 1 56 1 15 1-48 1 151 1-45 1-84 1-127 1 135 1 85 1-53 1-32 1 65 1-11 1-109 1 79 1 61 1-40 1-18 1-64 1-51 1 228 1-210 1 112 1 8 1-41 1 34 1-34 1 3 1-128 1 115 1 55 1 37 1-44 1-7 1-44 1 48 1-46 1 160 1-65 1-90 1-90 1 63 1 59 1-48 1 85 1-103 1 121 1-127 1 95 1-51 1-40 1-101 1 159 1-25 1-1 1 111 1-98 1-126 1 190 1-32 1-18 1 15 1-55 1-18 1 112 1 12 1-13 1-112 1 98 1-16 1-38 1-117 1 134 1-25 1 8 1-120 1 150 1-73 1 131 1-176 1 105 1 16 1-26 1-69 1 264 1-33 1-192 1 34 1 70 1-43 1-2 1-9 1-104 1 93 1 23 1 6 1 31 1-55 1-29 1 8 1 37 1 30 1-3 1-19 1-76 1 38 1 37 1-47 1 54 1-119 1 120 1-146 1 169 1-259 1 182 1 38 1-1 1-31 1-4 1 11 1-94 1 123 1-71 1 9 1 179 1-208 1 81 1 26 1-55 1 53 1-57 1 10 1 64 1 35 1 3 1-133 1 28 1-1 1-39 1 23 1-93 1 71 1 11 1 12 1 24 1-28 1 71 1-138 1 31 1 29 1 16 1-5 1-44 1 110 1-88 1 26 1 57 1-52 1 0 1 97 1 73 1-82 1-92 1-16 1-11 1-54 1 148 1-67 1 6 1-34 1-6 1 35 1-10 1-15 1-16 1 163 1-156 1-151 1 174 1-10 1 29 1-80 1 207 1-80 1 121 1-188 1 70 1-95 1 64 1 22 1 99 1-66 1-86 1 4 1-15 1 120 1-68 1-86 1 25 1 73 1-64 1-59 1 12 1 63 1 79 1-25 1-16 1 11 1-28 1 37 1 6 1-68 1-128 1 185 1-120 1 22 1 101 1-49 1-39 1 148 1-111 1-25 1 132 1-170 1 35 1 28 1 48 1-48 1 35 1 1 1 5 1-93 1 53 1 68 1-35 1-91 1 71 1-58 1 38 1 9 1-13 1 7 1-42 1 52 1-4 1-72 1 59 1 209 1-177 1 5 1-132 1 157 1 17 1-50 1-47 1 56 1-41 1 13 1-14 1-34 1-17 1 4 1 50 1 94 1-149 1 51 1 93 1-121 1 24 1 42 1 31 1-35 1-48 1 45 1-117 1 151 1 35 1-161 1 48 1 4 1 134 1-72 1 18 1 69 1-57 1-20 1-12 1-119 1 68 1-69 1 151 1-56 1 58 1-47 1-8 1-44 1 47 1 66 1 46 1-105 1-38 1 69 1-147 1 200 1-130 1-91 1 215 1-92 1 60 1-66 1-64 1-107 1 176 1-67 1 13 1 59 1 19 1-47 1 9 1 73 1-73 1-90 1 135 1-48 1 134 1-103 1-166 1 119 1 69 1-108 1 66 1-1 1 43 1-47 1-12 1 10 1-26 1 151 1-155 1 51 1 20 1 13 1 53 1-130 1 62 1 7 1-2 1-78 1-21 1 103 1-14 1-8 1-6 1-13 1 19 1 9 1-77 1 145 1-136 1-9 1 121 1-79 1 25 1 23 1-18 1-70 1 61 1-96 1 370 1-329 1 87 1-45 1 7 1-36 1 70 1-15 1-80 1 122 1-72 1-86 1 63 1 58 1-66 1 34 1 71 1-108 1-19 1 54 1-28 1-15 1 20 1 21 1 12 1 37 1-86 1 143 1-153 1 19 1-67 1 161 1-102 1 20 1 144 1-117 1 64 1-63 1 1 1 17 1-34 1-29 1 67 1-84 1 98 1-11 1-112 1 97 1-133 1 162 1-26 1 32 1-137 1 153 1-206 1 132 1-122 1 144 1-6 1-9 1-64 1 42 1 44 1-48 1 38 1-10 1 24 1-65 1-60 1 157 1-71 1 107 1-87 1 42 1-79 1 112 1-99 1 92 1-86 1 82 1-162 1 76 1-25 1 63 1-24 1-40 1 99 1-99 1 82 1-104 1 127 1-97 1 46 1-20 1 16 1 174 1-165 1 0 1-147 1 131 1 8 1-5 1 35 1-27 1-47 1 74 1-41 1 7 1 23 1-121 1 116 1-67 1-1 1 54 1 93 1 77 1-221 1 101 1-4 1-93 1 224 1-192 1-61 1-15 1 110 1 136 1-177 1-61 1 80 1 41 1-18 1-97 1 22 1-31 1 137 1-87 1 75 1-51 1 9 1 218 1-208 1 29 1-179 1 240 1-165 1 63 1 27 1-81 1 58 1 9 1-96 1 15 1 2 1 41 1-3 1 56 1-130 1 133 1 45 1-21 1-5 1-33 1-19 1-85 1 55 1 87 1-8 1-161 1 163 1-91 1-3 1-18 1-6 1-23 1 127 1-93 1-66 1 129 1 78 1-115 1-79 1 111 1 41 1-51 1-66 1-32 1 98 1 26 1-159 1 99 1 163 1-53 1-28 1-7 1-45 1-58 1-11 1 149 1-60 1 6 1-35 1 36 1-59 1 138 1-66 1-84 1 62 1-1 1-28 1 1 1 23 1-27 1 41 1-100 1 88 1-71 1 23 1-40 1 58 1-127 1 81 1 83 1 14 1-46 1 22 1-77 1 37 1 17 1 58 1-80 1 97 1-65 1-99 1 103 1 68 1-55 1 86 1-73 1-57 1 39 1-16 1-8 1-45 1 89 1-66 1 27 1 87 1-172 1 91 1-75 1 144 1-26 1 91 1-169 1 61 1-35 1-17 1 88 1-87 1 25 1 29 1-14 1-14 1 81 1-126 1 101 1-16 1-6 1-45 1 36 1 182 1-215 1 39 1-135 1 102 1 5 1 69 1 99 1-95 1-68 1 89 1-152 1 107 1-55 1-42 1 14 1 151 1-113 1-30 1 86 1-192 1 165 1-57 1 74 1 31 1-69 1-65 1 29 1 79 1-158 1 161 1-8 1-64 1-29 1 84 1-23 1-84 1 85 1-87 1 29 1 19 1 115 1-108 1 51 1 5 1-39 1-39 1-55 1-4 1 168 1-155 1 80 1-67 1 60 1 0 1 45 1-86 1-58 1 143 1-2 1 14 1-25 1 71 1 12 1-101 1-41 1 99 1-99 1 70 1 50 1-43 1 7 1-74 1 16 1-36 1 35 1-13 1 199 1-307 1 136 1-1 1-53 1 66 1-52 1 70 1-39 1-17 1 4 1 135 1-174 1 17 1 48 1-36 1 106 1-9 1 27 1-54 1-41 1 44 1 10 1-73 1 49 1-89 1 129 1-88 1 18 1 53 1-66 1 46 1-75 1-86 1 186 1-66 1 0 1 6 1-3 1-20 1-7 1 67 1 9 1-269 1 233 1 24 1-27 1 94 1-87 1 20 1-31 1 43 1 24 1-41 1-9 1 11 1 23 1-4 1-43 1-103 1 50 1 30 1-61 1 94 1-60 1 20 1 48 1-240 1 227 1 72 1-180 1 60 1 0 1 322 1-409 1 150 1-52 1 63 1-78 1 168 1-226 1 84 1 27 1-54 1 32 1 37 1 19 1-61 1-6 1 56 1-66 1 103 1-65 1 92 1-104 1-67 1 73 1-23 1-41 1 154 1-117 1-35 1 212 1-185 1-5 1 139 1-98 1 14 1-19 1 0 1 2 1-25 1 48 1-33 1 87 1-96 1 97 1-23 1 10 1-97 1-119 1 178 1-164 1 121 1 54 1-46 1-98 1 8 1 95 1 139 1-127 1-3 1 4 1-56 1-11 1 112 1-76 1-55 1 164 1-77 1 104 1-77 1-67 1 17 1-48 1 147 1-125 1 112 1-26 1-56 1 123 1-57 1 16 1-68 1-27 1 140 1-158 1 104 1-69 1 134 1-215 1 174 1-59 1-34 1 118 1-164 1 69 1 2 1 27 1-125 1 90 1 9 1 11 1 126 1-173 1 52 1-34 1-12 1 14 1-175 1 216 1-85 1-1 1 23 1 32 1-91 1-6 1 96 1-38 1 58 1-121 1 147 1-2 1 89 1-139 1 90 1-84 1 123 1-122 1-120 1 164 1-83 1 114 1 25 1-211 1 195 1-180 1 65 1 54 1-20 1-35 1-11 1 48 1-26 1 103 1-298 1 97 1 190 1-6 1-154 1 19 1 68 1 6 1-56 1 2 1 101 1-164 1 150 1 1 1 15 1-120 1-51 1 66 1-24 1 60 1-21 1 54 1 61 1-87 1-42 1 92 1 43 1-78 1-86 1 39 1-54 1 125 1 13 1-22 1-4 1-105 1 46 1 69 1-59 1 32 1 15 1-70 1 10 1 32 1-32 1 45 1 93 1-197 1 64 1-14 1 79 1-138 1 75 1 34 1 26 1-209 1 215 1-9 1-78 1 155 1-183 1 37 1 50 1 15 1 1 1-61 1 118 1-74 1-67 1-89 1 87 1 78 1-44 1 11 1 59 1-78 1 47 1-29 1 6 1-15 1 36 1-51 1 46 1-48 1 25 1-59 1 76 1-124 1 200 1-69 1-4 1-106 1 38 1 34 1-29 1 41 1 50 1-231 1 176 1-34 1 10 1 40 1-191 1 217 1-50 1 20 1-19 1-63 1 92 1 38 1-37 1-28 1 64 1 89 1-133 1-27 1 68 1-2 1 36 1-48 1-106 1 37 1 6 1 130 1-103 1 29 1-132 1 332 1-267 1 231 1-167 1 85 1-121 1-70 1 165 1-97 1-17 1 48 1-24 1-7 1-39 1 63 1-43 1-1 1-25 1 41 1 112 1-80 1 14 1-186 1 337 1-99 1-22 1-49 1-27 1 38 1-38 1-35 1 77 1-25 1 61 1 71 1-86 1 98 1-71 1-104 1 113 1 8 1-37 1-52 1-1 1-30 1 19 1 79 1-92 1 38 1 146 1-154 1-34 1-16 1 3 1 74 1 59 1-124 1 58 1-55 1-38 1 101 1-61 1 33 1 82 1-105 1 185 1-79 1-67 1-35 1 225 1-248 1 136 1-115 1-84 1 191 1-64 1-2 1-84 1-5 1 69 1 26 1 62 1-62 1-21 1 90 1-71 1-26 1-21 1 36 1-59 1 163 1-224 1 183 1 157 1-211 1 0 1-148 1 122 1-84 1 95 1-13 1 32 1 65 1-91 1 35 1 32 1-90 1 4 1 54 1 4 1-29 1-63 1 62 1 69 1-135 1 75 1-50 1-65 1 130 1-85 1 107 1 7 1-16 1-33 1 25 1-37 1 186 1-172 1-77 1 45 1 14 1-2 1 51 1-85 1 61 1 32 1-86 1-45 1 103 1 70 1-122 1 13 1 19 1 37 1 37 1-78 1-15 1 17 1-1 1-94 1 18 1-20 1-29 1 181 1-73 1-22 1 79 1-225 1 244 1-25 1-135 1-41 1 220 1-86 1 74 1-125 1 190 1-78 1-100 1-16 1 83 1-172 1 212 1-11 1-143 1 157 1-145 1 127 1 4 1 42 1-106 1 67 1-36 1 43 1-248 1 234 1-148 1 59 1 83 1-27 1-32 1 22 1-59 1 26 1 160 1-91 1 5 1 10 1 68 1-117 1-55 1-52 1 90 1-80 1 122 1 7 1-35 1 30 1-53 1-9 1 17 1-6 1-35 1 50 1 37 1-41 1 46 1-43 1 27 1-27 1 15 1 46 1-107 1-21 1 14 1-25 1 161 1-19 1-97 1 35 1 22 1-50 1 69 1 33 1-132 1 92 1-59 1 228 1-146 1 46 1-122 1 44 1-13 1 17 1 2 1 7 1-69 1 30 1-80 1 192 1-72 1-13 1-7 1-90 1 8 1-15 1 39 1 140 1-100 1-103 1 191 1-25 1 25 1-151 1 60 1 128 1-89 1-32 1-226 1 197 1 42 1 26 1 89 1-187 1 93 1 21 1-17 1-13 1-98 1 205 1-149 1 58 1-57 1 144 1-147 1 15 1 66 1 9 1 69 1-88 1-99 1 136 1-9 1-68 1 131 1-167 1 26 1-57 1 70 1 48 1-83 1 24 1-24 1 29 1 33 1-59 1 6 1 95 1-129 1-41 1 31 1 86 1 50 1-114 1 38 1 75 1-64 1-73 1 5 1 90 1 8 1 6 1-74 1-19 1-2 1 25 1 21 1-131 1 212 1 13 1-130 1 38 1-92 1 382 1-321 1 80 1-40 1 21 1 25 1-30 1 83 1 27 1-36 1-145 1 13 1 31 1 31 1-54 1 0 1 239 1-226 1 37 1-58 1 17 1-54 1 114 1 45 1-88 1 63 1-238 1 160 1 7 1 58 1-39 1-10 1-99 1 21 1 6 1 48 1 46 1 54 1-66 1-1 1-54 1-11 1 50 1-32 1 44 1 21 1-8 1 58 1-73 1-61 1 172 1-175 1 43 1 105 1-77 1-22 1-113 1 198 1-97 1 51 1-107 1 86 1 13 1-23 1 61 1 3 1-29 1-22 1 139 1-171 1 24 1 0 1-79 1 64 1 28 1 81 1-107 1 22 1-16 1 24 1 0 1-13 1-29 1 3 1 8 1 14 1 23 1 60 1-234 1 232 1-135 1 24 1 86 1-104 1 163 1-231 1 229 1-142 1 40 1 32 1-274 1 256 1-36 1-131 1 277 1-135 1-27 1-3 1 19 1 35 1-22 1-20 1 7 1 0 1-40 1 51 1-25 1 8 1-101 1 62 1 7 1 19 1-13 1 140 1 48 1-193 1 113 1-112 1-99 1 136 1-78 1 36 1-17 1 70 1-25 1 14 1 62 1-17 1-2 1-43 1-43 1 18 1 105 1 75 1-121 1-104 1 44 1-11 1 146 1-139 1-125 1 221 1-8 1-64 1 94 1-85 1 108 1-68 1-34 1 45 1-102 1 238 1-174 1-50 1-14 1 93 1-56 1-58 1 105 1 49 1-79 1-208 1 177 1 18 1-108 1 138 1-85 1 80 1-39 1 44 1-45 1 29 1 42 1-8 1-235 1 157 1 51 1 7 1-33 1 15 1-37 1 59 1-103 1 111 1-22 1-49 1-10 1-7 1 15 1 51 1-95 1 128 1 1 1-45 1 31 1 26 1-279 1 260 1-83 1 27 1 12 1 97 1-108 1 161 1-132 1-65 1 60 1 2 1-74 1-53 1 121 1-19 1-132 1 95 1 57 1 123 1-171 1 48 1-24 1 316 1-184 1-111 1-30 1 14 1 84 1-117 1 73 1 41 1 129 1-104 1-258 1 150 1 28 1 12 1-29 1-20 1 36 1-34 1-54 1 89 1 53 1-87 1 49 1 6 1 118 1-166 1 0 1-21 1 60 1 27 1-45 1-70 1 73 1 105 1-84 1-111 1 120 1-112 1 41 1 76 1-323 1 249 1-24 1-6 1-34 1 0 1-14 1 114 1-19 1 12 1-58 1 102 1 189 1-209 1-95 1 17 1 21 1 51 1 2 1 32 1-20 1 8 1-23 1-66 1 184 1-110 1 38 1-91 1 57 1-45 1-27 1 0 1 80 1-13 1-18 1-48 1 50 1-12 1 27 1-71 1 54 1 15 1-56 1 58 1-27 1 49 1 17 1-31 1-155 1 247 1-140 1-3 1 89 1-60 1 6 1-55 1 9 1 40 1-39 1 91 1-61 1 31 1-26 1 50 1-102 1 150 1-71 1-85 1 107 1-86 1 101 1-185 1 162 1-12 1 49 1-96 1 60 1 100 1-102 1 12 1 32 1-49 1-43 1-10 1 109 1-103 1-22 1-29 1 117 1 14 1-110 1 40 1 103 1-107 1 29 1 32 1-71 1 54 1-52 1 71 1 95 1-173 1-34 1 91 1-57 1 52 1-38 1 52 1-30 1 53 1-160 1 74 1-44 1 28 1 49 1-11 1 100 1-51 1-48 1 63 1-60 1-129 1 138 1-111 1 117 1-38 1 5 1 26 1 29 1-32 1 7 1-51 1 67 1 32 1-50 1 35 1-23 1 28 1 12 1-135 1 68 1-25 1 32 1-3 1-53 1 53 1 74 1-120 1 176 1 4 1-203 1-14 1 77 1-21 1 77 1-40 1-117 1 76 1 28 1-151 1 146 1 116 1-52 1-63 1-5 1 21 1-58 1 56 1 62 1-76 1-1 1 64 1-92 1-61 1-16 1 42 1 183 1-77 1-131 1 60 1-2 1 52 1 63 1-19 1-143 1 92 1-43 1 9 1 8 1-242 1 173 1 59 1 95 1 33 1-108 1-37 1 44 1-37 1 78 1 59 1-108 1 25 1 7 1-105 1-14 1 131 1-80 1 59 1-86 1 13 1 69 1-102 1 85 1 177 1-219 1 34 1-56 1 20 1-2 1-8 1 172 1-163 1 63 1 3 1-83 1 72 1-26 1-8 1 39 1-21 1 6 1-27 1 93 1-75 1 39 1 4 1-58 1-11 1 159 1-85 1 11 1-71 1 49 1-3 1 22 1-107 1 44 1 66 1-8 1 35 1 0 1-359 1 349 1 10 1-125 1 105 1-119 1 102 1-21 1 8 1-155 1 115 1 36 1-35 1 152 1-172 1 55 1 21 1-21 1-66 1 22 1 20 1 14 1-73 1 127 1-5 1-138 1 156 1-106 1 175 1-117 1-3 1-110 1 79 1 32 1-101 1 67 1 80 1 37 1-180 1 110 1-103 1 117 1-59 1-17 1 33 1-24 1 14 1 42 1-98 1 50 1-5 1 10 1-101 1 61 1-47 1-84 1 199 1-38 1 8 1 79 1-88 1 18 1 0 1-12 1 35 1 8 1-58 1 18 1-23 1 57 1-21 1 24 1-74 1 137 1-70 1 36 1-130 1 103 1-20 1-78 1 83 1 12 1 20 1-39 1-1 1 50 1-22 1 32 1-164 1 111 1-118 1 167 1 53 1-123 1-65 1 141 1-188 1 82 1-58 1 99 1-2 1-134 1 141 1-69 1 91 1 4 1 2 1-1 1-100 1 28 1-64 1 74 1 107 1-85 1-56 1-39 1 128 1-29 1 3 1 22 1 5 1-22 1-59 1 89 1-136 1 28 1-33 1 21 1 12 1 65 1 49 1-174 1 124 1-3 1 34 1-23 1 78 1-192 1 148 1-16 1-7 1 3 1-2 1-131 1 175 1-65 1 87 1-187 1 119 1 60 1-39 1 7 1-30 1-23 1-86 1 28 1 50 1-14 1-16 1-7 1 26 1-6 1 13 1-25 1-26 1 154 1-74 1 6 1-140 1 141 1-7 1 21 1-58 1 59 1-62 1 52 1 27 1-87 1 156 1-120 1 59 1-73 1 27 1-120 1 181 1-75 1 125 1-106 1-50 1 38 1-46 1-62 1 184 1-117 1 22 1 111 1-56 1-20 1-22 1-46 1-22 1 72 1 97 1-56 1-137 1 149 1-135 1 13 1 41 1-36 1 136 1-20 1-82 1 34 1 41 1 9 1 43 1 3 1-50 1-16 1-48 1-83 1 119 1-34 1 23 1-19 1 9 1-128 1 22 1 139 1-5 1-106 1 126 1-220 1 202 1-159 1-48 1 170 1-94 1 77 1-104 1 267 1-122 1-39 1 72 1-44 1 51 1-23 1-100 1 108 1-45 1-39 1-66 1 97 1-51 1 85 1 81 1-105 1 0 1-42 1 5 1 66 1-29 1 58 1-122 1 90 1 25 1-61 1 36 1-9 1-43 1 27 1 50 1-60 1 15 1-52 1 124 1 118 1-26 1 20 1-130 1-235 1 268 1-74 1-3 1-51 1 27 1 6 1 45 1 23 1-69 1 14 1-39 1-45 1-52 1 121 1 56 1 106 1-143 1-72 1 97 1-138 1 63 1-43 1 115 1-92 1 170 1-115 1-60 1-30 1 80 1-112 1 58 1 64 1-1 1-22 1-37 1 13 1 41 1-24 1 60 1-15 1 68 1-161 1 40 1 155 1-142 1 5 1-6 1-33 1 38 1-11 1 61 1 34 1 23 1-105 1-59 1 241 1-159 1-67 1 21 1 88 1-126 1 48 1 73 1-49 1 2 1-42 1 59 1-25 1 48 1-12 1 16 1-87 1 70 1-43 1 92 1-145 1 138 1-38 1-95 1 78 1-86 1 99 1-26 1-102 1 63 1-106 1 250 1-220 1 136 1 111 1-95 1-61 1-99 1 140 1 15 1 42 1-47 1-40 1 0 1 27 1-90 1 20 1 22 1 27 1 40 1-39 1-6 1 26 1 34 1 62 1-181 1 1 1-27 1 197 1-158 1-52 1 71 1-4 1-21 1 60 1 67 1-125 1 28 1-18 1 47 1-31 1 188 1-155 1-10 1 19 1-52 1 108 1-77 1-17 1-17 1 68 1 61 1-51 1-28 1-58 1 65 1-37 1 31 1-47 1 71 1 13 1-79 1-96 1 132 1 151 1-45 1 33 1-150 1 80 1-96 1 57 1-19 1-15 1 113 1-226 1 130 1 36 1-78 1 73 1-97 1 5 1 59 1-110 1 108 1-44 1-76 1 179 1-141 1 89 1 17 1 143 1-150 1 91 1-86 1-77 1 65 1-51 1 50 1-1 1-51 1 79 1-96 1 64 1 46 1-61 1 11 1-39 1-4 1 48 1-245 1 294 1-78 1 193 1-188 1-37 1-2 1 48 1 59 1-97 1 29 1-9 1-25 1 119 1-19 1 16 1 11 1-41 1 18 1 86 1-145 1 22 1 53 1-1 1-28 1-65 1 87 1-32 1 39 1-24 1-83 1 0 1 55 1-78 1 67 1-11 1 37 1 118 1-183 1 69 1-99 1 131 1-125 1 72 1 1 1 75 1 35 1-89 1-71 1 40 1 21 1 57 1-35 1-70 1 54 1 16 1 15 1-131 1 71 1 31 1-18 1-36 1 46 1 116 1-19 1-15 1-194 1 161 1 10 1-155 1 5 1 6 1 100 1-28 1-6 1 46 1-46 1-54 1 72 1-103 1 85 1 11 1-2 1-99 1 179 1-189 1 62 1 29 1 30 1-100 1 8 1 58 1 12 1 42 1-65 1 48 1-66 1-30 1 28 1 85 1-34 1 101 1-84 1 90 1-262 1 76 1 169 1-212 1 88 1 37 1-46 1-4 1-33 1 49 1-38 1 59 1-112 1 151 1-69 1-16 1 92 1 39 1-111 1-44 1 146 1 9 1-61 1-135 1 42 1 267 1-215 1-15 1 17 1-88 1 178 1-23 1-31 1 28 1-73 1-75 1 103 1-67 1 72 1-25 1 56 1-129 1 77 1-27 1-5 1 4 1 22 1 34 1-1 1-79 1-11 1 130 1 56 1-52 1-70 1-32 1 70 1-53 1-64 1 48 1-4 1 76 1 18 1 41 1-73 1 144 1-227 1 23 1 112 1-43 1-61 1 7 1-33 1 28 1-14 1 153 1 25 1-158 1-125 1 121 1-54 1 132 1 6 1-99 1-34 1 116 1-62 1 102 1 5 1 4 1-22 1-33 1-42 1 8 1 113 1-95 1 77 1-39 1-118 1 94 1 6 1-124 1 179 1-54 1-76 1-57 1 43 1 30 1-4 1-61 1 29 1 205 1-258 1 66 1 20 1 45 1-75 1 77 1-179 1 247 1-300 1 109 1 66 1-9 1 93 1-37 1-52 1 9 1 52 1 29 1-24 1 6 1-21 1 24 1 93 1-132 1 9 1-45 1 33 1-6 1 22 1 34 1-38 1-38 1-14 1 21 1 54 1-68 1 63 1 83 1-46 1-118 1 45 1 48 1 171 1-285 1-14 1 112 1 29 1 5 1-102 1 87 1-66 1 6 1 64 1 120 1-105 1-63 1-34 1-129 1 203 1 4 1-45 1 24 1 7 1-80 1 48 1-57 1 76 1 149 1-146 1-84 1 77 1 16 1-77 1-8 1 161 1 176 1-466 1 180 1-69 1 161 1-117 1 107 1 5 1-61 1-195 1 207 1 36 1-42 1 65 1-82 1 23 1-54 1 13 1 53 1 48 1-73 1 143 1-139 1 11 1-82 1 67 1 31 1-52 1 57 1-55 1-24 1 69 1-2 1-55 1 30 1-48 1 36 1-8 1 90 1-62 1-10 1-63 1 131 1-58 1-91 1 45 1 30 1-6 1-9 1-11 1 26 1 64 1 3 1 117 1-140 1-83 1-91 1 151 1-76 1 21 1-11 1 86 1-1 1 13 1-125 1 24 1 94 1-99 1 44 1 98 1-140 1 1 1 96 1-84 1 105 1-72 1-25 1-15 1-7 1 123 1-117 1-97 1-9 1 234 1-65 1-61 1 147 1-180 1 46 1 19 1 5 1-140 1 230 1-97 1 1 1 66 1-2 1-75 1-46 1 67 1 14 1 69 1-171 1 76 1-38 1 106 1-78 1 125 1-58 1-94 1 190 1 12 1-168 1 36 1-177 1 159 1-123 1 193 1-130 1-6 1 105 1 16 1-99 1-17 1 172 1-134 1 56 1-50 1 53 1-38 1-102 1 112 1-3 1 24 1-51 1 130 1-173 1 180 1-113 1 7 1 19 1-103 1 66 1 17 1 29 1-115 1 172 1-117 1 54 1-56 1 41 1-104 1 64 1 53 1 63 1 33 1-118 1-17 1 16 1 41 1-69 1-81 1 64 1-25 1 15 1-2 1 42 1-70 1 40 1 47 1-72 1 47 1 14 1 77 1-59 1-90 1 111 1-157 1 154 1-154 1 175 1-103 1 128 1-178 1 195 1-211 1 37 1 65 1 19 1 1 1 5 1 118 1-241 1 87 1 41 1 2 1-26 1-8 1-60 1 5 1 10 1 115 1-34 1-70 1 68 1-81 1 140 1-74 1-16 1 37 1-4 1-28 1 19 1-93 1-4 1 55 1 82 1-107 1-162 1 101 1 146 1-61 1 50 1-58 1 101 1-115 1-36 1-2 1 115 1 24 1-29 1-69 1 104 1-38 1-32 1-27 1 140 1-161 1-88 1 163 1 10 1 18 1-52 1 155 1-133 1-16 1-29 1-48 1 18 1-3 1 74 1 73 1-38 1-53 1 33 1-54 1 39 1 23 1 76 1-73 1-67 1-5 1 62 1 34 1-139 1 147 1-73 1-29 1-64 1 107 1 4 1-100 1 59 1-34 1 22 1 111 1-57 1 7 1 131 1-187 1 67 1-19 1 8 1-36 1 49 1-123 1-49 1 156 1-15 1-4 1 120 1-120 1-10 1 23 1-13 1-35 1 18 1 88 1-54 1-5 1-98 1 60 1 155 1-79 1-20 1 20 1-202 1 190 1 42 1-71 1 23 1-2 1-22 1 67 1-62 1-27 1 51 1-109 1 82 1 50 1-118 1 66 1-16 1-19 1 1 1-2 1-79 1 133 1-1 1-4 1-13 1 28 1 19 1-65 1 74 1 53 1-34 1-131 1 22 1 58 1-59 1 43 1-23 1-15 1 54 1-30 1 75 1-38 1-32 1 4 1 33 1-8 1-94 1 87 1 38 1-60 1-30 1-35 1 33 1 63 1-157 1 159 1 6 1-35 1-36 1-39 1 57 1 65 1 28 1-63 1-13 1-17 1 56 1 26 1-21 1-73 1 44 1-99 1-38 1 53 1 88 1 28 1 20 1 29 1-13 1-96 1 98 1-112 1-31 1 59 1 1 1-27 1-123 1 161 1-91 1 74 1-21 1 38 1-59 1 79 1-116 1-55 1 122 1 27 1 27 1 18 1-100 1 53 1 13 1-67 1 87 1 24 1-104 1-101 1 222 1-166 1 122 1 63 1-85 1-73 1-82 1 213 1 97 1-222 1 11 1 60 1-29 1 263 1-276 1-58 1 45 1 15 1-98 1 149 1 55 1-49 1 2 1 4 1-127 1 112 1-26 1-59 1-11 1 44 1-11 1-17 1 154 1-177 1-25 1 126 1 14 1-46 1 2 1-60 1 22 1 33 1 4 1 9 1 85 1-67 1-79 1 59 1-111 1 154 1-56 1-41 1 143 1-169 1 124 1-40 1-84 1 50 1 19 1-15 1-29 1 51 1 13 1-84 1-75 1 235 1-6 1-94 1 10 1-23 1-60 1 84 1-33 1-1 1 72 1 15 1-66 1 17 1 39 1-36 1-73 1 9 1 92 1-189 1 195 1-19 1 18 1-100 1 10 1-31 1-13 1 65 1 33 1-23 1-59 1 184 1-204 1 82 1-30 1 108 1-109 1 82 1-60 1 12 1 0 1-99 1 47 1 129 1-91 1 69 1-76 1 20 1 35 1 31 1 38 1-69 1 14 1-22 1-65 1-1 1 87 1 91 1-179 1-78 1 87 1-65 1 62 1-13 1-24 1 43 1-65 1 171 1-78 1 3 1-30 1 41 1-15 1 52 1 8 1-92 1 57 1-18 1 61 1-62 1 11 1-15 1 5 1-51 1-9 1 7 1-13 1 65 1 17 1 32 1-187 1 108 1-12 1 137 1-125 1-16 1 50 1-57 1 149 1-24 1-34 1-56 1-23 1 30 1-9 1 142 1-84 1-47 1-25 1-15 1 32 1-17 1-142 1 126 1 17 1 32 1 34 1 28 1-119 1 0 1 81 1-104 1 154 1-53 1 6 1-9 1 59 1-135 1 55 1-21 1 138 1-184 1 41 1 24 1-43 1 23 1-42 1 157 1 49 1-123 1-8 1-60 1 116 1 7 1-73 1-59 1 104 1-50 1-5 1-41 1 47 1-74 1 216 1-56 1-105 1 72 1-10 1 25 1-63 1 1 1-23 1-76 1 76 1-30 1 64 1-69 1 50 1 45 1 11 1-108 1 62 1 93 1-187 1 57 1 47 1 128 1-134 1 23 1-11 1-149 1 125 1 4 1 32 1-3 1-15 1 100 1-159 1 45 1-33 1 36 1-97 1 92 1 16 1-15 1 91 1 140 1-210 1-29 1 72 1-73 1 27 1-14 1-8 1 55 1-90 1 74 1-93 1 161 1-86 1-47 1 105 1-100 1 61 1 74 1-77 1-17 1 6 1-31 1 23 1-38 1-19 1-94 1 99 1-12 1 87 1-63 1 57 1-18 1-3 1-30 1 14 1 83 1-75 1-55 1 63 1 132 1-146 1 58 1-65 1-161 1 206 1 5 1-99 1 87 1 123 1-126 1 44 1-191 1 132 1-62 1-4 1-18 1 199 1-118 1 71 1 108 1-150 1-13 1 14 1 78 1-114 1-46 1 70 1 6 1-74 1-45 1 181 1-76 1 28 1 52 1-9 1-78 1-56 1 44 1-26 1 76 1-5 1-109 1 202 1-150 1-17 1-8 1 88 1-79 1-14 1 67 1 32 1-17 1 40 1-48 1-1 1 5 1 0 1-128 1 126 1-185 1 116 1 71 1-48 1-101 1 119 1-19 1 3 1 73 1 7 1-84 1 5 1 11 1-24 1 49 1 38 1-85 1-105 1 150 1-59 1 71 1-37 1 15 1 6 1-30 1-25 1 108 1-88 1 19 1-5 1 17 1-17 1-9 1 20 1-34 1-37 1 102 1-14 1 58 1-123 1 4 1-48 1 299 1-175 1 38 1-43 1-66 1 31 1-92 1 171 1-53 1 61 1-238 1 98 1-25 1 109 1 120 1 94 1-264 1 78 1-88 1 35 1 11 1 30 1-5 1-104 1-15 1 78 1 0 1 0 1 12 1 106 1-79 1-32 1 55 1-109 1 100 1 4 1-34 1 19 1 74 1 67 1-116 1-41 1 20 1-77 1-17 1 175 1-104 1-70 1 52 1-18 1-79 1 156 1-48 1-79 1 148 1-128 1 6 1 39 1 18 1-133 1 142 1 77 1-83 1 79 1-108 1 45 1-113 1 99 1-48 1 35 1 101 1-126 1 306 1-242 1 112 1-204 1 94 1-75 1 21 1 14 1-7 1-30 1 53 1-5 1 8 1 2 1-15 1-48 1-66 1 2 1 30 1-9 1 96 1-34 1 76 1-35 1-91 1 52 1-5 1 59 1-59 1-21 1 74 1-3 1 46 1-61 1-26 1-45 1 161 1-168 1 14 1 9 1 27 1-47 1 42 1 159 1-196 1 13 1 125 1-127 1 113 1-80 1 30 1 45 1-181 1 22 1 78 1-32 1 80 1-44 1 26 1-62 1-19 1 134 1-356 1 358 1-62 1-70 1-30 1 102 1-113 1 64 1 204 1-199 1 25 1-33 1-69 1 276 1-136 1 54 1-145 1 160 1-132 1 130 1-94 1-6 1 33 1-44 1-1 1 43 1-35 1-100 1 137 1-17 1 92 1-62 1-35 1-71 1 120 1 33 1-289 1 191 1-227 1 158 1 81 1 84 1-45 1-102 1 72 1-26 1 23 1-22 1 5 1 25 1-62 1 38 1 53 1 8 1-42 1 7 1-27 1 64 1-2 1 61 1-80 1-127 1 6 1 178 1-176 1 10 1 116 1-109 1 56 1-17 1-31 1 96 1 90 1-237 1 96 1 19 1 39 1-72 1 84 1-101 1-1 1 27 1 29 1-2 1-48 1 99 1-52 1-96 1 18 1 40 1 118 1-29 1-97 1 18 1 87 1-82 1-81 1 73 1 17 1 66 1-37 1-20 1 14 1-11 1 3 1 4 1-28 1 7 1-3 1 52 1-41 1-24 1 17 1-30 1 61 1-4 1 57 1-110 1 94 1-1 1-27 1-22 1-21 1 44 1-58 1 51 1-7 1-103 1 63 1 95 1-187 1 142 1-7 1 28 1-98 1 12 1 93 1-92 1 52 1-14 1-35 1-37 1 5 1 6 1-9 1 49 1 31 1 44 1 28 1-92 1 125 1-127 1 69 1-21 1 64 1-177 1 133 1-25 1-39 1 54 1-44 1-15 1 64 1 61 1-200 1-31 1 104 1-20 1-11 1 50 1 55 1-86 1 64 1-40 1 33 1-88 1 63 1-15 1-33 1 61 1 13 1-24 1-2 1-59 1 26 1 41 1-82 1 121 1-76 1 17 1-15 1 103 1-135 1 38 1-91 1 31 1 15 1 75 1-50 1 69 1 34 1-76 1-9 1 18 1-28 1-7 1 110 1 27 1-66 1-48 1-54 1 137 1-131 1 109 1-93 1 39 1-33 1 53 1-246 1 177 1 78 1-33 1 34 1-53 1-31 1-49 1 170 1-61 1-62 1 56 1-20 1 34 1-53 1-38 1 62 1-107 1 155 1-35 1 61 1-14 1-68 1 137 1-162 1 68 1-12 1-72 1 72 1-36 1 64 1-55 1 15 1 95 1-103 1 5 1 5 1-66 1 95 1-1 1 17 1-58 1 49 1 47 1 17 1-87 1 22 1-182 1 72 1-55 1 170 1 2 1-54 1-25 1 41 1-70 1 113 1-38 1 45 1-90 1 127 1-48 1-18 1-47 1 63 1 20 1-84 1 89 1-117 1 128 1-106 1-13 1 46 1 8 1-2 1 7 1 23 1-25 1-75 1 211 1-203 1 131 1-129 1 67 1 47 1-89 1 40 1 19 1-24 1 150 1-274 1 92 1 54 1-28 1-78 1 47 1 50 1 66 1-66 1-56 1 187 1-212 1 103 1 64 1-111 1 7 1 124 1-49 1-38 1 49 1-169 1 69 1-38 1-31 1 139 1-61 1 112 1-95 1-139 1 131 1 4 1-80 1 56 1 68 1-67 1 12 1 9 1-104 1 64 1 42 1-9 1-83 1 6 1 156 1-82 1-8 1 86 1-69 1 282 1-222 1-72 1-26 1 42 1-36 1 89 1-60 1 26 1 12 1 38 1-74 1 52 1-118 1-32 1 129 1-27 1 1 1-90 1 50 1 39 1-26 1 71 1 25 1-116 1 22 1 56 1-10 1-61 1 13 1 6 1 32 1-1 1-28 1 97 1-178 1 95 1-45 1 92 1-20 1-38 1 35 1-14 1-15 1-94 1 54 1 30 1 54 1-24 1 130 1-145 1-19 1 1 1 67 1-76 1-177 1 313 1-161 1 205 1-246 1 150 1-142 1 71 1-74 1 107 1-78 1 45 1-23 1 25 1 77 1-103 1 20 1 16 1-64 1 90 1-86 1 108 1 14 1-68 1 103 1-78 1-111 1 80 1 3 1-74 1 78 1 3 1 11 1 10 1-29 1-29 1 104 1-236 1 231 1 31 1-118 1 22 1 3 1-38 1 67 1-107 1 103 1-115 1 65 1 36 1 126 1-151 1 20 1 155 1-142 1 16 1-14 1-20 1-12 1 60 1-28 1-8 1-109 1-66 1 76 1 149 1-109 1-34 1 121 1-175 1 248 1-140 1 24 1 30 1-49 1-17 1 108 1-28 1-26 1 108 1-39 1-128 1 9 1-42 1 98 1-66 1-5 1 69 1 2 1-71 1 104 1 4 1-122 1 74 1-64 1 4 1-68 1 14 1 77 1 78 1-10 1-66 1-7 1 83 1-9 1-45 1-188 1 135 1 71 1 81 1-175 1 53 1-35 1 117 1 2 1-37 1-29 1-31 1 29 1 63 1-76 1-9 1 25 1-38 1 139 1-169 1 89 1-16 1 2 1 48 1-111 1 59 1-7 1 9 1-2 1 38 1-83 1-2 1-6 1-108 1 155 1 58 1-15 1-105 1 80 1 9 1-38 1-5 1 93 1-94 1-8 1 58 1-8 1-22 1-41 1 13 1 20 1-69 1 229 1-184 1 24 1 28 1 63 1-81 1 21 1-31 1 86 1-111 1 20 1 10 1-84 1 79 1-20 1 66 1 9 1-61 1 54 1-114 1-20 1 81 1 21 1 21 1-57 1 70 1-5 1-54 1 34 1-49 1 11 1-1 1 164 1-206 1-66 1 112 1-22 1 32 1 1 1-9 1 21 1 2 1-20 1 17 1 25 1-40 1-54 1 118 1-130 1-4 1 7 1 120 1 61 1-83 1 101 1-68 1-79 1-19 1 130 1-174 1 114 1-34 1-1 1-9 1-5 1-38 1 121 1-61 1-18 1 32 1 9 1 27 1 1 1 44 1-66 1 23 1-68 1 78 1-97 1-34 1 67 1-45 1 69 1-64 1 97 1-13 1-102 1 113 1-66 1 11 1 20 1-86 1 67 1 19 1-118 1 77 1 31 1-59 1 2 1 10 1 152 1-102 1 101 1-104 1 93 1-75 1-114 1 91 1 69 1 22 1-70 1-103 1 29 1-1 1-72 1 165 1-82 1 158 1-82 1-39 1-33 1 147 1-84 1-60 1 167 1-28 1-144 1 45 1-56 1 46 1 45 1-94 1 84 1 167 1-135 1-95 1 34 1-34 1 156 1-91 1 22 1-22 1-67 1 63 1-53 1 108 1-132 1 147 1-72 1 48 1-87 1 44 1-50 1 51 1-6 1-8 1-129 1 150 1-21 1-12 1-87 1 25 1 105 1-22 1-58 1-49 1-87 1 146 1 66 1-66 1 66 1 13 1-12 1-61 1-4 1 20 1 29 1 63 1-74 1-139 1 238 1-115 1-63 1 134 1-82 1 18 1 5 1 28 1-24 1-246 1 218 1-3 1-46 1 11 1 14 1-64 1 63 1-134 1 245 1-16 1-204 1 132 1-33 1 67 1-18 1 12 1 0 1-103 1-8 1 92 1 124 1-119 1-10 1-157 1 113 1-52 1 49 1 93 1-71 1-24 1 96 1 1 1-91 1-16 1 48 1-38 1 47 1 94 1-78 1-17 1 5 1 5 1-144 1 132 1 1 1 51 1-128 1 151 1-70 1 82 1-47 1-25 1-70 1 101 1 37 1-135 1 107 1-23 1 3 1 33 1 139 1-85 1-47 1-151 1 65 1-58 1-42 1 142 1 15 1-34 1-51 1 162 1 60 1-197 1 98 1-39 1 73 1-80 1 4 1-62 1-113 1 166 1 25 1-115 1 51 1-39 1 30 1-58 1-2 1 106 1-13 1 26 1 42 1-79 1 71 1-106 1 131 1-74 1-95 1 67 1 18 1-104 1 78 1 86 1-92 1 85 1 67 1-77 1-149 1 16 1 79 1 23 1 84 1-119 1 14 1-45 1 20 1-2 1 20 1-17 1 16 1-11 1-18 1 37 1 142 1-98 1-50 1 84 1 33 1-223 1-38 1 120 1 41 1-3 1 109 1-138 1 138 1-187 1 64 1 17 1 23 1-146 1 54 1 90 1-58 1 70 1-83 1 7 1-28 1 86 1-115 1 28 1 131 1-22 1-72 1 61 1-33 1 65 1-29 1 1 1 6 1 102 1-178 1 96 1 64 1-325 1 143 1 53 1 25 1 26 1-86 1 83 1-146 1 24 1 17 1 50 1 63 1-7 1-73 1 6 1 31 1 22 1-80 1 96 1 64 1-167 1 26 1 36 1-107 1 124 1-76 1 109 1-69 1 1 1-79 1 55 1 36 1-4 1-47 1 118 1-106 1 37 1-1 1 13 1 48 1-146 1 70 1-11 1 134 1-7 1-18 1-61 1-107 1 175 1-45 1-26 1 32 1 4 1-133 1 162 1-141 1 141 1-87 1-22 1-34 1-4 1 142 1-6 1-36 1 23 1-47 1 52 1-121 1-14 1 98 1-35 1 78 1-115 1 31 1-16 1 104 1-115 1-53 1 135 1-15 1-82 1-11 1-71 1 113 1-27 1 179 1-161 1 88 1 64 1-108 1-61 1 60 1-8 1-61 1 13 1-26 1 12 1-77 1 196 1 37 1-4 1-99 1-117 1 45 1 65 1 76 1-106 1 72 1 38 1-8 1 4 1 72 1-242 1 114 1-8 1 15 1-59 1-75 1 179 1 1 1 43 1-121 1-22 1 3 1 27 1 95 1-31 1-135 1 84 1-15 1 17 1-8 1-17 1 29 1-51 1 56 1 83 1-239 1 207 1-47 1-76 1 107 1-15 1 54 1-34 1-123 1 223 1-59 1-97 1-25 1 44 1 12 1 2 1 47 1-68 1-31 1-8 1 48 1-138 1 210 1-132 1 144 1-115 1-1 1 24 1 3 1-23 1-34 1-2 1 36 1 2 1 62 1-249 1 108 1 16 1 35 1 154 1-66 1 11 1-200 1 95 1 64 1-46 1-53 1 66 1 69 1-85 1-39 1 58 1-66 1 112 1 23 1-77 1 20 1 40 1-49 1-9 1-43 1-89 1 148 1 41 1-28 1-19 1 31 1-92 1 58 1 27 1-33 1-24 1 84 1-3 1-48 1-58 1 2 1-11 1 50 1 149 1-68 1-160 1 92 1 10 1 16 1-18 1 28 1 38 1 2 1-72 1 43 1-328 1 443 1-102 1-105 1-25 1 75 1-26 1 34 1 53 1-48 1-36 1 59 1-81 1 2 1 44 1 52 1-29 1-36 1 24 1 34 1 70 1-135 1-21 1-8 1 159 1-66 1-3 1 10 1-78 1 21 1-59 1 115 1 8 1-17 1-36 1 46 1-101 1 115 1-110 1 24 1 58 1 59 1 3 1-103 1 20 1-18 1-9 1 37 1-25 1 55 1-76 1-43 1 1 1 88 1 14 1-151 1 76 1 64 1 22 1 90 1-126 1 0 1-37 1 93 1-28 1-4 1 30 1-66 1-36 1 111 1-13 1-61 1-7 1 55 1-49 1-82 1 33 1 72 1-85 1 56 1 147 1-165 1 79 1-42 1-28 1 13 1-27 1 43 1-26 1 0 1-80 1 44 1 99 1-91 1-6 1 76 1-78 1 100 1-17 1-17 1-24 1 62 1-112 1-69 1 134 1 24 1-54 1 97 1-113 1-4 1 41 1 59 1-11 1 101 1-166 1-57 1-36 1 143 1 20 1-46 1-170 1 235 1-81 1 19 1 5 1-58 1 112 1-62 1 58 1-79 1 72 1 3 1-109 1 71 1 14 1-205 1 212 1-44 1-84 1 83 1 12 1 15 1-7 1-25 1-94 1 110 1 26 1-87 1 50 1-53 1 30 1 19 1 20 1-54 1 70 1-100 1-44 1 204 1-165 1 28 1 69 1 45 1-133 1 35 1 9 1-77 1 235 1-270 1 139 1-18 1 61 1-89 1 41 1 37 1-45 1 17 1-7 1-78 1 1 1 52 1 7 1 84 1 30 1-41 1-91 1-49 1 53 1 125 1 10 1-218 1 15 1 152 1-26 1 4 1-79 1 123 1-97 1 46 1-3 1 56 1-17 1-99 1-45 1 94 1-44 1 66 1-2 1-61 1-18 1 41 1 13 1-37 1 1 1 63 1-20 1 44 1-30 1-46 1-3 1-17 1-81 1 102 1 36 1-117 1 265 1-157 1-26 1 21 1-37 1 69 1-20 1 0 1-24 1 15 1-10 1 84 1-173 1 91 1 51 1-67 1 14 1-24 1-13 1-52 1 38 1-2 1-36 1 78 1-98 1 160 1-99 1 61 1 10 1-54 1 121 1-77 1 57 1-8 1-6 1-41 1-85 1 44 1-31 1 52 1 63 1-87 1 69 1-65 1 69 1-35 1-36 1 128 1-227 1 138 1-5 1-37 1-22 1 16 1 10 1-27 1 43 1-5 1 45 1-69 1 84 1 10 1-130 1-1 1 121 1 31 1 28 1-228 1 86 1-56 1 87 1-7 1 73 1 6 1-154 1 92 1-35 1-38 1 10 1 32 1 78 1-70 1 30 1 66 1-5 1-51 1-4 1 11 1-114 1 57 1 102 1-99 1 41 1-20 1 18 1-10 1-23 1 79 1-152 1 104 1-29 1 252 1-228 1-35 1-24 1 44 1 47 1 7 1-80 1 2 1 22 1-107 1 124 1 90 1-147 1 98 1 15 1-66 1 33 1-31 1 39 1-10 1-38 1-11 1-70 1 141 1-64 1 127 1-150 1 78 1-72 1 129 1 0 1-53 1 43 1-141 1 35 1-29 1 20 1-8 1 33 1 3 1-8 1 12 1-104 1 188 1-70 1-14 1 4 1-105 1 90 1-59 1 39 1 6 1-88 1 15 1 74 1 15 1-146 1 72 1 43 1 37 1 17 1-6 1 14 1-52 1-10 1 20 1-62 1 96 1 38 1-98 1 148 1-159 1 74 1 20 1-122 1 136 1-62 1 1 1 25 1 32 1-66 1 12 1-76 1 28 1 14 1 33 1 12 1 35 1-53 1 29 1 39 1-65 1-29 1-168 1 182 1-9 1-38 1 306 1-235 1 87 1 0 1-51 1-156 1 98 1-58 1 65 1-42 1 66 1-90 1 100 1 15 1-143 1 132 1-2 1 44 1-33 1 81 1-77 1-13 1 5 1 46 1-56 1-62 1 5 1 3 1 91 1-106 1 52 1-34 1 48 1 52 1-2 1-28 1-18 1 39 1-96 1 23 1 12 1 86 1-137 1-81 1-15 1 138 1-19 1-18 1 60 1 49 1-6 1-114 1 60 1 90 1 155 1-275 1-11 1 6 1 15 1-26 1 34 1 61 1 62 1-141 1 16 1 104 1-96 1 61 1-88 1-63 1 129 1-30 1-36 1 145 1-93 1-3 1-34 1 63 1-52 1-25 1 48 1-47 1-14 1 67 1 26 1-35 1 89 1-150 1 199 1-169 1 5 1 24 1 143 1-171 1-15 1-9 1 76 1 99 1-104 1 4 1-31 1-79 1 100 1-70 1-28 1 36 1 37 1-51 1 2 1-68 1 139 1-59 1 65 1-19 1-53 1 70 1 10 1-85 1-54 1 253 1-111 1-89 1 92 1 31 1-58 1 50 1-139 1-66 1 44 1 121 1 21 1-22 1 44 1-98 1 26 1-7 1 4 1 97 1-52 1-15 1-3 1 48 1-62 1-6 1-57 1 131 1-44 1 0 1-247 1 129 1 215 1-91 1-101 1 69 1 16 1 65 1-165 1 60 1-14 1 203 1-238 1 81 1 29 1-96 1 56 1 38 1-28 1 10 1-1 1-5 1-44 1 101 1-133 1 16 1 104 1-111 1 41 1 40 1-31 1 8 1 14 1-16 1-131 1 147 1 76 1-83 1 34 1-74 1 115 1-17 1-273 1 256 1-91 1 9 1 6 1 94 1-100 1 1 1 16 1-1 1 99 1-49 1 37 1-159 1 85 1 35 1-7 1 0 1-4 1-103 1 141 1-43 1 69 1 22 1-315 1 264 1-136 1 70 1 42 1-65 1 90 1-71 1 39 1 112 1-118 1 28 1-66 1 100 1-78 1-46 1-9 1 6 1 63 1-47 1-91 1 41 1 158 1-137 1 218 1-191 1-1 1-126 1 152 1-43 1 24 1 79 1 51 1-168 1 72 1-34 1 1 1 49 1-27 1 76 1-104 1-12 1 118 1-139 1 34 1 16 1-29 1 229 1-221 1 48 1-95 1-20 1 94 1-32 1-77 1 134 1-16 1 56 1-108 1 45 1-72 1 137 1-95 1 17 1-47 1 35 1-8 1 69 1-21 1 7 1 32 1-20 1-76 1-70 1 126 1-18 1-37 1 44 1 56 1-20 1 51 1-170 1 76 1 12 1 13 1-91 1 101 1-121 1 63 1 70 1-28 1 21 1 30 1-29 1 65 1-143 1 22 1 19 1-34 1 0 1-75 1 142 1-165 1 134 1-70 1 78 1 123 1-149 1-48 1 5 1 74 1-1 1 24 1-39 1-44 1 49 1-1 1-7 1 90 1-77 1-144 1 142 1-5 1-32 1-12 1 104 1-53 1-25 1 42 1 15 1-46 1 30 1 41 1-34 1-40 1-90 1 96 1 9 1 23 1-47 1 82 1-25 1-19 1-31 1-20 1 55 1-27 1 37 1-2 1 43 1-101 1-41 1 108 1-46 1-22 1 127 1-155 1-16 1 95 1-14 1 35 1 35 1-136 1-45 1 311 1-197 1-73 1 69 1 71 1-120 1 99 1-234 1 202 1 3 1-23 1-7 1 18 1 39 1-86 1-63 1 118 1-39 1-13 1 13 1-15 1 0 1-62 1 86 1 92 1-28 1-96 1 129 1 47 1-181 1 37 1-1 1-12 1 41 1-17 1-194 1 211 1-52 1 104 1-83 1 85 1-47 1-30 1 35 1 25 1-139 1 12 1-98 1 182 1-10 1 111 1-145 1 43 1 199 1-215 1-1 1 18 1 125 1-249 1 124 1-43 1 35 1 63 1-9 1-196 1-38 1 195 1 31 1-108 1-14 1 71 1 17 1-21 1-25 1-18 1-8 1 74 1-82 1 142 1-106 1-27 1-71 1 148 1 46 1 18 1-64 1-99 1 88 1-34 1 77 1 32 1-84 1-20 1 8 1 11 1-47 1 73 1-79 1 68 1-73 1 14 1 12 1 57 1 12 1-36 1-90 1 95 1 47 1-51 1-79 1 26 1 34 1-66 1 297 1-271 1 81 1 6 1 9 1-45 1-29 1 80 1-46 1-23 1-27 1 115 1-90 1 24 1-79 1 152 1-46 1-94 1 109 1-8 1 2 1-225 1 212 1 103 1-237 1 77 1 78 1-126 1 194 1-121 1 41 1-2 1-84 1 0 1 113 1-48 1 9 1-61 1-22 1 96 1 20 1 95 1-179 1 27 1-43 1 116 1-39 1-12 1-84 1 32 1-6 1 126 1-85 1-61 1 30 1 71 1-13 1-57 1-35 1 49 1 107 1 3 1-73 1-65 1 47 1 3 1 89 1-133 1 81 1-43 1 44 1-112 1 80 1-25 1 24 1 91 1-52 1-205 1 174 1-36 1-38 1-108 1 118 1 111 1-91 1 64 1-183 1 137 1 38 1 44 1-30 1-29 1-1 1-67 1-23 1 143 1-79 1 40 1-247 1 387 1-187 1 32 1-35 1-38 1 136 1-78 1 1 1-90 1 113 1-14 1 6 1 11 1 2 1-91 1-22 1 112 1-46 1-28 1 66 1-39 1 98 1-32 1-96 1 72 1 48 1 40 1-61 1 36 1-157 1 96 1 48 1-143 1 75 1 32 1-1 1-46 1 125 1-143 1 5 1-34 1 47 1-1 1 5 1-9 1-33 1 35 1 2 1 31 1-16 1 77 1-122 1 68 1 23 1 88 1-150 1 55 1-51 1 92 1-100 1 50 1-5 1 9 1-51 1-49 1 96 1-43 1 70 1-154 1 67 1 1 1 157 1-68 1-98 1-4 1 58 1-55 1-8 1 47 1 15 1-95 1 77 1 125 1 13 1-143 1-14 1-65 1 180 1-133 1 89 1-134 1 25 1 136 1-93 1-138 1 179 1-17 1-174 1 181 1-108 1 51 1 54 1 2 1-25 1-22 1-6 1 64 1-104 1 81 1-63 1 28 1 100 1-94 1 57 1-78 1 55 1-66 1 153 1-127 1 49 1-83 1 36 1 113 1-54 1-106 1 88 1-8 1-62 1-64 1 117 1-7 1 147 1-77 1-99 1 105 1-69 1 186 1-304 1 47 1 134 1-161 1 82 1 31 1-191 1 219 1 6 1 103 1-39 1-158 1 132 1-108 1 45 1-117 1 279 1-278 1 54 1 51 1-276 1 232 1 11 1-60 1 104 1-11 1 44 1 14 1-87 1 2 1 56 1-43 1 20 1-14 1-99 1 147 1-74 1 51 1 70 1-145 1 13 1 18 1-24 1 131 1-124 1 73 1-160 1 68 1 45 1 10 1 39 1 69 1-123 1 93 1-30 1-34 1-49 1 9 1 43 1-12 1 16 1-59 1 25 1-123 1 53 1 142 1-106 1 50 1-11 1 45 1-113 1 91 1 72 1-155 1 61 1 51 1-72 1-21 1 88 1-92 1 49 1-27 1-43 1 48 1-23 1 92 1-39 1-8 1 36 1-8 1-53 1-134 1 179 1-103 1 65 1 5 1-14 1 84 1-169 1 117 1-42 1 32 1-34 1-63 1 103 1 34 1-75 1 100 1-44 1 6 1 86 1-90 1 3 1 72 1-37 1-59 1-286 1 276 1-9 1 55 1-21 1-20 1-44 1 62 1-30 1-17 1 82 1-6 1-21 1-116 1 134 1-86 1 52 1-26 1-76 1 52 1 77 1-80 1 22 1-11 1 22 1 12 1-18 1 29 1 17 1 92 1-85 1 4 1-57 1-37 1 19 1 91 1 12 1-114 1-12 1 47 1 111 1-64 1-36 1 9 1 9 1 1 1-37 1 19 1 37 1-27 1-22 1 21 1 8 1 34 1 13 1-52 1-57 1 7 1 27 1 5 1 6 1 33 1 73 1-147 1 42 1-58 1-34 1 50 1 12 1 74 1-85 1 11 1 4 1 104 1-100 1 91 1-21 1 8 1 16 1-131 1-5 1 41 1 69 1-1 1-77 1-6 1 47 1 25 1-52 1-33 1 73 1 45 1-19 1-51 1-18 1 56 1-8 1 52 1-8 1-56 1-86 1 94 1 15 1-94 1 121 1-26 1 45 1-139 1 24 1 50 1-12 1-66 1 83 1-37 1 145 1-160 1 11 1 151 1-69 1-163 1 184 1-78 1-13 1 109 1-60 1-65 1 14 1-103 1 25 1 166 1-51 1-12 1-57 1 101 1-63 1-3 1 2 1-49 1 121 1-79 1 29 1 59 1-115 1 185 1-189 1 45 1-52 1 22 1 43 1 22 1-100 1 118 1-124 1 9 1 74 1-19 1 28 1-22 1 35 1-80 1 100 1-161 1 256 1-294 1 57 1 200 1-148 1 21 1-109 1 88 1 61 1 60 1-77 1 55 1-20 1-48 1 92 1 18 1-152 1 24 1-87 1 118 1-36 1 36 1 107 1-176 1 54 1 9 1 44 1 28 1-124 1 10 1 19 1 33 1-103 1 76 1-21 1-66 1 96 1 22 1-9 1-125 1 50 1 91 1-104 1 120 1-73 1 151 1-205 1-145 1 229 1 16 1-32 1 34 1-43 1-98 1 147 1-39 1-22 1 140 1-78 1-10 1 107 1-114 1-85 1 70 1 39 1-162 1 7 1 104 1 18 1-43 1 49 1 14 1-44 1 49 1-51 1 42 1-59 1 57 1 123 1-119 1-25 1 54 1-135 1 69 1 20 1 37 1-38 1 20 1 64 1 32 1-125 1-6 1 61 1-65 1 101 1-112 1 83 1-40 1 149 1-94 1-104 1 36 1-108 1 135 1-25 1 3 1 45 1 129 1-211 1 46 1 83 1-57 1 23 1-82 1 146 1-152 1 22 1 91 1-53 1-26 1 8 1-124 1 136 1 4 1-6 1-22 1 4 1-31 1 56 1 9 1-30 1 67 1-37 1-83 1-54 1-77 1 212 1 71 1-8 1-64 1 5 1-37 1 45 1-65 1 6 1-1 1-22 1-46 1-61 1 203 1-1 1-34 1 36 1-41 1-192 1 153 1 6 1-168 1 104 1-12 1 85 1 16 1 9 1 52 1-89 1-97 1 157 1-182 1 84 1-6 1 8 1 82 1 10 1-33 1 40 1-149 1 146 1-52 1-60 1-124 1 207 1 93 1-72 1 136 1-185 1-4 1 70 1 3 1-75 1-67 1 78 1-80 1 98 1 17 1-19 1 42 1-134 1 36 1 98 1-22 1-39 1 7 1-28 1 82 1-17 1-3 1 3 1-86 1 122 1-66 1-1 1-16 1-8 1 125 1-92 1 12 1 77 1-99 1 33 1 78 1-153 1-54 1 111 1 66 1-174 1 32 1 27 1 32 1-81 1 83 1 28 1-74 1 52 1-31 1 110 1-43 1 186 1-216 1 43 1-60 1-41 1 49 1-58 1 115 1-80 1-21 1 1 1-14 1-24 1 165 1-120 1 79 1-98 1 91 1-54 1 74 1-3 1-70 1 51 1-4 1 75 1-138 1 50 1-57 1 47 1 20 1 4 1-55 1-65 1 39 1 52 1 66 1-44 1 9 1-122 1 16 1 146 1-103 1-9 1-66 1 90 1 33 1-35 1-29 1 39 1 58 1-71 1 82 1-283 1 263 1-67 1 116 1-155 1 97 1-28 1-24 1 81 1-69 1-24 1-5 1-134 1 178 1 57 1 117 1-270 1 17 1 118 1-68 1 56 1 9 1-108 1 98 1-33 1 15 1-189 1 62 1 93 1 73 1-129 1 82 1-88 1 48 1-38 1-4 1 20 1 33 1 55 1 1 1-118 1 209 1-63 1-151 1 112 1-11 1-68 1 137 1-66 1 15 1-6 1-21 1-11 1-20 1 13 1-65 1 31 1 66 1-26 1-75 1 83 1-105 1 146 1-55 1-19 1 62 1-78 1-27 1 133 1 1 1-56 1-103 1 44 1 70 1 19 1 16 1 11 1-120 1 30 1 3 1 77 1-160 1 159 1 1 1-21 1-96 1 4 1 148 1-125 1-3 1 60 1-9 1-131 1 4 1 73 1 64 1-67 1 92 1-56 1-4 1 43 1-39 1-44 1 4 1 69 1 59 1-93 1 43 1-62 1 21 1 54 1-72 1 21 1 118 1-122 1 69 1-75 1 128 1-106 1 49 1-8 1 61 1-119 1 32 1-1 1 106 1-20 1 11 1-50 1-81 1 101 1-23 1-163 1 71 1 1 1 81 1-82 1-5 1 10 1-124 1 238 1-183 1 85 1 0 1 53 1-35 1 121 1-77 1-60 1 122 1-100 1-52 1 93 1-43 1 39 1 31 1-25 1-80 1 53 1-110 1 83 1 1 1 63 1-30 1-31 1-31 1-10 1-37 1-57 1 85 1 99 1-38 1-37 1 106 1-63 1 177 1-251 1 65 1-40 1 65 1-19 1 17 1-37 1-42 1 44 1 32 1-15 1 73 1 0 1-97 1-73 1 93 1-48 1 94 1 7 1-32 1-30 1 37 1-99 1 42 1 20 1 55 1-82 1-31 1 92 1-47 1-3 1 34 1-89 1 172 1-147 1 41 1-8 1 26 1-4 1 6 1-18 1 30 1 59 1-43 1 77 1-94 1-143 1 66 1 95 1 26 1-143 1 48 1 2 1 47 1 13 1 24 1-67 1-91 1 180 1-127 1 32 1-94 1 137 1-52 1-35 1 51 1 79 1-35 1-129 1 140 1-162 1-27 1 162 1 52 1-103 1 46 1 57 1-97 1 93 1-123 1 50 1-27 1 7 1 29 1-24 1 40 1 119 1-48 1-86 1-42 1 94 1-85 1-16 1 22 1 12 1 65 1-42 1-17 1-12 1 51 1-5 1-106 1 63 1 40 1-95 1 101 1-99 1 6 1 75 1-54 1 75 1-116 1 78 1-46 1 32 1-80 1 83 1-125 1 181 1-2 1-68 1 116 1-95 1 40 1 43 1-33 1-106 1 66 1 127 1-108 1-32 1-7 1-40 1 24 1 127 1-129 1 104 1-103 1 110 1 51 1-8 1-125 1 23 1-60 1 97 1-108 1 35 1 49 1-188 1 264 1-118 1 86 1-76 1-59 1 114 1-53 1 44 1-55 1-74 1 78 1-27 1-28 1-58 1 98 1 19 1-43 1 49 1-117 1 67 1-29 1 135 1-77 1-21 1 28 1-27 1-61 1 143 1-89 1 33 1-51 1 23 1 71 1-59 1-16 1-42 1 61 1-7 1-43 1 164 1-95 1-100 1 122 1-26 1 91 1-38 1-57 1-25 1-10 1 83 1-52 1-5 1 54 1-57 1 19 1-14 1 48 1-10 1-57 1 54 1-64 1-1 1 123 1-17 1 33 1-64 1 36 1-106 1 180 1-138 1 53 1-98 1 17 1 24 1-17 1 64 1-37 1-46 1 21 1 8 1 32 1 144 1-161 1-74 1 8 1 65 1-13 1-45 1 3 1 55 1-54 1-8 1 85 1-66 1-34 1 116 1 41 1-16 1-13 1-46 1-81 1 49 1-90 1 96 1 112 1-95 1-28 1 92 1-29 1-34 1 17 1-23 1-24 1 69 1-153 1-73 1 113 1 18 1-94 1 119 1-27 1 3 1 25 1-79 1 185 1-66 1-19 1-71 1 44 1 62 1-30 1 59 1-32 1-48 1-48 1 113 1-162 1 78 1 4 1-106 1 198 1-67 1 45 1-19 1-23 1 65 1-72 1 68 1 137 1-173 1-59 1 100 1-90 1 44 1-40 1 97 1-90 1 168 1-127 1-68 1 45 1-31 1 15 1 43 1-8 1 31 1-28 1-70 1 45 1-44 1 57 1-2 1-42 1-73 1 75 1 55 1 11 1-24 1 17 1-99 1-10 1 91 1-23 1-275 1 264 1-180 1 247 1-92 1-21 1 203 1-53 1-93 1 10 1 102 1-198 1 65 1-18 1 74 1-50 1 59 1-85 1-107 1 219 1-38 1-48 1-57 1 83 1 12 1-34 1 65 1-14 1-34 1-55 1 104 1-84 1-26 1 72 1-60 1 199 1-97 1 40 1-127 1 24 1 36 1 47 1-58 1 0 1-25 1 215 1-183 1-1 1 202 1-250 1 79 1-235 1 224 1 5 1-30 1 54 1-74 1 13 1-43 1-134 1 273 1 17 1-192 1-23 1-41 1 125 1 30 1-56 1-32 1 15 1-10 1 229 1-110 1-13 1-98 1 67 1-67 1 42 1-59 1 51 1-147 1 223 1-110 1 98 1-33 1-15 1 47 1 3 1 22 1-60 1-30 1 6 1 69 1 32 1-100 1-43 1-81 1 197 1-42 1 80 1-207 1 105 1 153 1-100 1-38 1 52 1-68 1 28 1 8 1-27 1 36 1-37 1-108 1 109 1 18 1 71 1-56 1 81 1-178 1 104 1 31 1-55 1 54 1-98 1 118 1-91 1-35 1 70 1 30 1-87 1 22 1-15 1 55 1 11 1-109 1 13 1 49 1-25 1 108 1-101 1 3 1-14 1 52 1 106 1-246 1 92 1 83 1 106 1-108 1-29 1-74 1 44 1-2 1 62 1-65 1 33 1 6 1-47 1 30 1 76 1-176 1 60 1 3 1-10 1 4 1 14 1 43 1-5 1 189 1-204 1 259 1-221 1-87 1 69 1-33 1-13 1 54 1-41 1 17 1-42 1 141 1-90 1 114 1-193 1 260 1-161 1-54 1 98 1-47 1-218 1 95 1-35 1 163 1-27 1 37 1 13 1-20 1-19 1-35 1-7 1-15 1 19 1 59 1-66 1-8 1-11 1 121 1-8 1 29 1-84 1-307 1 256 1 48 1-23 1 16 1 15 1-85 1 97 1 3 1-18 1-136 1 161 1 28 1-129 1 74 1 3 1 36 1-70 1 50 1 74 1-139 1 50 1-124 1 125 1 10 1 72 1-49 1-124 1 87 1 25 1-34 1 12 1-71 1-15 1 26 1-1 1-13 1-26 1-3 1 147 1-68 1-127 1 297 1-183 1 121 1-65 1-147 1 109 1-26 1-258 1 220 1 16 1 5 1 39 1-43 1 90 1-64 1 168 1-72 1-72 1 15 1-94 1-19 1 51 1 235 1-223 1-92 1 76 1 87 1 58 1-90 1-32 1-90 1 188 1-150 1 117 1-78 1 77 1-64 1 32 1-3 1-63 1 110 1-18 1 59 1 41 1-44 1-99 1-50 1 141 1-82 1 96 1-86 1-10 1 22 1-55 1 47 1 110 1-160 1-21 1 69 1 40 1-44 1 20 1-11 1 61 1-152 1 57 1-41 1-2 1 48 1-43 1 75 1 5 1-316 1 385 1-69 1-91 1 10 1 119 1-69 1 65 1-38 1-239 1 236 1-29 1 99 1-180 1 99 1 84 1-171 1 22 1 111 1-117 1 30 1 31 1-18 1-16 1 41 1 36 1-45 1-87 1 13 1 20 1-44 1 99 1-20 1 238 1-177 1-37 1 82 1-155 1 247 1-164 1-15 1-145 1 178 1 25 1-7 1-56 1 38 1-142 1 103 1 2 1 40 1-22 1 61 1-49 1-19 1-4 1 114 1 31 1-200 1 39 1 81 1-7 1-120 1 138 1-110 1-32 1 70 1-67 1 66 1-77 1 63 1 20 1 58 1-10 1-80 1-33 1 89 1 44 1-44 1 18 1-90 1 90 1-15 1-153 1 243 1-77 1-27 1-92 1 66 1 50 1-30 1 19 1-21 1-3 1-88 1 96 1-9 1-20 1-58 1 36 1-44 1 202 1-90 1-22 1-61 1 26 1-54 1 200 1-134 1 12 1 52 1-95 1 58 1-61 1 35 1-31 1 8 1 122 1-54 1-41 1-41 1-59 1 44 1 29 1-37 1 63 1-46 1-10 1 141 1-44 1-97 1 76 1 10 1-57 1 54 1 74 1-99 1-63 1 54 1-25 1-34 1 68 1-57 1 73 1-46 1 49 1-132 1 189 1-124 1 338 1-308 1-40 1 59 1-40 1 85 1 7 1-76 1 26 1 36 1-111 1 42 1-90 1-66 1 267 1-74 1-29 1 173 1-151 1-21 1 116 1-12 1-78 1 53 1-95 1 112 1-120 1-2 1-11 1 172 1 118 1-167 1-103 1 32 1 51 1-3 1-35 1 89 1-116 1 69 1 11 1-110 1 136 1-102 1 85 1-187 1 168 1-38 1-3 1-47 1 22 1 80 1-61 1-1 1-34 1-9 1 20 1 65 1-75 1-17 1 24 1 89 1-47 1-77 1 129 1-18 1-122 1 99 1-5 1-42 1-24 1-15 1 56 1-21 1 32 1-138 1 135 1-47 1 57 1 30 1-57 1-43 1 53 1 66 1-63 1-21 1 16 1-30 1-9 1 156 1-73 1-29 1 42 1-93 1 55 1-32 1 59 1-24 1 58 1 44 1-86 1-143 1 79 1 42 1-78 1 50 1-14 1 92 1 58 1-103 1-1 1 48 1 23 1-96 1 3 1-44 1 173 1-121 1 62 1-114 1 69 1-53 1 45 1 101 1-116 1 62 1-135 1 107 1-38 1 18 1-105 1 225 1-80 1-84 1 79 1-108 1 138 1-108 1 60 1-186 1 218 1-55 1 13 1 9 1 20 1-150 1-141 1 202 1-1 1 24 1-21 1-21 1-64 1 142 1 39 1-33 1 35 1 11 1-94 1 82 1-4 1-103 1-26 1-75 1 221 1-154 1 110 1-68 1-6 1 136 1-23 1-25 1-78 1 127 1-174 1 94 1-7 1-38 1 25 1-34 1-35 1 80 1 60 1-70 1 3 1 21 1-21 1 131 1-88 1 31 1-129 1 161 1-178 1 186 1-225 1 70 1 59 1 33 1-44 1-10 1 18 1-68 1 72 1-16 1 0 1-53 1 96 1 13 1 4 1-101 1 86 1 17 1-165 1 125 1 66 1-105 1 38 1-24 1-35 1 80 1-65 1 26 1 34 1-11 1-30 1 26 1-86 1 64 1 32 1-57 1 29 1-71 1 231 1-111 1-30 1 33 1-216 1 238 1-195 1 8 1 141 1-39 1-34 1 163 1-85 1 9 1-1 1-169 1 195 1-84 1-14 1 69 1-8 1-96 1-36 1 104 1-31 1 2 1 41 1-31 1-19 1-1 1 17 1 7 1 74 1-36 1-21 1-65 1 31 1-42 1 163 1-64 1 81 1-115 1-87 1 78 1 282 1-320 1 62 1-80 1 85 1 13 1 51 1 14 1-139 1-17 1 87 1-67 1 5 1 76 1-35 1-106 1 169 1-4 1-18 1 28 1-70 1 36 1 70 1-72 1-129 1 47 1 278 1-227 1 26 1-90 1 28 1-15 1 34 1 133 1-78 1-107 1 254 1-179 1 224 1-287 1 110 1-129 1 75 1 93 1-74 1-129 1 170 1 19 1-71 1-67 1 132 1-139 1 54 1-24 1 17 1-40 1-71 1 116 1-13 1 77 1 55 1-174 1 148 1-32 1-25 1-3 1 61 1-29 1-111 1 102 1-64 1-12 1 76 1-45 1-11 1 100 1-120 1 63 1-74 1 28 1 41 1-111 1 134 1-52 1 12 1-26 1 20 1-2 1-14 1 6 1 32 1 31 1-163 1 109 1-27 1-61 1 96 1 26 1-56 1-10 1 111 1-60 1-19 1-33 1 99 1-65 1-71 1 3 1 114 1-78 1 1 1-16 1 85 1-56 1 44 1-44 1 16 1-102 1 97 1-104 1 144 1 17 1-80 1-79 1 73 1 33 1-53 1 192 1-167 1-53 1 63 1-62 1 59 1 32 1-29 1 104 1-108 1 4 1-15 1 103 1-82 1 44 1 34 1-3 1-12 1-154 1 143 1-23 1-157 1 131 1 9 1 30 1-14 1 49 1-49 1 54 1-47 1-19 1 27 1-70 1 97 1-124 1-42 1 74 1 27 1 60 1-94 1 44 1 19 1 11 1-25 1-93 1 108 1-50 1 38 1-12 1 100 1-57 1-81 1 45 1 75 1-129 1 9 1 59 1-26 1-7 1 13 1 165 1-128 1-121 1 45 1 14 1 44 1-82 1 260 1-239 1 230 1-226 1 35 1 42 1-38 1 0 1-15 1-22 1 81 1-54 1 83 1-47 1-71 1 35 1 54 1-117 1 77 1-21 1 44 1-8 1-67 1 24 1 216 1-80 1-79 1 38 1 18 1-68 1-44 1 10 1 78 1-39 1 56 1-47 1-3 1 75 1 69 1-195 1 99 1-70 1 2 1-100 1 176 1-205 1 120 1-59 1-58 1 219 1-106 1 37 1-48 1 46 1-20 1 39 1-106 1 203 1-182 1 34 1 26 1-112 1 145 1-76 1-19 1 10 1 57 1-25 1 162 1-199 1 151 1-147 1 52 1 131 1-135 1 13 1-26 1 85 1-216 1 276 1-257 1 80 1-8 1 80 1-43 1-50 1 159 1-118 1 18 1-41 1 51 1-18 1 65 1-22 1-107 1 20 1 6 1-48 1 169 1-90 1 62 1-24 1-34 1-127 1 134 1 3 1-19 1 13 1-59 1 24 1 193 1-129 1-91 1 123 1-183 1 140 1-18 1-44 1 4 1 70 1-77 1 70 1-49 1 50 1 10 1-50 1-4 1-1 1-80 1 16 1 109 1-33 1-11 1 46 1-80 1 32 1 62 1-29 1-27 1-50 1 56 1-138 1 150 1 55 1-95 1 164 1-185 1 134 1-22 1-71 1-61 1 47 1 30 1 7 1-49 1-29 1 133 1 0 1-71 1 64 1-153 1 10 1 65 1 19 1-26 1 45 1-190 1 161 1 149 1-76 1-115 1 29 1 64 1 39 1-59 1 43 1-140 1 107 1 105 1-122 1-50 1-211 1 306 1-45 1 33 1-59 1-54 1-38 1-82 1 88 1 104 1-76 1 114 1-62 1-32 1 99 1 8 1-53 1-33 1 31 1-10 1 37 1-45 1-100 1 150 1 49 1-195 1 106 1-19 1-39 1 25 1-31 1 139 1-31 1-61 1 43 1 24 1-12 1-82 1 39 1-11 1 88 1-51 1-23 1-41 1-50 1 222 1 64 1-194 1 30 1-72 1-21 1 40 1 14 1 127 1-167 1 57 1 26 1-106 1 37 1 154 1-17 1-161 1 90 1 1 1-92 1 25 1-11 1 26 1 96 1-64 1-8 1 40 1-110 1 77 1 4 1 85 1-187 1 64 1 17 1-12 1 36 1-44 1 14 1-64 1 16 1 78 1-4 1-95 1 44 1 52 1-77 1 38 1 85 1-76 1 106 1-142 1 80 1-45 1-5 1 30 1-20 1 65 1-109 1 34 1 102 1 34 1 124 1-279 1-27 1-8 1 49 1-217 1 233 1 112 1-43 1-33 1-58 1 82 1-147 1 41 1 51 1-68 1-2 1 50 1 36 1 119 1-57 1-30 1-99 1 111 1 11 1-101 1 28 1 54 1-1 1-25 1 21 1-143 1 140 1 69 1-117 1 85 1-159 1 94 1 25 1-33 1 262 1-324 1 20 1 59 1-53 1-14 1 189 1-151 1 24 1-12 1 31 1-5 1-56 1 13 1 37 1-132 1 51 1 24 1-23 1 168 1-151 1 93 1-61 1-96 1 89 1-25 1 149 1-64 1-8 1-96 1 32 1 19 1 33 1-113 1 144 1-46 1 15 1-64 1 42 1 39 1-32 1-38 1 63 1 40 1-7 1 3 1-111 1-17 1 19 1 47 1 14 1 86 1-24 1 77 1-259 1 83 1-9 1 39 1-41 1 99 1-122 1-22 1 40 1 1 1-16 1-3 1 20 1 97 1-127 1 78 1-87 1 73 1-34 1 144 1-40 1-75 1 37 1-36 1 96 1-28 1-147 1 41 1-47 1 85 1-66 1 58 1-21 1 23 1 22 1-31 1-9 1-2 1 58 1-49 1 84 1-109 1 41 1-28 1 33 1 50 1-60 1-17 1-42 1 12 1 77 1-47 1 36 1-79 1 199 1-189 1 42 1 90 1-55 1-31 1 135 1-146 1-7 1 45 1 95 1-128 1 45 1-99 1 20 1 95 1-84 1 21 1 206 1-170 1 34 1-14 1-85 1 123 1-66 1 14 1 9 1 21 1-72 1-22 1-26 1 84 1-18 1 65 1-99 1-128 1 247 1-70 1 17 1 31 1-49 1 14 1-19 1-46 1 54 1-42 1 18 1 27 1-138 1 256 1-164 1 41 1 3 1 29 1-79 1-24 1 43 1 48 1 32 1 6 1-101 1-3 1 38 1 75 1-46 1 19 1-82 1-90 1 305 1-276 1 57 1 0 1 58 1 18 1 78 1 109 1-224 1 4 1-39 1 10 1-55 1-56 1 258 1-75 1 70 1-229 1 110 1 134 1-122 1 13 1-82 1 85 1-67 1-25 1 55 1-45 1 41 1 109 1-85 1-16 1 45 1-31 1-74 1 18 1-50 1 18 1 91 1-22 1 13 1 29 1-53 1 40 1 82 1-132 1 6 1 47 1-70 1 90 1 73 1-146 1-64 1 54 1 92 1-153 1 195 1 191 1-229 1-72 1-80 1 20 1 130 1-129 1 118 1 42 1-122 1 196 1-158 1-93 1-72 1 255 1-72 1-58 1 55 1-7 1 68 1-130 1 106 1-70 1-32 1 64 1-7 1 13 1-65 1 26 1 47 1 42 1-92 1 60 1 23 1 43 1-182 1 161 1 41 1-109 1 83 1-153 1 15 1 31 1 81 1-87 1 83 1-98 1 15 1-82 1 121 1-13 1-139 1 218 1-136 1 112 1-81 1-69 1 57 1 23 1-121 1 158 1-51 1 80 1-126 1 51 1-20 1-10 1 152 1-191 1 135 1 29 1-61 1-27 1 112 1-157 1 11 1 24 1 65 1-36 1-124 1 72 1 79 1-49 1-37 1 23 1 33 1-204 1 207 1-53 1 30 1-1 1-3 1-86 1 19 1 59 1 30 1-63 1 167 1-38 1-71 1-37 1 84 1-53 1 4 1-18 1 86 1-149 1 153 1-244 1 187 1-21 1 17 1-23 1 54 1-47 1-8 1 28 1-30 1 38 1-5 1 34 1-23 1-100 1 121 1-86 1 32 1-13 1-1 1-55 1 35 1 101 1-43 1-19 1-53 1 84 1-179 1 157 1-19 1-81 1 32 1 93 1-65 1-54 1 55 1 30 1-36 1 56 1 3 1-28 1-25 1-55 1 44 1 15 1-30 1-63 1 123 1-113 1 82 1-30 1 94 1 11 1-140 1 154 1-1 1-30 1 41 1-156 1 101 1-106 1 70 1 9 1 27 1 5 1-22 1 28 1-100 1-19 1-13 1 118 1 12 1 12 1 38 1-12 1 13 1 63 1-194 1-54 1 40 1 32 1-18 1 5 1 70 1-22 1-131 1 146 1-97 1 49 1 18 1-45 1 137 1-29 1-8 1-25 1-48 1-2 1 98 1 2 1-49 1-113 1 86 1-44 1 100 1-124 1 146 1-41 1 36 1-121 1 95 1-29 1-68 1 67 1-37 1-17 1 10 1-50 1 156 1-56 1-17 1 99 1-88 1-44 1 81 1-58 1 14 1-76 1 37 1 11 1 28 1 48 1-56 1-30 1-7 1-31 1 97 1-73 1 123 1-57 1 3 1-80 1 98 1-110 1 63 1 56 1-29 1-20 1-123 1 82 1 7 1 73 1 18 1-75 1 43 1-27 1 8 1 0 1-68 1 72 1-16 1-51 1 77 1-32 1 43 1-84 1 125 1-124 1 37 1-24 1 86 1-66 1 15 1 31 1 92 1-195 1 177 1-92 1 91 1-100 1 22 1 19 1-23 1-86 1 150 1-29 1 19 1-3 1-85 1-86 1 178 1-71 1 94 1-124 1 61 1 22 1-83 1 144 1-178 1 194 1-168 1 188 1-159 1 10 1-80 1 149 1-119 1-64 1 177 1-122 1 106 1-109 1-49 1 156 1-76 1 18 1-92 1 60 1 73 1-46 1-62 1 116 1-30 1-85 1 95 1-75 1-23 1 217 1-190 1 88 1 25 1-113 1 94 1-33 1 72 1-71 1 80 1-85 1 1 1 13 1-151 1 90 1 258 1-221 1-59 1-40 1 92 1-63 1 78 1-79 1 87 1 35 1 1 1-47 1-84 1 109 1 33 1-8 1-113 1 68 1-14 1 27 1 98 1-157 1-249 1 287 1 41 1-62 1 51 1-45 1-45 1 164 1-103 1 95 1-179 1 66 1 14 1 47 1-37 1 1 1-3 1 15 1-17 1-23 1-31 1 65 1 61 1-197 1 102 1 96 1-68 1-52 1 71 1 39 1-108 1 12 1-32 1 26 1-6 1 11 1-71 1 116 1-89 1 119 1-251 1 171 1 48 1-38 1 43 1 59 1-48 1-74 1 13 1 121 1-71 1 83 1-37 1 36 1-98 1 30 1 57 1-66 1-31 1-2 1 30 1 69 1-98 1-23 1 51 1-18 1-86 1 87 1 106 1-155 1 122 1 21 1-89 1-25 1 47 1 41 1-126 1-15 1 118 1 5 1-3 1-68 1 47 1-13 1-66 1 94 1-208 1 80 1 92 1 64 1-198 1 167 1-92 1 26 1 42 1 44 1-69 1 41 1-67 1 78 1-46 1 35 1 32 1-74 1-9 1 36 1 13 1-73 1-193 1 266 1-42 1 24 1 82 1-146 1 109 1-145 1 41 1-5 1-6 1 48 1-132 1 137 1 67 1-7 1-3 1 19 1-12 1-106 1 151 1-27 1-228 1 50 1 114 1-12 1-74 1 114 1 8 1 107 1-149 1-135 1 22 1-9 1 156 1 60 1-119 1-63 1 143 1-95 1 100 1-53 1-2 1-109 1 144 1-19 1-66 1 30 1-150 1 110 1 29 1 26 1-28 1-56 1 106 1-270 1 279 1-52 1-10 1 136 1-55 1-11 1 10 1-78 1 58 1-11 1 53 1-45 1 24 1-6 1-66 1 2 1-51 1-33 1-17 1 298 1-232 1 13 1 60 1 47 1-59 1 24 1 66 1-25 1-135 1-19 1 80 1 7 1 65 1-52 1 96 1-96 1-99 1 67 1-17 1-60 1-18 1 254 1-125 1-38 1-45 1 102 1-44 1-68 1 91 1-77 1 121 1-203 1 167 1-36 1-40 1 105 1-36 1-84 1 56 1-1 1 30 1-29 1 61 1-128 1 158 1-93 1 47 1 53 1-74 1-95 1 124 1-54 1-28 1 13 1 141 1-213 1 57 1-78 1 70 1-62 1 133 1 20 1-86 1 2 1 33 1-27 1-74 1 100 1 25 1-66 1 32 1 56 1-18 1-42 1 36 1-109 1 162 1-82 1-14 1-20 1 10 1-2 1 97 1-87 1-77 1 123 1-31 1-10 1-26 1-11 1 162 1-76 1-101 1 1 1 16 1 10 1 73 1-75 1 84 1 17 1-22 1-164 1 204 1-174 1-13 1 98 1-15 1-4 1 74 1-116 1 67 1 62 1-39 1 61 1-185 1 97 1-95 1 140 1-65 1 64 1-75 1 58 1 51 1-131 1 35 1 90 1-5 1-114 1 115 1-112 1 147 1-260 1 35 1 164 1-40 1 68 1-90 1-26 1 47 1-76 1-1 1 160 1 69 1-27 1-112 1-31 1 84 1-40 1-11 1 159 1-187 1 16 1-26 1 82 1-72 1 17 1-151 1 216 1-16 1-63 1-3 1 31 1-5 1 57 1-44 1-57 1 161 1-61 1-95 1 45 1-20 1 93 1-84 1 110 1-111 1 73 1-60 1-35 1 73 1-330 1 325 1-5 1-111 1-24 1 30 1 47 1 13 1 125 1-124 1 26 1-25 1 28 1 52 1 47 1-97 1 32 1-100 1-22 1 56 1 32 1-128 1 65 1-150 1 133 1 54 1-63 1 45 1-25 1-17 1 71 1 54 1-26 1-37 1 14 1 32 1-99 1 86 1-88 1 81 1 22 1-53 1-13 1 104 1-32 1-27 1 4 1-26 1-60 1-6 1 6 1 124 1-26 1-6 1-33 1 57 1-17 1-50 1 3 1 11 1 36 1-9 1-7 1-15 1-55 1 42 1-2 1 76 1-68 1-45 1-35 1 118 1-4 1-8 1-111 1 88 1 26 1-37 1-80 1 85 1 47 1 16 1-93 1 41 1-11 1 93 1-7 1-84 1-8 1 51 1 113 1-178 1 15 1-5 1 87 1-201 1 166 1-39 1 1 1 6 1 82 1-63 1 87 1-126 1 39 1-29 1 19 1 79 1-56 1-2 1-15 1-13 1 12 1-10 1 32 1 20 1-59 1-100 1 49 1 167 1-226 1 152 1-68 1-17 1 110 1 78 1-125 1-15 1-133 1 203 1 3 1-69 1-12 1 80 1-153 1 122 1-133 1 86 1-8 1-49 1 18 1 14 1 5 1-23 1 25 1 52 1-8 1-112 1 184 1-85 1-26 1 90 1-49 1-62 1-59 1 47 1-9 1 29 1 8 1 64 1-78 1 50 1-62 1 56 1 45 1-20 1-32 1-38 1 88 1-24 1 37 1-149 1 46 1 96 1 0 1-115 1 39 1 26 1-48 1 40 1 53 1-48 1-37 1-30 1 319 1-311 1 122 1-99 1 68 1-35 1 21 1-171 1 168 1-69 1 2 1 171 1-161 1 56 1 18 1-122 1 102 1-64 1 97 1-53 1 17 1-18 1-41 1 10 1 84 1 49 1-167 1-21 1 85 1 136 1-128 1 79 1-156 1 17 1 62 1-71 1 87 1-38 1-54 1 3 1 25 1-87 1 139 1-43 1 33 1-3 1 28 1-70 1 62 1-6 1-57 1 114 1-104 1-2 1 122 1-50 1-133 1 89 1 37 1-75 1 106 1-47 1 24 1-122 1 152 1 24 1-62 1-117 1 45 1 57 1-36 1-1 1 28 1-57 1-26 1 6 1 104 1-27 1-76 1-6 1-46 1 125 1-104 1 54 1 37 1-77 1 113 1 106 1-123 1-71 1 41 1-7 1 91 1-67 1 58 1-88 1 49 1-58 1-5 1-35 1 166 1-39 1-38 1-112 1 162 1 28 1-88 1-32 1-65 1 52 1 111 1-62 1 38 1-146 1 125 1 31 1-104 1 52 1 20 1-35 1 51 1-73 1 31 1 16 1-34 1 87 1-12 1-35 1 18 1 16 1-47 1-17 1-55 1 119 1-145 1 168 1-34 1-72 1 39 1-4 1 81 1 32 1-181 1-48 1 27 1 144 1-5 1-57 1-137 1 64 1 82 1 49 1-157 1 95 1 30 1 39 1-94 1 38 1-38 1 54 1-15 1-136 1 219 1-17 1 2 1-62 1 0 1 9 1-42 1-119 1 105 1 21 1-82 1 51 1 69 1-23 1 18 1-16 1 60 1 2 1-98 1 2 1 139 1-138 1 46 1 11 1 4 1-158 1 120 1 18 1-97 1 144 1-143 1 4 1 56 1 16 1 51 1 90 1-111 1 2 1-31 1-23 1 23 1 19 1 22 1-21 1-109 1 112 1-74 1 152 1-39 1-56 1 82 1 18 1-119 1 23 1 116 1-69 1 39 1-62 1-57 1-65 1 175 1 12 1-173 1 32 1-12 1 175 1-86 1-155 1 40 1 129 1-45 1-48 1 14 1-37 1 120 1-183 1 140 1-47 1 32 1 89 1-123 1 42 1-36 1 40 1 36 1-80 1 85 1-184 1 239 1-80 1 1 1-45 1-96 1 251 1-92 1-80 1-29 1 163 1-54 1-21 1-3 1 0 1 2 1-112 1 139 1-33 1-78 1 12 1 52 1-14 1-138 1 204 1-92 1 11 1 1 1-216 1 299 1-152 1 137 1-71 1 64 1-70 1 168 1-184 1 63 1 101 1-37 1-201 1 180 1 29 1-134 1 95 1-47 1 183 1-158 1-29 1 53 1-38 1 51 1-104 1 9 1-83 1 97 1-51 1 61 1-10 1 35 1 42 1 14 1-37 1-16 1-15 1 131 1-175 1-90 1 234 1-34 1-30 1-141 1 204 1-16 1 30 1 10 1-203 1 100 1 65 1-91 1 46 1-27 1 86 1-42 1-15 1-67 1 57 1-5 1 35 1 9 1 83 1-122 1-5 1 82 1-109 1 25 1 218 1-179 1-73 1 1 1 29 1 9 1 1 1-134 1 126 1 19 1-46 1 105 1-95 1 38 1 3 1-20 1-71 1 70 1 18 1-146 1 57 1 5 1 11 1 4 1 216 1-154 1 156 1-191 1-6 1 78 1-131 1 81 1 45 1-103 1-7 1 115 1 226 1-304 1 81 1-106 1 79 1-129 1 79 1-5 1 44 1 72 1-103 1-81 1 265 1-196 1-8 1-8 1 49 1 22 1-25 1 82 1-214 1 143 1-25 1-70 1 73 1 30 1-40 1-46 1 18 1 103 1-35 1-10 1-20 1-112 1 100 1 47 1-11 1-125 1 126 1 31 1-72 1 15 1-7 1 17 1 80 1-87 1-17 1 47 1-71 1 14 1-65 1 11 1 102 1-12 1 3 1 79 1-69 1-31 1-5 1-22 1 113 1 25 1-46 1-102 1-39 1 137 1-149 1 104 1 2 1-84 1 26 1-225 1 271 1-40 1-53 1 17 1 85 1 35 1 48 1-159 1-69 1 180 1 94 1-134 1-68 1 97 1-30 1 125 1-145 1 15 1-58 1 144 1-65 1-78 1 15 1 58 1 57 1-140 1 122 1-107 1 10 1 48 1-10 1 82 1-35 1-60 1-119 1 229 1-82 1-248 1 283 1-66 1 19 1-64 1 2 1 51 1-16 1 52 1 29 1-171 1 72 1-5 1 67 1-12 1 61 1-98 1 40 1-76 1 34 1 2 1 66 1-47 1-130 1 88 1 268 1-142 1-87 1 33 1-2 1-21 1-16 1 106 1 2 1-12 1-32 1-24 1 110 1-152 1-5 1 26 1-170 1 122 1 92 1-88 1 76 1 80 1-165 1-28 1 57 1-28 1 56 1 34 1-16 1 58 1-9 1-143 1 43 1 51 1-56 1 84 1 21 1-61 1 19 1 26 1-67 1 23 1 31 1 21 1-14 1 15 1-98 1 6 1 59 1-7 1-15 1-42 1 9 1 70 1-131 1 127 1-70 1 62 1-16 1 71 1-136 1 71 1-74 1 21 1-46 1 106 1 14 1-74 1 46 1 20 1 32 1-298 1 236 1-24 1-25 1-2 1 50 1-85 1 109 1-2 1 83 1-103 1-5 1 32 1-118 1 202 1-5 1 42 1-228 1 20 1 23 1-3 1-4 1-37 1 63 1-12 1 0 1 157 1 9 1-128 1-38 1 30 1 140 1-146 1-77 1 77 1 118 1-77 1-58 1 37 1-2 1 34 1 122 1-111 1-111 1 84 1-85 1 77 1 1 1 9 1-56 1 113 1-146 1 54 1-35 1 62 1-123 1 201 1-155 1 28 1 17 1-21 1-28 1 62 1-60 1 86 1-52 1 59 1-45 1-29 1-67 1 106 1 31 1-102 1 249 1-147 1-68 1 46 1-39 1-172 1 318 1-136 1 33 1 7 1-129 1 114 1 51 1-122 1 95 1 92 1-74 1-124 1 233 1-158 1 52 1-83 1-12 1 33 1-107 1 100 1 1 1-18 1-29 1 40 1-15 1-114 1 134 1 17 1-40 1-15 1-210 1 149 1 121 1-32 1 54 1 92 1-111 1-123 1 81 1 73 1-136 1 109 1-36 1 104 1-134 1 61 1-37 1 45 1-51 1 5 1 103 1 73 1-114 1-43 1-60 1 43 1 79 1-125 1 52 1 137 1-132 1 28 1-85 1 60 1 22 1-32 1 46 1-100 1 140 1-152 1 21 1-23 1 5 1 101 1 54 1-149 1 24 1 79 1-87 1 78 1 19 1-65 1 56 1-70 1 119 1-61 1 28 1-15 1-22 1 149 1-314 1 168 1 8 1-9 1-33 1 13 1 46 1-9 1-22 1-37 1 24 1-36 1 106 1-74 1-39 1 68 1-23 1-69 1 87 1-59 1 3 1 90 1-67 1-22 1 5 1-14 1 80 1-1 1-84 1 45 1 66 1-61 1-93 1 27 1 14 1 57 1-47 1 72 1-100 1 123 1-88 1-55 1 122 1-2 1-45 1 10 1-119 1 90 1 164 1-110 1-98 1 177 1-15 1-124 1 58 1 36 1-34 1-26 1-54 1 161 1-81 1 38 1-57 1 43 1-105 1 6 1 100 1-89 1 83 1-31 1 13 1 12 1 95 1-120 1-5 1-16 1-8 1-59 1 129 1 55 1-15 1 24 1-184 1 117 1-6 1-2 1-57 1 14 1-27 1-15 1 120 1-45 1-96 1 49 1-84 1 205 1-86 1 35 1-62 1 48 1-315 1 332 1-117 1 29 1 6 1 97 1-195 1 220 1-37 1-25 1-77 1 138 1-187 1 133 1 22 1-33 1-65 1-24 1 50 1-25 1 14 1 131 1-138 1 51 1 45 1-48 1 40 1-45 1 45 1-51 1-32 1-27 1-9 1 126 1-31 1 14 1 17 1 32 1-37 1-12 1-169 1 90 1 47 1 45 1-35 1 20 1-221 1 103 1 347 1-226 1-39 1 72 1-82 1-61 1-12 1 79 1 5 1-62 1 48 1 10 1 44 1-105 1 104 1-37 1 80 1-154 1 91 1-33 1 6 1-34 1 57 1-4 1-7 1 132 1-177 1 19 1 36 1 5 1-77 1 32 1 69 1-87 1-58 1 96 1 41 1 24 1 77 1-146 1-7 1-17 1-2 1 194 1-175 1 76 1-107 1 71 1 17 1-14 1-39 1 120 1-172 1 56 1-29 1-14 1 102 1-29 1 10 1 45 1 8 1-60 1 47 1-34 1-69 1-205 1 121 1-62 1 349 1-218 1 23 1 47 1 38 1-46 1 65 1-62 1-31 1-52 1 41 1 31 1-8 1 61 1-51 1-54 1 17 1-24 1 117 1-30 1-45 1-4 1-153 1 125 1 82 1-122 1 71 1-61 1 88 1-137 1 90 1 64 1-17 1 23 1-53 1-46 1-70 1 190 1-26 1 9 1-56 1 2 1 30 1-30 1-15 1-2 1-23 1 101 1-42 1 10 1-76 1 71 1-29 1-37 1-20 1 74 1 9 1-4 1 18 1-73 1 14 1 32 1 38 1-18 1-72 1 32 1 65 1 35 1-68 1-50 1 48 1 56 1-91 1 55 1-154 1 184 1-72 1-31 1 24 1 9 1 56 1-118 1 139 1-188 1 141 1-73 1 132 1-77 1-78 1 120 1-75 1 6 1 10 1 34 1 1 1-19 1-6 1-39 1 56 1 44 1-24 1 74 1-185 1 4 1-1 1 98 1 18 1-91 1 281 1-204 1-25 1-66 1 7 1 111 1-64 1 28 1-34 1 180 1-199 1-26 1-22 1 109 1-105 1 55 1 118 1-66 1-10 1-37 1 28 1-7 1-21 1 70 1-61 1 86 1-47 1 22 1-66 1-30 1-19 1 69 1 122 1-356 1 170 1 55 1 12 1 53 1-59 1 27 1-2 1 123 1-112 1-74 1 110 1-83 1-11 1 36 1 5 1-40 1 37 1-25 1-25 1-51 1 91 1-40 1-67 1 104 1 60 1 50 1-88 1-39 1 254 1-331 1 149 1-11 1-83 1 86 1 21 1-76 1 17 1-5 1 97 1-20 1-194 1 103 1 49 1-83 1 23 1-83 1 20 1 105 1 49 1 61 1-123 1-38 1-22 1 88 1-141 1 80 1-54 1 43 1 88 1-33 1-46 1 80 1-134 1 95 1-67 1 48 1 39 1 1 1 4 1-14 1 75 1-223 1 136 1-56 1 19 1-9 1-18 1 71 1-99 1 119 1-60 1 48 1 52 1-68 1 105 1-108 1-1 1 75 1-84 1 3 1-14 1-57 1 49 1-52 1 99 1 38 1-76 1-63 1 64 1-6 1 18 1 7 1-94 1 6 1 129 1 11 1 24 1-4 1-108 1 54 1 51 1-106 1-44 1-80 1 238 1-121 1 9 1 87 1-25 1 40 1-99 1 58 1-31 1-31 1-38 1 56 1 57 1-126 1 112 1 43 1-52 1 1 1-29 1-111 1-83 1 270 1-257 1 190 1 72 1-89 1 3 1-96 1 31 1 59 1 25 1-81 1 12 1 171 1-135 1-45 1 68 1-55 1 199 1-203 1 42 1-27 1 210 1-148 1-127 1 165 1-160 1 107 1 37 1-57 1 6 1 20 1 43 1-103 1-12 1 4 1 61 1-20 1 15 1 38 1-10 1-32 1 85 1-141 1 11 1-4 1 76 1-70 1 44 1-22 1 143 1-98 1 5 1-101 1 79 1 7 1-2 1-18 1 29 1-12 1-43 1-34 1 26 1 46 1 59 1-49 1-50 1-23 1 42 1-151 1 137 1 33 1 62 1-70 1 20 1-78 1 23 1 16 1 25 1-115 1 74 1-77 1 52 1 139 1-82 1 16 1-88 1 140 1-102 1 10 1 24 1 65 1-134 1 149 1-135 1 35 1 19 1 1 1 88 1-84 1-12 1-45 1 118 1-92 1 95 1-47 1-32 1 117 1-127 1 16 1 37 1-86 1 173 1-31 1 16 1-158 1 112 1 2 1-44 1-3 1 36 1-86 1 49 1-41 1 70 1-25 1 17 1 12 1-141 1 59 1 101 1-65 1 29 1-88 1 17 1 206 1-76 1-37 1-52 1 17 1-47 1 47 1 83 1-69 1-57 1 65 1 37 1-12 1-71 1-57 1 107 1-95 1 21 1 43 1-17 1 0 1 32 1-120 1 87 1 51 1 66 1-51 1-22 1-32 1 31 1-27 1-40 1-19 1 259 1-185 1-21 1-63 1 57 1 88 1-140 1 117 1-44 1 139 1-165 1-20 1 115 1 23 1 109 1-259 1 85 1 88 1-179 1-20 1 25 1 57 1 31 1-52 1 1 1 159 1-137 1-51 1 109 1-104 1 110 1-57 1 11 1-14 1-36 1 73 1-69 1 174 1-113 1 4 1-18 1 52 1-111 1 116 1-171 1 88 1 88 1-158 1 101 1-7 1-10 1-12 1-137 1 140 1-81 1 147 1-17 1 56 1-84 1-37 1-1 1 113 1-113 1-19 1 105 1-13 1-140 1-75 1 105 1 9 1 46 1 61 1-2 1-27 1-28 1-92 1 58 1 82 1-17 1-11 1-84 1 72 1 62 1 126 1-164 1 26 1-163 1-100 1 313 1-176 1 29 1 75 1-95 1 12 1 83 1 37 1-33 1-95 1 44 1 19 1 89 1 53 1-141 1-23 1-27 1 27 1-50 1 28 1 94 1-118 1-53 1 78 1 31 1 108 1-168 1 76 1 71 1-132 1 36 1 55 1-78 1 52 1-7 1-27 1 30 1-33 1-31 1 56 1-37 1-162 1 161 1 59 1 2 1-75 1 21 1-4 1 79 1-88 1-9 1 72 1-174 1 208 1-38 1-117 1 23 1 101 1 157 1-267 1 35 1 62 1-56 1 3 1 98 1-161 1 55 1 64 1-32 1 5 1-23 1 50 1-98 1 6 1 169 1-69 1 85 1-147 1 72 1-122 1 242 1-156 1 9 1-41 1-58 1 72 1-72 1 66 1-26 1-6 1-3 1 70 1-81 1 82 1-76 1 138 1-66 1 9 1 85 1 15 1-221 1 131 1 38 1-108 1-112 1 108 1 68 1-88 1 113 1-52 1 68 1-76 1 128 1-52 1-85 1 13 1-25 1 75 1-54 1 12 1-41 1 84 1 14 1-142 1-74 1 108 1 17 1 108 1-75 1 8 1-72 1 69 1 42 1-9 1-62 1-269 1 265 1 55 1 14 1 41 1 20 1-156 1 29 1-42 1 27 1 0 1 23 1 174 1-122 1-55 1-19 1-5 1 10 1 153 1-134 1 96 1-23 1-58 1 70 1-59 1-51 1 31 1-15 1 78 1-140 1 23 1 6 1 88 1-113 1 101 1-14 1 87 1-112 1-85 1 59 1 6 1 26 1 42 1 72 1-43 1-104 1 49 1-71 1 220 1-95 1 18 1 7 1-32 1 7 1-57 1-87 1-83 1 208 1-26 1-5 1-7 1 47 1-60 1 12 1 53 1 12 1 42 1-202 1 52 1 109 1-54 1 17 1-52 1 87 1-54 1-152 1 147 1-78 1 131 1-251 1 193 1 11 1-16 1 52 1-127 1 67 1-62 1 80 1 19 1-47 1 33 1-60 1 35 1 255 1-267 1 135 1-79 1-45 1-90 1 37 1 37 1 102 1-57 1 39 1-5 1-135 1 152 1-32 1 26 1-9 1-19 1-62 1-39 1 146 1-54 1-131 1 129 1 1 1-49 1-29 1 7 1 78 1-140 1 102 1 43 1 27 1-120 1-69 1 41 1 33 1 15 1 75 1-21 1-178 1 202 1-5 1-21 1 9 1 5 1-57 1 82 1-85 1 19 1-93 1 107 1-43 1 54 1-55 1 37 1 35 1 19 1-6 1-138 1 127 1-35 1 42 1-3 1-107 1 145 1-159 1 38 1 146 1-155 1-46 1-44 1 220 1-126 1 48 1-41 1 61 1 46 1-71 1-39 1 64 1 6 1-15 1-60 1 81 1-5 1-24 1-9 1 92 1-137 1 60 1-95 1 127 1-23 1 27 1-18 1-32 1 4 1-148 1 121 1 78 1 73 1-242 1 118 1-2 1 36 1 12 1-22 1 9 1-5 1-35 1 93 1-138 1 102 1-95 1 81 1-13 1-7 1-82 1-82 1 208 1 76 1-100 1 13 1-15 1-180 1 130 1 123 1-42 1-25 1 113 1-164 1-68 1 316 1-193 1-84 1 119 1-71 1 5 1 84 1-71 1 89 1-75 1-156 1 63 1 94 1 9 1-80 1-16 1 71 1-11 1-33 1-44 1 30 1-57 1 18 1 68 1 20 1 53 1 17 1-71 1-40 1 10 1-89 1 153 1-135 1 129 1-7 1-60 1 73 1-139 1 182 1-96 1 48 1 2 1 99 1-26 1-118 1 51 1-188 1 43 1 62 1 58 1 17 1-46 1 14 1 147 1-140 1 59 1-101 1 63 1-31 1 24 1-4 1-102 1 35 1 34 1-33 1 47 1-3 1-77 1 93 1-20 1-75 1 208 1-157 1 29 1-16 1-43 1 53 1-10 1-71 1 27 1 63 1 42 1 69 1-212 1 49 1 99 1-2 1-88 1 3 1-1 1-32 1 143 1-51 1 29 1-80 1-5 1 57 1-42 1 19 1-112 1-81 1 222 1-4 1-77 1 83 1-10 1-16 1-6 1 46 1-116 1 73 1 86 1-30 1-134 1 89 1-34 1-63 1 58 1 167 1-195 1 26 1 18 1 41 1 6 1-87 1 22 1 38 1 16 1 21 1-74 1-1 1-15 1 35 1 73 1-20 1-47 1-80 1 79 1 105 1-206 1 147 1-120 1 1 1 122 1-25 1-44 1 9 1-16 1 8 1 79 1-28 1 50 1-33 1-64 1-15 1 12 1-54 1-88 1 202 1-66 1 26 1-111 1 141 1-89 1 66 1-52 1 44 1 7 1-14 1 31 1-125 1 160 1-159 1 128 1 61 1-93 1 9 1-27 1 60 1 3 1-28 1-54 1 69 1-172 1 39 1 20 1 126 1-79 1 79 1 37 1-12 1-70 1 51 1-75 1 49 1-60 1 28 1-40 1 5 1-28 1 158 1-37 1-28 1 44 1-66 1 79 1-39 1-6 1 71 1-50 1-149 1-5 1 204 1-97 1-74 1 58 1 19 1-3 1 7 1 53 1-96 1-74 1-23 1 149 1-72 1 270 1-224 1 17 1 11 1 8 1-15 1 18 1 26 1-115 1 163 1-79 1-112 1-101 1 226 1-19 1-86 1 79 1 20 1-84 1 39 1-3 1 94 1 23 1-150 1 150 1-75 1-36 1-19 1-26 1 124 1-27 1-85 1-56 1 44 1 86 1-61 1-5 1 27 1 87 1-43 1-42 1 37 1 18 1-51 1 31 1-102 1 100 1-19 1 2 1-66 1 32 1-39 1 41 1 39 1-56 1 51 1-2 1-125 1 119 1 69 1-180 1 313 1-223 1-45 1 71 1-70 1 175 1-168 1 50 1-3 1 70 1-49 1-58 1 36 1-51 1 232 1-101 1-28 1-107 1 113 1 0 1 1 1-205 1 317 1-169 1-109 1 111 1-67 1 273 1-160 1-44 1-25 1-45 1-46 1 183 1-140 1 23 1-10 1 85 1-23 1-50 1 20 1 118 1-164 1 97 1-224 1 62 1 67 1 60 1 73 1-15 1-111 1 8 1 76 1-29 1-127 1 139 1 4 1-18 1 10 1 35 1 27 1 46 1-180 1 21 1 65 1-92 1 93 1-38 1-19 1-4 1 149 1-167 1 219 1-136 1-29 1 58 1-43 1-99 1 64 1 135 1-62 1-57 1 5 1 100 1-54 1-103 1-37 1 59 1 83 1-250 1 153 1-74 1 172 1-117 1 37 1 27 1 51 1-97 1 148 1-128 1 86 1-189 1 148 1-21 1-103 1 164 1-71 1 87 1 80 1-122 1-19 1 63 1 97 1-150 1-10 1 25 1 12 1-1 1-85 1-115 1 200 1-139 1 47 1 95 1-74 1 100 1-103 1-19 1 61 1-10 1-5 1 21 1-14 1 76 1-99 1-79 1 115 1-15 1 60 1 41 1-52 1 22 1 47 1-141 1-24 1 15 1-69 1 142 1-76 1-87 1 94 1-12 1 34 1 1 1-67 1 55 1 128 1-112 1-1 1-132 1 105 1 40 1-7 1-61 1 61 1-81 1 40 1 159 1-112 1 5 1-53 1 126 1-62 1 30 1 17 1 12 1 39 1-158 1 17 1 75 1-132 1 133 1-57 1-33 1-13 1 123 1-134 1 202 1-278 1 116 1 68 1-35 1-56 1 68 1 27 1-122 1-34 1 107 1-14 1 85 1-61 1-18 1 24 1 20 1 2 1-36 1-142 1 82 1 59 1 8 1-80 1-13 1 93 1 40 1 34 1-127 1-130 1 239 1-224 1 199 1-8 1-30 1 23 1-34 1 7 1-40 1 111 1-108 1 85 1 42 1-54 1-64 1 21 1 95 1-80 1-98 1 191 1-58 1-49 1 72 1-96 1 41 1-139 1 13 1 135 1-30 1-44 1 18 1 38 1 6 1 8 1-18 1 32 1-41 1-23 1-18 1-46 1 101 1-11 1 54 1-96 1 122 1-80 1-14 1 157 1-90 1-60 1-37 1 43 1 89 1-102 1 64 1-68 1 8 1 25 1 83 1-190 1 162 1-106 1 53 1-75 1-31 1 26 1 0 1-2 1 21 1 37 1 23 1-19 1 14 1-74 1-11 1 92 1 40 1-210 1 185 1-54 1 180 1-165 1 16 1-3 1 23 1-58 1 109 1-123 1 3 1 95 1 140 1-217 1 53 1-53 1-59 1 63 1 45 1 34 1-23 1 74 1-172 1-15 1 124 1-42 1-11 1 26 1-68 1-10 1 105 1-47 1 145 1-150 1 6 1 1 1 18 1 7 1-100 1 150 1-84 1-9 1 110 1-121 1 95 1-72 1 68 1-54 1-223 1 161 1 45 1 90 1-109 1 9 1 6 1-14 1-2 1 124 1-93 1-26 1 63 1-55 1 2 1-52 1 71 1 10 1 28 1-3 1-77 1 45 1-17 1-17 1 103 1-79 1 78 1-88 1 83 1-115 1 33 1 53 1 1 1-30 1 54 1 1 1-231 1 144 1 43 1 39 1-186 1 196 1-89 1 21 1-37 1 151 1-55 1-73 1 111 1-149 1 80 1-88 1 11 1 3 1-16 1 110 1-45 1 0 1 25 1-58 1-58 1 40 1 105 1-65 1 4 1 113 1-125 1 18 1-76 1 83 1 40 1 12 1-169 1-24 1 136 1 34 1 44 1-60 1-10 1-15 1 10 1-155 1 103 1 25 1 111 1-158 1 175 1-200 1 153 1-105 1 66 1-18 1 34 1 104 1-183 1-10 1 0 1 16 1-9 1 84 1 20 1-9 1-83 1 17 1 37 1 37 1-110 1 102 1-190 1 122 1 20 1 36 1-66 1 109 1-131 1 110 1-205 1 105 1 59 1 10 1 81 1 18 1-159 1 22 1 9 1 28 1-28 1 58 1-42 1-60 1 24 1 52 1-39 1-33 1 76 1-17 1 66 1-234 1 187 1-44 1-2 1 67 1-146 1-1 1-63 1 156 1 83 1-130 1 43 1-24 1 29 1-34 1 4 1 61 1 1 1-31 1-86 1 64 1 21 1-43 1 73 1 45 1-93 1 51 1-67 1-93 1 93 1 6 1 25 1 6 1 35 1 10 1-8 1-147 1 109 1-93 1 84 1 63 1-58 1-79 1 127 1 9 1-102 1 27 1 60 1-31 1-9 1 20 1-2 1-44 1 149 1-112 1-132 1 72 1-36 1 33 1 303 1-489 1 200 1-72 1 113 1 44 1-157 1 91 1-25 1-43 1 74 1-42 1 24 1-6 1 117 1-84 1 111 1 42 1-114 1-22 1 52 1-286 1 170 1 8 1 42 1 37 1-84 1-69 1 148 1-70 1 92 1-9 1-58 1-136 1 117 1-4 1 72 1-40 1 14 1 15 1-66 1 0 1 171 1-370 1 271 1-125 1 129 1-70 1-28 1 55 1-5 1 12 1 7 1-129 1 17 1 22 1 133 1 78 1 7 1-202 1 198 1-79 1-81 1 81 1-57 1-32 1 76 1-31 1 35 1-69 1 11 1-57 1-47 1 172 1-16 1-22 1 25 1 184 1-219 1-12 1-16 1 10 1 104 1-85 1-29 1 11 1-42 1 94 1-33 1-16 1 54 1 29 1-14 1 28 1-116 1-8 1 44 1 54 1-32 1-5 1-5 1 56 1 31 1-126 1-36 1 56 1-85 1 53 1 41 1 43 1-66 1-2 1-80 1 84 1 107 1-96 1-144 1 242 1 64 1-165 1-9 1 30 1-63 1 78 1-51 1 47 1-120 1 138 1-4 1-36 1 45 1-48 1 39 1-16 1-27 1-91 1 145 1-19 1-47 1 16 1-20 1 60 1 19 1-71 1 33 1 1 1 48 1-176 1 115 1 8 1-142 1 165 1-86 1 63 1 23 1-111 1-13 1 30 1 45 1 57 1-150 1 170 1-70 1-29 1-23 1 123 1-90 1-58 1 100 1-24 1 30 1-132 1 78 1-15 1 172 1-128 1 13 1 10 1 18 1-80 1-45 1 89 1 17 1-104 1-52 1 248 1-114 1-119 1 30 1 9 1 27 1 112 1-15 1-28 1-49 1-75 1-49 1 174 1-33 1-17 1-50 1 148 1-72 1 0 1-30 1 18 1-22 1 27 1-73 1 34 1-59 1 84 1-51 1-8 1 109 1-42 1 24 1-79 1 124 1-30 1 16 1-68 1-16 1 0 1-55 1 44 1 52 1-40 1 69 1-69 1-3 1-18 1-94 1 243 1-27 1-79 1 13 1 35 1 35 1-193 1 65 1 81 1-92 1 11 1 92 1-68 1 32 1 10 1-47 1 66 1 30 1-92 1 108 1-33 1-70 1 77 1-106 1 103 1-104 1 40 1 30 1-24 1-45 1-41 1 187 1-113 1 64 1-29 1-110 1 181 1-72 1 10 1 13 1 224 1-132 1-127 1 8 1 34 1-98 1-28 1 115 1 131 1-108 1-42 1-11 1 72 1-67 1-62 1 95 1-30 1 104 1-104 1 23 1-22 1-32 1 89 1-40 1 55 1 48 1-117 1 149 1-120 1-85 1 1 1 187 1-199 1 98 1-71 1 50 1 2 1 101 1-139 1 12 1 28 1-23 1 11 1-27 1 65 1-286 1 173 1 70 1-69 1 28 1-28 1 88 1 133 1-1 1-197 1 68 1-28 1 74 1-233 1 111 1 77 1-161 1 9 1 143 1-2 1 7 1-39 1 20 1-12 1 86 1 0 1-72 1-29 1 37 1-13 1-40 1 25 1-25 1 173 1-214 1 169 1-44 1-25 1 53 1 49 1-212 1-20 1 143 1-43 1 11 1-54 1 81 1-2 1-2 1 64 1-75 1-29 1 31 1-52 1 104 1-27 1-71 1-127 1-53 1 249 1 39 1-25 1 39 1-28 1 48 1-131 1 4 1-58 1 112 1-143 1 179 1-129 1 59 1-62 1 70 1-1 1-3 1 74 1-50 1-48 1 89 1-162 1 101 1-37 1-8 1-7 1-75 1 26 1 119 1-12 1-7 1 77 1-104 1 106 1-57 1-51 1 93 1-58 1-79 1 104 1-33 1 105 1-192 1 150 1-147 1 15 1 71 1 56 1-88 1 3 1 52 1-10 1-161 1 122 1 67 1 40 1-46 1-132 1 62 1 11 1 39 1 31 1-39 1 5 1-38 1 46 1-27 1 20 1 55 1-34 1-102 1 110 1-37 1-76 1 46 1 52 1-16 1-31 1-24 1 119 1-154 1 23 1 13 1 47 1 3 1 73 1-12 1-38 1-174 1 26 1 94 1 32 1 21 1-77 1 93 1-171 1 271 1-187 1 56 1-23 1-109 1 95 1-30 1 5 1 76 1 31 1-45 1 47 1-85 1-34 1-21 1 177 1-198 1 127 1-29 1 93 1-137 1 62 1 65 1-79 1 5 1 14 1-198 1 202 1-42 1 19 1 13 1-22 1-66 1 48 1 32 1 35 1 7 1-69 1-44 1-17 1 168 1-70 1-52 1 112 1-180 1 126 1-49 1-4 1-1 1 67 1-49 1 93 1-91 1 83 1-184 1 172 1-26 1-56 1 0 1 22 1 73 1-63 1-36 1 27 1 209 1-208 1 85 1-105 1 33 1-64 1 80 1-42 1-80 1 72 1 125 1 34 1-134 1 2 1-108 1 157 1-113 1-91 1 147 1 20 1-34 1 51 1-53 1 61 1-16 1 159 1-275 1 39 1 115 1-59 1-18 1 8 1-15 1-69 1 59 1-92 1 95 1 21 1-74 1 81 1-5 1-33 1 40 1-62 1 52 1 98 1-175 1 188 1-156 1 52 1-49 1-5 1 11 1 16 1 60 1-99 1 17 1-126 1 171 1-79 1 67 1 12 1-6 1 23 1-104 1 110 1-109 1 116 1-68 1 53 1-53 1-14 1 67 1-27 1-38 1 53 1-94 1-3 1 40 1 38 1 15 1-27 1 35 1 56 1-197 1 44 1 29 1 99 1-96 1 9 1 52 1 62 1-38 1-93 1 42 1 18 1 78 1-158 1 52 1 2 1-17 1 42 1-28 1-81 1 125 1-36 1 88 1-224 1 225 1-86 1 77 1-69 1-165 1 216 1-83 1 99 1-53 1-89 1 160 1-71 1-63 1 35 1-76 1 172 1-117 1 63 1-191 1 162 1 26 1-3 1-32 1-27 1-27 1 2 1 36 1 24 1-69 1 63 1 24 1-12 1-143 1 180 1-162 1 190 1-21 1-40 1 71 1-64 1 30 1 40 1-113 1 11 1-110 1 87 1-19 1-32 1 121 1-45 1-92 1 135 1-110 1 69 1 59 1-147 1 40 1 184 1-22 1-86 1-39 1 29 1-15 1-6 1 1 1-9 1 30 1 58 1-34 1-88 1-39 1 81 1 13 1-3 1-41 1-81 1 93 1 20 1-14 1 87 1-63 1 3 1-2 1 37 1 22 1-47 1-33 1 49 1 1 1 17 1 156 1-259 1 86 1-34 1-21 1 15 1-27 1 7 1 24 1 54 1-2 1-53 1-1 1 159 1-143 1-36 1 31 1 65 1-72 1-30 1 4 1 24 1-5 1-14 1-7 1 48 1-98 1 222 1-126 1-57 1 99 1-15 1 37 1-90 1-34 1 3 1 135 1-201 1 72 1 32 1 60 1-185 1 166 1-35 1-24 1 141 1-57 1-111 1 35 1-8 1 38 1-45 1 9 1 15 1 14 1 106 1-146 1-35 1 39 1 33 1 18 1-28 1 51 1-70 1 14 1 24 1 103 1-55 1-92 1 47 1 9 1-88 1 55 1-119 1 121 1-4 1 84 1-52 1 15 1 18 1-48 1-53 1 101 1-31 1-207 1 212 1-39 1 59 1 25 1 19 1-43 1-18 1-43 1 48 1 1 1 118 1-159 1 5 1 53 1-74 1-67 1-129 1 156 1 23 1 16 1-29 1-59 1 35 1 170 1-50 1-36 1-100 1 132 1 63 1-21 1-91 1 39 1-2 1 63 1-142 1 201 1-164 1 65 1-28 1-30 1 94 1-8 1-90 1 62 1-108 1-16 1 121 1 154 1-167 1-25 1-45 1-34 1 99 1-150 1 150 1 28 1-69 1-140 1 211 1-66 1-10 1 80 1 77 1-61 1-33 1-62 1-15 1-3 1-25 1 24 1 77 1-7 1-82 1 30 1 45 1-66 1 65 1-47 1 51 1-43 1-156 1 179 1 141 1-239 1 43 1 122 1-205 1 60 1 142 1 6 1-104 1 61 1-38 1-63 1 100 1-10 1 68 1-112 1 5 1-131 1 222 1-147 1 4 1 47 1 19 1-45 1 54 1-97 1 66 1 35 1-21 1-49 1-3 1-59 1 145 1-102 1-22 1-43 1 182 1 31 1-44 1-54 1 120 1-101 1-5 1-25 1 24 1 2 1 138 1-169 1 51 1-69 1-163 1 155 1 11 1 102 1-48 1 69 1-48 1 33 1-24 1-13 1 24 1-82 1 132 1-59 1-56 1 27 1 54 1 51 1-105 1 62 1-94 1-16 1 60 1-17 1 121 1-125 1 74 1-92 1-118 1 143 1-62 1 108 1-160 1 63 1 132 1-11 1-77 1 16 1 83 1-69 1-147 1 170 1 28 1-112 1 51 1-60 1-160 1 227 1 0 1-57 1-7 1 16 1 14 1 27 1-40 1 35 1 6 1-43 1 48 1 10 1-14 1-26 1-23 1 27 1 57 1-4 1 6 1-109 1 67 1 34 1-9 1-85 1 88 1-22 1 58 1-105 1 25 1-16 1 117 1-200 1 201 1-49 1-25 1-33 1-10 1-12 1 109 1-81 1-29 1 85 1-79 1 33 1-38 1 105 1-68 1-76 1 262 1-210 1 62 1-180 1 112 1 42 1-63 1 34 1-12 1 15 1-45 1 103 1-56 1-49 1 87 1-10 1-8 1-38 1 40 1 2 1-36 1-47 1 151 1-94 1 55 1-89 1 37 1 19 1-57 1 117 1-37 1-130 1 131 1 7 1 6 1-71 1 26 1-6 1 15 1 0 1 107 1-152 1 0 1-36 1 106 1-103 1-53 1 81 1 118 1-126 1 2 1 11 1 77 1-102 1 100 1-146 1 241 1-80 1-75 1 41 1-129 1-3 1 168 1-86 1 71 1 19 1-70 1-127 1 81 1 175 1-92 1-57 1 77 1-52 1 51 1-104 1 4 1 37 1-106 1 144 1 9 1-76 1 183 1-119 1-47 1 19 1 77 1-41 1-35 1 18 1 10 1-123 1 124 1-102 1 152 1-8 1-58 1-42 1 115 1-95 1-116 1 79 1 101 1-52 1 67 1-119 1 60 1 116 1-229 1 129 1-39 1-20 1 18 1-96 1 11 1 61 1 19 1 36 1-177 1 135 1 140 1-70 1-59 1 152 1-231 1 204 1-127 1 4 1 44 1 106 1-113 1-111 1 185 1-112 1-107 1 87 1 8 1-1 1-19 1 1 1 180 1-140 1 52 1-146 1 116 1 106 1-133 1-16 1-124 1 150 1-89 1 14 1 6 1 208 1-188 1 79 1-14 1-80 1 126 1 36 1 12 1-153 1-10 1 35 1 18 1 41 1-63 1 17 1 15 1-32 1 0 1 57 1-90 1 110 1 19 1-105 1 24 1-78 1 139 1-107 1 139 1-107 1 64 1 103 1-206 1 89 1-66 1 101 1-19 1-64 1 11 1 56 1-79 1-51 1 196 1-145 1-63 1 144 1-116 1 87 1-9 1-100 1-26 1 175 1-44 1-42 1 15 1-5 1-15 1-59 1-16 1 81 1 29 1 42 1-22 1 32 1-87 1-22 1-229 1 235 1 116 1 4 1 7 1-124 1-7 1 53 1-36 1 43 1 88 1-15 1-122 1 41 1-15 1-86 1 35 1 140 1-221 1 181 1 8 1-79 1 19 1-72 1 64 1-25 1 72 1-42 1-58 1 128 1-58 1 19 1-30 1 73 1-33 1-7 1-43 1 138 1-221 1 158 1 35 1-120 1 89 1-49 1 57 1-158 1 45 1 85 1 28 1-157 1 113 1-108 1 280 1-156 1-161 1 97 1 36 1-52 1 59 1-10 1 51 1-75 1 12 1-59 1 80 1-39 1-3 1 117 1-1 1-165 1 88 1-40 1 24 1 45 1-64 1-8 1 13 1 117 1-189 1 132 1-55 1-15 1 63 1 129 1-113 1-152 1 150 1-100 1 148 1-42 1-84 1 60 1-72 1 191 1-103 1-61 1 54 1 15 1-20 1 33 1-4 1 82 1-169 1-12 1 43 1 70 1-125 1 110 1-18 1-201 1 169 1 81 1-124 1 21 1 114 1-90 1 45 1-108 1 68 1-64 1-1 1 34 1-14 1 6 1 78 1-60 1-26 1 121 1-77 1-44 1-64 1 130 1-107 1 47 1-14 1 69 1-18 1 86 1-48 1-45 1 230 1-152 1-64 1-65 1-7 1-23 1 119 1-27 1-49 1-3 1 103 1-170 1 195 1-100 1-65 1 70 1 64 1-39 1-53 1-6 1-5 1 50 1 138 1-102 1 53 1-45 1-74 1-70 1 246 1-235 1 173 1-121 1-53 1 128 1 42 1-150 1 8 1 67 1 4 1-4 1-52 1-10 1-5 1 88 1 38 1-40 1-133 1 72 1-36 1-99 1 172 1 6 1 70 1-77 1 17 1-64 1 69 1 101 1-67 1 57 1-19 1-39 1-71 1-14 1 17 1 39 1-42 1 8 1 89 1-72 1-86 1 120 1 53 1-24 1-84 1 52 1 40 1-149 1-21 1 91 1-7 1-6 1-31 1-73 1 175 1-36 1 132 1-147 1-36 1 69 1 23 1-18 1-87 1 14 1-69 1 169 1-43 1-85 1 70 1 44 1 18 1-78 1 31 1 5 1-111 1 202 1-106 1-50 1 33 1-134 1 46 1 144 1 62 1-138 1-60 1 67 1 30 1-25 1 52 1 19 1-3 1-158 1 135 1-59 1 50 1-66 1-20 1 84 1-100 1 75 1-38 1 76 1-122 1 73 1 23 1-26 1 8 1 22 1-57 1-58 1 88 1 14 1-1 1 19 1 10 1-49 1 83 1-96 1 86 1-24 1-15 1-8 1-15 1-9 1 48 1-100 1 102 1-7 1-56 1 25 1 44 1 3 1-37 1-3 1-120 1 196 1-42 1-47 1 34 1-28 1-135 1 160 1-2 1-2 1 17 1-87 1-53 1 101 1-132 1 170 1-7 1-60 1 101 1-117 1 64 1-26 1 21 1-15 1 24 1-20 1 61 1-48 1-38 1 50 1-139 1 97 1-20 1 125 1-120 1-7 1-49 1 6 1 75 1 11 1 18 1-87 1 131 1 30 1-58 1-89 1 28 1 37 1 54 1-123 1 23 1 22 1-94 1 99 1-74 1 86 1 4 1-9 1 51 1-42 1-46 1 19 1-156 1 46 1 54 1 149 1-47 1-224 1 243 1-13 1-141 1 131 1-94 1 151 1-55 1-43 1 75 1-58 1 15 1-14 1 52 1-133 1 44 1 88 1-143 1-38 1 247 1-102 1-31 1 64 1-184 1 64 1 53 1 68 1-52 1-19 1 15 1 21 1 29 1 72 1-143 1 125 1 4 1-129 1 62 1-22 1-48 1 41 1-67 1 26 1-4 1 96 1-135 1 83 1-209 1 145 1 13 1 121 1-136 1 117 1-17 1-5 1 31 1 63 1-77 1 44 1-171 1 74 1 9 1-49 1 105 1-107 1 7 1 63 1-45 1 15 1 53 1-187 1 91 1-11 1-10 1 24 1 71 1-121 1 98 1-78 1 22 1 57 1-27 1 36 1 66 1-71 1 11 1 44 1-64 1-114 1 160 1-29 1 3 1 61 1-51 1-92 1 237 1-161 1-6 1 77 1-100 1 10 1 25 1 80 1-87 1 40 1-22 1-45 1-14 1-4 1 71 1-85 1 28 1-40 1 141 1-87 1-30 1 4 1 10 1 0 1 31 1-218 1 193 1 57 1 4 1-44 1-34 1-3 1 63 1-87 1 77 1-4 1-14 1-208 1 178 1 83 1-161 1 128 1-77 1 15 1-41 1 133 1-40 1 17 1-92 1 115 1-82 1 148 1-192 1 75 1 60 1-93 1 43 1-44 1-164 1 235 1 30 1-227 1 127 1 41 1-55 1 83 1 104 1-139 1 1 1 33 1 73 1-144 1 46 1-92 1 237 1-54 1 19 1-74 1-25 1-4 1 36 1-75 1-34 1-52 1 85 1 110 1-82 1 19 1-21 1 76 1-32 1 119 1-213 1 79 1-33 1-100 1 75 1-45 1 66 1-175 1 154 1-27 1 80 1 55 1-48 1-27 1-43 1 226 1-121 1-20 1-37 1 12 1-128 1 70 1 86 1 9 1-48 1 111 1-135 1-15 1 46 1-49 1-15 1 80 1-81 1 82 1-75 1 31 1 3 1 39 1-76 1-56 1 99 1 17 1-189 1 130 1 32 1-12 1 6 1-87 1 90 1 69 1-96 1 82 1-3 1-13 1-37 1-27 1 71 1-84 1 85 1 15 1-63 1 197 1-110 1 0 1-120 1 54 1 5 1 49 1-57 1-148 1 115 1 5 1 49 1-79 1-13 1 131 1-64 1 22 1 19 1-46 1 26 1-53 1-22 1 57 1 95 1-175 1 98 1-9 1-12 1 47 1-84 1 23 1 69 1 33 1-22 1-136 1-70 1 93 1 24 1 31 1 110 1-130 1-19 1 49 1-50 1 42 1-73 1 82 1 14 1-44 1 87 1 1 1 9 1-92 1 65 1 1 1-65 1 33 1-41 1 15 1 27 1-42 1 19 1 53 1-106 1 13 1-3 1 7 1-11 1 127 1-152 1 34 1 79 1-7 1-32 1 12 1-173 1 171 1 38 1-95 1 56 1-7 1 70 1-68 1 54 1-9 1-23 1-71 1-43 1 21 1 29 1 83 1-119 1 130 1-52 1-53 1-39 1 118 1-14 1-132 1 95 1 83 1 23 1-66 1-48 1-8 1 3 1 65 1-20 1 57 1-99 1 34 1-60 1 16 1 69 1-128 1 187 1-134 1 111 1-69 1 175 1-168 1 71 1-146 1 88 1-2 1 67 1-53 1-91 1 53 1-30 1 37 1-85 1 94 1 0 1 62 1 81 1-178 1-114 1 136 1 17 1-14 1 47 1-1 1 9 1-118 1 34 1 81 1-91 1 131 1-122 1 138 1-76 1-23 1-45 1-19 1 60 1 13 1-1 1-51 1 23 1 70 1-73 1 21 1-19 1 11 1 54 1-75 1-12 1 43 1 44 1-131 1 42 1 170 1-188 1 23 1 5 1 33 1 84 1-140 1 10 1 61 1-1 1 50 1-142 1 105 1-13 1-56 1-31 1-25 1 162 1-121 1 61 1-22 1 58 1-33 1 28 1 18 1-183 1 106 1 110 1-83 1 6 1-127 1 41 1 94 1-87 1 132 1-114 1 122 1-142 1 65 1 47 1-34 1-20 1 65 1-42 1-35 1 16 1 28 1-9 1-103 1 116 1 9 1 14 1-68 1 83 1-46 1-35 1-13 1-36 1 168 1-108 1 5 1 23 1-77 1 160 1-145 1 45 1-10 1 7 1-43 1 4 1 31 1 31 1-53 1 53 1 67 1-81 1 20 1-85 1 40 1-45 1 35 1 47 1 0 1-26 1-59 1 12 1 208 1-150 1 62 1-51 1 18 1-166 1 177 1-36 1 5 1 2 1 29 1-23 1-111 1 102 1-63 1 108 1-53 1 43 1-108 1-17 1-61 1 245 1-73 1-34 1 49 1-72 1 30 1-27 1 78 1-110 1 125 1-26 1-58 1 116 1-131 1 57 1-57 1 35 1-4 1-14 1-29 1 27 1 48 1-71 1 50 1-19 1 59 1-110 1 71 1-73 1 38 1-24 1 42 1-102 1 61 1-26 1-3 1 103 1-135 1 82 1-7 1 7 1-8 1 31 1-10 1-48 1 25 1 8 1 65 1-102 1-25 1 99 1 21 1 2 1-1 1-27 1 128 1-139 1-94 1 110 1-63 1-105 1 207 1-76 1-1 1 143 1-232 1 16 1 1 1 48 1 109 1-3 1-101 1-78 1 201 1 19 1-139 1-29 1 43 1 1 1-90 1 57 1 1 1 113 1-87 1-13 1 24 1-128 1 199 1-17 1-37 1-4 1-26 1 42 1-24 1-47 1 18 1 6 1 29 1 16 1-92 1 64 1 11 1-39 1 123 1-52 1-114 1-7 1 69 1 55 1-50 1 38 1-82 1 93 1-132 1 13 1 151 1-75 1-41 1 17 1 22 1-41 1 116 1-29 1 74 1-18 1-218 1 131 1-37 1 1 1 121 1-57 1-63 1 24 1 287 1-230 1-77 1 72 1-106 1-2 1 11 1-22 1 218 1-222 1 94 1 9 1-66 1 101 1-34 1 10 1 6 1 19 1-151 1 77 1 62 1-80 1-1 1 31 1-66 1 160 1-94 1 149 1-275 1 79 1-30 1 15 1 88 1-14 1-11 1-140 1 61 1 44 1 23 1 13 1-21 1 298 1-381 1 135 1 136 1-113 1-32 1-41 1-63 1 47 1 12 1-139 1 15 1 145 1 21 1-85 1 72 1 47 1-69 1 23 1 86 1-98 1 38 1 1 1-39 1 109 1-132 1 143 1-92 1-60 1 103 1-172 1 86 1 127 1-197 1 109 1 42 1-75 1-31 1 22 1-5 1 17 1 84 1-106 1 78 1 29 1-52 1-17 1-118 1 111 1 18 1-58 1-101 1 210 1 19 1-99 1 24 1-25 1-21 1 2 1-178 1 42 1 226 1-65 1 9 1-15 1 74 1-72 1-9 1-23 1 21 1 68 1-7 1-20 1-102 1 103 1 50 1-310 1 171 1 131 1-114 1 80 1-10 1-24 1-35 1 52 1 32 1-83 1 198 1-97 1 77 1 4 1-173 1 102 1-58 1-26 1 3 1 26 1-126 1 177 1-10 1-11 1-52 1 2 1-9 1 80 1-43 1-135 1 58 1 96 1 53 1-39 1-107 1 11 1-38 1 89 1-14 1 21 1-171 1 17 1 69 1 69 1-78 1 86 1-51 1 16 1 70 1-14 1 13 1-113 1 20 1-17 1 36 1 1 1 173 1-252 1 95 1-8 1 52 1-127 1 134 1 21 1-35 1-2 1-112 1 70 1 32 1-41 1 44 1 5 1-90 1 215 1-251 1 130 1-22 1-101 1 107 1-54 1 4 1 65 1-20 1-11 1 49 1 20 1-33 1 0 1-93 1 115 1 8 1-75 1-9 1 85 1-81 1-123 1 162 1-121 1 125 1 4 1-9 1-61 1 18 1 83 1-128 1 22 1 16 1 38 1 34 1-7 1-83 1 85 1-63 1-23 1 77 1-31 1-76 1 118 1 0 1-194 1 64 1 66 1 54 1 70 1 11 1-140 1 63 1-14 1-99 1 87 1-81 1 83 1-70 1 171 1-133 1 82 1-2 1-5 1-6 1-82 1 62 1 46 1-26 1-76 1 141 1-176 1 64 1-65 1 247 1-251 1 90 1-34 1 23 1 33 1-64 1-4 1 61 1-50 1 126 1-76 1-32 1-195 1 179 1 30 1-136 1 132 1-73 1 73 1 27 1 13 1-64 1-45 1 11 1 36 1 59 1-14 1-101 1 76 1 33 1 1 1-92 1 67 1-122 1 87 1-117 1 44 1 67 1-37 1-35 1 63 1 2 1 114 1-78 1-61 1 52 1-33 1 114 1-32 1-61 1 76 1-128 1 36 1-14 1 54 1-65 1 35 1 55 1 14 1 15 1-81 1 60 1 35 1-94 1 11 1 44 1-62 1-39 1 112 1-47 1-78 1 92 1 81 1-102 1-36 1-90 1 61 1 15 1 114 1-126 1-103 1 143 1 65 1-11 1-17 1-95 1 16 1 60 1-9 1 18 1-44 1 10 1 2 1-13 1 109 1 37 1-53 1 25 1-157 1 130 1-51 1-11 1-42 1-12 1 17 1 30 1 77 1-73 1 27 1-13 1 47 1-9 1-42 1 23 1 16 1-74 1-59 1 131 1-22 1-85 1 75 1 67 1-87 1-39 1 37 1 127 1-167 1 16 1-84 1 121 1 30 1-46 1 26 1 58 1-65 1 64 1-87 1 45 1 92 1 18 1-156 1 77 1 28 1-148 1 6 1 6 1-95 1 109 1 65 1 3 1 146 1-229 1 149 1-65 1-45 1 57 1-115 1 168 1-84 1 65 1-41 1-2 1 60 1-21 1 0 1-7 1-26 1 180 1-300 1 67 1-59 1 60 1 14 1-3 1 34 1 4 1 66 1 9 1-23 1-158 1 153 1-126 1 75 1-58 1 10 1-39 1 120 1-13 1-56 1-81 1 101 1-221 1 224 1 109 1-150 1 35 1-73 1 75 1-71 1-8 1 156 1 76 1-250 1 180 1-58 1-24 1 2 1 36 1-129 1 61 1 2 1 69 1-87 1 37 1-61 1 36 1-23 1-94 1 192 1-57 1 49 1 0 1-5 1 10 1 7 1-74 1 57 1 81 1-69 1 78 1-88 1-23 1-155 1 174 1 42 1-78 1 7 1-43 1 12 1-53 1 134 1-15 1-68 1 49 1-291 1 224 1-49 1 170 1-184 1 116 1 133 1-92 1-64 1-65 1 59 1-265 1 182 1 177 1-85 1 38 1 12 1 78 1-127 1 6 1-69 1 102 1-70 1 107 1-88 1-18 1 109 1-66 1-63 1-38 1 121 1-130 1 81 1 44 1 92 1-56 1 26 1-35 1-2 1-41 1-39 1-13 1-8 1 144 1-96 1 8 1-77 1 106 1-78 1-11 1 108 1 17 1-58 1-51 1 35 1 37 1 8 1-34 1-17 1 10 1-58 1 101 1-87 1 77 1-43 1 12 1 7 1-56 1 156 1-145 1 87 1 42 1-12 1-209 1 195 1 1 1-68 1 103 1-31 1 14 1-10 1-43 1-11 1-56 1-13 1-58 1 126 1 83 1-148 1 103 1-21 1 165 1-97 1-273 1 194 1-6 1-78 1 56 1 39 1 11 1-89 1 65 1-4 1-112 1 155 1-78 1 122 1-122 1 35 1 13 1-3 1 79 1-50 1-90 1 8 1 75 1-60 1 27 1-168 1 212 1-70 1-13 1 75 1-30 1-11 1 125 1-208 1 48 1 66 1-90 1 136 1-119 1 48 1-42 1 148 1-126 1 26 1 16 1 17 1 45 1-156 1 5 1 131 1-116 1 81 1 30 1-228 1 111 1 76 1-48 1 45 1-198 1 214 1-157 1 6 1 93 1-6 1-38 1 122 1-181 1 32 1 109 1-10 1 114 1-228 1 156 1-109 1 92 1-26 1-9 1 104 1-122 1 106 1-111 1 41 1-57 1 68 1 30 1-6 1-31 1-7 1-19 1 0 1 105 1-121 1-12 1 36 1-38 1-13 1 182 1-103 1-56 1 10 1 71 1-104 1 59 1-19 1 40 1-102 1 33 1 112 1-116 1 32 1 24 1-115 1 205 1-119 1 31 1-58 1 35 1 43 1-53 1-5 1-136 1 189 1 57 1-124 1 32 1 63 1-33 1-33 1-5 1 100 1-29 1-45 1-101 1 15 1 174 1-182 1 123 1-31 1-131 1 9 1 190 1-210 1 79 1-17 1 111 1-19 1-42 1-19 1 49 1 65 1-51 1-48 1-69 1 121 1-171 1 83 1 278 1-160 1-247 1 186 1-89 1 150 1-32 1 27 1-81 1 27 1 76 1-21 1-54 1-8 1-90 1 138 1-33 1-8 1-23 1 25 1-39 1 16 1 198 1-223 1 80 1-1 1-160 1 191 1-93 1-42 1 35 1 39 1 7 1 53 1-37 1-8 1-156 1 81 1 28 1-85 1 204 1 35 1-130 1 13 1-31 1-5 1 1 1 40 1-61 1 112 1-95 1 64 1 31 1-110 1 64 1-26 1-41 1 221 1-175 1-28 1 45 1-10 1 67 1 18 1-83 1 24 1-28 1-213 1 275 1-9 1 38 1-191 1 94 1-111 1 77 1 177 1-77 1-35 1-13 1 104 1-151 1-32 1 65 1-99 1 228 1-174 1 1 1 299 1-273 1 110 1-202 1 107 1-60 1 25 1 34 1-98 1 79 1 151 1-167 1-5 1 238 1-160 1-99 1 27 1 106 1-24 1-69 1-12 1 86 1-63 1 19 1 3 1 57 1-64 1-17 1-16 1 63 1-88 1 200 1-117 1-89 1 49 1 15 1-32 1 5 1 17 1-47 1-42 1 144 1 11 1-76 1 38 1-44 1-92 1 33 1-167 1 310 1-27 1-50 1-6 1 48 1-38 1 6 1 67 1-92 1 79 1-24 1-29 1 45 1-50 1-7 1 43 1-29 1 140 1-146 1 210 1-209 1-4 1 15 1-12 1-11 1 11 1 55 1-18 1-3 1-117 1 109 1-62 1 46 1 3 1-43 1-6 1 2 1 67 1 39 1-215 1 173 1-15 1-79 1 190 1-150 1-14 1 92 1-101 1-3 1 104 1-92 1 104 1-140 1 127 1 29 1-1 1-16 1-23 1-146 1 102 1-103 1 65 1 77 1 5 1-13 1-27 1-15 1 153 1-59 1-100 1 65 1 39 1-48 1 59 1-95 1-117 1 128 1 15 1-47 1 156 1-160 1 31 1-11 1-4 1 32 1-79 1 61 1-28 1 77 1-100 1 47 1-62 1 59 1-92 1 107 1-38 1 43 1 258 1-211 1-82 1-37 1 16 1 58 1 0 1-8 1-5 1 117 1-232 1 89 1 20 1-32 1 32 1-36 1 57 1 17 1-97 1 109 1-30 1 24 1 35 1-123 1 4 1 27 1 27 1-25 1-156 1 328 1-176 1-40 1 19 1-63 1 56 1 148 1-13 1-63 1 41 1-120 1 108 1-24 1 31 1-56 1 109 1-118 1 34 1-35 1-83 1 150 1-71 1 93 1-32 1 19 1-20 1-43 1 17 1 36 1-104 1 62 1-9 1-77 1-189 1 165 1 174 1-48 1-34 1-48 1 123 1-129 1 103 1-80 1 10 1 50 1 27 1-142 1 20 1 90 1 3 1 2 1 30 1-77 1 16 1 20 1-36 1 41 1-26 1 13 1 89 1-90 1-119 1 4 1 65 1 32 1 19 1 32 1-30 1-40 1 41 1-21 1 76 1-134 1 12 1 91 1-147 1 60 1 102 1-55 1 84 1-83 1-2 1-192 1 292 1-51 1-51 1 109 1-104 1-2 1-2 1-122 1 38 1 64 1 77 1-75 1-152 1 152 1-92 1 72 1 64 1-33 1-5 1-21 1-18 1 124 1 25 1 22 1-151 1 23 1-183 1 150 1 91 1-101 1 65 1-4 1 37 1-59 1-14 1-34 1 2 1 70 1-38 1 94 1-14 1-243 1 210 1-21 1 97 1-154 1 107 1-88 1-10 1 60 1-35 1-21 1 114 1-92 1 126 1-176 1 193 1-105 1-26 1 26 1-106 1 128 1 58 1-4 1-85 1 13 1-6 1-61 1 100 1-54 1-19 1-67 1 128 1-24 1-13 1 62 1-121 1 102 1-13 1-26 1 92 1-97 1 93 1-136 1 125 1-82 1-10 1 170 1 0 1-115 1-147 1 53 1 120 1-33 1 85 1-148 1 73 1-41 1-12 1 114 1-170 1 11 1-11 1 51 1-49 1 24 1 75 1 12 1-135 1 10 1 75 1 87 1-49 1-23 1-22 1 163 1-274 1 130 1 35 1-39 1-24 1-48 1 96 1-33 1-52 1 56 1 24 1 7 1-71 1-11 1 105 1-46 1-78 1-37 1 19 1 96 1 27 1-33 1-89 1 102 1 13 1-59 1-11 1-53 1 56 1 88 1-41 1 46 1-53 1-13 1 47 1 27 1-141 1 5 1 54 1 13 1 24 1-11 1 25 1 13 1-37 1 5 1-64 1 51 1 19 1-73 1 120 1-168 1 74 1-24 1 28 1 2 1-42 1 84 1 187 1 78 1-274 1 7 1-46 1 9 1-7 1-33 1 106 1-18 1-71 1 62 1-2 1-64 1 89 1 53 1 11 1-160 1 73 1-16 1-90 1 26 1 123 1-62 1-70 1 14 1 40 1-76 1 153 1 31 1-58 1-38 1 42 1 39 1-32 1 19 1-97 1-15 1-56 1 131 1-2 1 2 1-68 1 48 1-66 1 93 1-82 1 66 1 48 1-57 1-49 1 14 1 58 1-35 1 20 1-96 1 143 1 35 1-105 1 20 1 40 1-114 1-14 1 70 1 10 1 21 1-77 1 77 1-14 1-111 1 126 1-72 1-44 1 98 1-127 1 223 1-87 1 32 1-11 1 24 1-46 1 13 1-23 1-95 1 209 1-108 1 32 1-46 1 57 1-77 1-94 1 62 1 28 1 46 1-12 1-44 1-72 1-21 1 72 1 28 1 120 1-39 1-35 1-32 1 149 1-190 1 25 1 76 1-52 1-51 1-8 1 25 1 51 1-85 1 46 1-15 1 60 1-135 1 53 1 5 1-79 1 77 1 115 1-206 1 195 1-34 1-54 1-18 1 148 1-191 1 148 1-68 1-20 1 175 1-128 1-20 1-7 1 58 1-29 1 129 1-108 1 39 1 44 1-146 1 90 1-22 1 3 1 23 1-41 1 43 1-35 1-126 1 155 1 4 1-28 1 1 1-105 1 103 1-173 1 129 1 30 1 56 1-70 1-25 1 66 1-91 1 23 1 71 1-50 1-79 1 27 1 184 1-197 1 99 1-29 1-17 1-36 1 134 1-45 1-40 1 3 1 46 1-61 1-53 1 73 1-53 1 19 1-10 1 26 1 27 1-184 1 170 1-9 1 108 1-64 1 71 1-120 1 89 1-143 1-39 1 161 1-36 1 21 1-21 1-37 1 77 1-124 1 64 1 8 1 62 1-91 1 79 1-63 1 10 1 54 1-166 1 114 1-93 1 83 1 75 1-105 1 0 1 74 1 39 1-133 1 58 1 17 1-7 1 20 1-167 1 69 1 4 1 123 1 76 1-160 1 56 1-43 1 116 1-125 1-68 1 105 1 43 1-87 1 78 1-110 1 18 1 106 1-85 1 1 1-27 1 1 1 5 1-19 1 36 1 66 1-44 1-94 1 62 1 61 1-81 1-15 1-2 1 57 1 18 1-11 1-33 1-2 1 19 1 61 1-4 1-25 1 69 1-78 1-32 1 57 1-115 1 124 1-63 1 91 1-48 1-51 1 81 1-97 1 11 1-99 1 156 1-43 1 35 1 31 1-50 1-64 1 32 1 6 1 46 1 48 1-129 1 167 1-53 1-131 1 63 1 79 1-65 1 27 1-45 1-11 1 53 1 49 1-19 1 62 1-144 1-8 1 63 1 3 1-86 1 16 1 64 1 63 1-142 1 29 1 54 1-57 1 59 1-82 1 183 1-118 1 30 1-20 1-50 1 33 1-23 1 56 1 146 1-259 1 123 1 10 1-12 1-23 1-93 1 1 1 21 1 28 1 27 1 36 1-7 1 54 1-217 1 70 1 81 1-20 1 68 1 149 1-242 1 79 1-116 1 24 1 54 1-73 1 91 1-61 1-8 1 37 1-262 1 349 1 52 1-114 1 24 1 40 1-73 1-68 1 49 1-40 1 2 1 55 1-23 1-27 1 74 1-2 1 52 1-131 1-84 1 101 1-7 1 89 1 33 1-139 1-3 1 105 1-78 1 4 1 82 1-89 1 28 1 70 1-96 1 97 1-42 1-62 1-17 1 225 1-247 1 84 1 10 1-37 1 24 1-12 1 1 1 28 1 60 1-130 1 60 1 54 1-96 1-14 1 70 1 83 1-43 1-60 1-95 1 79 1 56 1-37 1 86 1-84 1 43 1-49 1 115 1-110 1-67 1 3 1 199 1-188 1-24 1-6 1 5 1 71 1-168 1 264 1-127 1 38 1-30 1-26 1 100 1-107 1 0 1 129 1-25 1 64 1-161 1-38 1 57 1 64 1-149 1 118 1-2 1 36 1-116 1 187 1-75 1 22 1-84 1-42 1-7 1 99 1 29 1-42 1-61 1-3 1 125 1 3 1-126 1 12 1 73 1-32 1 16 1-20 1-8 1 15 1-33 1-15 1-55 1 89 1 7 1-37 1 3 1 85 1-15 1-51 1-14 1-109 1 152 1 5 1-4 1 42 1 25 1-70 1-112 1 5 1 58 1-44 1 72 1 82 1-7 1-27 1-7 1-56 1-34 1 95 1-28 1-83 1 79 1 22 1 82 1-171 1 72 1-29 1-3 1 3 1 29 1-142 1 180 1-20 1 80 1-286 1 110 1 94 1-10 1-30 1-34 1-3 1 73 1 12 1-77 1 87 1-64 1-30 1 9 1 57 1-90 1 262 1-123 1-141 1 113 1 43 1-111 1 82 1-105 1 14 1-98 1 311 1-206 1 43 1 38 1-2 1-130 1 13 1 50 1 22 1 55 1-39 1 48 1-54 1-31 1 27 1-130 1 84 1 74 1 74 1-78 1-41 1-59 1 102 1 10 1-117 1 89 1-3 1-32 1 64 1-78 1 36 1 66 1-149 1 85 1-15 1 74 1-80 1-65 1 139 1 87 1-200 1 58 1-78 1 134 1-90 1 51 1-61 1 1 1 140 1-6 1-88 1-62 1 106 1 55 1-84 1 75 1-136 1 2 1 108 1-76 1 11 1-19 1-30 1-3 1-157 1 202 1-134 1 119 1-44 1 26 1 88 1 25 1-25 1-30 1-34 1 20 1-22 1 58 1 2 1-45 1-52 1 14 1 104 1-39 1-84 1 18 1 133 1-121 1 31 1-7 1 7 1-6 1-9 1 83 1-64 1 53 1 60 1-255 1 114 1-24 1 86 1 118 1-203 1 74 1-11 1 6 1-168 1 133 1-14 1 10 1-53 1 80 1-83 1 233 1-133 1-103 1 86 1-26 1 20 1 89 1-116 1-73 1 44 1 81 1-4 1-86 1 86 1 22 1 52 1-187 1 126 1 54 1-57 1-147 1 97 1-71 1 43 1 27 1 64 1-108 1-11 1-78 1 189 1-129 1 89 1-24 1-3 1 125 1-300 1 254 1-47 1 29 1 38 1-32 1-82 1 67 1-72 1 92 1-58 1 22 1 69 1-112 1-154 1 155 1 82 1-78 1 52 1-39 1 64 1-80 1 12 1 26 1-58 1-22 1 31 1-35 1-56 1 68 1 15 1-38 1 48 1 36 1 38 1 181 1-253 1 57 1-9 1 37 1-95 1 68 1 131 1-130 1-198 1 184 1-58 1 62 1 45 1 17 1-33 1 47 1-223 1 150 1 18 1-12 1-2 1-99 1 21 1 111 1-47 1-82 1 84 1-6 1 124 1-94 1-176 1 140 1 24 1 28 1-61 1-10 1 58 1-66 1 70 1-46 1-59 1-28 1 291 1-276 1 13 1 71 1-79 1 131 1-104 1-23 1 105 1-20 1 58 1-122 1 24 1 57 1-12 1-100 1 53 1 110 1-46 1-33 1 9 1 9 1 31 1-118 1 13 1 54 1-35 1-29 1 31 1 20 1 216 1-201 1 58 1-149 1-80 1 71 1 63 1-61 1 120 1-43 1-32 1 49 1 149 1-178 1 72 1-109 1 85 1-45 1 21 1-12 1 18 1-84 1 30 1 84 1-88 1 105 1-78 1 70 1-30 1-64 1 130 1-115 1 73 1-28 1 66 1-119 1 67 1-130 1 1 1 158 1-208 1 124 1 8 1 27 1 41 1-84 1 19 1 159 1-200 1 172 1-137 1 134 1-95 1-37 1 3 1 6 1 47 1 6 1-15 1-25 1 3 1 89 1-23 1-90 1-14 1 76 1-92 1 60 1 2 1-14 1-23 1-59 1-7 1 265 1-279 1 178 1-113 1 48 1-131 1 136 1 58 1-101 1 133 1-143 1-88 1 49 1 116 1-120 1 90 1-27 1-80 1 99 1 32 1-87 1 73 1 25 1 18 1-69 1 13 1-11 1-33 1-65 1 169 1-70 1-22 1-112 1 111 1 41 1 38 1-35 1-130 1 134 1-40 1 35 1 41 1-7 1-64 1-21 1 167 1-184 1 109 1-79 1-3 1-13 1 35 1 18 1 45 1-58 1-52 1 101 1-56 1 26 1-17 1 13 1-71 1 5 1-51 1 91 1 120 1-112 1 84 1-129 1 101 1-61 1 104 1-151 1 165 1-215 1 3 1 145 1 56 1 5 1-57 1-2 1-2 1-58 1 45 1-84 1 41 1-105 1 123 1-84 1 66 1 99 1-25 1-23 1-105 1 92 1 20 1-57 1-32 1 161 1-76 1 6 1-39 1 96 1-85 1 8 1-119 1 98 1 11 1 24 1-5 1-52 1 34 1-34 1-75 1 69 1 99 1-39 1-26 1-79 1 127 1-100 1-3 1 108 1-40 1-7 1 55 1-54 1 3 1-87 1 3 1 83 1-54 1 12 1 43 1-63 1-13 1 104 1-22 1 43 1-101 1 101 1-32 1 31 1-61 1 1 1-23 1-94 1 61 1 55 1 30 1-148 1 147 1 10 1-46 1-17 1 35 1 81 1-175 1 79 1-62 1 97 1-23 1-120 1 77 1 142 1-118 1 74 1-81 1 41 1-17 1 29 1 65 1-108 1-70 1 99 1 154 1-178 1-14 1-22 1 114 1-87 1 105 1-50 1 37 1-82 1 35 1-1 1-97 1 73 1 87 1-81 1 27 1-83 1 116 1-148 1 119 1-7 1-13 1-109 1 126 1-11 1-73 1-95 1 79 1 67 1-97 1 16 1 38 1 174 1-102 1-49 1 52 1-74 1 60 1-48 1 66 1-105 1 39 1-158 1 174 1-12 1 75 1-13 1-34 1-48 1 40 1 185 1-171 1-46 1 50 1-47 1 18 1-33 1 93 1-84 1 29 1-84 1 126 1-55 1 6 1 43 1 5 1 44 1-106 1 73 1-174 1 122 1 11 1-6 1-140 1 113 1 110 1-117 1 50 1 109 1-113 1-76 1-13 1 186 1-115 1 102 1-97 1-21 1 57 1-24 1-89 1 17 1 76 1 1 1-7 1 17 1 248 1-355 1 84 1 106 1-41 1-121 1 78 1 45 1-125 1 102 1-21 1-60 1-24 1 51 1 19 1 34 1-97 1 86 1-63 1-21 1-25 1 70 1-80 1 52 1 49 1-38 1 94 1-60 1 209 1-177 1-115 1 25 1 40 1-30 1 60 1-20 1 64 1-112 1 8 1 48 1 38 1-77 1-13 1-153 1 362 1-116 1 49 1-158 1 152 1-79 1-65 1 37 1-20 1 120 1-52 1-93 1 85 1-6 1-117 1 145 1-27 1-60 1-27 1 37 1 117 1-64 1-35 1-8 1 3 1-91 1 60 1-13 1 82 1-18 1-115 1 22 1 124 1-18 1-96 1 60 1 39 1-24 1-64 1 39 1 41 1 8 1-22 1 22 1-139 1 119 1 90 1-120 1 67 1-99 1 47 1 1 1-39 1-34 1 34 1 16 1 43 1 40 1-81 1 9 1 41 1-142 1 80 1 146 1-59 1-36 1-22 1 5 1 73 1-118 1 101 1-229 1 198 1 101 1-98 1 18 1-85 1-11 1-9 1 159 1-170 1-1 1-4 1 77 1-33 1-21 1 39 1 83 1-64 1 1 1-26 1 102 1-76 1 101 1-53 1-71 1-27 1 310 1-233 1 45 1-147 1 37 1 35 1 7 1 51 1 0 1-16 1-111 1 99 1 39 1-59 1-61 1 63 1 8 1-47 1 135 1-76 1 9 1-88 1-111 1 109 1-2 1-1 1 99 1-99 1 40 1-15 1 69 1 15 1-31 1-26 1-15 1-32 1 42 1-21 1 16 1 26 1 4 1-70 1 39 1 213 1-191 1-71 1 14 1 198 1-221 1 57 1 63 1-118 1-3 1 50 1-18 1 75 1-53 1 28 1-40 1-5 1-85 1 180 1 25 1-60 1-43 1-34 1 91 1-84 1 37 1 8 1 76 1-10 1-253 1 51 1 181 1 89 1-54 1-140 1 133 1-59 1-55 1 61 1-20 1 6 1-3 1-32 1-260 1 347 1-33 1-105 1 79 1 8 1-121 1 100 1 40 1-59 1 55 1 98 1-142 1 15 1 55 1-78 1 4 1 81 1-125 1 96 1-202 1 202 1-80 1 125 1-95 1 16 1 115 1-114 1 64 1-42 1-67 1-24 1 150 1-17 1-116 1 42 1 16 1 56 1-42 1 4 1-13 1-55 1 24 1 40 1 41 1-132 1 104 1-18 1 13 1-20 1 35 1-81 1 102 1-125 1 146 1-51 1-171 1 120 1 42 1-52 1-1 1 5 1 58 1 40 1-89 1 87 1-29 1 19 1-37 1-227 1 202 1 90 1-136 1 144 1-127" fill="none" stroke="#bb00bf" stroke-width="0.6" vector-effect="non-scaling-stroke" stroke-linejoin="round" /></g><path d="M54.2 108.5v-2.5M54.2 8.5v2.5M116.35 108.5v-2.5M116.35 8.5v2.5M178.5 108.5v-2.5M178.5 8.5v2.5M240.65 108.5v-2.5M240.65 8.5v2.5M302.8 108.5v-2.5M302.8 8.5v2.5M364.95 108.5v-2.5M364.95 8.5v2.5M427.1 108.5v-2.5M427.1 8.5v2.5M489.25 108.5v-2.5M489.25 8.5v2.5M47.0 101.3h3M545.0 101.3h-3M47.0 65.4h3M545.0 65.4h-3M47.0 29.5h3M545.0 29.5h-3M47.0 108.48h1.8M545.0 108.48h-1.8M47.0 101.3h1.8M545.0 101.3h-1.8M47.0 94.12h1.8M545.0 94.12h-1.8M47.0 86.94h1.8M545.0 86.94h-1.8M47.0 79.76h1.8M545.0 79.76h-1.8M47.0 72.58h1.8M545.0 72.58h-1.8M47.0 65.4h1.8M545.0 65.4h-1.8M47.0 58.22h1.8M545.0 58.22h-1.8M47.0 51.04h1.8M545.0 51.04h-1.8M47.0 43.86h1.8M545.0 43.86h-1.8M47.0 36.68h1.8M545.0 36.68h-1.8M47.0 29.5h1.8M545.0 29.5h-1.8M47.0 22.32h1.8M545.0 22.32h-1.8M47.0 15.14h1.8M545.0 15.14h-1.8" stroke="#111" stroke-width="1" fill="none"/><rect x="47.0" y="8.5" width="498" height="100.0" fill="none" stroke="#111" stroke-width="1"/><text x="44.1" y="105.1" font-size="10" text-anchor="end" fill="#000">1300</text><text x="44.1" y="69.2" font-size="10" text-anchor="end" fill="#000">1400</text><text x="44.1" y="33.3" font-size="10" text-anchor="end" fill="#000">1500</text><path d="M54.2 212.5v-2.5M54.2 112.5v2.5M116.35 212.5v-2.5M116.35 112.5v2.5M178.5 212.5v-2.5M178.5 112.5v2.5M240.65 212.5v-2.5M240.65 112.5v2.5M302.8 212.5v-2.5M302.8 112.5v2.5M364.95 212.5v-2.5M364.95 112.5v2.5M427.1 212.5v-2.5M427.1 112.5v2.5M489.25 212.5v-2.5M489.25 112.5v2.5M47.0 204.5h3M545.0 204.5h-3M47.0 166h3M545.0 166h-3M47.0 127.5h3M545.0 127.5h-3M47.0 212.2h1.8M545.0 212.2h-1.8M47.0 204.5h1.8M545.0 204.5h-1.8M47.0 196.8h1.8M545.0 196.8h-1.8M47.0 189.1h1.8M545.0 189.1h-1.8M47.0 181.4h1.8M545.0 181.4h-1.8M47.0 173.7h1.8M545.0 173.7h-1.8M47.0 166h1.8M545.0 166h-1.8M47.0 158.3h1.8M545.0 158.3h-1.8M47.0 150.6h1.8M545.0 150.6h-1.8M47.0 142.9h1.8M545.0 142.9h-1.8M47.0 135.2h1.8M545.0 135.2h-1.8M47.0 127.5h1.8M545.0 127.5h-1.8M47.0 119.8h1.8M545.0 119.8h-1.8" stroke="#111" stroke-width="1" fill="none"/><rect x="47.0" y="112.5" width="498" height="100.0" fill="none" stroke="#111" stroke-width="1"/><text x="44.1" y="208.3" font-size="10" text-anchor="end" fill="#000">95</text><text x="44.1" y="169.8" font-size="10" text-anchor="end" fill="#000">100</text><text x="44.1" y="131.3" font-size="10" text-anchor="end" fill="#000">105</text><path d="M49.4 358.9v-2.5M49.4 258.75v2.5M111.7 358.9v-2.5M111.7 258.75v2.5M174 358.9v-2.5M174 258.75v2.5M236.3 358.9v-2.5M236.3 258.75v2.5M298.6 358.9v-2.5M298.6 258.75v2.5M360.9 358.9v-2.5M360.9 258.75v2.5M423.2 358.9v-2.5M423.2 258.75v2.5M485.5 358.9v-2.5M485.5 258.75v2.5M47.0 348.2h3M545.0 348.2h-3M47.0 312.4h3M545.0 312.4h-3M47.0 276.6h3M545.0 276.6h-3M47.0 355.36h1.8M545.0 355.36h-1.8M47.0 348.2h1.8M545.0 348.2h-1.8M47.0 341.04h1.8M545.0 341.04h-1.8M47.0 333.88h1.8M545.0 333.88h-1.8M47.0 326.72h1.8M545.0 326.72h-1.8M47.0 319.56h1.8M545.0 319.56h-1.8M47.0 312.4h1.8M545.0 312.4h-1.8M47.0 305.24h1.8M545.0 305.24h-1.8M47.0 298.08h1.8M545.0 298.08h-1.8M47.0 290.92h1.8M545.0 290.92h-1.8M47.0 283.76h1.8M545.0 283.76h-1.8M47.0 276.6h1.8M545.0 276.6h-1.8M47.0 269.44h1.8M545.0 269.44h-1.8M47.0 262.28h1.8M545.0 262.28h-1.8" stroke="#111" stroke-width="1" fill="none"/><rect x="47.0" y="258.75" width="498" height="100.14999999999998" fill="none" stroke="#111" stroke-width="1"/><text x="44.1" y="352" font-size="10" text-anchor="end" fill="#000">1400</text><text x="44.1" y="316.2" font-size="10" text-anchor="end" fill="#000">1500</text><text x="44.1" y="280.4" font-size="10" text-anchor="end" fill="#000">1600</text><path d="M49.4 463.0v-2.5M49.4 362.9v2.5M111.7 463.0v-2.5M111.7 362.9v2.5M174 463.0v-2.5M174 362.9v2.5M236.3 463.0v-2.5M236.3 362.9v2.5M298.6 463.0v-2.5M298.6 362.9v2.5M360.9 463.0v-2.5M360.9 362.9v2.5M423.2 463.0v-2.5M423.2 362.9v2.5M485.5 463.0v-2.5M485.5 362.9v2.5M47.0 455.4h3M545.0 455.4h-3M47.0 416.9h3M545.0 416.9h-3M47.0 378.4h3M545.0 378.4h-3M47.0 455.4h1.8M545.0 455.4h-1.8M47.0 447.7h1.8M545.0 447.7h-1.8M47.0 440h1.8M545.0 440h-1.8M47.0 432.3h1.8M545.0 432.3h-1.8M47.0 424.6h1.8M545.0 424.6h-1.8M47.0 416.9h1.8M545.0 416.9h-1.8M47.0 409.2h1.8M545.0 409.2h-1.8M47.0 401.5h1.8M545.0 401.5h-1.8M47.0 393.8h1.8M545.0 393.8h-1.8M47.0 386.1h1.8M545.0 386.1h-1.8M47.0 378.4h1.8M545.0 378.4h-1.8M47.0 370.7h1.8M545.0 370.7h-1.8M47.0 363h1.8M545.0 363h-1.8" stroke="#111" stroke-width="1" fill="none"/><rect x="47.0" y="362.9" width="498" height="100.10000000000002" fill="none" stroke="#111" stroke-width="1"/><text x="44.1" y="459.2" font-size="10" text-anchor="end" fill="#000">95</text><text x="44.1" y="420.7" font-size="10" text-anchor="end" fill="#000">100</text><text x="44.1" y="382.2" font-size="10" text-anchor="end" fill="#000">105</text><text x="296" y="22.8" font-size="13.8" fill="#000">ON-GROUND GAMMA &gt;30keV</text><text x="296" y="126.8" font-size="13.8" fill="#000">BOREHOLE GAMMA &gt;30keV</text><text x="296" y="272.8" font-size="13.8" fill="#000">ON-GROUND GAMMA &gt;30keV</text><text x="296" y="376.8" font-size="13.8" fill="#000">BOREHOLE GAMMA &gt;30keV</text><text transform="translate(55 230.9) rotate(-15)" font-size="10" text-anchor="middle" fill="#000">17Feb2018</text><text transform="translate(117.15 230.9) rotate(-15)" font-size="10" text-anchor="middle" fill="#000">19Feb2018</text><text transform="translate(179.3 230.9) rotate(-15)" font-size="10" text-anchor="middle" fill="#000">21Feb2018</text><text transform="translate(241.45 230.9) rotate(-15)" font-size="10" text-anchor="middle" fill="#000">23Feb2018</text><text transform="translate(303.6 230.9) rotate(-15)" font-size="10" text-anchor="middle" fill="#000">25Feb2018</text><text transform="translate(365.75 230.9) rotate(-15)" font-size="10" text-anchor="middle" fill="#000">27Feb2018</text><text transform="translate(427.9 230.9) rotate(-15)" font-size="10" text-anchor="middle" fill="#000">01Mar2018</text><text transform="translate(490.05 230.9) rotate(-15)" font-size="10" text-anchor="middle" fill="#000">03Mar2018</text><text transform="translate(50.2 480.5) rotate(-15)" font-size="10" text-anchor="middle" fill="#000">17Jun2018</text><text transform="translate(112.5 480.5) rotate(-15)" font-size="10" text-anchor="middle" fill="#000">18Jun2018</text><text transform="translate(174.8 480.5) rotate(-15)" font-size="10" text-anchor="middle" fill="#000">20Jun2018</text><text transform="translate(237.1 480.5) rotate(-15)" font-size="10" text-anchor="middle" fill="#000">22Jun2018</text><text transform="translate(299.4 480.5) rotate(-15)" font-size="10" text-anchor="middle" fill="#000">24Jun2018</text><text transform="translate(361.7 480.5) rotate(-15)" font-size="10" text-anchor="middle" fill="#000">26Jun2018</text><text transform="translate(424 480.5) rotate(-15)" font-size="10" text-anchor="middle" fill="#000">28Jun2018</text><text transform="translate(486.3 480.5) rotate(-15)" font-size="10" text-anchor="middle" fill="#000">30Jun2018</text><text x="295.6" y="251.8" font-size="12.4" text-anchor="middle" fill="#000" xml:space="preserve">Date / Time,   UT</text><text x="295.4" y="501.9" font-size="12.4" text-anchor="middle" fill="#000" xml:space="preserve">Date / Time,   UT</text><text transform="translate(15.2 108.9) rotate(-90)" font-size="12.4" text-anchor="middle" fill="#000" xml:space="preserve">Pulse  counting  rate,  p.p.s.</text><text transform="translate(15.2 359.5) rotate(-90)" font-size="12.4" text-anchor="middle" fill="#000" xml:space="preserve">Pulse  counting  rate,  p.p.s.</text></svg>
</body></html>
